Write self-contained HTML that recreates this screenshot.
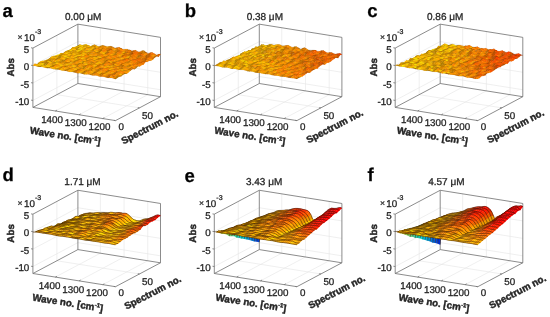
<!DOCTYPE html>
<html><head><meta charset="utf-8"><style>
html,body{margin:0;padding:0;background:#fff;width:550px;height:317px;overflow:hidden}
svg{display:block;filter:blur(0.4px)}
text{text-rendering:geometricPrecision}
text{font-family:"Liberation Sans",Arial,sans-serif;fill:#262626;stroke:#262626;stroke-width:0.3px}
.tk{font-size:9.8px}
.tt{font-size:10px}
.pl{font-size:18.5px;font-weight:bold;fill:#000}
.al{font-size:9.8px;font-weight:bold;stroke-width:0.42px}
.sup{font-size:7px}
.sup2{font-size:6px}
.tm{fill:#666;font-size:8.6px}
.ed{fill:none;stroke:#2a0c00;stroke-opacity:0.85;stroke-width:0.6}
.ed2{fill:none;stroke:#3a1200;stroke-opacity:0.3;stroke-width:0.4}
</style></head><body>
<svg width="550" height="317" viewBox="0 0 550 317">
<rect width="550" height="317" fill="#fff"/>
<g>
<line x1="32.9" y1="65.52" x2="77.9" y2="41.62" stroke="#e4e4e4" stroke-width="0.6"/>
<line x1="77.9" y1="41.62" x2="160.5" y2="54.82" stroke="#e4e4e4" stroke-width="0.6"/>
<line x1="32.9" y1="82.97" x2="77.9" y2="59.07" stroke="#e4e4e4" stroke-width="0.6"/>
<line x1="77.9" y1="59.07" x2="160.5" y2="72.27" stroke="#e4e4e4" stroke-width="0.6"/>
<line x1="32.9" y1="100.42" x2="77.9" y2="76.52" stroke="#e4e4e4" stroke-width="0.6"/>
<line x1="77.9" y1="76.52" x2="160.5" y2="89.72" stroke="#e4e4e4" stroke-width="0.6"/>
<line x1="100.37" y1="87.09" x2="100.37" y2="27.76" stroke="#e4e4e4" stroke-width="0.6"/>
<line x1="55.37" y1="110.99" x2="100.37" y2="87.09" stroke="#e4e4e4" stroke-width="0.6"/>
<line x1="124.07" y1="90.88" x2="124.07" y2="31.55" stroke="#e4e4e4" stroke-width="0.6"/>
<line x1="79.07" y1="114.78" x2="124.07" y2="90.88" stroke="#e4e4e4" stroke-width="0.6"/>
<line x1="147.78" y1="94.67" x2="147.78" y2="35.34" stroke="#e4e4e4" stroke-width="0.6"/>
<line x1="102.78" y1="118.57" x2="147.78" y2="94.67" stroke="#e4e4e4" stroke-width="0.6"/>
<line x1="56.89" y1="94.66" x2="56.89" y2="35.33" stroke="#e4e4e4" stroke-width="0.6"/>
<line x1="56.89" y1="94.66" x2="139.49" y2="107.86" stroke="#e4e4e4" stroke-width="0.6"/>
<line x1="32.9" y1="107.4" x2="115.5" y2="120.6" stroke="#6e6e6e" stroke-width="0.8"/>
<line x1="115.5" y1="120.6" x2="160.5" y2="96.7" stroke="#6e6e6e" stroke-width="0.8"/>
<line x1="160.5" y1="96.7" x2="77.9" y2="83.5" stroke="#6e6e6e" stroke-width="0.8"/>
<line x1="77.9" y1="83.5" x2="32.9" y2="107.4" stroke="#6e6e6e" stroke-width="0.8"/>
<line x1="32.9" y1="107.4" x2="32.9" y2="48.07" stroke="#6e6e6e" stroke-width="0.8"/>
<line x1="77.9" y1="83.5" x2="77.9" y2="24.17" stroke="#6e6e6e" stroke-width="0.8"/>
<line x1="160.5" y1="96.7" x2="160.5" y2="37.37" stroke="#6e6e6e" stroke-width="0.8"/>
<line x1="32.9" y1="48.07" x2="77.9" y2="24.17" stroke="#6e6e6e" stroke-width="0.8"/>
<line x1="77.9" y1="24.17" x2="160.5" y2="37.37" stroke="#6e6e6e" stroke-width="0.8"/>
<line x1="55.37" y1="110.99" x2="56.94" y2="110.15" stroke="#6e6e6e" stroke-width="0.8"/>
<text x="52.07" y="122.69" text-anchor="middle" class="tk">1400</text>
<line x1="79.07" y1="114.78" x2="80.65" y2="113.94" stroke="#6e6e6e" stroke-width="0.8"/>
<text x="75.77" y="126.48" text-anchor="middle" class="tk">1300</text>
<line x1="102.78" y1="118.57" x2="104.35" y2="117.73" stroke="#6e6e6e" stroke-width="0.8"/>
<text x="99.48" y="130.27" text-anchor="middle" class="tk">1200</text>
<line x1="115.5" y1="120.6" x2="113.85" y2="120.34" stroke="#6e6e6e" stroke-width="0.8"/>
<text x="121.3" y="130.1" text-anchor="middle" class="tk">0</text>
<line x1="139.49" y1="107.86" x2="137.83" y2="107.6" stroke="#6e6e6e" stroke-width="0.8"/>
<text x="147.49" y="118.86" text-anchor="middle" class="tk">50</text>
<line x1="32.9" y1="48.07" x2="31.08" y2="47.78" stroke="#6e6e6e" stroke-width="0.8"/>
<text x="29.3" y="52.67" text-anchor="end" class="tk">5</text>
<line x1="32.9" y1="65.52" x2="31.08" y2="65.23" stroke="#6e6e6e" stroke-width="0.8"/>
<text x="29.3" y="70.12" text-anchor="end" class="tk">0</text>
<line x1="32.9" y1="82.97" x2="31.08" y2="82.68" stroke="#6e6e6e" stroke-width="0.8"/>
<text x="29.3" y="87.57" text-anchor="end" class="tk">-5</text>
<line x1="32.9" y1="100.42" x2="31.08" y2="100.13" stroke="#6e6e6e" stroke-width="0.8"/>
<text x="29.3" y="105.02" text-anchor="end" class="tk">-10</text>
<path d="M75.8 48.8l2.3-3.4 2.1-1.1-2.4 2.5z" fill="#aa1"/>
<path d="M77.8 45.8l2.5-1.2 2 .7-2.4-1.1z" fill="#ea0"/>
<path d="M79.9 44.8l2.4.9 2.1-.8-2.5.6z" fill="#b80"/>
<path d="M81.9 45.5l2.4.8 2.1-2-2.4.3z" fill="#da0"/>
<path d="M84 46.1l2.5-.1 2-.4-2.4-1.5z" fill="#fc0"/>
<path d="M86.1 45.7l2.4-.7 2.1 1.7-2.5-1.4z" fill="#b80"/>
<path d="M88.1 45.2l2.4 1.7 2.1-1.5-2.4 1.5z" fill="#b80"/>
<path d="M90.2 46.7l2.4.8 2.1-2.9-2.4.6z" fill="#c90"/>
<path d="M92.3 47.4l2.4-.7 2.1-.9-2.4-1.4z" fill="#e90"/>
<path d="M94.3 46.4l2.5-.6 2 .9-2.4-1.2z" fill="#b80"/>
<path d="M96.4 46l2.4 1.1 2.1-1.1-2.5.9z" fill="#b80"/>
<path d="M98.4 46.9l2.4.9 2.1-2.6-2.4.6z" fill="#c80"/>
<path d="M100.5 47.6l2.4-.1 2.1-1.6-2.3-.9z" fill="#d80"/>
<path d="M102.6 47.3l2.5-.1 2-.4-2.4-1.1z" fill="#e80"/>
<path d="M104.6 46.9l2.4 1.6 2.2-2.1-2.5.1z" fill="#fa0"/>
<path d="M106.7 48.2l2.4 1.3 2.1-3.4-2.4.1z" fill="#d80"/>
<path d="M108.8 49.4l2.4-.6 2.1-1.7-2.4-1.2z" fill="#c70"/>
<path d="M110.8 48.5l2.7-.4 1.9.2-2.4-1.4z" fill="#e80"/>
<path d="M112.9 48l2.4 1.2 2.1-1.6-2.6.7z" fill="#b60"/>
<path d="M115 49l2.3 1.1 2.2-2.9-2.4.2z" fill="#d70"/>
<path d="M117.1 49.9l2.4-.6 2.1-.6-2.4-1.7z" fill="#f80"/>
<path d="M119.1 49l2.5-.4 2 1.4-2.4-1.5z" fill="#b60"/>
<path d="M121.2 48.8l2.4 1.3 2.1-.8-2.4.9z" fill="#b60"/>
<path d="M123.2 49.8l2.4 1.2 2.1-1.8-2.4-.2z" fill="#f90"/>
<path d="M125.3 50.8l2.5-.3 2 0-2.4-1.6z" fill="#e80"/>
<path d="M127.4 50.3l2.4-.5 2.1 1.6-2.6-1.1z" fill="#b60"/>
<path d="M129.4 50l2.4 1.5 2.2-1.1-2.5 1.1z" fill="#b60"/>
<path d="M131.5 51.2l2.4.8 2.1-1.7-2.4-.1z" fill="#e70"/>
<path d="M133.6 51.8l2.6-.5 1.9.6-2.4-1.8z" fill="#e70"/>
<path d="M135.6 51.2l2.5 1 2-.2-2.6-.1z" fill="#b60"/>
<path d="M137.7 51.9l2.4 2.3 2.1-3.5-2.5 1.1z" fill="#f80"/>
<path d="M139.8 54l2.3 1.1 2.1-4.6-2.3.1z" fill="#c70"/>
<path d="M141.9 55l2.3-1.1 2.1-1.5-2.3-1.9z" fill="#c70"/>
<path d="M143.9 53.7l2.5-.9 2 .7-2.4-1.4z" fill="#b60"/>
<path d="M145.9 52.9l2.4 1.6 2.2-1.7-2.6.9z" fill="#b60"/>
<path d="M148 54.3l2.4 1.1 2.1-3.1-2.4.3z" fill="#d60"/>
<path d="M150.1 55.2l2.4-.2 2.1-1.1-2.4-1.7z" fill="#f70"/>
<path d="M152.1 54.7l2.5.4 2.1 0-2.4-1.5z" fill="#f70"/>
<path d="M154.2 54.8l2.4 1.4 2.1-2-2.6 1z" fill="#d70"/>
<path d="M156.3 56l2.3.9 2.2-3-2.4.1z" fill="#d60"/>
<path class="ed2" d="M77.9 46.5l2.1-2 2 .8 2.1-.4 2.1-.5 2 1.2 2.1 1 2.1-1.1 2-.8 2.1 1.1 2.1.8 2-.5 2.1-.8 2 .7 2.1.8 2.1-.3 2-.3 2.1 1 2.1 1 2-.5 2.1-.4 2.1 1.4 2 1.2 2.1-.6 2.1-.1 2 1.3 2.1.7 2.1-.7 2-.1 2.1 1.4 2 .2 2.1-1.1 2.1-.1 2 1.6 2.1 1.1 2.1-.6 2-.4 2.1 1.4 2.1 1.2 2-.8 2.1-.3"/>
<path d="M73.9 49.5l2.3-3.1 2.1-.9-2.3 3.4z" fill="#bc2"/>
<path d="M75.9 46.9l2.5-.5 2-1.7-2.5.7z" fill="#b80"/>
<path d="M78 46.2l2.4 1.1 2.1-1.9-2.4-.8z" fill="#fc0"/>
<path d="M80.1 47.1l2.3.5 2.2-1.7-2.4-.8z" fill="#fc0"/>
<path d="M82.1 47.5l2.5-.6 2-1.3-2.4.1z" fill="#b80"/>
<path d="M84.2 46.7l2.4 0 2.1-1.5-2.4.2z" fill="#c80"/>
<path d="M86.2 46.5l2.4 1.1 2.2-1-2.4-1.6z" fill="#fb0"/>
<path d="M88.3 47.4l2.4.6 2.1-.8-2.4-.9z" fill="#fb0"/>
<path d="M90.4 47.8l2.6-.6 1.9-.9-2.5 1.2z" fill="#c80"/>
<path d="M92.4 47.2l2.4.5 2.2-1.8-2.5.2z" fill="#d80"/>
<path d="M94.5 47.4l2.4 1.1 2.1-1.7-2.4-1.1z" fill="#fb0"/>
<path d="M96.6 48.3l2.4-.1 2.1-.7-2.4-1z" fill="#e90"/>
<path d="M98.6 48l2.5-1.1 2.1.2-2.7.5z" fill="#b70"/>
<path d="M100.7 47.1l2.4 1.4 2.1-1.7-2.5.1z" fill="#e80"/>
<path d="M102.8 48.2l2.3 1.6 2.2-1.6-2.4-1.6z" fill="#f90"/>
<path d="M104.8 49.5l2.6-1 2 .8-2.4-1.4z" fill="#b70"/>
<path d="M106.9 48.8l2.4-.9 2.1.5-2.4 1.1z" fill="#c80"/>
<path d="M109 48.2l2.4 1.4 2.1-1.7-2.7.4z" fill="#e80"/>
<path d="M111 49.3l2.4 1.6 2.2-2.1-2.4-1.1z" fill="#f90"/>
<path d="M113.1 50.7l2.4.1 2.1-1.1-2.4-1.1z" fill="#fa0"/>
<path d="M115.2 50.6l2.4-.3 2.1-1.4-2.6.7z" fill="#c70"/>
<path d="M117.2 50.1l2.4 1 2.1-2.3-2.4-.1z" fill="#f80"/>
<path d="M119.3 50.9l2.4 1 2.1-2.1-2.4-1.2z" fill="#f80"/>
<path d="M121.4 51.7l2.4.2 2.1-1.2-2.4-1.2z" fill="#f90"/>
<path d="M123.4 51.6l2.4.8 2.1-2.2-2.4.2z" fill="#d70"/>
<path d="M125.5 52.2l2.4 1 2.1-3.3-2.4.1z" fill="#d70"/>
<path d="M127.6 53.1l2.3.1 2.2-2.1-2.4-1.3z" fill="#e70"/>
<path d="M129.6 53l2.7-1.1 1.8-.2-2.4-.8z" fill="#b60"/>
<path d="M131.7 51.9l2.5.3 2-1-2.6.6z" fill="#b50"/>
<path d="M133.7 51.9l2.4 1.3 2.2-1.3-2.4-.9z" fill="#f70"/>
<path d="M135.8 52.9l2.4.8 2.1.3-2.4-2.4z" fill="#f70"/>
<path d="M137.9 53.3l2.4-.7 2.1 2.4-2.6-.9z" fill="#b60"/>
<path d="M140 52.8l2.6.9 1.9-.1-2.4 1.5z" fill="#b60"/>
<path d="M142 53.7l2.4 2.2 2.1-3-2.4.4z" fill="#f90"/>
<path d="M144.1 55.7l2.4 0 2.1-1.5-2.4-1.5z" fill="#f80"/>
<path d="M146.1 55.4l2.5-1 2.1.7-2.4-1.2z" fill="#b60"/>
<path d="M148.2 54.6l2.4 1.2 2.1-1.1-2.5.6z" fill="#b50"/>
<path d="M150.3 55.6l2.3 1.4 2.2-2.3-2.4-.3z" fill="#f90"/>
<path d="M152.3 56.8l2.4 0 2.2-.9-2.4-1.4z" fill="#f90"/>
<path d="M154.4 56.6l2.6-.6 1.9.6-2.4-1z" fill="#b60"/>
<path class="ed2" d="M76 48.6l2.1-2.9 2.1-.8 2 .5 2.1.6 2.1-.3 2-.4 2.1 1.3 2 .6 2.1-.8 2.1-.4 2 .8 2.1.7 2.1-.3 2-.3 2.1 1.3 2.1 1 2-.7 2.1-.5 2.1.9 2 .9 2.1-.8 2.1-.1 2 .9 2.1.9 2-.4 2.1-.2 2.1 1.1 2 .5 2.1-.4 2.1.6 2 2 2.1.9 2.1-1.2 2-.6 2.1 1.2 2.1.9 2-.4 2.1.1 2.1 1.1 2 .7"/>
<path d="M72 49.2l2.4-2.2 2.1-.4-2.4 3z" fill="#bb1"/>
<path d="M74 47.3l2.4.8 2.2-2.1-2.5.5z" fill="#fb0"/>
<path d="M76.1 47.9l2.5-.3 2-.6-2.4-1.1z" fill="#fc0"/>
<path d="M78.2 47.4l2.4-.9 2.1.9-2.6-.6z" fill="#b80"/>
<path d="M80.2 46.7l2.4 1.3 2.2-1.4-2.5 1z" fill="#b80"/>
<path d="M82.3 47.8l2.4 1 2.1-2.5-2.4 0z" fill="#fb0"/>
<path d="M84.4 48.7l2.4-.4 2.1-1-2.4-1.1z" fill="#ea0"/>
<path d="M86.4 48.1l2.6 0 2-.4-2.5-.6z" fill="#b80"/>
<path d="M88.5 47.9l2.4 1 2.1-1.9-2.5.4z" fill="#d90"/>
<path d="M90.6 48.7l2.3.8 2.2-2.2-2.4-.5z" fill="#fb0"/>
<path d="M92.7 49.3l2.6-1 1.9-.1-2.4-1.1z" fill="#d90"/>
<path d="M94.7 48.3l2.5.2 2-.6-2.6.5z" fill="#b70"/>
<path d="M96.8 48.3l2.3 1.4 2.2-2.7-2.5.6z" fill="#e80"/>
<path d="M98.8 49.5l2.4 0 2.2-1.4-2.4-1.3z" fill="#f90"/>
<path d="M100.9 49.2l2.4-1.1 2.1 1.4-2.4-1.6z" fill="#b70"/>
<path d="M103 48.3l2.4 1.3 2.1-.9-2.4 1z" fill="#b60"/>
<path d="M105 49.3l2.4 1.3 2.1-2.5-2.4.4z" fill="#e80"/>
<path d="M107.1 50.4l2.4-.5 2.1-.6-2.4-1.4z" fill="#e70"/>
<path d="M109.1 49.6l2.5.8 2.1.3-2.4-1.7z" fill="#b60"/>
<path d="M111.2 50l2.4 1.9 2.1-1.5-2.5 0z" fill="#f90"/>
<path d="M113.3 51.7l2.4.9 2.1-2.7-2.4.3z" fill="#d80"/>
<path d="M115.4 52.4l2.4-.5 2.1-1.1-2.4-1.1z" fill="#c70"/>
<path d="M117.4 51.6l2.5.2 2-.2-2.4-1z" fill="#b60"/>
<path d="M119.5 51.5l2.4 1.5 2.1-1.5-2.5-.2z" fill="#f80"/>
<path d="M121.5 52.8l2.4.8 2.2-1.5-2.4-.8z" fill="#fb0"/>
<path d="M123.6 53.4l2.6-.8 1.9.3-2.4-1.1z" fill="#b70"/>
<path d="M125.7 52.7l2.5.7 2-.5-2.7 0z" fill="#b60"/>
<path d="M127.7 53.1l2.4 1.2 2.1-2.5-2.5.9z" fill="#c70"/>
<path d="M129.8 54.2l2.4-.5 2.1-1.9-2.4-.2z" fill="#b60"/>
<path d="M131.9 53.5l2.4 0 2.1-.6-2.4-1.3z" fill="#f70"/>
<path d="M133.9 53.2l2.4 1.9 2.2-1.7-2.4-.8z" fill="#f70"/>
<path d="M136 54.9l2.4 1.3 2.1-3.4-2.4.3z" fill="#d70"/>
<path d="M138.1 56l2.4-.5 2.1-1.8-2.4-1.1z" fill="#c60"/>
<path d="M140.1 55.2l2.4.5 2.1-.1-2.3-2.1z" fill="#f70"/>
<path d="M142.2 55.4l2.4 1.9 2.1-2-2.4 0z" fill="#f90"/>
<path d="M144.3 57.2l2.3.3 2.1-3-2.3.6z" fill="#b60"/>
<path d="M146.4 57.3l2.3-.6 2.1-1.2-2.3-1.1z" fill="#c60"/>
<path d="M148.4 56.4l2.4.8 2.1-.5-2.4-1.5z" fill="#f70"/>
<path d="M150.4 56.9l2.4 1.4 2.2-1.8-2.5-.1z" fill="#f90"/>
<path d="M152.5 58.2l2.4-.5 2.1-1.6-2.4.1z" fill="#b60"/>
<path class="ed2" d="M74.2 49.3l2-2.6 2.1-.5 2 .8 2.1.3 2.1-.7 2-.1 2.1.8 2.1.4 2-.6 2.1.3 2.1.8 2-.3 2.1-.8 2.1 1.1 2 1.3 2.1-.7 2.1-.6 2 1.1 2.1 1.3 2-.1 2.1-.5 2.1.8 2 .8 2.1 0 2.1.5 2 .8 2.1 0 2.1-1 2 0 2.1 1 2.1.5 2-.5 2.1.9 2.1 1.8 2-.2 2.1-.7 2.1.8 2 1.2 2.1-.2 2.1-.3"/>
<path d="M70.2 50.1l2.3-2.8 2.1-.2-2.4 2.2z" fill="#cb1"/>
<path d="M72.2 47.5l2.4 1.2 2.1-.9-2.4-.8z" fill="#fb0"/>
<path d="M74.2 48.5l2.4.6 2.2-1.9-2.5.3z" fill="#d90"/>
<path d="M76.3 48.9l2.4-.4 2.1-1.9-2.4.4z" fill="#b80"/>
<path d="M78.4 48.2l2.4 1.1 2.1-1.6-2.4-1.2z" fill="#fc0"/>
<path d="M80.4 49l2.4 1.5 2.2-2-2.4-1.1z" fill="#fc0"/>
<path d="M82.5 50.4l2.7-1.4 1.8-1.1-2.4.3z" fill="#c90"/>
<path d="M84.6 49l2.4-1.3 2.1.1-2.5 0z" fill="#c80"/>
<path d="M86.6 47.9l2.4 1.6 2.2-.8-2.5-1.1z" fill="#fa0"/>
<path d="M88.7 49.1l2.4 2 2.1-1.9-2.4-.9z" fill="#fb0"/>
<path d="M90.8 50.9l2.4-.5 2-2.3-2.3.8z" fill="#b80"/>
<path d="M92.9 50.2l2.4-.6 2-1.4-2.3-.2z" fill="#b70"/>
<path d="M94.9 49.3l2.4 1.9 2.1-1.8-2.4-1.4z" fill="#f90"/>
<path d="M97 51l2.3.6 2.2-2.6-2.4.1z" fill="#d80"/>
<path d="M99.1 51.5l2.4-1.1 2-2.2-2.4.7z" fill="#b70"/>
<path d="M101.1 50.2l2.4.1 2.1-1-2.4-1.2z" fill="#f90"/>
<path d="M103.1 50l2.4 1.7 2.2-1.4-2.4-1.3z" fill="#f80"/>
<path d="M105.2 51.5l2.4.4 2.1-2.4-2.4.5z" fill="#b70"/>
<path d="M107.3 51.8l2.4-.8 2.1-1-2.4-.7z" fill="#b60"/>
<path d="M109.3 50.7l2.4 1.6 2.2-.6-2.4-1.9z" fill="#f80"/>
<path d="M111.4 52l2.4 1.9 2.1-1.6-2.4-1z" fill="#f90"/>
<path d="M113.5 53.8l2.4-.5 2.1-1.9-2.4.6z" fill="#c80"/>
<path d="M115.6 53.1l2.6-1 1.9-.7-2.5-.1z" fill="#c70"/>
<path d="M117.6 52l2.4 1.5 2.1-.7-2.4-1.6z" fill="#f70"/>
<path d="M119.7 53.2l2.4 1.4 2.1-1.3-2.4-.9z" fill="#f90"/>
<path d="M121.7 54.4l2.4.1 2.1-1.9-2.4.4z" fill="#b70"/>
<path d="M123.8 54.3l2.4.1 2.1-1.3-2.4-.7z" fill="#d70"/>
<path d="M125.9 54.1l2.4.9 2.1-1-2.4-1.2z" fill="#f90"/>
<path d="M127.9 54.8l2.4.4 2.1-1.9-2.4.4z" fill="#b60"/>
<path d="M130 55l2.4-.3 2.1-1.6-2.4 0z" fill="#b50"/>
<path d="M132.1 54.4l2.3 1.3 2.2-.9-2.4-1.9z" fill="#f70"/>
<path d="M134.1 55.4l2.4 2.2 2.2-1.7-2.4-1.4z" fill="#f80"/>
<path d="M136.2 57.4l2.4.2 2.1-2.5-2.4.5z" fill="#b70"/>
<path d="M138.3 57.5l2.4-.9 2.1-1.2-2.4-.5z" fill="#b60"/>
<path d="M140.3 56.3l2.4.8 2.1 0-2.3-1.9z" fill="#f70"/>
<path d="M142.4 56.7l2.4 1.7 2.1-1.2-2.5-.5z" fill="#f80"/>
<path d="M144.5 58.2l2.3.2 2.1-2.2-2.4.7z" fill="#b60"/>
<path d="M146.5 58.2l2.5-.3 2-1-2.4-.8z" fill="#c60"/>
<path d="M148.6 57.5l2.4 1.4 2.1-.8-2.4-1.5z" fill="#f70"/>
<path d="M150.6 58.7l2.4 1 2.1-2.4-2.4.5z" fill="#d70"/>
<path class="ed2" d="M72.3 49l2-1.7 2.1.5 2.1-.5 2-.5 2.1.9 2.1.8 2-.5 2.1-.1 2.1.7 2 .6 2.1-.9 2.1 0 2 1.1 2.1-.2 2-.8 2.1.9 2.1 1 2-.7 2.1.5 2.1 1.5 2 .7 2.1-.7 2.1-.1 2 1.2 2.1.6 2.1-.6 2 .4 2.1.9 2.1-.6 2-.2 2.1 1.6 2.1 1.1 2-.7 2.1.2 2 1.6 2.1.2 2.1-.8 2 .5 2.1 1.1 2.1-.5"/>
<path d="M68.3 51.3l2.6-1.6 1.8-2.4-2.4 3z" fill="#ba1"/>
<path d="M70.3 49.7l2.5-1.5 2 .2-2.4-1.1z" fill="#d90"/>
<path d="M72.4 48.4l2.5-.4 2 .8-2.7-.5z" fill="#b80"/>
<path d="M74.4 48.2l2.4 1.5 2.2-1.6-2.6.9z" fill="#b80"/>
<path d="M76.5 49.4l2.4.6 2.1-1-2.4-1.1z" fill="#fd0"/>
<path d="M78.6 49.7l2.4-.7 2.1 1.3-2.4-1.6z" fill="#b80"/>
<path d="M80.6 49.3l2.5-.5 2 .1-2.3 1.6z" fill="#c80"/>
<path d="M82.7 49.2l2.4.9 2.1-2.3-2.6 1.1z" fill="#c80"/>
<path d="M84.8 49.8l2.3 1.2 2.2-1.9-2.4-1.4z" fill="#fa0"/>
<path d="M86.8 50.8l2.5 0 2 0-2.3-1.9z" fill="#fb0"/>
<path d="M88.9 50.6l2.5-.6 2 0-2.4 1.1z" fill="#b80"/>
<path d="M90.9 50.3l2.4.9 2.2-2-2.7.8z" fill="#c80"/>
<path d="M93 50.9l2.4 1.5 2.1-1.5-2.3-1.9z" fill="#fa0"/>
<path d="M95.1 52.2l2.4.4 2.1-1.4-2.4-.6z" fill="#fb0"/>
<path d="M97.2 52.4l2.4-.7 2-1.8-2.6 1.4z" fill="#d90"/>
<path d="M99.2 51.6l2.4-.3 2.1-1.3-2.4-.2z" fill="#b70"/>
<path d="M101.3 51l2.4 1.7 2.1-1.3-2.4-1.7z" fill="#f80"/>
<path d="M103.3 52.4l2.4.8 2.2-1.6-2.4-.5z" fill="#fa0"/>
<path d="M105.4 53l2.4-.5 2.1-1.9-2.4.8z" fill="#c70"/>
<path d="M107.5 52.3l2.4.4 2.1-.6-2.4-1.6z" fill="#f90"/>
<path d="M109.5 52.3l2.4 1.7 2.1-.3-2.3-2z" fill="#f80"/>
<path d="M111.6 53.7l2.4 1.5 2.1-2.4-2.5.6z" fill="#e90"/>
<path d="M113.7 55l2.4-.4 2-2.7-2.3.8z" fill="#b70"/>
<path d="M115.8 54.4l2.3-.2 2.2-1-2.4-1.4z" fill="#f80"/>
<path d="M117.8 53.8l2.4 1.1 2.1-.5-2.4-1.5z" fill="#f80"/>
<path d="M119.9 54.6l2.3 1.6 2.2-2.1-2.4-.1z" fill="#fa0"/>
<path d="M121.9 56.1l2.4.6 2.1-2.8-2.3 0z" fill="#d70"/>
<path d="M124 56.5l2.4-.1 2.1-1.8-2.4-.8z" fill="#d70"/>
<path d="M126.1 56.1l2.3.4 2.2-1.7-2.4-.4z" fill="#d70"/>
<path d="M128.1 56.3l2.4.9 2.1-2.9-2.4.3z" fill="#c70"/>
<path d="M130.2 57.1l2.4.3 2.1-2-2.4-1.3z" fill="#e70"/>
<path d="M132.2 57.1l2.5 0 2.1.3-2.4-2.3z" fill="#f80"/>
<path d="M134.3 56.8l2.4 1.3 2.1-.8-2.6-.1z" fill="#b60"/>
<path d="M136.4 57.8l2.4 1.8 2.1-3.4-2.4.8z" fill="#d80"/>
<path d="M138.5 59.4l2.3.3 2.1-3-2.3-.7z" fill="#d70"/>
<path d="M140.5 59.6l2.4-.7 2.1-.8-2.3-1.6z" fill="#e80"/>
<path d="M142.6 58.6l2.6-.2 1.9-.3-2.5-.2z" fill="#b60"/>
<path d="M144.6 58.3l2.4 1.2 2.2-2-2.5.4z" fill="#d70"/>
<path d="M146.7 59.2l2.4 1.4 2.1-2-2.4-1.3z" fill="#f80"/>
<path d="M148.8 60.4l2.4.3 2.1-1.3-2.4-1.1z" fill="#f90"/>
<path class="ed2" d="M70.4 50l2.1-2.4 2 .8 2.1.4 2.1-.6 2 .8 2.1 1.2 2.1-1.3 2-.9 2.1 1.2 2 1.6 2.1-.7 2.1-.8 2 1.6 2.1.4 2.1-1.2 2-.1 2.1 1.4 2.1.2 2-.8 2.1 1.2 2.1 1.6 2-.6 2.1-.9 2.1 1.1 2 1.1 2.1-.1 2.1-.1 2 .6 2.1.2 2.1-.5 2 1 2.1 1.9 2 0 2.1-1 2.1.5 2 1.3 2.1 0 2.1-.5 2 1 2.1.8"/>
<path d="M66.4 52.3l2.4-2.3 2-.6-2.4 2z" fill="#ba1"/>
<path d="M68.4 50.4l2.6-.7 1.9-1.5-2.5 1.7z" fill="#c90"/>
<path d="M70.5 49.6l2.4 1.3 2.1-2.7-2.4-.1z" fill="#fb0"/>
<path d="M72.6 50.7l2.3.5 2.2-1.9-2.4-1.3z" fill="#fb0"/>
<path d="M74.6 51.1l2.7-1.1 1.8-.3-2.4-.6z" fill="#b80"/>
<path d="M76.7 50.1l2.5.1 2-1-2.6.4z" fill="#b80"/>
<path d="M78.7 49.9l2.4 1.7 2.2-2.6-2.4 0z" fill="#fd0"/>
<path d="M80.8 51.4l2.4.4 2.1-2.1-2.3-.9z" fill="#ea0"/>
<path d="M82.9 51.6l2.5-1.4 2 .6-2.4-1.3z" fill="#b80"/>
<path d="M84.9 50.4l2.5 1 2.1-.9-2.7.3z" fill="#b70"/>
<path d="M87 51.2l2.4 1.4 2.1-2.4-2.4.1z" fill="#fc0"/>
<path d="M89.1 52.4l2.4 0 2.1-1.6-2.4-.8z" fill="#e90"/>
<path d="M91.1 52.2l2.6-.9 2 .9-2.4-1.6z" fill="#b70"/>
<path d="M93.2 51.4l2.4 1.5 2.1-.6-2.6-.3z" fill="#b70"/>
<path d="M95.3 52.7l2.4 1 2.1-2.4-2.5.8z" fill="#c80"/>
<path d="M97.4 53.6l2.3-.3 2.1-2.4-2.3.2z" fill="#b70"/>
<path d="M99.4 53.1l2.4.7 2.1-1.4-2.4-1.7z" fill="#fa0"/>
<path d="M101.5 53.5l2.3 1.4 2.2-2.1-2.4-.7z" fill="#fb0"/>
<path d="M103.6 54.8l2.3-.1 2.1-2.7-2.3.6z" fill="#b70"/>
<path d="M105.6 54.5l2.4-.6 2.1-1.6-2.4-.4z" fill="#b60"/>
<path d="M107.7 53.6l2.3 1.6 2.2-1.5-2.4-1.6z" fill="#f80"/>
<path d="M109.7 54.9l2.4 1.9 2.2-2-2.4-1.4z" fill="#fa0"/>
<path d="M111.8 56.6l2.4-.5 2.1-1.9-2.4.4z" fill="#b80"/>
<path d="M113.9 56l2.4-.6 2.1-1.7-2.4.3z" fill="#b70"/>
<path d="M115.9 55.1l2.4 1.5 2.1-2-2.3-1z" fill="#f90"/>
<path d="M118 56.3l2.4 1 2.1-1.4-2.4-1.6z" fill="#fa0"/>
<path d="M120.1 57.1l2.4-1.5 2.1.8-2.5-.7z" fill="#b70"/>
<path d="M122.1 55.9l2.5-.4 2 .6-2.4.6z" fill="#b60"/>
<path d="M124.2 55.7l2.4 2 2.1-1.5-2.4-.4z" fill="#f80"/>
<path d="M126.2 57.4l2.4 1 2.2-1.5-2.4-1z" fill="#fb0"/>
<path d="M128.3 58.2l2.7-.9 1.8-.3-2.4-.4z" fill="#b70"/>
<path d="M130.4 57.4l2.4 1 2.1-1.6-2.5 0z" fill="#e70"/>
<path d="M132.4 58.1l2.4 1.7 2.2-2-2.4-1.3z" fill="#f80"/>
<path d="M134.5 59.6l2.6-.9 1.9.6-2.4-1.8z" fill="#e80"/>
<path d="M136.6 58.8l2.4-.7 2.1 1.4-2.5.1z" fill="#b70"/>
<path d="M138.6 58.3l2.4 1.5 2.2-1.3-2.5 1.2z" fill="#b60"/>
<path d="M140.7 59.6l2.4.7 2.1-2.1-2.4.1z" fill="#d70"/>
<path d="M142.8 60.1l2.5-.6 2-.3-2.4-1.2z" fill="#d60"/>
<path d="M144.8 59.2l2.5-.1 2 1.4-2.4-1.6z" fill="#b50"/>
<path d="M146.9 59.2l2.4 1.8 2.1-.6-2.5.2z" fill="#b50"/>
<path class="ed2" d="M68.5 51.1l2.1-1.5 2.1-1.2 2-.1 2.1 1.1 2 .3 2.1-.4 2.1-.2 2 .7 2.1.9 2.1-.1 2-.3 2.1.6 2.1 1.2 2 .2 2.1-.9 2.1-.4 2 1.4 2.1.5 2.1-.7 2 .2 2.1 1.3 2.1 1.2 2-.6 2.1-.4 2.1.7 2 1.3 2.1.5 2-.3 2.1.1 2.1.7 2 .2 2.1-.3 2.1 1 2 1.5 2.1.1 2.1-.8 2-.3 2.1.9 2.1 1.1 2 .1"/>
<path d="M64.5 53l2.4-2.3 2.1-.6-2.4 2.4z" fill="#cb1"/>
<path d="M66.5 51.1l2.4.9 2.1-2.6-2.4.6z" fill="#da0"/>
<path d="M68.6 51.8l2.4.2 2.1-1.5-2.3-1.3z" fill="#fc0"/>
<path d="M70.7 51.8l2.4-1.4 2.1.5-2.4-.6z" fill="#b80"/>
<path d="M72.7 50.6l2.5.9 2.1-1.6-2.5 1.3z" fill="#b80"/>
<path d="M74.8 51.2l2.4 1.2 2.1-2.6-2.4-.1z" fill="#fb0"/>
<path d="M76.9 52.2l2.4-.1 2.1-.8-2.4-1.7z" fill="#fd0"/>
<path d="M78.9 51.8l2.4-1.4 2.2 1.1-2.7-.3z" fill="#b80"/>
<path d="M81 50.7l2.4.9 2.1-1.3-2.4 1.5z" fill="#b70"/>
<path d="M83.1 51.3l2.3 1.7 2.2-1.9-2.4-1z" fill="#fa0"/>
<path d="M85.1 52.8l2.4.2 2.2-.7-2.4-1.4z" fill="#fc0"/>
<path d="M87.2 52.8l2.4-1.1 2.1.4-2.6.3z" fill="#b80"/>
<path d="M89.3 52l2.4.8 2.1-1.4-2.6 1z" fill="#b70"/>
<path d="M91.3 52.5l2.4 1.7 2.2-1.6-2.4-1.4z" fill="#f90"/>
<path d="M93.4 54l2.5-.1 2-.5-2.4-1.1z" fill="#e90"/>
<path d="M95.5 53.7l2.5-.9 2 .2-2.6.6z" fill="#b70"/>
<path d="M97.5 53.1l2.4 1.2 2.2-.8-2.5-.8z" fill="#f90"/>
<path d="M99.6 54l2.4 1.3 2.1-.6-2.4-1.5z" fill="#f90"/>
<path d="M101.7 55l2.4-.9 2.1.2-2.7.4z" fill="#b70"/>
<path d="M103.7 54.4l2.5.2 2-1.1-2.4 1.1z" fill="#b70"/>
<path d="M105.8 54.3l2.4 1.5 2.1-.8-2.4-1.7z" fill="#f80"/>
<path d="M107.8 55.4l2.5 1.2 2.1 0-2.4-2z" fill="#f90"/>
<path d="M109.9 56.4l2.5-.9 2 .3-2.4.9z" fill="#c80"/>
<path d="M112 55.8l2.6-.4 1.9-.4-2.5 1.1z" fill="#c70"/>
<path d="M114 55.5l2.4 1.5 2.2-.7-2.4-1.5z" fill="#f80"/>
<path d="M116.1 56.7l2.4 1.3 2.1-1-2.4-1z" fill="#f90"/>
<path d="M118.2 57.8l2.4.1 2.1-2.1-2.6 1.1z" fill="#c70"/>
<path d="M120.3 57.7l2.3.1 2.1-2.1-2.3-.1z" fill="#c60"/>
<path d="M122.3 57.5l2.4 1.6 2.1-1.7-2.3-1.9z" fill="#f80"/>
<path d="M124.4 58.9l2.4.8 2.1-1.7-2.4-.9z" fill="#fb0"/>
<path d="M126.5 59.5l2.3-.3 2.1-2-2.4.6z" fill="#b70"/>
<path d="M128.5 59l2.4.3 2.1-1.2-2.4-1z" fill="#f90"/>
<path d="M130.6 59l2.4 1.1 2.1-.6-2.4-1.7z" fill="#f80"/>
<path d="M132.6 59.9l2.5.3 2-1.5-2.6.7z" fill="#b70"/>
<path d="M134.7 60l2.5-.5 2-1.2-2.4.2z" fill="#c60"/>
<path d="M136.8 59.3l2.4.6 2.1-.3-2.4-1.5z" fill="#f70"/>
<path d="M138.8 59.5l2.4 1.8 2.2-1.3-2.5-.8z" fill="#f70"/>
<path d="M140.9 61.1l2.4 1.2 2.1-3.2-2.4.6z" fill="#d70"/>
<path d="M143 62.1l2.3-.1 2.1-2.8-2.3-.2z" fill="#b60"/>
<path d="M145 61.8l2.4.3 2.1-1.4-2.3-1.7z" fill="#f80"/>
<path class="ed2" d="M66.6 52.2l2.1-1.9 2.1-.8 2 1.1 2.1.3 2.1-.9 2-.1 2.1 1.4 2.1.2 2-1.1 2.1.8 2.1 1.1 2-.2 2.1-.6 2.1 1.1 2 .8 2.1-.4 2.1.5 2 1.1 2.1-.2 2.1-.8 2 1.3 2.1 1.6 2-.7 2.1-.7 2.1 1.2 2 .7 2.1-1.1 2.1-.1 2 1.6 2.1.7 2.1-.7 2 .7 2.1 1.4 2.1-.7 2-.4 2.1 1.1 2.1.5 2-.7 2.1 0 2 1.4"/>
<path d="M62.7 54l2.3-2.3 2.1-.8-2.4 2.2z" fill="#cb0"/>
<path d="M64.7 52.1l2.6-.3 1.9-.1-2.4-1z" fill="#ea0"/>
<path d="M66.7 51.6l2.5.9 2.1-.9-2.6-.2z" fill="#b80"/>
<path d="M68.8 52.3l2.4 1.3 2.1-3.1-2.4.9z" fill="#d90"/>
<path d="M70.9 53.5l2.4-.1 2.1-2.4-2.4-.7z" fill="#d90"/>
<path d="M73 53.2l2.5-.7 2-.4-2.4-1.2z" fill="#d90"/>
<path d="M75 52.3l2.4.6 2.1-1.2-2.6.3z" fill="#b80"/>
<path d="M77.1 52.7l2.3.9 2.1-3.1-2.4 1z" fill="#c80"/>
<path d="M79.2 53.5l2.3-.1 2.1-2.2-2.3-.8z" fill="#d80"/>
<path d="M81.2 53.2l2.5-.3 2-.1-2.4-1.8z" fill="#fb0"/>
<path d="M83.3 52.6l2.4 1 2.1-.9-2.6-.2z" fill="#b70"/>
<path d="M85.3 53.3l2.4 1.2 2.1-2.7-2.4.7z" fill="#d80"/>
<path d="M87.4 54.4l2.4.1 2.1-2.1-2.4-.7z" fill="#d80"/>
<path d="M89.5 54.3l2.6-.7 1.9.4-2.4-1.8z" fill="#e90"/>
<path d="M91.5 53.5l2.4 1.3 2.1-1.2-2.6.3z" fill="#b70"/>
<path d="M93.6 54.6l2.4 2 2.1-3.6-2.4.3z" fill="#f90"/>
<path d="M95.7 56.5l2.3-.2 2.2-2.4-2.4-1.1z" fill="#d80"/>
<path d="M97.7 56.1l2.4-1.9 2.1.8-2.4-1.3z" fill="#b70"/>
<path d="M99.8 54.5l2.5.6 2-.8-2.4 1z" fill="#b60"/>
<path d="M101.8 54.8l2.4 1.9 2.2-2.4-2.4-.2z" fill="#fa0"/>
<path d="M103.9 56.5l2.4.6 2.1-1.7-2.3-1.3z" fill="#f90"/>
<path d="M106 56.9l2.6-.6 1.9.1-2.4-1.2z" fill="#b70"/>
<path d="M108 56.3l2.5.3 2.1-.9-2.6.9z" fill="#b60"/>
<path d="M110.1 56.4l2.4 1.7 2.1-2.7-2.4.1z" fill="#f90"/>
<path d="M112.2 57.9l2.3.9 2.2-2.2-2.4-1.4z" fill="#f80"/>
<path d="M114.2 58.6l2.5-.2 2.1-.7-2.4-1.3z" fill="#e80"/>
<path d="M116.3 58.1l2.5.3 2-.9-2.5-.1z" fill="#b60"/>
<path d="M118.4 58.1l2.3 1.5 2.2-2.2-2.4-.1z" fill="#fa0"/>
<path d="M120.4 59.3l2.4.8 2.2-1.3-2.4-1.6z" fill="#fa0"/>
<path d="M122.5 59.9l2.5-1 2 .5-2.4-.9z" fill="#b70"/>
<path d="M124.6 59.1l2.4-.7 2.1.5-2.5.8z" fill="#b60"/>
<path d="M126.6 58.7l2.4 1.3 2.2-1-2.6-.3z" fill="#b60"/>
<path d="M128.7 59.7l2.4 1.2 2.1-1-2.4-1.2z" fill="#f80"/>
<path d="M130.8 60.7l2.6-.6 1.9-.2-2.5-.3z" fill="#b60"/>
<path d="M132.8 60.1l2.6 0 1.9-.9-2.5.9z" fill="#b60"/>
<path d="M134.9 59.9l2.4 1 2.1-1.3-2.4-.6z" fill="#f70"/>
<path d="M136.9 60.6l2.4 1.4 2.2-1-2.4-1.7z" fill="#f70"/>
<path d="M139 61.7l2.4.7 2.1-.4-2.4-1.3z" fill="#f80"/>
<path d="M141.1 62.1l2.4-.8 2.1.4-2.5.5z" fill="#b60"/>
<path d="M143.1 61.6l2.6.5 2-.3-2.7-.2z" fill="#b50"/>
<path class="ed2" d="M64.8 52.8l2-1.8 2.1.7 2.1 0 2-1.1 2.1.6 2.1.9 2-.3 2.1-1.1 2.1.6 2 1.4 2.1 0 2.1-.7 2 .5 2.1 1.4 2.1-.3 2-.5 2.1.9 2 1 2.1-.6 2.1 0 2 1.1 2.1.8 2.1-.5 2-.3 2.1 1.2 2.1 1 2-.1 2.1-.1 2.1 1.3 2 .6 2.1-.5 2.1.1 2 .8 2.1.1 2-.6 2.1.3 2.1 1.4 2 1 2.1-.3 2.1.1"/>
<path d="M60.8 54.6l2.6-1.2 1.8-1.6-2.4 2.3z" fill="#ba0"/>
<path d="M62.8 53.6l2.7-1.2 1.8-.9-2.4.2z" fill="#c80"/>
<path d="M64.9 52.4l2.4.4 2.1-.6-2.4-.9z" fill="#fb0"/>
<path d="M66.9 52.5l2.4 1.6 2.2-.7-2.4-1.5z" fill="#fb0"/>
<path d="M69 53.9l2.5-.1 2-.7-2.5 0z" fill="#b80"/>
<path d="M71.1 53.7l2.6-.6 1.9-.9-2.6 1.1z" fill="#c90"/>
<path d="M73.1 53l2.4.6 2.2-1-2.5-.6z" fill="#ea0"/>
<path d="M75.2 53.3l2.4 1.1 2.1-1.1-2.4-1z" fill="#fb0"/>
<path d="M77.3 54.1l2.4.4 2.1-1.5-2.5 0z" fill="#d90"/>
<path d="M79.3 54.4l2.5-.4 2-1.5-2.4.3z" fill="#b80"/>
<path d="M81.4 53.8l2.4 1 2.1-1.5-2.4-1z" fill="#fb0"/>
<path d="M83.4 54.5l2.4 1.6 2.2-1.9-2.4-1.2z" fill="#fa0"/>
<path d="M85.5 55.9l2.4-.3 2.1-1.5-2.4-.2z" fill="#b80"/>
<path d="M87.6 55.5l2.6-1.1 1.9-1-2.5.6z" fill="#c80"/>
<path d="M89.6 54.4l2.4 1.1 2.2-.9-2.4-1.3z" fill="#f90"/>
<path d="M91.7 55.1l2.4 1.6 2.1-.3-2.4-2.2z" fill="#f90"/>
<path d="M93.8 56.4l2.4.6 2.1-1.1-2.6.3z" fill="#b80"/>
<path d="M95.9 56.9l2.4-.5 2-2-2.5 1.8z" fill="#d80"/>
<path d="M97.9 56.3l2.4.6 2.1-2.1-2.4-.6z" fill="#e80"/>
<path d="M100 56.6l2.3 1.4 2.2-1.6-2.4-1.8z" fill="#f80"/>
<path d="M102 57.8l2.4.1 2.2-1.1-2.4-.7z" fill="#d80"/>
<path d="M104.1 57.7l2.4.1 2.1-1.7-2.5.5z" fill="#b70"/>
<path d="M106.2 57.5l2.3 1.4 2.2-2.6-2.4-.3z" fill="#f90"/>
<path d="M108.2 58.7l2.4 1.6 2.2-2.6-2.4-1.6z" fill="#f80"/>
<path d="M110.3 60.2l2.4-.1 2.1-1.6-2.4-1z" fill="#d90"/>
<path d="M112.4 59.9l2.4-.5 2.1-1.4-2.5.2z" fill="#c80"/>
<path d="M114.4 59.2l2.4 1 2.1-2.2-2.3-.2z" fill="#f90"/>
<path d="M116.5 60l2.4 1 2.1-1.8-2.4-1.4z" fill="#f90"/>
<path d="M118.6 60.8l2.4.1 2.1-1.1-2.4-.8z" fill="#e90"/>
<path d="M120.6 60.7l2.5-.3 2-1.4-2.5.6z" fill="#c70"/>
<path d="M122.7 60.2l2.4.6 2.1-2.2-2.4.2z" fill="#c60"/>
<path d="M124.7 60.5l2.4 1.7 2.2-2.6-2.4-1.2z" fill="#f70"/>
<path d="M126.8 62.1l2.4-.1 2.1-1.5-2.3-1.1z" fill="#e80"/>
<path d="M128.9 61.9l2.6-1.2 1.9-.7-2.5.3z" fill="#c70"/>
<path d="M130.9 60.8l2.4 1.4 2.2-2.4-2.4 0z" fill="#f70"/>
<path d="M133 61.9l2.4 1.9 2.1-3.3-2.3-.9z" fill="#f70"/>
<path d="M135.1 63.7l2.4 0 2.1-2.1-2.4-1.3z" fill="#d70"/>
<path d="M137.2 63.5l2.4-.4 2.1-1.1-2.4-.6z" fill="#c60"/>
<path d="M139.2 62.8l2.4.9 2.1-2.2-2.4.3z" fill="#d60"/>
<path d="M141.3 63.5l2.3 1.3 2.2-3.1-2.4-.4z" fill="#e70"/>
<path class="ed2" d="M62.9 53.8l2.1-1.8 2-.4 2.1.6 2.1 1.1 2-.2 2.1-.8 2.1.3 2 .7 2.1-.2 2.1-.5 2 .7 2.1.9 2 0 2.1-.6 2.1.9 2 1.8 2.1-.3 2.1-1.5 2 .4 2.1 1.5 2.1.4 2-.6 2.1.2 2.1 1.4 2 .7 2.1-.4 2.1 0 2 1.2 2.1.5 2-.7 2.1-.4 2.1 1 2 .9 2.1-.5 2.1-.2 2 .7 2.1 1.1 2.1.4 2-.5 2.1.2"/>
<path d="M58.9 54.5l2.4-1.6 2.1.5-2.4 1.4z" fill="#b90"/>
<path d="M60.9 53.2l2.4.9 2.1-1.8-2.4 1.4z" fill="#b80"/>
<path d="M63 53.9l2.4 1.1 2.1-2.6-2.4-.3z" fill="#fb0"/>
<path d="M65.1 54.8l2.4-.4 2.1-.6-2.4-1.6z" fill="#fc0"/>
<path d="M67.1 54.2l2.5-1 2 .4-2.6.4z" fill="#b80"/>
<path d="M69.2 53.4l2.4 1.3 2.1-1.8-2.6.6z" fill="#d90"/>
<path d="M71.2 54.4l2.4 1.5 2.2-2.8-2.4-.4z" fill="#fb0"/>
<path d="M73.3 55.7l2.4 0 2.1-1.7-2.3-1z" fill="#ea0"/>
<path d="M75.4 55.5l2.6-1.1 1.9-.2-2.4-.4z" fill="#b80"/>
<path d="M77.4 54.5l2.5.5 2.1-1.3-2.6.4z" fill="#b70"/>
<path d="M79.5 54.7l2.4 1.8 2.1-2.1-2.4-1z" fill="#fa0"/>
<path d="M81.6 56.2l2.4.2 2.1-.6-2.4-1.6z" fill="#fc0"/>
<path d="M83.6 56.2l2.4-1.5 2.2.6-2.5.8z" fill="#c80"/>
<path d="M85.7 55l2.4.7 2.1-1.4-2.4 1.3z" fill="#b70"/>
<path d="M87.8 55.4l2.4 1.3 2.1-1.6-2.4-1z" fill="#fa0"/>
<path d="M89.8 56.4l2.4.8 2.2-.8-2.4-1.5z" fill="#fa0"/>
<path d="M91.9 57l2.5.2 2-.5-2.4-.6z" fill="#b70"/>
<path d="M94 57l2.4.5 2.1-1.4-2.7.6z" fill="#b70"/>
<path d="M96 57.2l2.4 1.1 2.2-1.8-2.4-.6z" fill="#fb0"/>
<path d="M98.1 58l2.4.8 2.1-1.1-2.4-1.4z" fill="#fb0"/>
<path d="M100.2 58.6l2.5-.3 2-.7-2.5-.2z" fill="#b70"/>
<path d="M102.2 58.1l2.6-.1 2-.6-2.6 0z" fill="#b60"/>
<path d="M104.3 57.8l2.4 1 2.1-.1-2.4-1.5z" fill="#f80"/>
<path d="M106.4 58.4l2.4 1.6 2.1.2-2.4-1.8z" fill="#f90"/>
<path d="M108.4 59.7l2.6.4 1.9-.4-2.5.6z" fill="#b70"/>
<path d="M110.5 60l2.4-1.1 2.1.2-2.5.9z" fill="#c70"/>
<path d="M112.5 59.1l2.5 1.2 2.1-.3-2.5-1.1z" fill="#f80"/>
<path d="M114.6 59.9l2.4 1.9 2.1-1-2.4-1.2z" fill="#f90"/>
<path d="M116.7 61.6l2.4.2 2.1-1.2-2.4-.1z" fill="#b70"/>
<path d="M118.8 61.6l2.4-1.5 2.1 0-2.7.5z" fill="#c70"/>
<path d="M120.8 60.3l2.4 1 2.1-.8-2.4-.7z" fill="#e70"/>
<path d="M122.9 60.9l2.4 2.3 2.1-1.2-2.4-1.8z" fill="#f80"/>
<path d="M124.9 63l2.4.6 2.2-2-2.4 0z" fill="#d80"/>
<path d="M127 63.4l2.4-.5 2.1-2.3-2.4.8z" fill="#b70"/>
<path d="M129.1 62.7l2.4.2 2.1-1.1-2.4-1.3z" fill="#f90"/>
<path d="M131.1 62.6l2.4 1.7 2.2-.7-2.4-2z" fill="#f80"/>
<path d="M133.2 64l2.4 1.2 2.1-1.9-2.4-.1z" fill="#f90"/>
<path d="M135.3 65l2.4-.6 2.1-1.7-2.4.4z" fill="#c70"/>
<path d="M137.3 64.2l2.5.1 2.1-.9-2.4-.9z" fill="#e70"/>
<path d="M139.4 63.9l2.4 1.4 2.1-.7-2.4-1.5z" fill="#f80"/>
<path class="ed2" d="M61 54.5l2.1-1.1 2.1-1 2 .1 2.1 1.3 2.1-.2 2-.6 2.1.3 2 .8 2.1.1 2.1-.5 2 .8 2.1 1.3 2.1-.4 2-1 2.1.8 2.1 1.2 2 .3 2.1-.5 2.1.4 2 1.1 2.1-.1 2.1-.1 2 1.1 2.1 1.4 2-.2 2.1-.6 2.1.7 2 .8 2.1-.1 2.1-.5 2 .4 2.1 1.4 2.1-.2 2-.9 2.1 1.1 2.1 1.6 2-.1 2.1-.6 2.1.6 2 1.1"/>
<path d="M57 55l2.4.7 2.1-2.7-2.6 1.3z" fill="#fd0"/>
<path d="M59.1 55.5l2.3.8 2.2-2.6-2.4-.8z" fill="#ea0"/>
<path d="M61.1 56.1l2.5-.9 2-.5-2.3-1.2z" fill="#d90"/>
<path d="M63.2 55.1l2.5-1 2 0-2.5.8z" fill="#c80"/>
<path d="M65.2 54.4l2.4 1.4 2.1-2.5-2.4.6z" fill="#ea0"/>
<path d="M67.3 55.6l2.4.8 2.1-2.1-2.3-1.1z" fill="#fb0"/>
<path d="M69.4 56.2l2.6-1 1.9.4-2.4-1.5z" fill="#ea0"/>
<path d="M71.4 55.3l2.6-.3 2 .4-2.5.4z" fill="#b80"/>
<path d="M73.5 55.2l2.4.9 2.1-1.7-2.5 1.2z" fill="#b80"/>
<path d="M75.6 55.8l2.4 1 2.1-2.2-2.4-.4z" fill="#fb0"/>
<path d="M77.6 56.5l2.4.4 2.2-.7-2.4-1.8z" fill="#fc0"/>
<path d="M79.7 56.7l2.7-.4 1.8-.2-2.5-.2z" fill="#b80"/>
<path d="M81.8 56.4l2.4.7 2.1-2.2-2.6 1.4z" fill="#b70"/>
<path d="M83.8 56.9l2.4 1.4 2.1-3-2.3-.6z" fill="#f80"/>
<path d="M85.9 58.1l2.4.1 2.1-1.9-2.4-1.2z" fill="#e80"/>
<path d="M88 58l2.4-.3 2.1-.8-2.4-.8z" fill="#c80"/>
<path d="M90 57.5l2.5.4 2.1-1-2.5-.3z" fill="#b70"/>
<path d="M92.1 57.6l2.4 1.6 2.1-2.1-2.4-.5z" fill="#fb0"/>
<path d="M94.2 59l2.3.9 2.2-2-2.4-1z" fill="#fa0"/>
<path d="M96.2 59.8l2.5-.4 2-.9-2.3-.8z" fill="#c80"/>
<path d="M98.3 59.2l2.4.3 2.1-1.5-2.5.2z" fill="#b70"/>
<path d="M100.3 59.2l2.4 1.7 2.1-3.2-2.3.1z" fill="#f80"/>
<path d="M102.4 60.7l2.4.8 2.1-3.1-2.3-.9z" fill="#d80"/>
<path d="M104.5 61.4l2.4-.5 2.1-1.2-2.4-1.5z" fill="#d80"/>
<path d="M106.5 60.6l2.7-.4 1.9-.3-2.5-.5z" fill="#b70"/>
<path d="M108.6 60.1l2.4 1.3 2.1-2.3-2.5.6z" fill="#d70"/>
<path d="M110.7 61.2l2.4 1 2.1-2.3-2.4-1z" fill="#f80"/>
<path d="M112.7 61.9l2.4.5 2.2-.8-2.4-1.9z" fill="#fa0"/>
<path d="M114.8 62.2l2.7-.6 1.8-.2-2.5-.1z" fill="#b70"/>
<path d="M116.9 61.7l2.4.2 2.1-1.7-2.5 1.5z" fill="#c70"/>
<path d="M118.9 61.6l2.4 1.4 2.2-2.1-2.4-.8z" fill="#f80"/>
<path d="M121 62.7l2.4 1.2 2.1-.9-2.4-2.3z" fill="#f80"/>
<path d="M123.1 63.6l2.6-.1 1.9-.2-2.4-.7z" fill="#b70"/>
<path d="M125.1 63.4l2.5.3 2-1.2-2.5 1z" fill="#b60"/>
<path d="M127.2 63.4l2.4 1.5 2.1-2.4-2.4-.2z" fill="#f90"/>
<path d="M129.3 64.7l2.3.7 2.2-1.4-2.4-1.7z" fill="#f90"/>
<path d="M131.3 65.2l2.5-1.3 2.1 1-2.5-1.2z" fill="#b70"/>
<path d="M133.4 64.2l2.5-.4 2 .3-2.4 1.1z" fill="#b60"/>
<path d="M135.4 64l2.4 1.5 2.2-1.6-2.5-.1z" fill="#f70"/>
<path d="M137.5 65.3l2.4 1.3 2.1-1.6-2.3-1.3z" fill="#f80"/>
<path class="ed2" d="M59.1 54.5l2.1-1.3 2.1.6 2 .9 2.1-.6 2.1-.6 2 .9 2.1 1.2 2.1-.2 2-.9 2.1.2 2.1 1.5 2 0 2.1-1.2 2.1.4 2 1 2.1.5 2.1 0 2 .3 2.1.8 2 .5 2.1-.4 2.1-.3 2 .7 2.1 1.2 2.1.2 2-.7 2.1.8 2.1 1.6 2-.1 2.1-1.1 2.1.6 2 1.9 2.1.4 2.1-.7 2 0 2.1 1.4 2.1.9 2-.8 2.1-.1 2.1 1"/>
<path d="M55.1 55.8l2.4.4 2.1-.8-2.4-.7z" fill="#fd0"/>
<path d="M57.2 55.9l2.5-.7 2 .8-2.5-.9z" fill="#b80"/>
<path d="M59.2 55.5l2.4-1.2 2.2.7-2.4 1.3z" fill="#c90"/>
<path d="M61.3 54.6l2.5.5 2-.8-2.4 1z" fill="#b80"/>
<path d="M63.4 54.8l2.4 1.3 2.1-.6-2.4-1.4z" fill="#fa0"/>
<path d="M65.4 55.8l2.4 1.2 2.2-.8-2.5-1z" fill="#fb0"/>
<path d="M67.5 56.8l2.6-.4 1.9-1.2-2.6 1.1z" fill="#c80"/>
<path d="M69.6 56.3l2.6-.8 1.9-.3-2.5-.2z" fill="#b70"/>
<path d="M71.6 55.5l2.4 1.4 2.2-1.1-2.5-.9z" fill="#fa0"/>
<path d="M73.7 56.7l2.4 1.1 2.1-1.4-2.4-.9z" fill="#fc0"/>
<path d="M75.8 57.6l2.6-.9 1.9-.1-2.4-.4z" fill="#b80"/>
<path d="M77.8 56.8l2.5-.8 2.1.3-2.6.6z" fill="#b70"/>
<path d="M79.9 56.2l2.4 1.7 2.1-1.1-2.4-.8z" fill="#f90"/>
<path d="M82 57.5l2.3 2.2 2.2-1.7-2.4-1.5z" fill="#fa0"/>
<path d="M84 59.5l2.4 0 2.1-1.7-2.4-.1z" fill="#c80"/>
<path d="M86.1 59.4l2.6-1.1 1.9-1-2.4.3z" fill="#c80"/>
<path d="M88.1 58.3l2.4 1 2.2-1.7-2.4-.5z" fill="#fa0"/>
<path d="M90.2 59l2.4 1.6 2.1-1.7-2.3-1.6z" fill="#f90"/>
<path d="M92.3 60.4l2.4.5 2.1-1.3-2.4-1z" fill="#fb0"/>
<path d="M94.4 60.7l2.5-.5 2-1.2-2.5.4z" fill="#c80"/>
<path d="M96.4 60l2.4.5 2.1-1.4-2.4-.2z" fill="#d80"/>
<path d="M98.5 60.2l2.4 1.3 2.1-.9-2.4-1.7z" fill="#f90"/>
<path d="M100.5 61.2l2.4.9 2.2-.9-2.4-.9z" fill="#fa0"/>
<path d="M102.6 61.9l2.7-.6 1.8-.8-2.6.8z" fill="#c80"/>
<path d="M104.7 61.3l2.4.2 2.1-1.5-2.5.3z" fill="#b60"/>
<path d="M106.7 61.2l2.4 1.5 2.2-1.6-2.4-1.3z" fill="#f90"/>
<path d="M108.8 62.4l2.4 1.3 2.1-1.9-2.4-1z" fill="#fa0"/>
<path d="M110.9 63.5l2.4-.5 2.1-1-2.4-.4z" fill="#b70"/>
<path d="M112.9 62.8l2.5 0 2-1.2-2.5.2z" fill="#b60"/>
<path d="M115 62.5l2.4 1.3 2.1-2.3-2.4-.1z" fill="#f90"/>
<path d="M117.1 63.6l2.3 1 2.2-1.9-2.4-1.4z" fill="#f80"/>
<path d="M119.1 64.4l2.5-.1 2.1-.7-2.4-1.2z" fill="#f80"/>
<path d="M121.2 64.1l2.5-.1 2-.7-2.5.1z" fill="#b60"/>
<path d="M123.2 63.8l2.4 1.3 2.2-1.8-2.4-.3z" fill="#f90"/>
<path d="M125.3 64.9l2.4 1.1 2.1-1.4-2.3-1.5z" fill="#f90"/>
<path d="M127.4 65.8l2.4.1 2.1-.8-2.4-.8z" fill="#d80"/>
<path d="M129.5 65.7l2.4-.1 2.1-1.5-2.6 1.1z" fill="#c70"/>
<path d="M131.5 65.3l2.4 1 2.1-2.3-2.4-.1z" fill="#e70"/>
<path d="M133.6 66l2.4 1 2.1-1.8-2.4-1.4z" fill="#f80"/>
<path d="M135.6 66.8l2.5-.2 2.1-.2-2.4-1.5z" fill="#e80"/>
<path class="ed2" d="M57.3 55l2 .4 2.1.6 2.1-1 2-.6 2.1 1.1 2.1.6 2-.8 2.1-.1 2.1.6 2 .7 2.1.1 2.1-.3 2 .5 2.1 1.2 2-.1 2.1-.5 2.1.2 2 1.3 2.1.7 2.1-.5 2 .1 2.1 1.4 2.1.6 2-.6 2.1-.5 2.1 1 2 .8 2.1.2 2.1-.4 2-.1 2.1 1.1 2.1.9 2-.3 2.1.1 2 1.2 2.1.5 2.1-.9 2-.1 2.1 1.1 2.1 1.1"/>
<path d="M53.2 56.1l2.5.6 2.1-.8-2.5-.4z" fill="#fc0"/>
<path d="M55.3 56.4l2.4 1.1 2.1-2.1-2.4.2z" fill="#fb0"/>
<path d="M57.4 57.3l2.4-.8 2-2.1-2.3.8z" fill="#b80"/>
<path d="M59.4 56.3l2.4-.2 2.2-1.3-2.4-.5z" fill="#c90"/>
<path d="M61.5 55.8l2.4 1.6 2.1-1.6-2.4-1.2z" fill="#fb0"/>
<path d="M63.6 57.2l2.4.6 2.1-1.1-2.4-1.2z" fill="#fd0"/>
<path d="M65.6 57.6l2.6-.4 1.9-1.1-2.5.3z" fill="#c80"/>
<path d="M67.7 57l2.4 1.1 2.1-2.7-2.4.5z" fill="#d90"/>
<path d="M69.8 57.9l2.3 1.4 2.2-2.7-2.4-1.3z" fill="#fa0"/>
<path d="M71.8 59.1l2.4-.2 2.1-1.4-2.3-1.1z" fill="#ea0"/>
<path d="M73.9 58.8l2.4-.3 2.1-1.8-2.4.5z" fill="#b80"/>
<path d="M76 58.3l2.3 1.2 2.1-3.4-2.3.4z" fill="#d80"/>
<path d="M78 59.4l2.4 1.2 2.1-3.1-2.3-1.5z" fill="#e90"/>
<path d="M80.1 60.4l2.4-.4 2.1-.6-2.4-2.1z" fill="#fc0"/>
<path d="M82.1 59.7l2.5-.8 2.1.3-2.7.2z" fill="#b80"/>
<path d="M84.2 59.2l2.4 1.4 2.1-2.5-2.6 1.2z" fill="#d80"/>
<path d="M86.3 60.4l2.4.6 2.1-2.1-2.4-1z" fill="#f90"/>
<path d="M88.3 60.8l2.5-1.4 2.1 1-2.4-1.7z" fill="#b70"/>
<path d="M90.4 59.6l2.5 0 2 1-2.5 0z" fill="#b70"/>
<path d="M92.5 59.8l2.4 1.7 2.1-1.6-2.5.9z" fill="#b70"/>
<path d="M94.5 61.3l2.4.9 2.2-2-2.4-.5z" fill="#fa0"/>
<path d="M96.6 62l2.4-.1 2.1-.7-2.4-1.2z" fill="#f90"/>
<path d="M98.7 61.6l2.4.9 2.1-.7-2.4-.9z" fill="#f90"/>
<path d="M100.7 62.2l2.4 1.5 2.1-2.6-2.4.4z" fill="#f90"/>
<path d="M102.8 63.5l2.4-.1 2.1-2.4-2.4-.1z" fill="#b70"/>
<path d="M104.9 63.2l2.4-.4 2.1-.4-2.4-1.5z" fill="#f80"/>
<path d="M106.9 62.5l2.5.9 2 0-2.4-1.3z" fill="#b60"/>
<path d="M109 63.1l2.4 1.6 2.1-2.1-2.6.6z" fill="#e80"/>
<path d="M111.1 64.6l2.3.1 2.2-2.3-2.4 0z" fill="#c70"/>
<path d="M113.1 64.5l2.6-.6 1.9-.4-2.3-1.3z" fill="#d70"/>
<path d="M115.2 63.6l2.4 1.3 2.1-.5-2.4-1.2z" fill="#f80"/>
<path d="M117.2 64.6l2.4 1.3 2.2-1.9-2.5 0z" fill="#f90"/>
<path d="M119.3 65.8l2.4-.4 2.1-1.7-2.4.1z" fill="#b60"/>
<path d="M121.4 65.1l2.4.8 2.1-1.1-2.4-1.3z" fill="#f90"/>
<path d="M123.4 65.6l2.4 1.7 2.2-1.6-2.4-1.2z" fill="#f90"/>
<path d="M125.5 67.1l2.4.5 2.1-2.1-2.4 0z" fill="#c80"/>
<path d="M127.6 67.4l2.4-.6 2.1-1.6-2.4.1z" fill="#b60"/>
<path d="M129.6 66.6l2.4 1.3 2.2-2-2.4-.9z" fill="#f90"/>
<path d="M131.7 67.7l2.4 1.6 2.1-2.7-2.4-.9z" fill="#f80"/>
<path d="M133.8 69.2l2.4-1 2.1-2-2.4.2z" fill="#b70"/>
<path class="ed2" d="M55.4 55.8l2.1.1 2-.4 2.1-.9 2.1.3 2 .9 2.1.9 2.1-.5 2-.6 2.1 1.1 2 .8 2.1-.7 2.1-.5 2 1.3 2.1 1.8 2.1-.1 2-1.1 2.1.8 2.1 1.3 2 .3 2.1-.6 2.1.3 2 .9 2.1.6 2.1-.6 2 0 2.1 1.2 2.1 1 2-.7 2.1-.2 2.1 1 2 .8 2.1-.2 2-.3 2.1 1 2.1 1 2-.2 2.1-.3 2.1.7 2 .7 2.1-.3"/>
<path d="M51.4 58.6l2.4-2.4 2.1.2-2.4-.6z" fill="#c90"/>
<path d="M53.4 56.4l2.5.8 2 0-2.4-1.1z" fill="#b80"/>
<path d="M55.5 56.9l2.4 1.5 2.1-2.3-2.6 1.3z" fill="#d90"/>
<path d="M57.6 58.2l2.3-.1 2.1-2.4-2.3.2z" fill="#b80"/>
<path d="M59.6 57.9l2.7-.8 1.8 0-2.3-1.5z" fill="#ea0"/>
<path d="M61.7 56.9l2.5.7 2 0-2.5-.7z" fill="#b80"/>
<path d="M63.7 57.3l2.4 1.6 2.2-2.1-2.6.5z" fill="#ea0"/>
<path d="M65.8 58.6l2.4.8 2.1-1.7-2.3-1.1z" fill="#fc0"/>
<path d="M67.9 59.2l2.5-1 2 .8-2.4-1.5z" fill="#b80"/>
<path d="M69.9 58.4l2.5-.3 2.1.5-2.5.7z" fill="#b80"/>
<path d="M72 58.4l2.4 1.5 2.1-1.8-2.6.4z" fill="#e90"/>
<path d="M74.1 59.6l2.4.9 2.1-1.3-2.4-1.3z" fill="#fc0"/>
<path d="M76.1 60.3l2.6-.7 2 .8-2.4-1.5z" fill="#b80"/>
<path d="M78.2 59.8l2.4-.7 2.1.5-2.4 1z" fill="#b80"/>
<path d="M80.3 59.3l2.4 1.7 2.1-1.9-2.6.4z" fill="#f90"/>
<path d="M82.3 60.8l2.4 1.3 2.2-1.8-2.4-1.4z" fill="#fa0"/>
<path d="M84.4 62l2.4-.2 2.1-1.2-2.4-.6z" fill="#c80"/>
<path d="M86.5 61.6l2.6-.9 1.9-1.2-2.6 1.3z" fill="#d80"/>
<path d="M88.5 60.7l2.4.8 2.2-1.7-2.4-.4z" fill="#f90"/>
<path d="M90.6 61.2l2.4 1.4 2.1-1.4-2.4-1.6z" fill="#f90"/>
<path d="M92.7 62.3l2.4.5 2.1-1-2.4-.9z" fill="#f90"/>
<path d="M94.7 62.5l2.4.4 2.1-1.4-2.4.1z" fill="#b70"/>
<path d="M96.8 62.6l2.4 1.1 2.1-1.6-2.4-.8z" fill="#fb0"/>
<path d="M98.8 63.4l2.4 1.4 2.2-1.4-2.4-1.5z" fill="#fa0"/>
<path d="M100.9 64.6l2.4.1 2.1-1.7-2.4.1z" fill="#b80"/>
<path d="M103 64.5l2.6-1 1.9-1.1-2.5.4z" fill="#c80"/>
<path d="M105 63.4l2.5.7 2.1-1-2.4-.9z" fill="#f80"/>
<path d="M107.1 63.8l2.4 1.7 2.1-1-2.3-1.7z" fill="#f80"/>
<path d="M109.2 65.2l2.4.8 2.1-1.7-2.4-.2z" fill="#e80"/>
<path d="M111.3 65.8l2.3-.1 2.1-2.2-2.4.6z" fill="#b70"/>
<path d="M113.3 65.5l2.4.5 2.1-1.4-2.3-1.3z" fill="#fa0"/>
<path d="M115.4 65.7l2.4 1.4 2.1-1.5-2.4-1.3z" fill="#f90"/>
<path d="M117.4 66.8l2.4.5 2.1-2.3-2.4.4z" fill="#c70"/>
<path d="M119.5 67.2l2.5-.6 2-1-2.4-.8z" fill="#c70"/>
<path d="M121.6 66.3l2.5-.5 2 1.3-2.4-1.8z" fill="#b60"/>
<path d="M123.6 66l2.5 1.6 2.1-.2-2.7-.2z" fill="#b60"/>
<path d="M125.7 67.3l2.4 1.8 2.1-2.7-2.5.6z" fill="#f90"/>
<path d="M127.8 68.9l2.4-.2 2.1-1.1-2.4-1.4z" fill="#f90"/>
<path d="M129.8 68.4l2.5-.7 2 1.4-2.4-1.8z" fill="#b60"/>
<path d="M131.9 67.9l2.4 1.5 2.1-1.6-2.4 1.5z" fill="#b60"/>
<path class="ed2" d="M53.5 56.1l2.1.3 2.1.8 2-1 2.1-.3 2 1.2 2.1.4 2.1-.6 2 .9 2.1 1.2 2.1-.4 2-.4 2.1 1 2.1 1.1 2-.6 2.1-.5 2.1 1.1 2 .4 2.1-1 2.1.2 2 1.3 2.1.7 2.1-.3 2 .6 2.1 1.2 2.1-.3 2-.6 2.1.6 2 1.3 2.1 0 2.1-.8 2 1 2.1 1 2.1-.5 2 .5 2.1 1.4 2.1.3 2-.8 2.1 1.1 2.1 1.4 2-1.1"/>
<path d="M49.5 58.3l2.4-1.9 2.1-.1-2.4 2.4z" fill="#da0"/>
<path d="M51.5 56.6l2.4 1.4 2.2-1.1-2.4-.7z" fill="#fb0"/>
<path d="M53.6 57.7l2.4 1.5 2.1-1.1-2.3-1.5z" fill="#fb0"/>
<path d="M55.7 59l2.4 0 2.1-1.3-2.4.1z" fill="#b80"/>
<path d="M57.8 58.8l2.3.1 2.1-2.1-2.4.7z" fill="#b80"/>
<path d="M59.8 58.7l2.4 1 2.1-2.4-2.4-.6z" fill="#fa0"/>
<path d="M61.9 59.5l2.4.8 2.1-1.8-2.4-1.4z" fill="#fb0"/>
<path d="M64 60.1l2.4-1.5 2.1.5-2.4-.8z" fill="#b80"/>
<path d="M66 58.9l2.5-.6 2 .1-2.4 1z" fill="#b80"/>
<path d="M68.1 58.6l2.3 1.7 2.2-2-2.4-.1z" fill="#fb0"/>
<path d="M70.1 60l2.4 1.7 2.2-2.2-2.4-1.4z" fill="#fa0"/>
<path d="M72.2 61.5l2.4 0 2.1-1.4-2.4-.8z" fill="#ea0"/>
<path d="M74.3 61.3l2.5-1.4 2-.2-2.5.3z" fill="#c80"/>
<path d="M76.3 60.2l2.4.9 2.1-1.8-2.4.2z" fill="#d80"/>
<path d="M78.4 60.8l2.4 1.6 2.1-1.7-2.4-1.6z" fill="#f90"/>
<path d="M80.5 62.2l2.6-.7 1.9.4-2.4-1.5z" fill="#e90"/>
<path d="M82.5 61.5l2.5-.4 2.1.4-2.5.6z" fill="#b70"/>
<path d="M84.6 61.3l2.4 1.8 2.1-2.6-2.6.8z" fill="#e90"/>
<path d="M86.7 62.9l2.3.7 2.2-2.6-2.4-.7z" fill="#e80"/>
<path d="M88.7 63.4l2.5-.6 2-.5-2.3-1.4z" fill="#d80"/>
<path d="M90.8 62.5l2.5.3 2-.3-2.5-.5z" fill="#b60"/>
<path d="M92.8 62.5l2.4 1.7 2.2-1.6-2.5-.4z" fill="#f90"/>
<path d="M94.9 63.9l2.4 1.2 2.1-1.8-2.3-1z" fill="#fb0"/>
<path d="M97 64.9l2.4 0 2.1-.4-2.4-1.4z" fill="#fa0"/>
<path d="M99 64.6l2.5-.7 2.1.5-2.6.2z" fill="#b70"/>
<path d="M101.1 64.2l2.4 1.3 2.1-2.3-2.5 1.4z" fill="#c70"/>
<path d="M103.2 65.3l2.3 1.2 2.2-2.8-2.4-.6z" fill="#f80"/>
<path d="M105.3 66.4l2.4-.6 2.1-.6-2.4-1.7z" fill="#f90"/>
<path d="M107.3 65.5l2.5.5 2-.3-2.4-.8z" fill="#b60"/>
<path d="M109.4 65.7l2.3 2 2.2-2.4-2.4.1z" fill="#fb0"/>
<path d="M111.4 67.5l2.4.7 2.1-2.6-2.3-.5z" fill="#d80"/>
<path d="M113.5 68l2.5-.6 2-.7-2.4-1.3z" fill="#d80"/>
<path d="M115.6 67.2l2.6-.2 1.9 0-2.5-.5z" fill="#b70"/>
<path d="M117.6 67l2.4 1.6 2.1-2.4-2.5.6z" fill="#e80"/>
<path d="M119.7 68.4l2.4.6 2.1-3.1-2.4.1z" fill="#c70"/>
<path d="M121.8 68.8l2.4-.3 2.1-1.2-2.4-1.5z" fill="#e80"/>
<path d="M123.8 68.2l2.6.2 1.9.5-2.3-1.8z" fill="#f80"/>
<path d="M125.9 68.1l2.4 1.8 2.1-1.5-2.6.5z" fill="#b60"/>
<path d="M128 69.7l2.3.6 2.2-2.5-2.4.3z" fill="#c70"/>
<path d="M130 70.2l2.7-1 1.8-.1-2.3-1.4z" fill="#d70"/>
<path class="ed2" d="M51.6 58.4l2.1-1.9 2.1.4 2 1.2 2.1-.3 2.1-.9 2 .5 2.1 1.2 2.1.5 2-.7 2.1 0 2.1 1.2 2 .6 2.1-.4 2.1-.4 2 1.3 2.1 1.1 2.1-.3 2-.9 2.1.6 2 1.1 2.1.2 2.1.1 2 .8 2.1 1.1 2.1-.1 2-1 2.1.4 2.1 1.4 2 .5 2.1-.3 2.1.3 2 1.1 2.1.2 2.1-.7 2-.2 2.1 1.3 2.1 1.4 2-.4 2.1-.4 2 1.1"/>
<path d="M47.7 59.8l2.4-1.1 2-2.2-2.6 1.7z" fill="#b80"/>
<path d="M49.7 58.5l2.4.7 2.1-1.5-2.4-1.3z" fill="#fb0"/>
<path d="M51.7 58.9l2.4 1.2 2.2-1.1-2.4-1.6z" fill="#fb0"/>
<path d="M53.8 59.9l2.4 0 2.1-1.3-2.4.1z" fill="#c80"/>
<path d="M55.9 59.7l2.5-.3 2-.9-2.4-.1z" fill="#b80"/>
<path d="M57.9 59.1l2.5.6 2.1-.3-2.5-1.1z" fill="#fa0"/>
<path d="M60 59.4l2.4 1.1 2.1-.4-2.4-1z" fill="#fa0"/>
<path d="M62.1 60.2l2.4.6 2.1-2-2.6 1.5z" fill="#b80"/>
<path d="M64.2 60.6l2.4-.4 2-1.7-2.4.1z" fill="#b70"/>
<path d="M66.2 59.9l2.4.5 2.1-.3-2.4-1.8z" fill="#f90"/>
<path d="M68.3 60l2.4 1.8 2.1-.3-2.4-1.8z" fill="#f90"/>
<path d="M70.3 61.4l2.4 1.4 2.1-1.6-2.4-.1z" fill="#fa0"/>
<path d="M72.4 62.6l2.4-.4 2.1-2.2-2.5.9z" fill="#b80"/>
<path d="M74.5 62.1l2.4-.5 2.1-.8-2.4-1z" fill="#c80"/>
<path d="M76.5 61.2l2.4 1.5 2.1-.5-2.3-1.7z" fill="#f90"/>
<path d="M78.6 62.4l2.4 1.8 2.1-2.8-2.4.4z" fill="#fb0"/>
<path d="M80.7 64.1l2.3.1 2.1-3-2.3 0z" fill="#b80"/>
<path d="M82.7 64l2.4-.4 2.1-.8-2.3-1.7z" fill="#fa0"/>
<path d="M84.8 63.4l2.4.6 2.1-.8-2.4-.7z" fill="#e90"/>
<path d="M86.8 63.7l2.4 1.7 2.1-3.1-2.4.7z" fill="#f90"/>
<path d="M88.9 65.3l2.4.6 2.1-3.5-2.3-.2z" fill="#c80"/>
<path d="M91 65.7l2.4-.7 2.1-1.2-2.4-1.6z" fill="#d80"/>
<path d="M93 64.7l2.5.3 2.1-.2-2.4-1.2z" fill="#e90"/>
<path d="M95.1 64.7l2.4 1.6 2.1-1.8-2.4 0z" fill="#f90"/>
<path d="M97.2 66.1l2.4.4 2.1-2.5-2.4.3z" fill="#c70"/>
<path d="M99.3 66.4l2.4-.6 2.1-.6-2.4-1.3z" fill="#d80"/>
<path d="M101.3 65.6l2.7.1 1.8.6-2.4-1.4z" fill="#b60"/>
<path d="M103.4 65.6l2.4 1.1 2.1-1.3-2.5 1.1z" fill="#b60"/>
<path d="M105.4 66.4l2.4 1.7 2.1-2.4-2.3-.5z" fill="#fa0"/>
<path d="M107.5 67.9l2.4.4 2.1-.9-2.4-1.9z" fill="#fa0"/>
<path d="M109.6 68l2.4-.8 2.1.7-2.5-.8z" fill="#b70"/>
<path d="M111.6 67.5l2.5.8 2-1.2-2.4 1.1z" fill="#b70"/>
<path d="M113.7 68l2.4 1 2.1-2.1-2.4-.1z" fill="#f80"/>
<path d="M115.8 68.8l2.3.6 2.2-1.2-2.4-1.5z" fill="#fa0"/>
<path d="M117.8 69.2l2.5 0 2-.5-2.4-.7z" fill="#b70"/>
<path d="M119.9 68.9l2.4.6 2.1-1.4-2.6.4z" fill="#b60"/>
<path d="M121.9 69.2l2.4 1.6 2.2-2.7-2.4-.2z" fill="#f90"/>
<path d="M124 70.6l2.4.7 2.1-1.7-2.3-1.7z" fill="#f90"/>
<path d="M126.1 71.1l2.5-.5 2-.6-2.4-.7z" fill="#c70"/>
<path d="M128.1 70.4l2.5.4 2-1.8-2.6 1.2z" fill="#b60"/>
<path class="ed2" d="M49.8 58.2l2-1.5 2.1 1 2.1 1.2 2-.2 2.1-.1 2.1.8 2 .6 2.1-1.1 2.1-.3 2 1.4 2.1 1.4 2.1-.2 2-1.1 2.1.7 2.1 1.3 2-.6 2.1-.1 2 1.4 2.1.5 2.1-.8 2 0 2.1 1.4 2.1.9 2-.2 2.1-.4 2.1 1 2 1 2.1-.7 2.1.3 2 1.6 2.1.5 2.1-.8 2-.1 2.1 1.3 2 .4 2.1-.5 2.1 0 2 1.4 2.1.4 2.1-.9"/>
<path d="M45.7 60.5l2.4.3 2.1-2.5-2.5 1z" fill="#c90"/>
<path d="M47.8 60.6l2.4-.1 2.1-1.7-2.4-.6z" fill="#d90"/>
<path d="M49.9 60.3l2.4-1.5 2.1 1.1-2.4-1.3z" fill="#b80"/>
<path d="M51.9 59l2.4-.5 2.2 1.2-2.5.4z" fill="#b80"/>
<path d="M54 58.7l2.4 1.9 2.1-1.5-2.5.8z" fill="#b70"/>
<path d="M56.1 60.3l2.3 2 2.2-3-2.4-.5z" fill="#fa0"/>
<path d="M58.2 62.2l2.3.1 2.1-2.2-2.3-.9z" fill="#d90"/>
<path d="M60.2 62.1l2.6-1.1 1.9-.6-2.4-.5z" fill="#b80"/>
<path d="M62.2 61l2.5.6 2.1-1.8-2.5.4z" fill="#c80"/>
<path d="M64.3 61.4l2.4 1.3 2.1-2.8-2.3-.3z" fill="#f90"/>
<path d="M66.4 62.5l2.4.4 2.1-1.4-2.4-1.7z" fill="#fa0"/>
<path d="M68.4 62.7l2.7-.4 1.9.2-2.4-1.3z" fill="#b70"/>
<path d="M70.5 62.2l2.4.8 2.1-1.1-2.5.8z" fill="#b70"/>
<path d="M72.6 62.8l2.4 1.2 2.1-2.9-2.4.5z" fill="#d80"/>
<path d="M74.7 63.8l2.3.7 2.2-2.2-2.4-1.3z" fill="#f90"/>
<path d="M76.7 64.3l2.7-.9 1.8.6-2.4-1.9z" fill="#fa0"/>
<path d="M78.8 63.4l2.4-.4 2.1.9-2.5.3z" fill="#b70"/>
<path d="M80.8 63.3l2.4 1.5 2.2-1.5-2.6.8z" fill="#b70"/>
<path d="M82.9 64.5l2.4 1.2 2.1-2.1-2.4-.5z" fill="#fb0"/>
<path d="M85 65.5l2.4-.1 2.1-.2-2.4-1.8z" fill="#fb0"/>
<path d="M87 65.1l2.4-.9 2.2 1.4-2.7-.3z" fill="#b70"/>
<path d="M89.1 64.4l2.4 1.3 2.1-1.1-2.4 1.3z" fill="#b70"/>
<path d="M91.2 65.4l2.3 1.8 2.2-2.6-2.4-.2z" fill="#fa0"/>
<path d="M93.2 67l2.4.2 2.2-1.2-2.4-1.6z" fill="#fb0"/>
<path d="M95.3 67l2.4-1.4 2.1.6-2.5-.4z" fill="#b70"/>
<path d="M97.4 65.8l2.4.7 2.1-1-2.5 1z" fill="#b60"/>
<path d="M99.4 66.3l2.4 1.5 2.1-2.2-2.4-.3z" fill="#fa0"/>
<path d="M101.5 67.6l2.4 1 2.1-2.3-2.4-.9z" fill="#f90"/>
<path d="M103.6 68.3l2.4.1 2.1-.5-2.4-1.8z" fill="#fb0"/>
<path d="M105.6 68.1l2.6.1 1.9-.2-2.5-.4z" fill="#b70"/>
<path d="M107.7 68l2.4 1.2 2.1-1.8-2.6.4z" fill="#d80"/>
<path d="M109.7 68.9l2.4 1.1 2.2-2.1-2.4-.7z" fill="#fa0"/>
<path d="M111.8 69.8l2.4 0 2.1-1.1-2.3-1z" fill="#f90"/>
<path d="M113.9 69.6l2.4.1 2.1-.6-2.4-.7z" fill="#b60"/>
<path d="M115.9 69.5l2.4.9 2.2-1.6-2.5 0z" fill="#e80"/>
<path d="M118 70.2l2.4 1.1 2.1-2.2-2.4-.5z" fill="#f90"/>
<path d="M120.1 71l2.4.3 2.1-.8-2.4-1.6z" fill="#fb0"/>
<path d="M122.1 71.1l2.6.2 2-.3-2.5-.8z" fill="#b70"/>
<path d="M124.2 71l2.5.4 2-1.1-2.5.9z" fill="#b60"/>
<path d="M126.3 71.1l2.3 1.4 2.2-2.1-2.4-.3z" fill="#fa0"/>
<path class="ed2" d="M47.9 59.6l2.1-1.1 2 .4 2.1.9 2.1-.2 2-.5 2.1.4 2.1.7 2 .3 2.1-.6 2.1.2 2 1.4 2.1 1 2-.6 2.1-.6 2.1 1.1 2 1.5 2.1 0 2.1-.6 2 .4 2.1 1.4 2.1.5 2-.9 2.1 0 2.1 1.3 2 .2 2.1-.6 2.1.1 2 .7 2.1 1.4 2 .2 2.1-.5 2.1.5 2 .7 2.1.4 2.1-.2 2 .3 2.1 1.3 2.1.5 2-.6 2.1.1"/>
<path d="M43.9 60.7l2.5.3 2-.5-2.5-.4z" fill="#eb0"/>
<path d="M45.9 60.8l2.5-.9 2.1.2-2.6.6z" fill="#b80"/>
<path d="M48 60.2l2.4 1 2.1-2.3-2.6 1.5z" fill="#c80"/>
<path d="M50.1 61l2.3 1.5 2.1-3.9-2.3.2z" fill="#d90"/>
<path d="M52.2 62.4l2.3.3 2.1-2.5-2.3-1.7z" fill="#e90"/>
<path d="M54.2 62.5l2.5-.6 2 .2-2.4-2.1z" fill="#fc0"/>
<path d="M56.2 61.7l2.6.5 2-.2-2.6.3z" fill="#b80"/>
<path d="M58.3 62l2.4 1.2 2.1-2.4-2.6 1.2z" fill="#c80"/>
<path d="M60.4 63l2.4-.3 2.1-1.4-2.4-.7z" fill="#c80"/>
<path d="M62.4 62.5l2.6 0 2-.1-2.4-1.4z" fill="#e90"/>
<path d="M64.5 62.2l2.4 1 2.1-.6-2.5-.5z" fill="#b70"/>
<path d="M66.6 62.9l2.4.9 2.1-1.7-2.5.2z" fill="#d80"/>
<path d="M68.6 63.6l2.4.5 2.2-1.4-2.4-.8z" fill="#fb0"/>
<path d="M70.7 63.9l2.5.2 2-.4-2.4-1.3z" fill="#fa0"/>
<path d="M72.8 63.8l2.4 1.2 2.1-.8-2.4-.8z" fill="#f90"/>
<path d="M74.8 64.7l2.4 1 2.1-2.4-2.4.6z" fill="#c80"/>
<path d="M76.9 65.6l2.4-.5 2.1-1.9-2.4 0z" fill="#b70"/>
<path d="M79 64.9l2.4.1 2.1-.5-2.4-1.5z" fill="#fa0"/>
<path d="M81 64.7l2.4 1.7 2.2-.9-2.4-1.3z" fill="#f90"/>
<path d="M83.1 66.1l2.4.7 2.1-1.8-2.4.1z" fill="#d80"/>
<path d="M85.2 66.6l2.6-1.1 1.9-1.1-2.5.4z" fill="#c80"/>
<path d="M87.2 65.4l2.4.7 2.2-.7-2.4-1.2z" fill="#f80"/>
<path d="M89.3 65.7l2.4 2.6 2.1-1.4-2.4-1.8z" fill="#f80"/>
<path d="M91.4 68l2.3.9 2.2-2.1-2.4-.2z" fill="#fa0"/>
<path d="M93.5 68.8l2.3-.7 2.1-2.4-2.4.9z" fill="#b70"/>
<path d="M95.5 67.9l2.4-.2 2.1-1.5-2.4-.6z" fill="#c70"/>
<path d="M97.5 67.4l2.4 1.3 2.2-1.2-2.4-1.5z" fill="#f80"/>
<path d="M99.6 68.5l2.4.5 2.1-.7-2.4-1.1z" fill="#f90"/>
<path d="M101.7 68.8l2.5-.9 2 .2-2.6 0z" fill="#b70"/>
<path d="M103.7 68.2l2.5.5 2.1-.7-2.6-.1z" fill="#b60"/>
<path d="M105.8 68.3l2.4 1.9 2.1-1.3-2.4-1.2z" fill="#f80"/>
<path d="M107.9 70l2.4.9 2.1-1.3-2.4-1z" fill="#fb0"/>
<path d="M109.9 70.7l2.6-1.2 2 0-2.5-.1z" fill="#c70"/>
<path d="M112 69.8l2.6.1 1.9-.5-2.5-.1z" fill="#b60"/>
<path d="M114.1 69.6l2.4 1.9 2.1-1.4-2.4-.9z" fill="#f80"/>
<path d="M116.1 71.2l2.4.9 2.2-1.1-2.4-1.2z" fill="#fa0"/>
<path d="M118.2 71.9l2.5-1.2 2 .3-2.5-.3z" fill="#b70"/>
<path d="M120.3 70.9l2.4.7 2.1-.6-2.6-.1z" fill="#b60"/>
<path d="M122.3 71.3l2.4 2 2.2-2.3-2.5-.3z" fill="#f90"/>
<path d="M124.4 73.1l2.4.8 2.1-1.8-2.4-1.3z" fill="#f90"/>
<path class="ed2" d="M46 60.4l2.1.1 2.1-.3 2-1.2 2.1-.2 2.1 1.5 2 1.7 2.1 0 2-1.1 2.1.4 2.1 1.1 2 .2 2.1-.4 2.1.5 2 1 2.1.5 2.1-.7 2-.2 2.1 1.2 2.1.9 2-.3 2.1-.6 2.1.9 2 1.5 2.1 0 2-1 2.1.4 2.1 1.2 2 .8 2.1-.2 2.1-.1 2 .9 2.1.8 2.1-.2 2 0 2.1.6 2.1.9 2 .1 2.1-.1 2.1.1 2 1.1"/>
<path d="M42 61l2.4.8 2.1-1.1-2.4-.3z" fill="#fb0"/>
<path d="M44 61.5l2.5.3 2.1-1.7-2.5.4z" fill="#c80"/>
<path d="M46.1 61.6l2.5-.2 2-.5-2.4-1z" fill="#d90"/>
<path d="M48.2 61.1l2.5.7 2 .5-2.4-1.7z" fill="#b70"/>
<path d="M50.2 61.5l2.5 1.3 2.1-.3-2.7-.2z" fill="#b80"/>
<path d="M52.3 62.6l2.4.7 2.1-1.7-2.6.9z" fill="#b80"/>
<path d="M54.4 63.1l2.4-.2 2.1-.9-2.4-.6z" fill="#c90"/>
<path d="M56.4 62.6l2.6.3 2 0-2.5-1.2z" fill="#b70"/>
<path d="M58.5 62.6l2.4 1.4 2.1-1.6-2.6.4z" fill="#e90"/>
<path d="M60.6 63.7l2.3 1.3 2.2-2.9-2.4 0z" fill="#e90"/>
<path d="M62.7 64.9l2.3-.4 2.2-1.7-2.4-.9z" fill="#c80"/>
<path d="M64.7 64.2l2.4.1 2.1-.8-2.4-.9z" fill="#e90"/>
<path d="M66.8 63.9l2.3 1.5 2.2-1.6-2.4-.6z" fill="#fb0"/>
<path d="M68.8 65.2l2.4.7 2.1-2.2-2.3-.1z" fill="#e90"/>
<path d="M70.9 65.8l2.4-.1 2.1-1.1-2.4-1.1z" fill="#f90"/>
<path d="M73 65.4l2.5.2 2-.1-2.4-1.1z" fill="#b70"/>
<path d="M75 65.3l2.4 1.1 2.1-1.6-2.6.6z" fill="#b70"/>
<path d="M77.1 66.2l2.4 1.6 2.1-3.2-2.4-.1z" fill="#f90"/>
<path d="M79.2 67.6l2.3.3 2.2-1.9-2.4-1.6z" fill="#e90"/>
<path d="M81.2 67.8l2.6-.7 1.9-.6-2.4-.7z" fill="#c80"/>
<path d="M83.3 66.9l2.4.6 2.1-2.2-2.6 1.2z" fill="#b70"/>
<path d="M85.4 67.3l2.3 1.2 2.2-2.8-2.4-.6z" fill="#e80"/>
<path d="M87.4 68.3l2.4.2 2.1-.5-2.3-2.5z" fill="#fa0"/>
<path d="M89.5 68.3l2.4-.9 2.1 1.3-2.5-1z" fill="#b70"/>
<path d="M91.5 67.7l2.5.9 2.1-.9-2.4 1.2z" fill="#b70"/>
<path d="M93.6 68.3l2.4 1.6 2.1-2.6-2.4.2z" fill="#f90"/>
<path d="M95.7 69.7l2.4.1 2.1-1.4-2.4-1.3z" fill="#f90"/>
<path d="M97.7 69.6l2.6-.5 2-.4-2.5-.6z" fill="#b70"/>
<path d="M99.8 69l2.4.8 2.1-1.7-2.5.4z" fill="#b60"/>
<path d="M101.9 69.5l2.3 1.7 2.2-2.9-2.4-.4z" fill="#f80"/>
<path d="M103.9 71l2.4.9 2.2-2-2.4-1.8z" fill="#f80"/>
<path d="M106 71.7l2.6-.8 1.9-.3-2.4-1z" fill="#c70"/>
<path d="M108.1 70.8l2.5-.1 2-1-2.5 1.2z" fill="#c70"/>
<path d="M110.1 70.5l2.4 1.7 2.1-2.6-2.3-.1z" fill="#f90"/>
<path d="M112.2 72l2.4.9 2.1-1.7-2.4-1.8z" fill="#f80"/>
<path d="M114.3 72.7l2.5-.4 2-.5-2.4-.9z" fill="#c70"/>
<path d="M116.3 72.1l2.4.4 2.1-1.7-2.6 1.2z" fill="#b60"/>
<path d="M118.4 72.2l2.4 1.6 2.1-2.5-2.4-.7z" fill="#f80"/>
<path d="M120.5 73.5l2.3 1 2.2-1.5-2.4-1.9z" fill="#f80"/>
<path d="M122.5 74.3l2.6-.4 1.9-.3-2.4-.9z" fill="#b70"/>
<path class="ed2" d="M44.2 60.6l2 .1 2.1-.5 2 .7 2.1 1.3 2.1.2 2-.7 2.1.3 2.1.9 2-.5 2.1-.2 2.1.7 2 .6 2.1.4 2.1-.1 2 .9 2.1.7 2.1-.6 2-.1 2.1 1.4 2 .4 2.1-1.1 2.1.4 2 2.2 2.1.6 2.1-.8 2-.4 2.1 1 2.1.3 2-.5 2.1.2 2.1 1.5 2 .7 2.1-.8 2.1-.1 2 1.5 2.1.6 2.1-.9 2 .5 2.1 1.6 2.1.6"/>
<path d="M40.1 61.6l2.4 1.3 2.1-1.5-2.4-.7z" fill="#fb0"/>
<path d="M42.2 62.6l2.4.4 2.1-1.6-2.4-.2z" fill="#d90"/>
<path d="M44.3 62.8l2.5-.7 2-1.1-2.5.2z" fill="#c80"/>
<path d="M46.3 61.9l2.4 1.1 2.1-1.5-2.4-.7z" fill="#fc0"/>
<path d="M48.4 62.7l2.3 1.6 2.2-1.8-2.4-1.2z" fill="#fb0"/>
<path d="M50.4 64.1l2.5 0 2.1-1.2-2.4-.6z" fill="#d90"/>
<path d="M52.5 63.9l2.5-.4 2-1-2.5.2z" fill="#b80"/>
<path d="M54.6 63.3l2.3 1.5 2.2-2.3-2.4-.2z" fill="#fc0"/>
<path d="M56.6 64.6l2.4 1 2.2-2-2.4-1.3z" fill="#fa0"/>
<path d="M58.7 65.4l2.5-.2 2-.4-2.4-1.4z" fill="#fb0"/>
<path d="M60.8 64.9l2.4.3 2.1-1.1-2.6.8z" fill="#b80"/>
<path d="M62.8 65l2.4 1 2.1-2.1-2.4 0z" fill="#fa0"/>
<path d="M64.9 65.8l2.4.2 2.1-.9-2.4-1.4z" fill="#fc0"/>
<path d="M66.9 65.8l2.5-.9 2.1.8-2.5-.9z" fill="#b70"/>
<path d="M69 65.2l2.4 1.1 2.1-.9-2.5.4z" fill="#b70"/>
<path d="M71.1 66l2.4 1.6 2.1-2.4-2.4-.1z" fill="#fc0"/>
<path d="M73.2 67.4l2.3.4 2.2-1.7-2.4-1.1z" fill="#fa0"/>
<path d="M75.2 67.6l2.6-.9 1.9.9-2.4-1.8z" fill="#b70"/>
<path d="M77.3 66.8l2.4 1.5 2.1-.6-2.7-.2z" fill="#b70"/>
<path d="M79.3 68l2.4 1.8 2.1-3.1-2.4.7z" fill="#fa0"/>
<path d="M81.5 69.7l2.3-.6 2.1-2-2.3-.5z" fill="#b80"/>
<path d="M83.5 68.9l2.4-.1 2.1-.6-2.4-1.3z" fill="#f90"/>
<path d="M85.5 68.5l2.4 1.7 2.2-2-2.5-.3z" fill="#fb0"/>
<path d="M87.6 70l2.4 1.2 2.1-3.7-2.4.5z" fill="#d80"/>
<path d="M89.7 71l2.4-.5 2.1-2.3-2.4-.8z" fill="#c70"/>
<path d="M91.7 70.3l2.5-.1 2.1-.6-2.4-1.6z" fill="#fa0"/>
<path d="M93.8 69.9l2.4 1 2.1-1.5-2.4-.1z" fill="#e80"/>
<path d="M95.9 70.7l2.4.2 2.1-2.1-2.4.4z" fill="#b70"/>
<path d="M97.9 70.8l2.5-.3 2.1-1.1-2.4-.7z" fill="#c70"/>
<path d="M100 70.1l2.4 1 2.1-.1-2.4-1.8z" fill="#f80"/>
<path d="M102.1 70.7l2.3 2.2 2.2-1.3-2.4-1z" fill="#f90"/>
<path d="M104.1 72.7l2.4.4 2.1-2.5-2.4.7z" fill="#b70"/>
<path d="M106.2 73l2.4-.8 2.1-1.8-2.4.1z" fill="#b70"/>
<path d="M108.2 71.9l2.4 1.1 2.2-1.1-2.4-1.7z" fill="#f80"/>
<path d="M110.3 72.7l2.4 1.4 2.1-1.5-2.3-1z" fill="#fa0"/>
<path d="M112.4 73.9l2.4-.5 2.1-1.5-2.5.5z" fill="#c70"/>
<path d="M114.5 73.2l2.4.1 2.1-1.2-2.4-.3z" fill="#c70"/>
<path d="M116.5 73l2.4 2.1 2.1-1.6-2.3-1.6z" fill="#f80"/>
<path d="M118.6 74.8l2.4 1.1 2.1-1.7-2.4-1z" fill="#fb0"/>
<path d="M120.7 75.7l2.5-.9 2-1.2-2.5.3z" fill="#c80"/>
<path class="ed2" d="M42.3 61l2 .5 2.1 0 2.1-.4 2 .5 2.1 1 2.1.4 2-.4 2.1 0 2.1 1.1 2 1 2.1-.5 2.1-.2 2 1.1 2.1.5 2-.2 2.1-.1 2.1.8 2 1.4 2.1.1 2.1-.7 2 .3 2.1 1 2.1 0 2-.5 2.1.6 2.1 1.3 2-.1 2.1-.5 2.1.5 2 1.4 2.1.7 2.1-.8 2-.3 2.1 1.4 2 .7 2.1-.5 2.1.1 2 1.3 2.1.7 2.1-.5"/>
<path d="M38.2 63.1l2.5-.2 2.1-.3-2.4-1.3z" fill="#fb0"/>
<path d="M40.3 62.6l2.4.9 2.1-.8-2.5-.4z" fill="#b80"/>
<path d="M42.4 63.3l2.4.6 2.1-2.1-2.5.7z" fill="#c80"/>
<path d="M44.4 63.8l2.6-.8 2-.3-2.4-1.1z" fill="#c80"/>
<path d="M46.5 62.8l2.5-.1 2 1.4-2.4-1.7z" fill="#b70"/>
<path d="M48.6 62.8l2.3 2.3 2.2-1.4-2.6.5z" fill="#fa0"/>
<path d="M50.6 64.9l2.4 1 2.1-2.7-2.4.3z" fill="#d90"/>
<path d="M52.7 65.7l2.4-.6 2.1-.6-2.4-1.5z" fill="#ea0"/>
<path d="M54.7 64.9l2.5-.5 2.1 1-2.5-1.2z" fill="#b70"/>
<path d="M56.8 64.5l2.4 1.6 2.1-1.2-2.5.6z" fill="#b70"/>
<path d="M58.9 65.8l2.4 1.3 2.1-2.3-2.4-.2z" fill="#fc0"/>
<path d="M61 66.9l2.4 0 2.1-1.2-2.4-1.1z" fill="#fa0"/>
<path d="M63 66.6l2.4.3 2.1-1.2-2.4-.3z" fill="#c80"/>
<path d="M65.1 66.6l2.4 1.2 2.1-2.7-2.4.4z" fill="#d80"/>
<path d="M67.2 67.7l2.3 1 2.2-2.8-2.4-1z" fill="#e90"/>
<path d="M69.2 68.6l2.4-.4 2.1-.9-2.3-1.6z" fill="#fa0"/>
<path d="M71.3 68l2.6-.7 1.9.2-2.5-.5z" fill="#b70"/>
<path d="M73.3 67.5l2.4 1 2.2-1.7-2.7.6z" fill="#b70"/>
<path d="M75.4 68.2l2.4 1.2 2.1-1.4-2.4-1.4z" fill="#fa0"/>
<path d="M77.5 69.2l2.5 0 2 .4-2.4-1.9z" fill="#fa0"/>
<path d="M79.5 69l2.5-.7 2.1.5-2.5 1z" fill="#b80"/>
<path d="M81.6 68.6l2.4 1.3 2.1-1.4-2.6.2z" fill="#b70"/>
<path d="M83.7 69.6l2.3 1.6 2.2-1.3-2.4-1.7z" fill="#f90"/>
<path d="M85.7 71l2.5.1 2.1-.2-2.4-1.3z" fill="#ea0"/>
<path d="M87.8 70.9l2.4-.9 2.1.2-2.4.9z" fill="#c80"/>
<path d="M89.9 70.2l2.4.9 2.1-1.2-2.6.1z" fill="#b70"/>
<path d="M91.9 70.8l2.4 1.5 2.2-1.7-2.4-1z" fill="#fa0"/>
<path d="M94 72.1l2.4.3 2.1-1.9-2.4-.2z" fill="#d80"/>
<path d="M96.1 72.2l2.4-.2 2.1-2-2.4.3z" fill="#b70"/>
<path d="M98.1 71.8l2.4.6 2.1-1.6-2.3-.9z" fill="#f90"/>
<path d="M100.2 72.1l2.4 1.8 2.1-1.2-2.4-2.2z" fill="#f90"/>
<path d="M102.2 73.6l2.5.5 2.1-1.3-2.4-.5z" fill="#e90"/>
<path d="M104.3 74l2.5-.6 2-1.6-2.5.8z" fill="#c80"/>
<path d="M106.4 73.1l2.4.7 2.1-1.1-2.4-1.1z" fill="#fa0"/>
<path d="M108.4 73.5l2.4 1.5 2.2-1.2-2.4-1.4z" fill="#f90"/>
<path d="M110.5 74.8l2.4.7 2.1-2.5-2.4.5z" fill="#c70"/>
<path d="M112.6 75.3l2.4-.3 2.1-2.1-2.4 0z" fill="#b60"/>
<path d="M114.6 74.8l2.5.3 2.1-.3-2.4-2.1z" fill="#f90"/>
<path d="M116.7 74.7l2.4 1.2 2.1-.3-2.4-1.1z" fill="#f80"/>
<path d="M118.8 75.6l2.4 1 2.1-2.1-2.6 1.2z" fill="#b70"/>
<path class="ed2" d="M40.4 61.6l2.1 1 2 .1 2.1-.8 2.1.8 2 1.3 2.1-.2 2.1-.5 2 1.2 2.1.8 2-.4 2.1 0 2.1.8 2 0 2.1-.5 2.1.8 2 1.3 2.1.2 2.1-.6 2 1.1 2.1 1.5 2.1-.7 2-.3 2.1 1.4 2.1 1 2-.7 2.1-.3 2.1.7 2 0 2.1-.4 2.1.6 2 1.8 2.1.2 2-.9 2.1.8 2.1 1.1 2-.6 2.1-.2 2.1 1.8 2 .8 2.1-1"/>
<path d="M36.4 64.8l2.4-.4 2.1-1.9-2.4.2z" fill="#b80"/>
<path d="M38.4 64.2l2.4.3 2.2-1.3-2.4-.8z" fill="#fb0"/>
<path d="M40.5 64.2l2.4 1.3 2.1-1.9-2.4-.7z" fill="#fd0"/>
<path d="M42.6 65.3l2.3.3 2.1-2.9-2.3.6z" fill="#b80"/>
<path d="M44.7 65.5l2.3-.2 2.1-2.5-2.3-.3z" fill="#b80"/>
<path d="M46.7 65l2.4.7 2.1-.9-2.4-2.1z" fill="#fa0"/>
<path d="M48.7 65.3l2.4 1.2 2.2-.9-2.4-1.1z" fill="#fb0"/>
<path d="M50.8 66.2l2.4.2 2.1-1.7-2.5.6z" fill="#b80"/>
<path d="M52.9 66.2l2.6-.8 1.9-.9-2.4.1z" fill="#c80"/>
<path d="M54.9 65.2l2.4 1.4 2.2-.8-2.4-1.5z" fill="#f90"/>
<path d="M57 66.3l2.4 2.1 2.1-1.6-2.4-1.3z" fill="#fa0"/>
<path d="M59.1 68.2l2.4.1 2.1-1.9-2.4.1z" fill="#c80"/>
<path d="M61.2 68.2l2.4-1.9 2.1.2-2.5-.2z" fill="#c80"/>
<path d="M63.2 66.6l2.5.9 2 .1-2.4-1.3z" fill="#b70"/>
<path d="M65.3 67.1l2.4 2.3 2.1-.9-2.4-1.2z" fill="#fa0"/>
<path d="M67.3 69.2l2.5.1 2-1.5-2.4.4z" fill="#b80"/>
<path d="M69.4 69.1l2.5-.3 2-1.4-2.4.3z" fill="#c80"/>
<path d="M71.5 68.5l2.3 1.6 2.2-2-2.4-.9z" fill="#fa0"/>
<path d="M73.5 69.9l2.4 1.1 2.2-1.9-2.4-1.2z" fill="#fb0"/>
<path d="M75.6 70.8l2.4-.5 2.1-1.4-2.4-.1z" fill="#b80"/>
<path d="M77.7 70.1l2.4-.1 2.1-1.5-2.5.2z" fill="#b70"/>
<path d="M79.7 69.7l2.4 1.4 2.2-1.5-2.4-1.3z" fill="#f90"/>
<path d="M81.8 70.8l2.4.9 2.1-.7-2.4-1.7z" fill="#fa0"/>
<path d="M83.9 71.5l2.4-1 2.1.3-2.6 0z" fill="#b70"/>
<path d="M85.9 70.8l2.4.7 2.1-1.3-2.6.8z" fill="#b70"/>
<path d="M88 71.2l2.4 2 2.1-2.5-2.4-.8z" fill="#f90"/>
<path d="M90.1 73l2.3.9 2.2-2-2.4-1.4z" fill="#fa0"/>
<path d="M92.1 73.8l2.5-.7 2-1.1-2.4-.3z" fill="#b70"/>
<path d="M94.2 72.9l2.4.2 2.1-1.5-2.5.2z" fill="#c70"/>
<path d="M96.2 72.9l2.4 1.5 2.2-2.4-2.4-.6z" fill="#fa0"/>
<path d="M98.3 74.2l2.4-.1 2.1-.5-2.3-1.8z" fill="#fb0"/>
<path d="M100.4 73.8l2.4-1.1 2.1 1.2-2.6-.2z" fill="#b70"/>
<path d="M102.4 72.9l2.5 1.1 2.1-.9-2.5 1z" fill="#b60"/>
<path d="M104.5 73.7l2.4 1.5 2.1-1.8-2.4-.6z" fill="#fa0"/>
<path d="M106.6 75l2.4-.1 2.1-.2-2.4-1.5z" fill="#f90"/>
<path d="M108.6 74.6l2.6-.1 2 .7-2.6-.7z" fill="#b60"/>
<path d="M110.7 74.6l2.4 1.9 2.1-1.8-2.6.4z" fill="#f80"/>
<path d="M112.8 76.2l2.3 1.2 2.2-2.7-2.4-.3z" fill="#f80"/>
<path d="M114.9 77.3l2.3-.4 2.2-1.3-2.4-1.1z" fill="#d80"/>
<path d="M116.9 76.6l2.4.3 2.1-.6-2.4-1z" fill="#e80"/>
<path class="ed2" d="M38.5 63l2.1-.4 2.1.6 2 .4 2.1-.8 2 .2 2.1 1.8 2.1.8 2-.8 2.1-.2 2.1 1.2 2 1 2.1-.2 2.1 0 2 .9 2.1.9 2.1-.5 2-.4 2.1.7 2.1.9 2-.1 2.1-.4 2.1 1 2 1.3 2.1-.1 2.1-.6 2 .6 2.1 1.2 2 .1 2.1-.4 2.1.4 2 1.5 2.1.2 2.1-.7 2 .4 2.1 1.2 2.1.5 2-.5 2.1.1 2.1.8 2 .7"/>
<path d="M34.5 63.8l2.5.8 2-.5-2.4.9z" fill="#b70"/>
<path d="M36.5 64.3l2.4 2 2.2-2.2-2.4-.3z" fill="#fc0"/>
<path d="M38.6 66.1l2.4.2 2.1-1.1-2.3-1.3z" fill="#fc0"/>
<path d="M40.7 66.1l2.6-.9 1.9.1-2.4-.4z" fill="#b80"/>
<path d="M42.7 65.4l2.4 1 2.2-1.5-2.6.2z" fill="#d90"/>
<path d="M44.8 66.1l2.4 1.4 2.1-2.2-2.4-.6z" fill="#fc0"/>
<path d="M46.9 67.3l2.4.4 2.1-1.6-2.4-1z" fill="#fc0"/>
<path d="M49 67.5l2.5-.6 2-.9-2.5-.1z" fill="#b80"/>
<path d="M51 66.7l2.4.6 2.1-2.2-2.5.7z" fill="#b70"/>
<path d="M53.1 67l2.3 1.5 2.2-2.2-2.4-1.3z" fill="#f90"/>
<path d="M55.1 68.3l2.4.8 2.2-1-2.4-2.1z" fill="#fb0"/>
<path d="M57.2 68.9l2.7-.6 1.8-.3-2.5-.2z" fill="#b80"/>
<path d="M59.3 68.4l2.4 0 2.1-1.9-2.5 1.8z" fill="#c80"/>
<path d="M61.3 68.2l2.4 1.4 2.1-2.4-2.3-.9z" fill="#f90"/>
<path d="M63.4 69.4l2.4.9 2.1-1.1-2.4-2.2z" fill="#fa0"/>
<path d="M65.5 70.1l2.5-.4 2-.8-2.5-.1z" fill="#b80"/>
<path d="M67.5 69.6l2.6-.3 1.9-.9-2.6.5z" fill="#c70"/>
<path d="M69.6 69.1l2.4 1.5 2.1-.7-2.4-1.7z" fill="#f90"/>
<path d="M71.6 70.3l2.4 1.3 2.2-.9-2.4-1.2z" fill="#fa0"/>
<path d="M73.7 71.4l2.7-.8 1.8-.7-2.6.9z" fill="#c80"/>
<path d="M75.8 70.7l2.6-.6 1.9-.5-2.6.2z" fill="#b70"/>
<path d="M77.8 70l2.4 1.6 2.2-.8-2.4-1.4z" fill="#f80"/>
<path d="M79.9 71.3l2.4 1.9 2.1-1.8-2.4-.9z" fill="#fa0"/>
<path d="M82 73l2.4-.4 2.1-2-2.4.5z" fill="#b70"/>
<path d="M84.1 72.4l2.4-.2 2.1-1-2.4-.7z" fill="#c70"/>
<path d="M86.1 71.8l2.4 1.6 2.1-.4-2.4-2z" fill="#f80"/>
<path d="M88.2 73.1l2.4 1.5 2.1-.9-2.4-1.1z" fill="#fa0"/>
<path d="M90.2 74.4l2.5-.3 2-1.4-2.6 1z" fill="#c80"/>
<path d="M92.3 73.9l2.5-.1 2-1-2.4-.3z" fill="#b70"/>
<path d="M94.4 73.5l2.4.9 2.1-.3-2.4-1.6z" fill="#f90"/>
<path d="M96.4 74.1l2.4 1.4 2.2-1.8-2.5.1z" fill="#f90"/>
<path d="M98.5 75.3l2.4.6 2.1-3.1-2.4.7z" fill="#b70"/>
<path d="M100.6 75.8l2.4-.3 2.1-1.9-2.4-.9z" fill="#c70"/>
<path d="M102.6 75.3l2.4.9 2.2-1.3-2.4-1.5z" fill="#fa0"/>
<path d="M104.7 75.9l2.4 1 2.1-2.3-2.4 0z" fill="#e80"/>
<path d="M106.8 76.7l2.4-.4 2.1-1.7-2.4-.2z" fill="#b60"/>
<path d="M108.8 76.1l2.7-.7 1.8.9-2.3-1.9z" fill="#e70"/>
<path d="M110.9 75.4l2.4 1.9 2.1-.1-2.4-1.3z" fill="#b60"/>
<path d="M112.9 77l2.4 1.5 2.2-2-2.6.4z" fill="#e90"/>
<path d="M115 78.4l2.4-.3 2.1-1.6-2.4-.2z" fill="#b70"/>
<path class="ed2" d="M36.6 64.7l2.1-.6 2.1.1 2 1 2.1.2 2.1-.4 2 .4 2.1.8 2.1-.1 2-.8 2.1 1 2.1 1.8 2-.1 2.1-1.4 2.1.7 2 1.8 2.1-.1 2.1-.5 2 1.3 2.1.9 2-.7 2.1-.3 2.1 1.1 2 .6 2.1-.6 2.1.5 2 1.6 2.1.7 2.1-.8 2 0 2.1 1.3 2.1-.3 2-.8 2.1.7 2.1 1.2 2-.2 2.1 0 2.1 1.5 2 .9 2.1-.5 2 0"/>
<path d="M32.6 65.6l2.4.4 2.1-1.7-2.4-.7z" fill="#fa0"/>
<path d="M34.7 65.7l2.4.9 2.1-.6-2.4-1.9z" fill="#fb0"/>
<path d="M36.7 66.3l2.5.7 2.1-1-2.5-.3z" fill="#b80"/>
<path d="M38.8 66.7l2.4.3 2.1-1.7-2.5.4z" fill="#b80"/>
<path d="M40.9 66.7l2.4.6 2.1-1.2-2.4-1z" fill="#fc0"/>
<path d="M42.9 67l2.4 1 2.2-.8-2.4-1.4z" fill="#fb0"/>
<path d="M45 67.7l2.4.5 2.1-.8-2.4-.5z" fill="#b80"/>
<path d="M47.1 68l2.4.2 2.1-1.7-2.6.7z" fill="#b80"/>
<path d="M49.1 68l2.4.6 2.2-1.7-2.4-.5z" fill="#fa0"/>
<path d="M51.2 68.4l2.4.9 2.1-1-2.4-1.6z" fill="#fb0"/>
<path d="M53.3 69l2.4.5 2.1-.7-2.4-.9z" fill="#ea0"/>
<path d="M55.3 69.3l2.5.2 2-1.3-2.5.4z" fill="#b80"/>
<path d="M57.4 69.3l2.4.7 2.1-2-2.4 0z" fill="#d80"/>
<path d="M59.4 69.8l2.4.8 2.2-1.3-2.4-1.5z" fill="#fb0"/>
<path d="M61.5 70.4l2.4.3 2.1-.7-2.4-1z" fill="#fa0"/>
<path d="M63.6 70.5l2.4.4 2.1-1.5-2.6.4z" fill="#b70"/>
<path d="M65.6 70.7l2.4.9 2.1-2.6-2.3.2z" fill="#d80"/>
<path d="M67.7 71.4l2.4.7 2.1-1.8-2.3-1.5z" fill="#fa0"/>
<path d="M69.8 71.9l2.4.1 2.1-.7-2.4-1.3z" fill="#fb0"/>
<path d="M71.8 71.8l2.4.6 2.2-1.9-2.6.6z" fill="#c80"/>
<path d="M73.9 72.2l2.4.9 2.1-3.2-2.4.4z" fill="#c70"/>
<path d="M76 73l2.4.4 2.1-2.1-2.4-1.5z" fill="#e80"/>
<path d="M78 73.1l2.5.2 2.1-.4-2.4-1.9z" fill="#fb0"/>
<path d="M80.1 73.1l2.4.8 2.1-1.7-2.6.5z" fill="#b70"/>
<path d="M82.2 73.7l2.3.8 2.2-2.8-2.4.3z" fill="#c80"/>
<path d="M84.2 74.3l2.4.1 2.2-1.3-2.4-1.5z" fill="#fa0"/>
<path d="M86.3 74.2l2.5.2 2-.1-2.4-1.5z" fill="#f90"/>
<path d="M88.4 74.1l2.4 1 2.1-1.4-2.7.6z" fill="#b70"/>
<path d="M90.4 74.9l2.4.7 2.1-2.2-2.4.1z" fill="#d80"/>
<path d="M92.5 75.5l2.4.1 2.1-1.6-2.4-.8z" fill="#e80"/>
<path d="M94.6 75.3l2.4.5 2.1-.6-2.4-1.4z" fill="#f90"/>
<path d="M96.6 75.5l2.4 1 2.2-.9-2.5-.7z" fill="#f90"/>
<path d="M98.7 76.2l2.4.6 2.1-1.7-2.5.3z" fill="#c70"/>
<path d="M100.8 76.6l2.4.2 2.1-.9-2.4-1z" fill="#f80"/>
<path d="M102.8 76.5l2.4.8 2.1-.7-2.4-1z" fill="#f90"/>
<path d="M104.9 77l2.4.9 2.1-2-2.5.4z" fill="#c70"/>
<path d="M107 77.8l2.3.3 2.1-2.7-2.3.3z" fill="#b60"/>
<path d="M109 77.9l2.4.2 2.1-1.1-2.3-1.7z" fill="#f90"/>
<path d="M111.1 77.8l2.4.8 2.1-.3-2.4-1.6z" fill="#f80"/>
<path d="M113.1 78.3l2.4 1 2.2-1.6-2.6.3z" fill="#b70"/>
<path class="ed2" d="M34.8 63.9l2 .5 2.1 1.6 2.1 0 2-.6 2.1.7 2.1 1.1 2 .2 2.1-.7 2.1.3 2 1.2 2.1.6 2.1-.5 2-.2 2.1 1.2 2.1.7 2-.5 2.1-.4 2 1.2 2.1 1 2.1-.7 2-.5 2.1 1.2 2.1 1.6 2-.6 2.1-.4 2.1 1.2 2 1.2 2.1-.5 2.1-.3 2 .6 2.1 1.1 2.1.4 2-.4 2.1.7 2 .7 2.1-.6 2.1-.4 2 1.4 2.1 1.2 2.1-.4"/>
<path class="ed2" d="M32.9 65.5l2.1.2 2 .6 2.1.4 2.1 0 2 .3 2.1.7 2.1.2 2 0 2.1.4 2.1.7 2 .2 2.1 0 2 .5 2.1.6 2.1.1 2 .2 2.1.7 2.1.5 2-.1 2.1.4 2.1.7 2 .3 2.1 0 2.1.5 2 .6 2.1-.1 2.1.1 2 .6 2.1.5 2 0 2.1.2 2.1.7 2 .3 2.1 0 2.1.5 2 .6 2.1.2 2.1 0 2 .5 2.1.7"/>
<text x="2.5" y="17" class="pl">a</text>
<text x="83.2" y="19.5" text-anchor="middle" class="tt">0.00 μM</text>
<text x="17.6" y="40.3" class="tm">×</text>
<text x="24" y="40.5" class="tk">10<tspan dy="-6.2" class="sup">-3</tspan></text>
<text transform="translate(14.3 67.3) rotate(-90)" text-anchor="middle" class="al">Abs</text>
<text transform="translate(29.4 133.6) rotate(9)" class="al">Wave no. [cm<tspan dy="-3.6" class="sup2">-1</tspan><tspan dy="3.6">]</tspan></text>
<text transform="translate(123.5 144.6) rotate(-27.5)" class="al">Spectrum no.</text>
</g>
<g>
<line x1="214.3" y1="65.52" x2="259.3" y2="41.62" stroke="#e4e4e4" stroke-width="0.6"/>
<line x1="259.3" y1="41.62" x2="341.9" y2="54.82" stroke="#e4e4e4" stroke-width="0.6"/>
<line x1="214.3" y1="82.97" x2="259.3" y2="59.07" stroke="#e4e4e4" stroke-width="0.6"/>
<line x1="259.3" y1="59.07" x2="341.9" y2="72.27" stroke="#e4e4e4" stroke-width="0.6"/>
<line x1="214.3" y1="100.42" x2="259.3" y2="76.52" stroke="#e4e4e4" stroke-width="0.6"/>
<line x1="259.3" y1="76.52" x2="341.9" y2="89.72" stroke="#e4e4e4" stroke-width="0.6"/>
<line x1="281.77" y1="87.09" x2="281.77" y2="27.76" stroke="#e4e4e4" stroke-width="0.6"/>
<line x1="236.77" y1="110.99" x2="281.77" y2="87.09" stroke="#e4e4e4" stroke-width="0.6"/>
<line x1="305.47" y1="90.88" x2="305.47" y2="31.55" stroke="#e4e4e4" stroke-width="0.6"/>
<line x1="260.47" y1="114.78" x2="305.47" y2="90.88" stroke="#e4e4e4" stroke-width="0.6"/>
<line x1="329.18" y1="94.67" x2="329.18" y2="35.34" stroke="#e4e4e4" stroke-width="0.6"/>
<line x1="284.18" y1="118.57" x2="329.18" y2="94.67" stroke="#e4e4e4" stroke-width="0.6"/>
<line x1="238.29" y1="94.66" x2="238.29" y2="35.33" stroke="#e4e4e4" stroke-width="0.6"/>
<line x1="238.29" y1="94.66" x2="320.88" y2="107.86" stroke="#e4e4e4" stroke-width="0.6"/>
<line x1="214.3" y1="107.4" x2="296.9" y2="120.6" stroke="#6e6e6e" stroke-width="0.8"/>
<line x1="296.9" y1="120.6" x2="341.9" y2="96.7" stroke="#6e6e6e" stroke-width="0.8"/>
<line x1="341.9" y1="96.7" x2="259.3" y2="83.5" stroke="#6e6e6e" stroke-width="0.8"/>
<line x1="259.3" y1="83.5" x2="214.3" y2="107.4" stroke="#6e6e6e" stroke-width="0.8"/>
<line x1="214.3" y1="107.4" x2="214.3" y2="48.07" stroke="#6e6e6e" stroke-width="0.8"/>
<line x1="259.3" y1="83.5" x2="259.3" y2="24.17" stroke="#6e6e6e" stroke-width="0.8"/>
<line x1="341.9" y1="96.7" x2="341.9" y2="37.37" stroke="#6e6e6e" stroke-width="0.8"/>
<line x1="214.3" y1="48.07" x2="259.3" y2="24.17" stroke="#6e6e6e" stroke-width="0.8"/>
<line x1="259.3" y1="24.17" x2="341.9" y2="37.37" stroke="#6e6e6e" stroke-width="0.8"/>
<line x1="236.77" y1="110.99" x2="238.34" y2="110.15" stroke="#6e6e6e" stroke-width="0.8"/>
<text x="230.17" y="122.69" text-anchor="middle" class="tk">1400</text>
<line x1="260.47" y1="114.78" x2="262.05" y2="113.94" stroke="#6e6e6e" stroke-width="0.8"/>
<text x="253.87" y="126.48" text-anchor="middle" class="tk">1300</text>
<line x1="284.18" y1="118.57" x2="285.75" y2="117.73" stroke="#6e6e6e" stroke-width="0.8"/>
<text x="277.58" y="130.27" text-anchor="middle" class="tk">1200</text>
<line x1="296.9" y1="120.6" x2="295.25" y2="120.34" stroke="#6e6e6e" stroke-width="0.8"/>
<text x="302.7" y="130.1" text-anchor="middle" class="tk">0</text>
<line x1="320.88" y1="107.86" x2="319.23" y2="107.6" stroke="#6e6e6e" stroke-width="0.8"/>
<text x="328.88" y="118.86" text-anchor="middle" class="tk">50</text>
<line x1="214.3" y1="48.07" x2="212.48" y2="47.78" stroke="#6e6e6e" stroke-width="0.8"/>
<text x="210.7" y="52.67" text-anchor="end" class="tk">5</text>
<line x1="214.3" y1="65.52" x2="212.48" y2="65.23" stroke="#6e6e6e" stroke-width="0.8"/>
<text x="210.7" y="70.12" text-anchor="end" class="tk">0</text>
<line x1="214.3" y1="82.97" x2="212.48" y2="82.68" stroke="#6e6e6e" stroke-width="0.8"/>
<text x="210.7" y="87.57" text-anchor="end" class="tk">-5</text>
<line x1="214.3" y1="100.42" x2="212.48" y2="100.13" stroke="#6e6e6e" stroke-width="0.8"/>
<text x="210.7" y="105.02" text-anchor="end" class="tk">-10</text>
<path d="M257.2 48.4l2.4-1 2-3.1-2.3 3.7z" fill="#aa1"/>
<path d="M259.2 47.3l2.4-.9 2.1-1.7-2.4-.5z" fill="#c90"/>
<path d="M261.3 46.2l2.4-1.3 2.1.9-2.4-1.3z" fill="#b80"/>
<path d="M263.3 45.1l2.5.8 2.1-.7-2.5.8z" fill="#b80"/>
<path d="M265.4 45.7l2.4.9 2.1-2.4-2.5.8z" fill="#c90"/>
<path d="M267.5 46.4l2.4-.3 2.1-1.6-2.4-.4z" fill="#c90"/>
<path d="M269.5 45.9l2.5-1.3 2.1.5-2.5-.8z" fill="#b80"/>
<path d="M271.6 44.8l2.4 1 2.1-.9-2.6.2z" fill="#b80"/>
<path d="M273.6 45.6l2.4 1.2 2.2-2.4-2.4.2z" fill="#fb0"/>
<path d="M275.7 46.6l2.4.3 2.1-2.1-2.3-.6z" fill="#e90"/>
<path d="M277.8 46.7l2.4-.3 2.1-.5-2.4-1.3z" fill="#fa0"/>
<path d="M279.8 46.1l2.5.7 2.1-.8-2.5-.3z" fill="#b70"/>
<path d="M281.9 46.5l2.4 1.3 2.1-2.5-2.4.5z" fill="#e90"/>
<path d="M284 47.6l2.4.6 2.1-3-2.4 0z" fill="#d70"/>
<path d="M286.1 48l2.4-.4 2.1-1-2.4-1.5z" fill="#f90"/>
<path d="M288.1 47.3l2.4 1 2.1-.7-2.4-1.3z" fill="#f90"/>
<path d="M290.2 48l2.3 1.7 2.2-3-2.4.5z" fill="#f90"/>
<path d="M292.3 49.5l2.3 0 2.1-2.9-2.3 0z" fill="#b70"/>
<path d="M294.3 49.4l2.4-.6 2.1-.8-2.4-1.6z" fill="#e80"/>
<path d="M296.4 48.5l2.4.6 2.1.2-2.4-1.5z" fill="#b60"/>
<path d="M298.4 48.8l2.4 1.5 2.1-2.1-2.5 1.3z" fill="#b60"/>
<path d="M300.5 50.1l2.4 1.1 2.1-3.6-2.4.4z" fill="#c70"/>
<path d="M302.6 51l2.3 0 2.2-2.1-2.4-1.4z" fill="#d70"/>
<path d="M304.6 50.8l2.5-.2 2.1 0-2.4-1.9z" fill="#f90"/>
<path d="M306.7 50.3l2.5.9 2-.4-2.5-.5z" fill="#b60"/>
<path d="M308.8 50.9l2.4.9 2.1-1.7-2.6.5z" fill="#b60"/>
<path d="M310.8 51.6l2.5-.5 2-.9-2.4-.3z" fill="#b50"/>
<path d="M312.9 50.9l2.4-.9 2.1 1.6-2.4-1.6z" fill="#b50"/>
<path d="M315 50.1l2.4 2.1 2.1-.5-2.5.1z" fill="#b50"/>
<path d="M317 51.8l2.4 2.1 2.1-3.4-2.4.8z" fill="#f70"/>
<path d="M319.1 53.8l2.4-.2 2.1-3.2-2.4 0z" fill="#b50"/>
<path d="M321.2 53.5l2.4-.8 2.1-.6-2.4-1.8z" fill="#e60"/>
<path d="M323.2 52.3l2.4 1.4 2.1-.7-2.4-1.2z" fill="#f60"/>
<path d="M325.3 53.4l2.4 1.7 2.1-2.7-2.4.3z" fill="#f80"/>
<path d="M327.4 55l2.3.2 2.1-2.7-2.3-.3z" fill="#c50"/>
<path d="M329.4 55l2.4-.4 2.1-.9-2.3-1.4z" fill="#e60"/>
<path d="M331.5 54.3l2.4.7 2.1-.7-2.4-.9z" fill="#e60"/>
<path d="M333.5 54.7l2.4 1.2 2.1-2.4-2.4.5z" fill="#d50"/>
<path d="M335.6 55.8l2.4.1 2.1-2.6-2.4.1z" fill="#c40"/>
<path d="M337.7 55.8l2.4-.5 2.1-.8-2.4-1.4z" fill="#e40"/>
<path class="ed2" d="M259.3 47.7l2.1-3.2 2 .3 2.1.9 2.1-.4 2-.9 2.1.2 2.1.5 2-.2 2.1-.4 2.1.4 2 1 2.1.1 2-.5 2.1-.1 2.1 1.2 2 .9 2.1-.6 2.1-.2 2 1.4 2.1 1.1 2.1-.9 2-.5 2.1 1.2 2.1 1.5 2 .3 2.1-.6 2.1.1 2 1.2 2.1.1 2-.9 2.1-.1 2.1 1.5 2 .9 2.1-.5 2.1.1 2 1.1 2.1.6 2.1-.7 2-.2 2.1 1.1"/>
<path d="M255.3 48.5l2.4-1.7 2.1.2-2.4 1.5z" fill="#aa1"/>
<path d="M257.3 47.1l2.4-1.2 2.1.1-2.4 1.4z" fill="#c90"/>
<path d="M259.4 46.3l2.6-.3 1.9-1-2.4 1.4z" fill="#c80"/>
<path d="M261.4 45.9l2.4 1.5 2.2-1.8-2.4-.8z" fill="#fc0"/>
<path d="M263.5 47.2l2.4 1.1 2.1-2.1-2.3-.8z" fill="#fc0"/>
<path d="M265.6 48.1l2.4-.8 2.1-1.6-2.4.3z" fill="#b80"/>
<path d="M267.7 47.1l2.4-.3 2-2.1-2.4.8z" fill="#b80"/>
<path d="M269.7 46.5l2.4 1.2 2.1-2.2-2.3-.9z" fill="#fb0"/>
<path d="M271.8 47.5l2.4.8 2.1-1.8-2.4-1.2z" fill="#fb0"/>
<path d="M273.9 48.1l2.6-1.2 1.9-.4-2.4-.3z" fill="#b80"/>
<path d="M275.9 47l2.5-.9 2 0-2.6.6z" fill="#b70"/>
<path d="M278 46.3l2.4 1.7 2.1-1.5-2.4-.7z" fill="#f90"/>
<path d="M280 47.7l2.4.9 2.2-1.1-2.4-1.3z" fill="#fa0"/>
<path d="M282.1 48.4l2.6-.6 1.9 0-2.4-.6z" fill="#b70"/>
<path d="M284.2 47.9l2.6-.2 1.9-.4-2.5.8z" fill="#b70"/>
<path d="M286.2 47.7l2.4 1.4 2.2-1.1-2.4-1z" fill="#f80"/>
<path d="M288.3 48.8l2.4 1 2.1-.4-2.4-1.7z" fill="#f90"/>
<path d="M290.4 49.5l2.4-.7 2.1.4-2.6.3z" fill="#b70"/>
<path d="M292.4 49.1l2.5.5 2-1.2-2.4 1.1z" fill="#b60"/>
<path d="M294.5 49.3l2.4 2.1 2.1-2.6-2.4-.6z" fill="#f80"/>
<path d="M296.6 51.1l2.3.9 2.2-2.1-2.4-1.3z" fill="#f90"/>
<path d="M298.6 51.8l2.6-.6 2-.3-2.4-1.2z" fill="#d80"/>
<path d="M300.7 51l2.5.4 2-.7-2.6 0z" fill="#b60"/>
<path d="M302.7 51.1l2.4 1.4 2.2-2.3-2.5.2z" fill="#f80"/>
<path d="M304.8 52.3l2.4-.2 2.1-1.3-2.3-.7z" fill="#d70"/>
<path d="M306.9 51.9l2.4-1.1 2.1.7-2.4-.9z" fill="#b60"/>
<path d="M308.9 51l2.5 1 2.1-1.2-2.5.9z" fill="#b50"/>
<path d="M311 51.8l2.4 1.7 2.1-3.4-2.4.5z" fill="#e60"/>
<path d="M313.1 53.4l2.4.1 2.1-1.7-2.4-1.8z" fill="#f60"/>
<path d="M315.1 53.3l2.7-.3 1.9.7-2.4-2.1z" fill="#f70"/>
<path d="M317.2 52.8l2.4 1.6 2.1-1.1-2.5.5z" fill="#b50"/>
<path d="M319.3 54.2l2.3 1.4 2.1-3.4-2.3.8z" fill="#d60"/>
<path d="M321.4 55.5l2.3-.4 2.2-1.8-2.4-1.2z" fill="#d60"/>
<path d="M323.4 54.9l2.6-.7 1.9.7-2.4-1.8z" fill="#e60"/>
<path d="M325.5 54.2l2.4 1.5 2.1-.8-2.6-.2z" fill="#b50"/>
<path d="M327.5 55.5l2.4 1 2.1-2.3-2.4.4z" fill="#d60"/>
<path d="M329.6 56.3l2.4-.3 2.1-1.4-2.4-.6z" fill="#c50"/>
<path d="M331.7 55.8l2.4.7 2.1-.9-2.4-1.2z" fill="#f60"/>
<path d="M333.7 56.2l2.4 1.5 2.1-2.1-2.4-.3z" fill="#f80"/>
<path d="M335.8 57.5l2.4.7 2.1-3.4-2.4.5z" fill="#c50"/>
<path class="ed2" d="M257.4 48.2l2.1-1.1 2.1-1 2-1 2.1.5 2.1.7 2-.5 2.1-.9 2 .7 2.1.9 2.1.1 2-.5 2.1.4 2.1 1 2 .4 2.1-.6 2.1.7 2 1.4 2.1-.2 2.1-.7 2 .4 2.1 1.1 2.1.9 2-.2 2.1-.3 2 .5 2.1.6 2.1-.6 2-.6 2.1 1.6 2.1 1.7 2-.3 2.1-.9 2.1 1 2 1.4 2.1.1 2.1-.6 2 .4 2.1.9 2.1 0 2-.6"/>
<path d="M253.4 49l2.4-2.5 2.1.5-2.4 1.7z" fill="#aa1"/>
<path d="M255.4 46.8l2.4 1.2 2.2-1.9-2.6 1.2z" fill="#ea0"/>
<path d="M257.5 47.8l2.4.7 2.1-2.8-2.4.2z" fill="#da0"/>
<path d="M259.6 48.3l2.4-1.8 2.1.7-2.4-1.6z" fill="#c90"/>
<path d="M261.6 46.7l2.4-.6 2.1 2-2.5-.8z" fill="#b80"/>
<path d="M263.7 46.3l2.4 1.9 2.1-1.2-2.4 1.3z" fill="#b80"/>
<path d="M265.8 48l2.4 1.1 2.1-2.8-2.4.4z" fill="#ea0"/>
<path d="M267.9 49l2.3-.3 2.2-1.4-2.4-1.1z" fill="#ea0"/>
<path d="M269.9 48.5l2.5-1.1 2 .6-2.4-.9z" fill="#b80"/>
<path d="M272 47.6l2.4 1.2 2.1-1.9-2.5 1.3z" fill="#b80"/>
<path d="M274 48.6l2.4.6 2.1-3-2.3.5z" fill="#c80"/>
<path d="M276.1 49.1l2.4-.7 2.1-.7-2.4-1.6z" fill="#e90"/>
<path d="M278.2 48.1l2.4.6 2.1-.3-2.4-1z" fill="#b70"/>
<path d="M280.2 48.4l2.4 1.9 2.1-2.6-2.4.3z" fill="#fb0"/>
<path d="M282.3 50.2l2.4.5 2.1-3.2-2.4.1z" fill="#c70"/>
<path d="M284.4 50.6l2.4-.9 2.1-.9-2.4-1.4z" fill="#c70"/>
<path d="M286.4 49.5l2.5.2 2.1-.2-2.5-1z" fill="#b60"/>
<path d="M288.5 49.4l2.4 1.9 2.1-2.4-2.5.3z" fill="#fa0"/>
<path d="M290.6 51.1l2.3.7 2.2-2.6-2.4-.4z" fill="#d70"/>
<path d="M292.6 51.6l2.5-.5 2 0-2.3-2.1z" fill="#fa0"/>
<path d="M294.7 50.8l2.6.2 1.9.8-2.5-1z" fill="#b60"/>
<path d="M296.7 51.1l2.5 1.1 2.1-1.3-2.5 1.1z" fill="#b60"/>
<path d="M298.8 52l2.4.7 2.1-1.6-2.4-.4z" fill="#f80"/>
<path d="M300.9 52.4l2.5 0 2-.2-2.4-1.4z" fill="#e80"/>
<path d="M302.9 52.1l2.5.6 2.1-.9-2.7.5z" fill="#b60"/>
<path d="M305 52.5l2.4 1.2 2.1-2.8-2.4.7z" fill="#d60"/>
<path d="M307.1 53.5l2.4.1 2.1-1.9-2.4-1z" fill="#d60"/>
<path d="M309.1 53.4l2.7-.8 1.9.7-2.4-1.8z" fill="#e60"/>
<path d="M311.2 52.6l2.4 1.5 2.1-.9-2.6-.1z" fill="#b50"/>
<path d="M313.3 53.8l2.3 1.3 2.2-2.3-2.4.1z" fill="#f70"/>
<path d="M315.3 54.9l2.4.2 2.2-1-2.4-1.5z" fill="#f80"/>
<path d="M317.4 54.8l2.4-1.1 2.1 1.7-2.4-1.6z" fill="#b50"/>
<path d="M319.5 53.9l2.5 1.2 2-.3-2.4.8z" fill="#b50"/>
<path d="M321.5 54.8l2.4 2.3 2.1-2.9-2.4.3z" fill="#f80"/>
<path d="M323.6 56.9l2.4.3 2.1-1.8-2.4-1.4z" fill="#f70"/>
<path d="M325.7 57l2.5-.4 2-.4-2.4-1.1z" fill="#d60"/>
<path d="M327.7 56.4l2.4 1.4 2.1-2.2-2.4.3z" fill="#f70"/>
<path d="M329.8 57.6l2.4 1.3 2.1-2.9-2.4-.6z" fill="#f60"/>
<path d="M331.9 58.8l2.4-.9 2.1-.6-2.4-1.4z" fill="#d60"/>
<path d="M333.9 57.7l2.4-1.2 2.1 1.5-2.5-.8z" fill="#b50"/>
<path class="ed2" d="M255.6 48.4l2-1.3 2.1-.9 2-.3 2.1 1.2 2.1.9 2-1 2.1-.5 2.1.9 2 .6 2.1-1 2.1-.6 2 1.3 2.1.6 2.1-.4 2-.2 2.1 1.1 2.1.7 2-.5 2.1.3 2 1.8 2.1.6 2.1-.7 2 .1 2.1 1.1 2.1-.4 2-.8 2.1.8 2.1 1.4 2 0 2.1-.3 2.1 1.2 2 1.2 2.1-.5 2.1-.5 2 1.1 2.1.8 2.1-.5 2 .5 2.1 1.2 2.1.5"/>
<path d="M251.6 50.2l2.3-.7 2.1-2.9-2.5 2.5z" fill="#ba1"/>
<path d="M253.6 49.3l2.4-.7 2.1-1-2.4-1.1z" fill="#ea0"/>
<path d="M255.6 48.4l2.5-.9 2.1.7-2.5-.8z" fill="#b80"/>
<path d="M257.7 47.7l2.4 1.2 2.1-2.3-2.4 1.9z" fill="#b80"/>
<path d="M259.8 48.7l2.3.8 2.1-3.3-2.3.2z" fill="#c90"/>
<path d="M261.9 49.3l2.3-.3 2.2-1.1-2.4-1.8z" fill="#fb0"/>
<path d="M263.9 48.8l2.4-1.1 2.1 1.2-2.4-1.3z" fill="#b80"/>
<path d="M266 48l2.5.9 2-.5-2.4.7z" fill="#b80"/>
<path d="M268 48.7l2.4 1 2.1-2.2-2.5.7z" fill="#d90"/>
<path d="M270.1 49.5l2.4-.1 2.1-.9-2.4-1.1z" fill="#fa0"/>
<path d="M272.2 49.2l2.6-.5 1.9.3-2.5-.8z" fill="#b70"/>
<path d="M274.2 48.8l2.4 1.2 2.1-2-2.6 1z" fill="#d80"/>
<path d="M276.3 49.8l2.4 1 2.1-2.5-2.4-.5z" fill="#f90"/>
<path d="M278.4 50.6l2.5-.5 2 0-2.4-2z" fill="#fb0"/>
<path d="M280.4 49.8l2.4-.7 2.1 1.4-2.5-.2z" fill="#b70"/>
<path d="M282.5 49.4l2.5.8 2-.8-2.4 1.3z" fill="#b60"/>
<path d="M284.5 50l2.4 1.2 2.2-1.8-2.4-.2z" fill="#f90"/>
<path d="M286.6 50.9l2.4.6 2.1-.5-2.3-1.8z" fill="#f90"/>
<path d="M288.7 51.2l2.6 0 1.9.3-2.5-.8z" fill="#b60"/>
<path d="M290.7 51.2l2.4 1.5 2.2-2-2.7.9z" fill="#e80"/>
<path d="M292.8 52.5l2.4.9 2.1-2.4-2.4-.5z" fill="#f80"/>
<path d="M294.9 53.2l2.4-.3 2.1-1-2.4-1.1z" fill="#d70"/>
<path d="M296.9 52.6l2.5.3 2.1-.5-2.5-.8z" fill="#b60"/>
<path d="M299 52.6l2.4 1.6 2.1-2.2-2.4.1z" fill="#f90"/>
<path d="M301.1 54l2.3.7 2.2-2.4-2.4-.5z" fill="#e70"/>
<path d="M303.2 54.5l2.5-1.4 2 .3-2.4-1.3z" fill="#c60"/>
<path d="M305.2 53.3l2.5-.6 2 .6-2.5.3z" fill="#b50"/>
<path d="M307.3 52.9l2.3 2 2.2-2.3-2.6.5z" fill="#f70"/>
<path d="M309.3 54.7l2.4 1.6 2.2-2.6-2.4-1.3z" fill="#f60"/>
<path d="M311.4 56.1l2.4-.2 2.1-1.1-2.4-1.3z" fill="#f70"/>
<path d="M313.5 55.7l2.4.1 2.1-1.1-2.5-.1z" fill="#b50"/>
<path d="M315.5 55.6l2.4 1.5 2.1-3.2-2.4.6z" fill="#d60"/>
<path d="M317.6 57l2.4.8 2.1-3.1-2.4-1z" fill="#e60"/>
<path d="M319.7 57.7l2.4-.8 2.1 0-2.4-2.3z" fill="#f80"/>
<path d="M321.7 56.6l2.4-.6 2.1 1-2.5.1z" fill="#b50"/>
<path d="M323.8 56.2l2.4 1.7 2.1-1.6-2.5.9z" fill="#b50"/>
<path d="M325.8 57.6l2.4 1.7 2.2-1.8-2.4-1.4z" fill="#f70"/>
<path d="M327.9 59l2.6-.3 1.9 0-2.4-1.5z" fill="#e70"/>
<path d="M330 58.5l2.4-1.1 2.1.2-2.4 1.3z" fill="#c60"/>
<path d="M332 57.7l2.4 1.3 2.1-2.3-2.5.8z" fill="#d50"/>
<path class="ed2" d="M253.7 48.8l2-2 2.1.9 2.1.5 2-1.5 2.1-.3 2.1 1.5 2 .9 2.1-.4 2.1-.7 2 .8 2.1.4 2.1-.8 2 .3 2.1 1.6 2 .4 2.1-.9 2.1 0 2 1.5 2.1.5 2.1-.7 2 .3 2.1.8 2.1.5 2-.3 2.1.3 2.1 1 2-.1 2.1-.6 2.1 1.1 2 1 2.1 0 2.1-.8 2 .9 2.1 1.9 2.1.1 2-.5 2.1 1.1 2 1.1 2.1-.9 2.1-.9"/>
<path d="M249.7 52l2.3-3.4 2.1.5-2.5 1.1z" fill="#bb1"/>
<path d="M251.7 48.9l2.6-.5 1.9-.1-2.4 1.2z" fill="#b80"/>
<path d="M253.8 48.7l2.4 1 2.1-2.1-2.5.5z" fill="#ea0"/>
<path d="M255.8 49.5l2.5-.2 2.1-.7-2.4-1.2z" fill="#fb0"/>
<path d="M257.9 49.1l2.4-1 2.1 1.1-2.5-.9z" fill="#b80"/>
<path d="M260 48.4l2.4 1.4 2.1-1.1-2.5.8z" fill="#b80"/>
<path d="M262 49.5l2.4 1.4 2.1-3-2.4.5z" fill="#ea0"/>
<path d="M264.1 50.7l2.4-.5 2.1-1.6-2.4-.9z" fill="#c90"/>
<path d="M266.2 50l2.4-1.2 2.1.7-2.4-1.1z" fill="#b80"/>
<path d="M268.2 49l2.4 1.2 2.1-1.1-2.6.5z" fill="#b70"/>
<path d="M270.3 49.9l2.4.9 2.1-2.1-2.4.1z" fill="#e90"/>
<path d="M272.4 50.6l2.4-.2 2.1-.7-2.4-1.2z" fill="#f90"/>
<path d="M274.4 50.1l2.4.9 2.1-.5-2.4-1.1z" fill="#f90"/>
<path d="M276.5 50.6l2.4 2 2.1-2.9-2.4.5z" fill="#fb0"/>
<path d="M278.6 52.5l2.3.7 2.1-4-2.3.3z" fill="#c80"/>
<path d="M280.7 53.1l2.3-.9 2.1-2.4-2.3-.7z" fill="#b70"/>
<path d="M282.7 52l2.4.2 2.1-1.4-2.4-1.1z" fill="#f90"/>
<path d="M284.7 51.9l2.4 2.1 2.2-2.9-2.4-.5z" fill="#f90"/>
<path d="M286.8 53.8l2.4.6 2.1-3.4-2.4-.1z" fill="#c70"/>
<path d="M288.9 54.3l2.5-1.2 2-.7-2.4-1.5z" fill="#c70"/>
<path d="M290.9 52.9l2.6.1 2 .1-2.5-1z" fill="#b60"/>
<path d="M293 52.8l2.4 1.4 2.1-1.7-2.6.4z" fill="#e70"/>
<path d="M295.1 54l2.4.2 2.1-1.7-2.4-.2z" fill="#c60"/>
<path d="M297.1 53.9l2.5.1 2.1-.1-2.4-1.6z" fill="#f70"/>
<path d="M299.2 53.6l2.4 1.6 2.1-.8-2.4-.8z" fill="#f70"/>
<path d="M301.3 54.9l2.3 1.6 2.1-3.4-2.4 1z" fill="#d70"/>
<path d="M303.4 56.4l2.3 0 2.1-3.6-2.3.2z" fill="#b60"/>
<path d="M305.4 56.3l2.4-.7 2.1-1-2.4-1.9z" fill="#e60"/>
<path d="M307.4 55.3l2.5.6 2.1.1-2.4-1.7z" fill="#f70"/>
<path d="M309.5 55.6l2.4.9 2.1-.9-2.5.6z" fill="#b50"/>
<path d="M311.6 56.3l2.5-.1 2-.7-2.5-.2z" fill="#b50"/>
<path d="M313.6 56l2.6.5 2 .4-2.4-1.6z" fill="#b40"/>
<path d="M315.7 56.1l2.4 2 2.1-.5-2.4-1z" fill="#f70"/>
<path d="M317.8 57.8l2.4 1.2 2.1-2.5-2.6.8z" fill="#c60"/>
<path d="M319.9 58.8l2.3-.3 2.1-2.4-2.3.2z" fill="#b50"/>
<path d="M321.9 58.4l2.4-.2 2.1-.6-2.3-1.6z" fill="#f70"/>
<path d="M324 57.8l2.4 1.5 2.1-.3-2.4-1.7z" fill="#f60"/>
<path d="M326 59l2.4.9 2.2-1.5-2.7.4z" fill="#b50"/>
<path d="M328.1 59.7l2.4-.2 2.1-1.9-2.4.6z" fill="#c50"/>
<path d="M330.2 59.2l2.4.9 2.1-1.4-2.4-1.3z" fill="#f60"/>
<path class="ed2" d="M251.8 50l2.1-.8 2-.9 2.1-.6 2.1.9 2 .6 2.1-.5 2.1-.7 2 .7 2.1.7 2-.3 2.1-.3 2.1.9 2 .8 2.1-.7 2.1-.4 2 .6 2.1.9 2.1.3 2 0 2.1 1.2 2.1.7 2-.5 2.1 0 2.1 1.3 2 .5 2.1-1.1 2.1-.3 2 1.6 2.1 1.4 2.1-.4 2-.1 2.1 1.3 2 .7 2.1-.9 2.1-.3 2 1.3 2.1 1.4 2.1-.5 2-.8 2.1 1"/>
<path d="M247.8 51.7l2.4-.2 2-2.8-2.3 3.4z" fill="#ba1"/>
<path d="M249.9 51.4l2.3-.8 2.1-2.1-2.3.1z" fill="#b80"/>
<path d="M251.9 50.4l2.6-1.3 1.9.3-2.4-1z" fill="#d90"/>
<path d="M253.9 49.3l2.4 1.5 2.2-1.8-2.5.2z" fill="#fb0"/>
<path d="M256 50.6l2.4 1.4 2.1-3.8-2.3.6z" fill="#d90"/>
<path d="M258.1 51.8l2.4-.8 2.1-1.6-2.4-1.3z" fill="#c90"/>
<path d="M260.2 50.8l2.4-1.4 2.1 1.2-2.4-1.4z" fill="#b80"/>
<path d="M262.2 49.7l2.4 1.3 2.1-1.1-2.4 1z" fill="#b80"/>
<path d="M264.3 50.8l2.4.9 2.1-2.8-2.4.7z" fill="#c80"/>
<path d="M266.4 51.5l2.4-.4 2.1-1.3-2.4-1z" fill="#d90"/>
<path d="M268.4 50.9l2.4.2 2.1-.6-2.4-.9z" fill="#e90"/>
<path d="M270.5 50.8l2.3 2 2.2-2.8-2.4.2z" fill="#fc0"/>
<path d="M272.6 52.6l2.3.5 2.1-2.5-2.3-.8z" fill="#e90"/>
<path d="M274.6 52.9l2.5-1.6 2 1.1-2.4-2z" fill="#e90"/>
<path d="M276.7 51.5l2.4-.3 2.1 1.8-2.5-.4z" fill="#b70"/>
<path d="M278.7 51.4l2.4 1.8 2.2-1.4-2.4 1.4z" fill="#b70"/>
<path d="M280.8 52.9l2.4.7 2.1-1.8-2.4-.2z" fill="#d80"/>
<path d="M282.9 53.3l2.6-.3 1.9.8-2.4-2.2z" fill="#f90"/>
<path d="M284.9 52.9l2.7.5 1.8.8-2.5-.3z" fill="#b70"/>
<path d="M287 53.5l2.4 1.1 2.1-1.9-2.4 1.7z" fill="#b70"/>
<path d="M289.1 54.4l2.4-.1 2.1-1.5-2.4-.2z" fill="#c60"/>
<path d="M291.1 54.1l2.6-.9 1.9.8-2.4-1.4z" fill="#b60"/>
<path d="M293.2 53.4l2.4 1.4 2.1-.9-2.6 0z" fill="#b50"/>
<path d="M295.2 54.6l2.4 1.6 2.2-2.6-2.4 0z" fill="#f90"/>
<path d="M297.3 56l2.5-.4 2-.7-2.3-1.5z" fill="#e70"/>
<path d="M299.4 55.3l2.4-.6 2.1 1.6-2.4-1.7z" fill="#b50"/>
<path d="M301.5 54.8l2.4 1.5 2.1-.2-2.5.4z" fill="#b60"/>
<path d="M303.5 56l2.4 1.7 2.1-2.5-2.5.6z" fill="#e70"/>
<path d="M305.6 57.5l2.4.5 2.1-2.5-2.4-.5z" fill="#d70"/>
<path d="M307.7 57.8l2.3.3 2.2-1.9-2.4-.8z" fill="#e70"/>
<path d="M309.7 57.9l2.4 1.2 2.1-3.3-2.4.1z" fill="#d60"/>
<path d="M311.8 59l2.4.2 2.1-3.1-2.4-.4z" fill="#c60"/>
<path d="M313.9 59l2.4-.9 2.1-.3-2.4-1.9z" fill="#e60"/>
<path d="M315.9 57.8l2.7.2 1.8.7-2.4-1.2z" fill="#b50"/>
<path d="M318 58l2.4 1.8 2.1-1.6-2.6.6z" fill="#e60"/>
<path d="M320 59.6l2.4 1 2.1-2.9-2.3.3z" fill="#d60"/>
<path d="M322.1 60.5l2.4-.5 2.1-1-2.4-1.4z" fill="#e60"/>
<path d="M324.2 59.8l2.4.6 2.1-.8-2.4-.9z" fill="#f60"/>
<path d="M326.2 60.1l2.4 1.5 2.1-2.5-2.4.2z" fill="#f70"/>
<path d="M328.3 61.4l2.4.4 2.1-2.1-2.4-.8z" fill="#e60"/>
<path class="ed2" d="M249.9 51.8l2.1-2.9 2.1-.2 2 .7 2.1-.3 2-.7 2.1 1.1 2.1 1.1 2-.7 2.1-.8 2.1.8 2 .6 2.1-.4 2.1.6 2 1.6 2.1.6 2.1-1 2 0 2.1 1.8 2.1.4 2-1.2 2.1 0 2.1 1 2 0 2.1-.2 2.1 1.2 2 1.3 2.1-.1 2-.8 2.1.4 2.1.5 2-.2 2.1.2 2.1 1.6 2 .9 2.1-.4 2.1-.4 2 1.1 2.1.6 2.1-.4 2 .6"/>
<path d="M245.9 53.1l2.4-2.8 2.1.9-2.6.3z" fill="#ba0"/>
<path d="M247.9 50.6l2.6-.3 2-.1-2.4 1.3z" fill="#b80"/>
<path d="M250 50.5l2.4 1.6 2.1-2.9-2.5.8z" fill="#fb0"/>
<path d="M252.1 51.9l2.4.3 2.1-1.7-2.4-1.5z" fill="#fb0"/>
<path d="M254.2 52l2.4-1.4 2.1 1.1-2.4-1.5z" fill="#b80"/>
<path d="M256.2 50.9l2.4 1.2 2.1-1.5-2.4 1.3z" fill="#b80"/>
<path d="M258.3 51.9l2.3 1.7 2.1-4.1-2.3.9z" fill="#d90"/>
<path d="M260.4 53.5l2.3-.8 2.1-2.1-2.3-1.2z" fill="#c90"/>
<path d="M262.4 52.5l2.5-1.6 2 .5-2.4-.9z" fill="#b80"/>
<path d="M264.5 51.1l2.4 1.4 2.1-1.8-2.7.6z" fill="#e90"/>
<path d="M266.5 52.3l2.4.7 2.1-2.3-2.3-.2z" fill="#e90"/>
<path d="M268.6 52.8l2.6-.7 1.9.4-2.4-2z" fill="#fa0"/>
<path d="M270.7 52l2.4-.2 2.1 1.1-2.6-.2z" fill="#b70"/>
<path d="M272.7 52l2.4 1.9 2.1-2.4-2.4 1.6z" fill="#d80"/>
<path d="M274.8 53.7l2.4.5 2.1-2.9-2.4 0z" fill="#c70"/>
<path d="M276.9 54l2.5-.8 2-.3-2.4-1.7z" fill="#e80"/>
<path d="M278.9 53l2.5.6 2.1-.3-2.5-.7z" fill="#b60"/>
<path d="M281 53.3l2.4 1.3 2.1-1.7-2.5.1z" fill="#e80"/>
<path d="M283.1 54.3l2.4.3 2.1-1.1-2.4-.8z" fill="#f80"/>
<path d="M285.1 54.4l2.4.6 2.1-.7-2.4-1.1z" fill="#f80"/>
<path d="M287.2 54.7l2.4 1.6 2.1-2.4-2.4.1z" fill="#fa0"/>
<path d="M289.3 56.2l2.3.3 2.1-3.2-2.3.4z" fill="#b60"/>
<path d="M291.4 56.4l2.3-.8 2.1-1.1-2.3-1.3z" fill="#c60"/>
<path d="M293.4 55.3l2.4.9 2.1-.2-2.4-1.8z" fill="#f70"/>
<path d="M295.4 55.8l2.4 1.8 2.2-2.4-2.5.4z" fill="#f80"/>
<path d="M297.5 57.5l2.4 0 2.1-2.7-2.4.2z" fill="#b60"/>
<path d="M299.6 57.3l2.4-.5 2.1-.8-2.4-1.3z" fill="#e60"/>
<path d="M301.6 56.5l2.4 1.6 2.2-.6-2.4-1.7z" fill="#f70"/>
<path d="M303.7 57.7l2.4 1.9 2.1-2-2.4-.5z" fill="#f90"/>
<path d="M305.8 59.4l2.5-.7 2-.9-2.4-.4z" fill="#b60"/>
<path d="M307.8 58.5l2.4-1.2 2.2 1.6-2.5-1.4z" fill="#b60"/>
<path d="M309.9 57.5l2.4 1.7 2.1-.3-2.4.2z" fill="#b50"/>
<path d="M312 58.9l2.4.7 2.1-1.9-2.5 1.4z" fill="#b50"/>
<path d="M314 59.4l2.5-.2 2.1-1.2-2.4-.4z" fill="#c50"/>
<path d="M316.1 58.9l2.4 1 2.1-.3-2.4-1.8z" fill="#f60"/>
<path d="M318.2 59.6l2.3 1.6 2.2-.8-2.4-1.2z" fill="#f70"/>
<path d="M320.2 61l2.4.3 2.1-1.7-2.5.5z" fill="#b60"/>
<path d="M322.3 61l2.5-.2 2-.8-2.4-.5z" fill="#c50"/>
<path d="M324.3 60.5l2.5 1.2 2.1-.3-2.4-1.6z" fill="#f60"/>
<path d="M326.4 61.4l2.4 1.3 2.1-1.2-2.4-.5z" fill="#f70"/>
<path class="ed2" d="M248 51.6l2.1-.4 2.1-.9 2-1 2.1 1.2 2.1 1.2 2-1 2.1-1 2.1 1.1 2 .6 2.1-.6 2.1 0 2 1.7 2.1.3 2.1-1.2 2-.1 2.1 1.4 2.1.4 2-.3 2.1.5 2.1.8 2-.3 2.1-.5 2 1 2.1 1.4 2.1-.6 2-.3 2.1 1.1 2.1 1.3 2 .3 2.1.1 2.1 1 2 .1 2.1-1 2.1.2 2 1.4 2.1.8 2.1-.5 2 .3 2.1 1.2 2 .2"/>
<path d="M244.1 54.3l2.3-2.7 2.1-1.2-2.4 2.8z" fill="#cb1"/>
<path d="M246.1 52.1l2.5-.7 2-.9-2.4-.1z" fill="#c80"/>
<path d="M248.1 51.1l2.4 1.2 2.2-.5-2.4-1.6z" fill="#fb0"/>
<path d="M250.2 52l2.4 1.1 2.1-1.2-2.4-.4z" fill="#fb0"/>
<path d="M252.3 52.9l2.6-1.2 1.9-.9-2.6 1.2z" fill="#d90"/>
<path d="M254.3 51.9l2.7-.4 1.9.4-2.4-1.3z" fill="#b80"/>
<path d="M256.4 51.4l2.4 1.7 2.1.3-2.4-1.9z" fill="#fb0"/>
<path d="M258.5 52.8l2.4 1.2 2.1-1.7-2.5 1.3z" fill="#b80"/>
<path d="M260.6 53.9l2.3-.4 2.1-2.5-2.4 1.1z" fill="#b80"/>
<path d="M262.6 53.4l2.6-1.3 1.9.1-2.4-1.3z" fill="#d80"/>
<path d="M264.7 52.1l2.4 1.1 2.1-.4-2.5-.9z" fill="#b70"/>
<path d="M266.7 52.8l2.4 1.7 2.1-2.6-2.4.6z" fill="#fa0"/>
<path d="M268.8 54.4l2.4.3 2.1-2.8-2.4-.2z" fill="#c80"/>
<path d="M270.9 54.5l2.4-.5 2.1-.4-2.4-1.8z" fill="#fa0"/>
<path d="M272.9 53.7l2.5.8 2-.6-2.4-.6z" fill="#b70"/>
<path d="M275 54.2l2.4 1.8 2.1-3.2-2.4.8z" fill="#e80"/>
<path d="M277.1 55.8l2.3.7 2.1-3.3-2.3-.5z" fill="#d80"/>
<path d="M279.2 56.3l2.3-.6 2.1-1.5-2.3-1.2z" fill="#c70"/>
<path d="M281.2 55.5l2.4-.1 2.1-1.1-2.4-.3z" fill="#c70"/>
<path d="M283.2 55.1l2.4 1.5 2.2-2-2.4-.6z" fill="#fa0"/>
<path d="M285.3 56.4l2.4 1.3 2.1-1.7-2.3-1.6z" fill="#f90"/>
<path d="M287.4 57.5l2.4-.1 2.1-1.3-2.4-.4z" fill="#c80"/>
<path d="M289.4 57.2l2.5-.1 2-1.9-2.5.8z" fill="#c70"/>
<path d="M291.5 56.9l2.4 1.2 2.1-2.3-2.4-.8z" fill="#f80"/>
<path d="M293.6 57.9l2.3 1.6 2.2-2.2-2.4-1.7z" fill="#f80"/>
<path d="M295.7 59.3l2.3-.5 2.1-1.8-2.3 0z" fill="#b70"/>
<path d="M297.7 58.7l2.5-.8 2-1.5-2.4.5z" fill="#c70"/>
<path d="M299.8 57.6l2.3 1.3 2.2-1.1-2.4-1.6z" fill="#f70"/>
<path d="M301.8 58.6l2.4 1.7 2.2-1-2.4-1.8z" fill="#f80"/>
<path d="M303.9 60.1l2.4.3 2.1-2.1-2.5.7z" fill="#b70"/>
<path d="M306 60.3l2.4-.4 2-2.4-2.3.6z" fill="#b60"/>
<path d="M308 59.7l2.4.6 2.2-1.4-2.4-1.6z" fill="#f70"/>
<path d="M310.1 60l2.4 1.2 2.1-2-2.4-.6z" fill="#f80"/>
<path d="M312.2 61.1l2.3.4 2.1-2.7-2.3.2z" fill="#c60"/>
<path d="M314.3 61.4l2.4-.9 2-.9-2.3-1z" fill="#c50"/>
<path d="M316.3 60.2l2.5.5 2 .3-2.4-1.6z" fill="#b40"/>
<path d="M318.4 60.4l2.3 2 2.2-1.5-2.5-.2z" fill="#f60"/>
<path d="M320.4 62.2l2.4 1.2 2.1-3-2.4.3z" fill="#d60"/>
<path d="M322.5 63.2l2.4-.1 2.1-1.7-2.4-1.1z" fill="#d60"/>
<path d="M324.5 62.8l2.5.3 2.1-.7-2.4-1.3z" fill="#f70"/>
<path class="ed2" d="M246.2 52.9l2-2.3 2.1-.1 2.1 1.3 2 .1 2.1-1 2.1.9 2 1.5 2.1-.9 2.1-1.2 2 1 2.1.5 2.1-.7 2 .1 2.1 1.5 2.1.3 2-.9 2.1.3 2 1 2.1 0 2.1.4 2 1.3 2.1.2 2.1-.9 2 .6 2.1 1.4 2.1-.1 2-.7 2.1 1.3 2.1 1.5 2-.9 2.1-.8 2.1 1.3 2 .4 2.1-.4 2 .8 2.1 1.2 2.1.1 2-.4 2.1.8 2.1 1"/>
<path d="M242.1 53.3l2.4-1.8 2.1.3-2.3 2.6z" fill="#ca0"/>
<path d="M244.2 51.8l2.4 1.6 2.1-2.4-2.6.8z" fill="#fc0"/>
<path d="M246.3 53.2l2.3.6 2.2-1.8-2.4-1.1z" fill="#fc0"/>
<path d="M248.3 53.6l2.7-.8 1.9 0-2.4-1.1z" fill="#d90"/>
<path d="M250.4 52.8l2.4.4 2.1-1.5-2.5 1.4z" fill="#b80"/>
<path d="M252.5 52.9l2.3 1.5 2.2-3-2.4.1z" fill="#fa0"/>
<path d="M254.5 54.3l2.4 0 2.2-1.5-2.4-1.6z" fill="#fb0"/>
<path d="M256.6 54.1l2.6-.6 1.9.2-2.4-1.2z" fill="#b80"/>
<path d="M258.6 53.5l2.5.7 2.1-1-2.6.8z" fill="#b80"/>
<path d="M260.7 54l2.4 1.1 2.1-3.1-2.4.9z" fill="#c80"/>
<path d="M262.8 54.9l2.4.5 2.1-2.7-2.4-.8z" fill="#d90"/>
<path d="M264.9 55.2l2.4-.5 2.1-.5-2.4-1.6z" fill="#fb0"/>
<path d="M266.9 54.4l2.5.5 2-.5-2.5-.5z" fill="#b70"/>
<path d="M269 54.6l2.4 1.3 2.1-2.3-2.5.6z" fill="#d80"/>
<path d="M271 55.6l2.4.9 2.2-2.4-2.4-.7z" fill="#f90"/>
<path d="M273.1 56.3l2.5-.3 2-.3-2.3-1.8z" fill="#fb0"/>
<path d="M275.2 55.7l2.6 0 1.9.5-2.5-.8z" fill="#b70"/>
<path d="M277.2 55.8l2.4 1.1 2.2-1.6-2.5 1.1z" fill="#b70"/>
<path d="M279.3 56.7l2.4.7 2.1-2.4-2.4.1z" fill="#c70"/>
<path d="M281.4 57.2l2.4.2 2.1-1.1-2.4-1.5z" fill="#fb0"/>
<path d="M283.4 57.2l2.5.2 2.1.1-2.4-1.5z" fill="#e80"/>
<path d="M285.5 57.1l2.4 1.1 2.1-1.1-2.6.4z" fill="#b70"/>
<path d="M287.6 57.9l2.3 1.6 2.2-2.8-2.4.1z" fill="#fa0"/>
<path d="M289.6 59.3l2.4.3 2.2-1.8-2.4-1.3z" fill="#f90"/>
<path d="M291.7 59.4l2.5-1 2 .8-2.4-1.7z" fill="#b70"/>
<path d="M293.8 58.6l2.6.2 1.9-.3-2.4.9z" fill="#b70"/>
<path d="M295.8 58.8l2.4 1.6 2.1-2.9-2.4.8z" fill="#e70"/>
<path d="M297.9 60.2l2.4.5 2.1-2.2-2.4-1.2z" fill="#e70"/>
<path d="M300 60.4l2.5-.2 2-.1-2.4-1.8z" fill="#f80"/>
<path d="M302 59.9l2.4.9 2.1-.7-2.5-.3z" fill="#b60"/>
<path d="M304.1 60.5l2.4 1.4 2.1-2.4-2.4.3z" fill="#f80"/>
<path d="M306.2 61.7l2.3.5 2.2-2.4-2.4-.4z" fill="#d70"/>
<path d="M308.2 62l2.4-.2 2.1-.9-2.3-1.2z" fill="#f80"/>
<path d="M310.3 61.6l2.6-.1 1.9-.3-2.4-.5z" fill="#b60"/>
<path d="M312.3 61.4l2.4 1.2 2.1-2.5-2.5.9z" fill="#c60"/>
<path d="M314.4 62.5l2.4.7 2.1-2.8-2.3-.5z" fill="#d60"/>
<path d="M316.5 63l2.4-.4 2.1-.5-2.4-1.9z" fill="#f70"/>
<path d="M318.5 62.3l2.5-.5 2.1 1.4-2.5-1.4z" fill="#b50"/>
<path d="M320.6 62l2.4 1.7 2.1-1-2.4.6z" fill="#b50"/>
<path d="M322.7 63.4l2.3 1.4 2.2-2.1-2.4-.2z" fill="#f80"/>
<path class="ed2" d="M244.3 54.1l2.1-2.2 2-.7 2.1.8 2.1.8 2-1 2.1-.3 2.1 1.3 2 .9 2.1-.5 2.1-1 2 .7 2.1 1.3 2 .2 2.1-.7 2.1.5 2 1.5 2.1.5 2.1-.8 2-.3 2.1 1.2 2.1 1.1 2-.3 2.1-.3 2.1 1 2 1.4 2.1-.7 2.1-.9 2 1 2.1 1.4 2 .1 2.1-.4 2.1.3 2 .9 2.1.3 2.1-1 2 .3 2.1 1.6 2.1 1 2-.3 2.1 0"/>
<path d="M240.3 54l2.6-1.2 1.9-1.1-2.5 1.8z" fill="#b90"/>
<path d="M242.3 52.9l2.4 1.4 2.2-1.2-2.4-1.6z" fill="#fb0"/>
<path d="M244.4 54l2.5 0 2-.5-2.4-.7z" fill="#da0"/>
<path d="M246.5 53.8l2.4-1.4 2.1.3-2.5 1.1z" fill="#c90"/>
<path d="M248.5 52.7l2.6.4 1.9-.2-2.6-.3z" fill="#b80"/>
<path d="M250.6 52.8l2.4 2.2 2.1-.8-2.4-1.6z" fill="#fb0"/>
<path d="M252.6 54.7l2.4 1 2.2-1.8-2.5-.1z" fill="#fb0"/>
<path d="M254.7 55.5l2.5-.6 2-1.5-2.4.3z" fill="#c90"/>
<path d="M256.8 54.7l2.4-.1 2.1-.7-2.4-.7z" fill="#d90"/>
<path d="M258.8 54.3l2.4 1.5 2.2-1-2.4-1.2z" fill="#fb0"/>
<path d="M260.9 55.5l2.4 1.4 2.1-1.9-2.4-.5z" fill="#fd0"/>
<path d="M263 56.7l2.4-.4 2.1-2.1-2.4.6z" fill="#b80"/>
<path d="M265.1 56.2l2.5-1.6 2-.1-2.4-.4z" fill="#c80"/>
<path d="M267.1 54.8l2.4 1.1 2.1-.3-2.4-1.3z" fill="#f90"/>
<path d="M269.2 55.5l2.4 1.9 2.1-1.2-2.4-.9z" fill="#fa0"/>
<path d="M271.2 57.2l2.4.6 2.1-2.2-2.4.3z" fill="#c80"/>
<path d="M273.3 57.6l2.5-.6 2-1.3-2.4-.3z" fill="#b70"/>
<path d="M275.4 56.7l2.4.3 2.1-.4-2.4-1.1z" fill="#e80"/>
<path d="M277.4 56.7l2.4 1.7 2.2-1.3-2.5-.8z" fill="#f90"/>
<path d="M279.5 58.1l2.4.8 2.1-1.8-2.4-.3z" fill="#e90"/>
<path d="M281.6 58.7l2.6-1.2 1.9-.4-2.4-.3z" fill="#c70"/>
<path d="M283.6 57.6l2.7-.1 1.9.4-2.5-1z" fill="#b60"/>
<path d="M285.7 57.4l2.4 1.8 2.1.1-2.4-1.7z" fill="#f80"/>
<path d="M287.8 58.9l2.3 1.6 2.2-1.2-2.5-.4z" fill="#f90"/>
<path d="M289.8 60.3l2.4.2 2.1-2-2.4.5z" fill="#b70"/>
<path d="M291.9 60.3l2.4-.3 2.1-1.3-2.4-.4z" fill="#c60"/>
<path d="M293.9 59.7l2.5.8 2.1-.3-2.4-1.7z" fill="#f80"/>
<path d="M296 60.2l2.4 1.7 2.1-1.6-2.4-.5z" fill="#f90"/>
<path d="M298.1 61.7l2.4.6 2.1-2.6-2.4.4z" fill="#c70"/>
<path d="M300.2 62.1l2.4-.4 2.1-1.3-2.4-.8z" fill="#c70"/>
<path d="M302.2 61.4l2.5.4 2-.1-2.4-1.5z" fill="#f70"/>
<path d="M304.3 61.5l2.4.9 2.1-.5-2.5-.6z" fill="#b60"/>
<path d="M306.3 62.2l2.5.6 2.1-1.3-2.6.1z" fill="#b60"/>
<path d="M308.4 62.5l2.4.5 2.1-1.8-2.4 0z" fill="#c60"/>
<path d="M310.5 62.8l2.4.3 2.1-.8-2.4-1.3z" fill="#f80"/>
<path d="M312.5 62.8l2.4.8 2.2-.7-2.5-.9z" fill="#f70"/>
<path d="M314.6 63.4l2.4 1 2.1-2.2-2.4.4z" fill="#d60"/>
<path d="M316.7 64.3l2.4-.3 2.1-2-2.4 0z" fill="#b50"/>
<path d="M318.7 63.8l2.5-.2 2.1-.2-2.4-1.6z" fill="#f50"/>
<path d="M320.8 63.3l2.4 1.2 2.1.1-2.4-1.5z" fill="#b40"/>
<path class="ed2" d="M242.4 53.2l2.1-1.4 2.1 1.3 2 .4 2.1-.7 2.1.1 2 1.2 2.1-.1 2-.5 2.1.4 2.1.9 2 .3 2.1-.7 2.1.2 2 1 2.1.6 2.1-.5 2 .1 2.1.8 2.1.5 2 0 2.1.1 2.1.7 2 1.3 2.1.1 2-.7 2.1.2 2.1 1.3 2 .3 2.1-.5 2.1.6 2 1.1 2.1.3 2.1-.4 2-.2 2.1 1 2.1.6 2-.6 2.1-.2 2.1 1.3 2 1.1"/>
<path d="M238.5 56.9l2.4-3 2-1.2-2.4.9z" fill="#b90"/>
<path d="M240.5 54.3l2.4-1.2 2.1.9-2.4-1.4z" fill="#b80"/>
<path d="M242.5 53.3l2.4 1.3 2.1-.9-2.5.5z" fill="#b80"/>
<path d="M244.6 54.3l2.4 1.4 2.1-3.1-2.4.9z" fill="#d90"/>
<path d="M246.7 55.6l2.3.4 2.1-3.2-2.3-.4z" fill="#c90"/>
<path d="M248.7 55.8l2.4-.5 2.1-.6-2.3-2.1z" fill="#fc0"/>
<path d="M250.8 55l2.6-.3 1.9.7-2.4-1z" fill="#b80"/>
<path d="M252.8 54.9l2.4 1.3 2.2-1.7-2.5 1.1z" fill="#b80"/>
<path d="M254.9 56l2.4.6 2.1-2.4-2.4.1z" fill="#d90"/>
<path d="M257 56.5l2.4-.4 2.1-.6-2.4-1.5z" fill="#fb0"/>
<path d="M259 55.8l2.6-.2 2 1.1-2.5-1.5z" fill="#b80"/>
<path d="M261.1 55.8l2.4 1.3 2.1-1.1-2.4.9z" fill="#b80"/>
<path d="M263.2 56.9l2.3 1.4 2.1-3.7-2.3 1.1z" fill="#c80"/>
<path d="M265.3 58.2l2.3-.2 2.1-2.5-2.3-1z" fill="#c80"/>
<path d="M267.3 57.8l2.4-.2 2.1-.4-2.4-1.9z" fill="#fc0"/>
<path d="M269.4 57.3l2.3 1.5 2.2-1.3-2.4-.7z" fill="#fa0"/>
<path d="M271.4 58.6l2.4 1.3 2.1-3.4-2.4.7z" fill="#c80"/>
<path d="M273.5 59.8l2.4-.4 2.1-2.9-2.4-.1z" fill="#b70"/>
<path d="M275.6 59.2l2.5-1.6 2 .5-2.4-1.7z" fill="#d70"/>
<path d="M277.6 57.8l2.7.4 1.8.4-2.6-.7z" fill="#b60"/>
<path d="M279.7 58.1l2.4 2.1 2.1-2.7-2.6 1z" fill="#f90"/>
<path d="M281.8 60.1l2.3 1 2.1-3.8-2.3 0z" fill="#d70"/>
<path d="M283.9 61l2.3-.6 2.1-1.5-2.3-1.7z" fill="#d70"/>
<path d="M285.9 60.2l2.4.2 2.1-.1-2.4-1.7z" fill="#f80"/>
<path d="M287.9 60l2.4 1.6 2.2-1.5-2.5-.1z" fill="#f90"/>
<path d="M290 61.4l2.4.8 2.1-2.7-2.4.4z" fill="#c70"/>
<path d="M292.1 62.1l2.4-.3 2.1-1.7-2.4-.7z" fill="#c70"/>
<path d="M294.1 61.5l2.5.5 2.1-.3-2.4-1.8z" fill="#f80"/>
<path d="M296.2 61.7l2.4 1.1 2.1-.8-2.4-.7z" fill="#f80"/>
<path d="M298.3 62.6l2.4.8 2.1-2.1-2.5.4z" fill="#c70"/>
<path d="M300.4 63.2l2.3-.2 2.1-1.6-2.3-.3z" fill="#b60"/>
<path d="M302.4 62.7l2.5-.2 2-.3-2.4-1z" fill="#b50"/>
<path d="M304.5 62.2l2.4 1.2 2.1-.9-2.4-.6z" fill="#f70"/>
<path d="M306.5 63.1l2.4 1.7 2.2-2.2-2.4-.4z" fill="#f90"/>
<path d="M308.6 64.6l2.4.4 2.1-2.3-2.4-.3z" fill="#d60"/>
<path d="M310.7 64.9l2.4-.6 2.1-1-2.4-.8z" fill="#c60"/>
<path d="M312.7 64.1l2.4.6 2.2-.6-2.5-1.1z" fill="#f60"/>
<path d="M314.8 64.4l2.4 1.4 2.1-2.2-2.4.2z" fill="#f70"/>
<path d="M316.9 65.7l2.3.2 2.1-2.7-2.3.2z" fill="#b50"/>
<path d="M318.9 65.8l2.4-.5 2.1-1.2-2.3-1.1z" fill="#d50"/>
<path class="ed2" d="M240.6 53.9l2-1 2.1 1.1 2-.3 2.1-1 2.1.2 2 1.8 2.1.7 2.1-.8 2-.3 2.1 1.2 2.1 1.1 2-.6 2.1-1.2 2.1.8 2 1.5 2.1.4 2.1-.8 2 0 2.1 1.4 2 .5 2.1-1 2.1-.1 2 1.4 2.1 1.3 2.1 0 2-.5 2.1.5 2.1 1.4 2 .4 2.1-.6 2.1.1 2 .7 2.1.3 2.1.2 2 .1 2.1.5 2.1.8 2-.4 2.1-.4 2.1.9"/>
<path d="M236.5 56.2l2.5 0 2-2.2-2.4 2.9z" fill="#ca0"/>
<path d="M238.6 56.1l2.4-.6 2.1-2.3-2.4.7z" fill="#b80"/>
<path d="M240.7 55.3l2.4-.5 2.1-.5-2.4-1.2z" fill="#ea0"/>
<path d="M242.7 54.5l2.4 1.5 2.1-.5-2.4-1.5z" fill="#fb0"/>
<path d="M244.8 55.6l2.4 1.3 2.1-1.3-2.4-.5z" fill="#fb0"/>
<path d="M246.8 56.7l2.5-.2 2-1.6-2.4.5z" fill="#c80"/>
<path d="M248.9 56.4l2.4-.1 2.1-1.5-2.4-.1z" fill="#c80"/>
<path d="M251 56.1l2.3 1.1 2.2-1.3-2.4-1.3z" fill="#fc0"/>
<path d="M253 56.9l2.4 1 2.2-1.6-2.4-.7z" fill="#fd0"/>
<path d="M255.1 57.7l2.4-.3 2.1-1.7-2.4.4z" fill="#b80"/>
<path d="M257.2 57.2l2.4-.4 2.1-1-2.4-.2z" fill="#b70"/>
<path d="M259.2 56.5l2.4 1.4 2.2-1-2.4-1.4z" fill="#fa0"/>
<path d="M261.3 57.6l2.4 1.3 2.1-.8-2.4-1.6z" fill="#fb0"/>
<path d="M263.4 58.7l2.4-1.4 2.1.3-2.7.5z" fill="#c80"/>
<path d="M265.4 57.6l2.6.2 1.9-.5-2.5.6z" fill="#b70"/>
<path d="M267.5 57.6l2.4 1.9 2.1-.9-2.4-1.5z" fill="#f90"/>
<path d="M269.5 59.2l2.5.6 2.1-.1-2.4-1.5z" fill="#fa0"/>
<path d="M271.6 59.6l2.4-1.1 2.1.5-2.4.9z" fill="#c80"/>
<path d="M273.7 58.8l2.4.7 2.1-1.8-2.4 1.6z" fill="#b70"/>
<path d="M275.7 59.3l2.4 1.9 2.1-3.2-2.3-.5z" fill="#f80"/>
<path d="M277.8 61l2.4.5 2.1-1.6-2.3-2z" fill="#f90"/>
<path d="M279.9 61.2l2.6-.3 1.9-.1-2.4-1.2z" fill="#b70"/>
<path d="M281.9 60.7l2.5.7 2.1-1.4-2.6 1z" fill="#b70"/>
<path d="M284 61.2l2.4 1.4 2.1-2.6-2.4-.2z" fill="#fa0"/>
<path d="M286.1 62.4l2.4.4 2.1-1.5-2.4-1.5z" fill="#fa0"/>
<path d="M288.1 62.5l2.7-.6 1.9 0-2.4-.9z" fill="#b70"/>
<path d="M290.2 61.9l2.4 1 2.1-1.5-2.6.4z" fill="#b60"/>
<path d="M292.3 62.6l2.3 1.5 2.2-2.5-2.4-.4z" fill="#f90"/>
<path d="M294.3 63.9l2.4.2 2.2-1.6-2.4-1.1z" fill="#f90"/>
<path d="M296.4 63.9l2.4 0 2.1-.8-2.4-.8z" fill="#d80"/>
<path d="M298.5 63.7l2.4.6 2.1-1.7-2.5.2z" fill="#c70"/>
<path d="M300.5 64.1l2.4.5 2.1-2.5-2.4.3z" fill="#c60"/>
<path d="M302.6 64.4l2.4-.1 2.1-1.2-2.4-1.1z" fill="#e70"/>
<path d="M304.6 64l2.6.3 2 .3-2.4-1.7z" fill="#f70"/>
<path d="M306.7 64l2.4 1.7 2.1-.9-2.5-.5z" fill="#f70"/>
<path d="M308.8 65.4l2.4.9 2.1-2.4-2.4.6z" fill="#c60"/>
<path d="M310.9 66.1l2.4-.5 2.1-1.3-2.4-.6z" fill="#c50"/>
<path d="M312.9 65.3l2.4.7 2.1-.4-2.4-1.5z" fill="#f60"/>
<path d="M315 65.7l2.4 1.5 2.1-1.6-2.4-.3z" fill="#f70"/>
<path d="M317.1 67l2.4-.5 2-1.6-2.4.5z" fill="#c60"/>
<path class="ed2" d="M238.7 56.6l2-2.4 2.1-.8 2.1.9 2 1.1 2.1.3 2.1-.7 2-.1 2.1 1 2.1.4 2-.4 2.1-.1 2.1 1 2 1.2 2.1-.3 2-.3 2.1 1.1 2.1 1.1 2-.5 2.1-1.3 2.1.4 2 1.7 2.1.9 2.1-.7 2 0 2.1 1.2 2.1.6 2-.4 2.1.2 2.1.9 2 .5 2.1-.4 2.1-.4 2 .8 2.1 1.4 2.1.2 2-.7 2.1.4 2 1.1 2.1.1 2.1-.5"/>
<path d="M234.7 57.9l2.5-1.6 1.9-.4-2.4-.1z" fill="#ca0"/>
<path d="M236.7 56.6l2.4-1.5 2.1 0-2.5 1.1z" fill="#c90"/>
<path d="M238.8 55.4l2.4.9 2.1-1.9-2.6.5z" fill="#d90"/>
<path d="M240.8 56l2.4 1.3 2.2-1.7-2.4-1.3z" fill="#fb0"/>
<path d="M242.9 57.1l2.5-.1 2-.4-2.4-1.2z" fill="#fa0"/>
<path d="M245 56.7l2.4.6 2.1-1.1-2.6.3z" fill="#b80"/>
<path d="M247 57.1l2.4.9 2.1-2.1-2.4.1z" fill="#fa0"/>
<path d="M249.1 57.8l2.4 0 2.1-.9-2.4-1.2z" fill="#fb0"/>
<path d="M251.1 57.6l2.5-1.2 2.1 1.3-2.5-1.1z" fill="#b80"/>
<path d="M253.2 56.6l2.4 1.5 2.1-1.1-2.4.9z" fill="#b80"/>
<path d="M255.3 57.8l2.4 1.9 2.1-3.3-2.4.4z" fill="#fa0"/>
<path d="M257.4 59.6l2.3-.3 2.2-1.8-2.4-1.3z" fill="#d90"/>
<path d="M259.4 59.1l2.6-1 1.9.5-2.4-1.3z" fill="#b80"/>
<path d="M261.5 58.2l2.4 1.7 2.1-2.4-2.6 1.2z" fill="#d90"/>
<path d="M263.6 59.7l2.3 1 2.1-3.2-2.3-.2z" fill="#d80"/>
<path d="M265.6 60.5l2.4-.7 2.1-.6-2.3-1.8z" fill="#f90"/>
<path d="M267.7 59.6l2.4.5 2.1-.6-2.4-.6z" fill="#b70"/>
<path d="M269.7 59.8l2.4 1.5 2.1-2.6-2.4.5z" fill="#e90"/>
<path d="M271.8 61.2l2.4.3 2.1-2.4-2.4-.6z" fill="#d80"/>
<path d="M273.9 61.3l2.4-.1 2.1-.2-2.4-2.1z" fill="#fb0"/>
<path d="M275.9 60.8l2.4 1.2 2.2-.8-2.5-.6z" fill="#b70"/>
<path d="M278 61.8l2.4 1 2.1-2.2-2.4.3z" fill="#d80"/>
<path d="M280.1 62.6l2.5-.7 2-.8-2.4-.7z" fill="#b70"/>
<path d="M282.1 61.6l2.5.7 2 .1-2.3-1.6z" fill="#f80"/>
<path d="M284.2 61.9l2.4 2.1 2.1-1.6-2.4-.4z" fill="#f90"/>
<path d="M286.3 63.8l2.3.3 2.2-2.4-2.4.5z" fill="#b70"/>
<path d="M288.3 64l2.6-.8 2-.6-2.4-1z" fill="#c70"/>
<path d="M290.4 62.9l2.4.9 2.1.1-2.4-1.6z" fill="#f80"/>
<path d="M292.5 63.4l2.3 1.8 2.2-1.4-2.5-.3z" fill="#f90"/>
<path d="M294.5 65l2.4.1 2.1-1.6-2.4 0z" fill="#c70"/>
<path d="M296.6 64.9l2.5-.4 2-.5-2.4-.7z" fill="#b60"/>
<path d="M298.6 64.3l2.4 1.5 2.2-1.6-2.4-.5z" fill="#f80"/>
<path d="M300.7 65.6l2.4 1.3 2.1-3.1-2.4.2z" fill="#e70"/>
<path d="M302.8 66.7l2.4-.7 2.1-2.1-2.4-.2z" fill="#b60"/>
<path d="M304.8 65.8l2.4.4 2.2-.8-2.4-1.6z" fill="#f80"/>
<path d="M306.9 65.8l2.4 2.1 2.1-2-2.4-.8z" fill="#f80"/>
<path d="M309 67.8l2.4.2 2.1-2.9-2.4.6z" fill="#b60"/>
<path d="M311.1 67.9l2.4-.8 2.1-1.5-2.4-.6z" fill="#b50"/>
<path d="M313.1 66.8l2.4.9 2.1-.8-2.4-1.5z" fill="#f70"/>
<path d="M315.2 67.4l2.3 1.4 2.2-2.7-2.4.5z" fill="#e60"/>
<path class="ed2" d="M236.8 56.1l2.1-.2 2-.7 2.1-.6 2.1 1.1 2 .9 2.1-.3 2.1-.3 2 .9 2.1.7 2-.5 2.1-.6 2.1 1.1 2 1 2.1-1 2.1.1 2 1.5 2.1.3 2.1-.7 2 .4 2.1 1.7 2.1.3 2-.5 2.1.4 2.1 1.2 2 .2 2.1-.6 2.1.7 2 1.2 2.1 0 2.1-.2 2 .4 2.1.3 2-.3 2.1.1 2.1 1.3 2 .6 2.1-.7 2.1.4 2 1.2 2.1-.7"/>
<path d="M232.8 58.4l2.4-1.7 2.1-.3-2.4 1.7z" fill="#ca0"/>
<path d="M234.8 57.1l2.6-.5 1.9-1.3-2.4 1.5z" fill="#c90"/>
<path d="M236.9 56.4l2.4 1.1 2.1-1.6-2.4-.8z" fill="#fd0"/>
<path d="M238.9 57.2l2.4 1.2 2.2-1.4-2.4-1.3z" fill="#fc0"/>
<path d="M241 58.2l2.4-.1 2.1-1.5-2.4.1z" fill="#b80"/>
<path d="M243.1 57.9l2.5-1.2 2 .3-2.4-.6z" fill="#b80"/>
<path d="M245.1 56.9l2.5 1.1 2.1-.2-2.5-1z" fill="#b80"/>
<path d="M247.2 57.6l2.4 1.8 2.1-2-2.4.1z" fill="#fc0"/>
<path d="M249.3 59.2l2.4.5 2-3.2-2.3.7z" fill="#b80"/>
<path d="M251.4 59.6l2.3-.5 2.2-1.3-2.4-1.4z" fill="#d90"/>
<path d="M253.4 58.8l2.6.2 1.9.5-2.4-2z" fill="#fa0"/>
<path d="M255.5 58.7l2.4 1.3 2.1-1.1-2.5.8z" fill="#b80"/>
<path d="M257.5 59.7l2.4.8 2.1-2.4-2.4.6z" fill="#c80"/>
<path d="M259.6 60.3l2.5-.5 2-.2-2.4-1.6z" fill="#fa0"/>
<path d="M261.7 59.5l2.6.4 1.9.5-2.5-1.1z" fill="#b70"/>
<path d="M263.7 59.8l2.4 1.9 2.1-2.3-2.5 1.1z" fill="#e90"/>
<path d="M265.8 61.5l2.4 1.1 2.1-2.9-2.4-.5z" fill="#e90"/>
<path d="M267.9 62.4l2.6-1.3 1.9-.1-2.4-1.5z" fill="#c80"/>
<path d="M269.9 61.1l2.4-1 2.2 1.2-2.6 0z" fill="#b70"/>
<path d="M272 60.3l2.4 1.7 2.1-1.2-2.5.7z" fill="#b60"/>
<path d="M274.1 61.7l2.3 1.2 2.2-1.2-2.4-1.1z" fill="#fa0"/>
<path d="M276.1 62.7l2.5 0 2.1-.2-2.5-1.1z" fill="#b70"/>
<path d="M278.2 62.5l2.5.1 2-1.1-2.5 1.3z" fill="#c70"/>
<path d="M280.2 62.4l2.4 1.1 2.2-1.6-2.4-.6z" fill="#fa0"/>
<path d="M282.3 63.2l2.4 1.7 2.1-1.2-2.3-2z" fill="#f90"/>
<path d="M284.4 64.7l2.4 0 2.1-.9-2.4-.4z" fill="#b70"/>
<path d="M286.5 64.5l2.4-1.3 2.1-.4-2.5 1.3z" fill="#c70"/>
<path d="M288.5 63.5l2.4 1.1 2.1-1.1-2.4-.8z" fill="#f80"/>
<path d="M290.6 64.3l2.4 1.8 2.1-1.2-2.4-1.7z" fill="#f80"/>
<path d="M292.6 65.8l2.5.2 2.1-1.3-2.5-.1z" fill="#c70"/>
<path d="M294.7 65.8l2.4-.1 2.1-1.5-2.4.3z" fill="#b60"/>
<path d="M296.8 65.4l2.4.7 2.1-.5-2.4-1.6z" fill="#f80"/>
<path d="M298.8 65.7l2.4 1.6 2.2-.7-2.4-1.4z" fill="#f80"/>
<path d="M300.9 67l2.4.8 2.1-2.2-2.5.7z" fill="#c70"/>
<path d="M303 67.7l2.4-.2 2.1-1.7-2.4-.4z" fill="#c60"/>
<path d="M305 67.2l2.5.2 2 .3-2.3-2.1z" fill="#f70"/>
<path d="M307.1 67l2.5 1.1 2-.3-2.6 0z" fill="#b60"/>
<path d="M309.2 67.8l2.3 1.4 2.2-2.6-2.6.9z" fill="#d70"/>
<path d="M311.2 69l2.4.2 2.1-1.9-2.3-.8z" fill="#e70"/>
<path d="M313.3 69l2.4.1 2.1-.5-2.4-1.5z" fill="#f80"/>
<path class="ed2" d="M234.9 57.8l2.1-1.3 2.1-1.1 2 .6 2.1 1 2-.3 2.1.4 2.1.6 2-.2 2.1-.8 2.1 1.1 2 1.6 2.1-.4 2.1-.7 2 1.3 2.1.8 2.1-.9 2 .3 2.1 1.2 2.1.2 2-.3 2.1.8 2.1.8 2-.9 2.1.4 2.1 1.7 2 .1 2.1-.8 2 .5 2.1 1.4 2.1-.1 2-.5 2.1 1.2 2.1 1.1 2-.9 2.1.2 2.1 1.7 2 .1 2.1-.9 2.1.6 2 1.1"/>
<path d="M230.9 58.8l2.4-2.1 2.1.2-2.4 1.7z" fill="#ca0"/>
<path d="M232.9 56.9l2.4 1.4 2.2-2-2.6.5z" fill="#fb0"/>
<path d="M235 58.1l2.4 1.4 2.1-2.4-2.3-1z" fill="#fb0"/>
<path d="M237.1 59.3l2.4-.4 2.1-.8-2.4-1.2z" fill="#ea0"/>
<path d="M239.1 58.7l2.7-.3 1.9-.7-2.6.2z" fill="#b80"/>
<path d="M241.2 58.3l2.4 1.3 2.1-2.8-2.4.7z" fill="#d90"/>
<path d="M243.3 59.4l2.4.3 2.1-2.1-2.4-1z" fill="#ea0"/>
<path d="M245.3 59.5l2.6-.5 2 .1-2.4-1.7z" fill="#fb0"/>
<path d="M247.4 58.8l2.4 1.1 2.1-.4-2.5-.7z" fill="#b80"/>
<path d="M249.5 59.6l2.3 1.6 2.2-2.5-2.5.4z" fill="#fb0"/>
<path d="M251.6 61l2.3-.1 2.1-2.2-2.3-.2z" fill="#c80"/>
<path d="M253.6 60.8l2.4-.3 2.1-.9-2.4-1.1z" fill="#ea0"/>
<path d="M255.7 60.2l2.3 1.4 2.2-1.5-2.4-.7z" fill="#fb0"/>
<path d="M257.7 61.4l2.4 1 2.1-3-2.3.5z" fill="#d90"/>
<path d="M259.8 62.3l2.4-.9 2.1-1.7-2.4-.4z" fill="#b70"/>
<path d="M261.9 61.1l2.4.4 2.1 0-2.4-1.9z" fill="#f90"/>
<path d="M263.9 61.1l2.4 1.8 2.1-.6-2.4-1.2z" fill="#fa0"/>
<path d="M266 62.6l2.4.4 2.1-2.1-2.5 1.6z" fill="#c80"/>
<path d="M268.1 62.8l2.3-.1 2.1-2.4-2.3.5z" fill="#b70"/>
<path d="M270.1 62.5l2.4 1.2 2.1-2-2.3-1.6z" fill="#f80"/>
<path d="M272.2 63.5l2.4 1 2.1-1.9-2.4-1.2z" fill="#fa0"/>
<path d="M274.3 64.3l2.4-.7 2.1-1.2-2.4-.1z" fill="#b70"/>
<path d="M276.3 63.4l2.4.2 2.1-1.3-2.4-.1z" fill="#c70"/>
<path d="M278.4 63.3l2.4 1.6 2.1-1.7-2.4-1.1z" fill="#f90"/>
<path d="M280.4 64.7l2.5.2 2.1-.2-2.4-1.8z" fill="#f90"/>
<path d="M282.5 64.6l2.5-.7 2 .5-2.5.5z" fill="#b70"/>
<path d="M284.6 64.1l2.4 1.5 2.1-2.2-2.6 1.1z" fill="#d70"/>
<path d="M286.6 65.4l2.4 1.6 2.2-2.8-2.4-1z" fill="#f80"/>
<path d="M288.7 66.8l2.4-.3 2.1-.7-2.3-1.8z" fill="#fa0"/>
<path d="M290.8 66.3l2.5-.8 2 .2-2.6-.1z" fill="#b60"/>
<path d="M292.8 65.7l2.4 1.2 2.2-1.6-2.6.2z" fill="#d70"/>
<path d="M294.9 66.6l2.4 1.1 2.1-2-2.4-.6z" fill="#f90"/>
<path d="M297 67.5l2.4-.1 2.1-.4-2.4-1.5z" fill="#f80"/>
<path d="M299 67l2.5 1 2.1-.4-2.5-.9z" fill="#b60"/>
<path d="M301.1 67.7l2.4 1.7 2.1-2.3-2.4.1z" fill="#fa0"/>
<path d="M303.2 69.3l2.4-.3 2.1-2-2.4-.1z" fill="#b60"/>
<path d="M305.2 68.8l2.5-1.4 2.1.4-2.5-1z" fill="#b50"/>
<path d="M307.3 67.5l2.4 1.5 2.1 0-2.4-1.5z" fill="#f60"/>
<path d="M309.4 68.6l2.3 1.7 2.2-1.4-2.5-.3z" fill="#f70"/>
<path d="M311.4 70.1l2.5-.1 2-1.2-2.4-.2z" fill="#c60"/>
<path class="ed2" d="M233 58.3l2.1-1.3 2.1-.6 2 .8 2.1.9 2.1-.3 2-.9 2.1.8 2.1 1.4 2 .3 2.1-.6 2.1 0 2 .9 2.1.5 2.1-.6 2 .3 2.1 1.5 2.1.9 2-1.2 2.1-.7 2.1 1.3 2 .9 2.1-.1 2-.1 2.1.8 2.1 1.4 2-.2 2.1-.9 2.1.8 2 1.5 2.1-.1 2.1-.3 2 .4 2.1 1.2 2.1.5 2-.3 2.1-.1 2.1.7 2 1.1 2.1 0 2-.1"/>
<path d="M229 59.5l2.6-1.5 1.9-1.2-2.4 2.1z" fill="#ca0"/>
<path d="M231.1 58.3l2.6-.3 1.9.1-2.4-1.4z" fill="#fa0"/>
<path d="M233.1 57.7l2.5 1.5 2.1.1-2.5-1.6z" fill="#fb0"/>
<path d="M235.2 58.8l2.4 1.9 2.1-2.2-2.6.5z" fill="#fc0"/>
<path d="M237.3 60.6l2.4.1 2.1-2.6-2.4.2z" fill="#b80"/>
<path d="M239.4 60.5l2.4-.5 2.1-.8-2.4-1.3z" fill="#da0"/>
<path d="M241.4 59.7l2.4.9 2.1-1.3-2.4-.3z" fill="#ea0"/>
<path d="M243.5 60.3l2.3 1.4 2.2-3-2.4.4z" fill="#ea0"/>
<path d="M245.6 61.6l2.3-.2 2.1-1.8-2.3-1.1z" fill="#d90"/>
<path d="M247.6 61.2l2.6-.4 1.9.1-2.4-1.5z" fill="#ea0"/>
<path d="M249.7 60.6l2.4.8 2.1-.8-2.7.4z" fill="#b80"/>
<path d="M251.7 61.1l2.4 1.6 2.1-2.6-2.4.2z" fill="#fc0"/>
<path d="M253.8 62.6l2.4-.1 2.1-1.2-2.4-1.4z" fill="#fb0"/>
<path d="M255.9 62.3l2.4-1.3 2.1 1.1-2.4-1.1z" fill="#b80"/>
<path d="M257.9 61.2l2.4 1.1 2.1-1.3-2.4 1.4z" fill="#b70"/>
<path d="M260 62l2.4 1.6 2.1-2.5-2.4-.3z" fill="#fb0"/>
<path d="M262.1 63.4l2.3.5 2.2-1.3-2.4-1.7z" fill="#fb0"/>
<path d="M264.1 63.7l2.6-.9 1.9-.2-2.4-.3z" fill="#b70"/>
<path d="M266.2 62.9l2.4.6 2.1-1.1-2.5.1z" fill="#b70"/>
<path d="M268.2 63.2l2.4 1.8 2.2-1.6-2.4-1.3z" fill="#f90"/>
<path d="M270.3 64.8l2.4.8 2.1-1.4-2.4-1.1z" fill="#fc0"/>
<path d="M272.4 65.4l2.4-.4 2.1-1.8-2.5.7z" fill="#c80"/>
<path d="M274.4 64.8l2.4.5 2.1-2.1-2.3-.1z" fill="#d70"/>
<path d="M276.5 65.1l2.4 1.4 2.1-1.9-2.3-1.6z" fill="#f90"/>
<path d="M278.6 66.3l2.4.4 2.1-2.2-2.4-.2z" fill="#d80"/>
<path d="M280.7 66.5l2.3-.4 2.1-2.1-2.3.3z" fill="#b70"/>
<path d="M282.7 65.9l2.4.1 2.1-.7-2.4-1.4z" fill="#f90"/>
<path d="M284.8 65.6l2.4 1.7 2.1-.5-2.4-1.8z" fill="#f80"/>
<path d="M286.8 67l2.4 1.1 2.1-1.9-2.4.2z" fill="#e80"/>
<path d="M288.9 68l2.4-.6 2.1-1.8-2.4.4z" fill="#b60"/>
<path d="M291 67.2l2.4.2 2.1-.9-2.4-1.1z" fill="#f80"/>
<path d="M293 67.1l2.4 1.2 2.2-.9-2.4-1.1z" fill="#f80"/>
<path d="M295.1 68.1l2.4.9 2.1-2-2.4.1z" fill="#d70"/>
<path d="M297.2 68.8l2.4.3 2.1-1.5-2.4-.8z" fill="#f80"/>
<path d="M299.2 68.8l2.5.3 2 .1-2.3-1.8z" fill="#f80"/>
<path d="M301.3 68.8l2.4 1.2 2.1-1.4-2.6.6z" fill="#b60"/>
<path d="M303.4 69.8l2.3.5 2.1-2.8-2.4.9z" fill="#b60"/>
<path d="M305.4 70.1l2.4.2 2.1-1.7-2.3-1.3z" fill="#f60"/>
<path d="M307.5 70l2.4.3 2.1-.3-2.4-1.6z" fill="#f70"/>
<path d="M309.5 70l2.4 1 2.2-1.4-2.6.2z" fill="#b50"/>
<path class="ed2" d="M231.2 58.6l2-1.6 2.1 1 2.1 1.2 2-.6 2.1-.4 2.1 1.1 2 .1 2.1-.6 2.1.9 2 1.2 2.1-.3 2.1-.4 2 1.1 2.1.8 2.1-1 2 .1 2.1 1.4 2 .1 2.1-.3 2.1 1 2 .8 2.1-.8 2.1-.1 2 1.3 2.1 0 2.1-.4 2 1.1 2.1 1.4 2.1-.4 2-.6 2.1.9 2.1.8 2-.3 2.1.6 2 1.4 2.1-.4 2.1-1.1 2 1.1 2.1 1.3 2.1-.3"/>
<path d="M227.1 60.2l2.5-.4 2-1.7-2.6 1.4z" fill="#b80"/>
<path d="M229.2 59.6l2.4.6 2.1-2.5-2.4.2z" fill="#d90"/>
<path d="M231.3 60l2.3.8 2.2-2-2.4-1.3z" fill="#fb0"/>
<path d="M233.3 60.6l2.6-.4 2 .3-2.4-1.9z" fill="#fb0"/>
<path d="M235.4 60l2.4-.6 2.1 1.1-2.4.2z" fill="#b80"/>
<path d="M237.5 59.7l2.4 1.1 2.1-1.1-2.5 1z" fill="#b80"/>
<path d="M239.5 60.5l2.4 1.5 2.2-1.8-2.4-.8z" fill="#fc0"/>
<path d="M241.6 61.8l2.4.5 2.1-.9-2.4-1.4z" fill="#fd0"/>
<path d="M243.7 62.1l2.4-1.4 2.1.4-2.7.4z" fill="#c80"/>
<path d="M245.7 60.9l2.4 1.3 2.1-1.6-2.6.4z" fill="#d90"/>
<path d="M247.8 61.9l2.4 2.2 2.1-3.1-2.4-.7z" fill="#fa0"/>
<path d="M249.9 64l2.3.1 2.2-1.7-2.4-1.6z" fill="#fa0"/>
<path d="M251.9 63.9l2.5-1.5 2-.3-2.4.1z" fill="#c90"/>
<path d="M254 62.7l2.4.7 2.1-2.3-2.6.9z" fill="#b80"/>
<path d="M256 63.2l2.4 1.1 2.2-2.4-2.4-.9z" fill="#fa0"/>
<path d="M258.1 64.1l2.4.1 2.1-.9-2.3-1.6z" fill="#fc0"/>
<path d="M260.2 64l2.5-.9 2 .5-2.5-.6z" fill="#b70"/>
<path d="M262.2 63.4l2.5.8 2.1-1.4-2.5 1.1z" fill="#b70"/>
<path d="M264.3 63.9l2.4 1.5 2.1-2.3-2.4-.5z" fill="#fb0"/>
<path d="M266.4 65.2l2.4.2 2.1-.6-2.4-1.9z" fill="#fc0"/>
<path d="M268.4 65.2l2.5-1 2.1 1.1-2.5-.8z" fill="#b70"/>
<path d="M270.5 64.4l2.5 1 2-.7-2.4.9z" fill="#b70"/>
<path d="M272.6 65.1l2.3 1.5 2.2-1.6-2.4-.5z" fill="#fa0"/>
<path d="M274.6 66.4l2.4.6 2.2-.8-2.4-1.5z" fill="#fb0"/>
<path d="M276.7 66.8l2.6 0 1.9-.4-2.4-.5z" fill="#b70"/>
<path d="M278.8 66.6l2.4.6 2.1-1.5-2.7.6z" fill="#b70"/>
<path d="M280.8 67l2.4 1.4 2.1-2.9-2.3 0z" fill="#f80"/>
<path d="M282.9 68.2l2.4.7 2.1-2-2.4-1.5z" fill="#f80"/>
<path d="M285 68.7l2.4-.2 2.1-.7-2.4-1.1z" fill="#e80"/>
<path d="M287 68.3l2.4.3 2.1-1.6-2.6.8z" fill="#b70"/>
<path d="M289.1 68.3l2.4 1.2 2.1-2.5-2.4-.2z" fill="#f80"/>
<path d="M291.2 69.3l2.3.4 2.2-1.7-2.4-1.2z" fill="#f80"/>
<path d="M293.2 69.5l2.6-1 1.9.2-2.4-.9z" fill="#b60"/>
<path d="M295.3 68.6l2.4.9 2.1-.8-2.5-.2z" fill="#b50"/>
<path d="M297.3 69.2l2.4 1.8 2.2-2.2-2.4-.3z" fill="#f90"/>
<path d="M299.4 70.8l2.4.8 2.1-2-2.3-1z" fill="#f80"/>
<path d="M301.5 71.4l2.4-.4 2.1-1.1-2.4-.5z" fill="#c60"/>
<path d="M303.5 70.7l2.4.5 2.2-1.3-2.5-.2z" fill="#d60"/>
<path d="M305.6 71l2.4 1.6 2.1-2.7-2.4-.2z" fill="#f80"/>
<path d="M307.7 72.4l2.4.3 2.1-2-2.4-1z" fill="#e70"/>
<path class="ed2" d="M229.3 59.3l2.1-1.1 2-.4 2.1 1.1 2.1 1.5 2 0 2.1-.7 2.1.6 2 1.1 2.1-.3 2.1-.5 2 .5 2.1 1.3 2-.2 2.1-.9 2.1.7 2 1.3 2.1.3 2.1-.7 2 .3 2.1 1.5 2.1.6 2-.5 2.1.2 2.1 1.2 2 .2 2.1-.6 2.1-.1 2 1.3 2.1.8 2-.7 2.1 0 2.1.9 2 .7 2.1.1 2.1.1 2 .8 2.1.3 2.1 0 2 0 2.1.8"/>
<path d="M225.3 61.1l2.4-.1 2.1-1.6-2.5.4z" fill="#c90"/>
<path d="M227.3 60.8l2.6-1.1 2 .2-2.5-.7z" fill="#b80"/>
<path d="M229.4 59.9l2.4 1.1 2.1-.4-2.4-1z" fill="#fb0"/>
<path d="M231.4 60.7l2.4 1.5 2.2-2.3-2.5.3z" fill="#fb0"/>
<path d="M233.6 62l2.3-.6 2.1-1.8-2.4.1z" fill="#b80"/>
<path d="M235.6 61.2l2.6-.5 1.9-.1-2.4-1.2z" fill="#d90"/>
<path d="M237.7 60.5l2.4 1.4 2.1-.1-2.4-1.6z" fill="#fa0"/>
<path d="M239.7 61.5l2.4 1.6 2.1-1.1-2.4-.5z" fill="#fb0"/>
<path d="M241.8 62.9l2.4.1 2.1-2.2-2.6 1z" fill="#b80"/>
<path d="M243.8 62.8l2.4.5 2.2-1.4-2.4-1.2z" fill="#fd0"/>
<path d="M245.9 63l2.4 1.4 2.1-.5-2.3-2.3z" fill="#fb0"/>
<path d="M248 64.1l2.4 1 2.1-1.4-2.4-.2z" fill="#ea0"/>
<path d="M250.1 65l2.4-.7 2-1.8-2.6 1.2z" fill="#d90"/>
<path d="M252.1 64.1l2.5-.2 2-.8-2.4-.8z" fill="#c80"/>
<path d="M254.2 63.5l2.4 1.4 2.1-.9-2.4-1.2z" fill="#fa0"/>
<path d="M256.2 64.7l2.5.3 2.1-1.1-2.5-.2z" fill="#b80"/>
<path d="M258.3 64.8l2.5-.2 2-1.3-2.5.4z" fill="#c80"/>
<path d="M260.4 64.3l2.3 1.3 2.2-1.8-2.4-.7z" fill="#fb0"/>
<path d="M262.4 65.3l2.4 1.3 2.2-1.5-2.4-1.5z" fill="#fa0"/>
<path d="M264.5 66.4l2.4-.2 2.1-1.1-2.4-.3z" fill="#b80"/>
<path d="M266.6 66l2.4-.1 2.1-1.5-2.5.5z" fill="#c70"/>
<path d="M268.6 65.6l2.4 1.8 2.1-2.4-2.3-.8z" fill="#f90"/>
<path d="M270.7 67.1l2.4 1.4 2.1-2.2-2.4-1.5z" fill="#f90"/>
<path d="M272.8 68.4l2.6-1.1 1.9-.6-2.4-.7z" fill="#b70"/>
<path d="M274.8 67.2l2.5.3 2-1-2.5 0z" fill="#b70"/>
<path d="M276.9 67.2l2.4 1.4 2.1-1.7-2.4-.6z" fill="#fa0"/>
<path d="M278.9 68.3l2.5.5 2.1-.6-2.4-1.6z" fill="#fa0"/>
<path d="M281 68.5l2.5-.7 2 .9-2.4-.8z" fill="#b70"/>
<path d="M283.1 68l2.5.9 2-.7-2.5.7z" fill="#b60"/>
<path d="M285.1 68.6l2.4 1.6 2.2-2-2.4-.3z" fill="#fa0"/>
<path d="M287.2 69.9l2.4.4 2.1-1.1-2.4-1.2z" fill="#fa0"/>
<path d="M289.3 70.1l2.5-.3 2-.5-2.4-.4z" fill="#b60"/>
<path d="M291.3 69.6l2.4 1.6 2.1-2.7-2.4.6z" fill="#e70"/>
<path d="M293.4 70.9l2.4 1.5 2.1-3.3-2.3-.8z" fill="#e70"/>
<path d="M295.5 72.3l2.4-.8 2.1-.8-2.4-1.8z" fill="#e80"/>
<path d="M297.5 71.3l2.6-.6 2 .7-2.5-.9z" fill="#b60"/>
<path d="M299.6 70.9l2.4 1.9 2.1-2.2-2.6.6z" fill="#f80"/>
<path d="M301.7 72.6l2.3.8 2.2-2.6-2.4-.4z" fill="#e70"/>
<path d="M303.8 73.3l2.5-1.5 2 .5-2.4-1.7z" fill="#d70"/>
<path d="M305.8 72l2.4-.5 2.1.9-2.5.2z" fill="#b60"/>
<path class="ed2" d="M227.4 60.1l2.1-.6 2.1.4 2 .6 2.1-.5 2.1-.3 2 .8 2.1 1.2 2 .3 2.1-1 2.1.9 2 1.9 2.1 0 2.1-1.2 2 .5 2.1.9 2.1-.1 2-.5 2.1.5 2.1 1.2 2 0 2.1-.6 2.1.6 2 1.2 2.1.4 2-.1 2.1.3 2.1 1.2 2 .5 2.1-.4 2.1.1 2 .9 2.1.2 2.1-.8 2 .6 2.1 1.5 2.1.6 2-.6 2.1.2 2.1 1.4 2 .1"/>
<path d="M223.4 60.7l2.4 1.1 2.1-1.2-2.6.5z" fill="#fa0"/>
<path d="M225.5 61.6l2.4-.2 2.1-1.6-2.6.6z" fill="#c80"/>
<path d="M227.5 61.2l2.6-.8 1.9.3-2.4-1.1z" fill="#b80"/>
<path d="M229.6 60.4l2.4 1.4 2.1.2-2.4-1.6z" fill="#fa0"/>
<path d="M231.6 61.5l2.4 2 2.2-2.5-2.6.7z" fill="#fc0"/>
<path d="M233.7 63.4l2.4.3 2.1-3.3-2.4.4z" fill="#b80"/>
<path d="M235.8 63.6l2.4-.6 2.1-1.5-2.4-1.2z" fill="#d90"/>
<path d="M237.8 62.8l2.5.2 2.1-.2-2.4-1.5z" fill="#fb0"/>
<path d="M239.9 62.7l2.4 1.4 2.1-1.4-2.4-.2z" fill="#fa0"/>
<path d="M242 63.9l2.4.3 2.1-1.2-2.4-.6z" fill="#d90"/>
<path d="M244 63.9l2.7-.3 1.9.6-2.4-1.5z" fill="#b80"/>
<path d="M246.1 63.6l2.5 1.1 2 .2-2.5-1z" fill="#b80"/>
<path d="M248.2 64.4l2.4 1.1 2.1-1.6-2.5 1.2z" fill="#b80"/>
<path d="M250.2 65.3l2.4 0 2.1-1.8-2.4.2z" fill="#b80"/>
<path d="M252.3 65.1l2.6-.6 1.9.2-2.4-1.4z" fill="#d90"/>
<path d="M254.4 64.4l2.4 1.3 2.1-1-2.5-.3z" fill="#b70"/>
<path d="M256.4 65.4l2.4 1.8 2.1-3-2.4.2z" fill="#fb0"/>
<path d="M258.5 67l2.4.5 2.1-2.3-2.4-1.2z" fill="#e90"/>
<path d="M260.6 67.3l2.4-.2 2.1-.8-2.4-1.3z" fill="#fa0"/>
<path d="M262.6 66.9l2.4.5 2.1-1.6-2.4.2z" fill="#c80"/>
<path d="M264.7 67.2l2.4 1.1 2.1-2.8-2.4.1z" fill="#d80"/>
<path d="M266.8 68.1l2.3 0 2.2-1-2.4-1.8z" fill="#fb0"/>
<path d="M268.8 67.8l2.7-.2 1.8.7-2.4-1.5z" fill="#b70"/>
<path d="M270.9 67.7l2.4.8 2.1-1.4-2.4 1.4z" fill="#b70"/>
<path d="M272.9 68.2l2.4 1.4 2.2-2.5-2.4-.2z" fill="#fa0"/>
<path d="M275 69.4l2.4.5 2.1-1.7-2.3-1.3z" fill="#fa0"/>
<path d="M277.1 69.7l2.5-1.4 2 .1-2.4-.4z" fill="#b70"/>
<path d="M279.1 68.6l2.6.2 2-.8-2.7.6z" fill="#b60"/>
<path d="M281.2 68.5l2.4 1.7 2.1-1.6-2.4-.8z" fill="#f80"/>
<path d="M283.3 69.9l2.4 1.3 2.1-1.3-2.4-1.6z" fill="#f90"/>
<path d="M285.3 71l2.5-.2 2.1-.9-2.5-.3z" fill="#b70"/>
<path d="M287.4 70.6l2.4.4 2.1-1.4-2.5.1z" fill="#b60"/>
<path d="M289.5 70.7l2.3 1.4 2.2-1.2-2.4-1.6z" fill="#f80"/>
<path d="M291.5 71.8l2.5.5 2.1-.1-2.4-1.6z" fill="#f90"/>
<path d="M293.6 72.1l2.5-.7 2-.2-2.4 1.2z" fill="#c70"/>
<path d="M295.7 71.7l2.5 0 2-.8-2.6.2z" fill="#b60"/>
<path d="M297.7 71.4l2.4 1.7 2.1-.5-2.3-2z" fill="#f70"/>
<path d="M299.8 72.8l2.4 1.3 2.1-.9-2.4-1z" fill="#f80"/>
<path d="M301.9 73.9l2.4-.1 2-2-2.6 1.5z" fill="#c70"/>
<path d="M303.9 73.6l2.4.1 2.1-2-2.4 0z" fill="#c50"/>
<path class="ed2" d="M225.6 61l2-.3 2.1-.8 2 .8 2.1 1.2 2.1-.8 2-.6 2.1 1.1 2.1 1.2 2-.1 2.1.3 2.1 1.1 2 .7 2.1-.8 2.1-.4 2 1 2.1.1 2.1-.4 2 1 2.1 1 2-.4 2.1-.3 2.1 1.5 2 1.1 2.1-1 2.1 0 2 1.1 2.1.2 2.1-.4 2 .5 2.1 1.3 2.1.1 2-.4 2.1 1.3 2.1 1.2 2-.9 2.1-.3 2.1 1.6 2 .6 2.1-1.1 2.1-.2"/>
<path d="M221.5 62.4l2.5-.4 2-.5-2.4-1z" fill="#fb0"/>
<path d="M223.6 61.8l2.4 1.2 2.1-1.9-2.5.1z" fill="#fb0"/>
<path d="M225.7 62.8l2.3.9 2.1-3.3-2.3.4z" fill="#c90"/>
<path d="M227.7 63.5l2.4-.2 2.1-1.8-2.3-1.3z" fill="#d90"/>
<path d="M229.8 63.1l2.4.1 2.1.1-2.4-2z" fill="#fb0"/>
<path d="M231.8 62.9l2.5 1.2 2.1-.7-2.6-.4z" fill="#b80"/>
<path d="M233.9 63.8l2.4 1.2 2.1-2.4-2.4.5z" fill="#d90"/>
<path d="M236 64.8l2.4.1 2.1-2.3-2.4-.2z" fill="#c80"/>
<path d="M238 64.7l2.5-.3 2.1-.6-2.4-1.3z" fill="#ea0"/>
<path d="M240.1 64.1l2.4.7 2.1-.9-2.4-.4z" fill="#b80"/>
<path d="M242.2 64.5l2.3 1.2 2.2-2.2-2.4.1z" fill="#fb0"/>
<path d="M244.2 65.5l2.4.4 2.2-1.5-2.4-1.1z" fill="#fc0"/>
<path d="M246.3 65.6l2.5-.1 2-.3-2.4-1.1z" fill="#d90"/>
<path d="M248.3 65.2l2.5.7 2.1-.9-2.6 0z" fill="#b80"/>
<path d="M250.4 65.6l2.4 1.4 2.1-2.7-2.4.5z" fill="#e90"/>
<path d="M252.5 66.8l2.4.8 2.1-2.3-2.4-1.1z" fill="#f90"/>
<path d="M254.6 67.5l2.5-.6 2 0-2.4-1.8z" fill="#fa0"/>
<path d="M256.6 66.7l2.4-.8 2.1 1.4-2.5-.1z" fill="#b70"/>
<path d="M258.7 66.1l2.4 1.8 2.1-1.1-2.5.7z" fill="#b70"/>
<path d="M260.7 67.6l2.4 1.7 2.2-2.2-2.4-.6z" fill="#fb0"/>
<path d="M262.8 69l2.4.3 2.1-1.4-2.4-1.1z" fill="#fb0"/>
<path d="M264.9 69.1l2.5-.4 2-1-2.4 0z" fill="#b80"/>
<path d="M266.9 68.5l2.4.6 2.2-1.5-2.5-.1z" fill="#d80"/>
<path d="M269 68.8l2.4 1.1 2.1-1.8-2.4-.7z" fill="#fb0"/>
<path d="M271.1 69.6l2.4.7 2.1-1-2.4-1.4z" fill="#fb0"/>
<path d="M273.1 70.1l2.6-.8 2 .3-2.5-.6z" fill="#b70"/>
<path d="M275.2 69.6l2.5.2 2-1.3-2.4 1.3z" fill="#c70"/>
<path d="M277.3 69.6l2.3 1.8 2.2-3-2.4-.1z" fill="#f80"/>
<path d="M279.3 71.2l2.4.6 2.2-1.9-2.4-1.7z" fill="#f80"/>
<path d="M281.4 71.6l2.6-.8 1.9.1-2.4-1.3z" fill="#d70"/>
<path d="M283.5 70.8l2.6.1 1.9-.4-2.5.6z" fill="#b60"/>
<path d="M285.5 70.8l2.4 1.6 2.2-1.7-2.5-.5z" fill="#f90"/>
<path d="M287.6 72.2l2.4 1.3 2.1-1.7-2.4-1.4z" fill="#f90"/>
<path d="M289.7 73.3l2.4-.1 2.1-1.2-2.4-.5z" fill="#c70"/>
<path d="M291.7 73l2.5-.2 2-1.3-2.4.3z" fill="#b60"/>
<path d="M293.8 72.6l2.4 1.5 2.1-2.8-2.4 0z" fill="#f80"/>
<path d="M295.9 73.9l2.3 1.2 2.2-2.4-2.4-1.5z" fill="#f70"/>
<path d="M297.9 74.9l2.4 0 2.1-1.1-2.3-1.3z" fill="#f90"/>
<path d="M300 74.7l2.4-.1 2.1-1.2-2.5.1z" fill="#b60"/>
<path d="M302 74.3l2.4.9 2.2-1.9-2.4-.1z" fill="#e70"/>
<path class="ed2" d="M223.7 60.8l2 .7 2.1-.4 2.1-.6 2 1.1 2.1 1.6 2.1.2 2-.7 2.1.1 2.1 1 2 .1 2.1-.3 2.1.8 2 .8 2.1-.2 2-.5 2.1.9 2.1 1.5 2 .3 2.1-.4 2.1.3 2 .9 2.1-.2 2.1-.1 2 .5 2.1 1.1 2.1.3 2-1 2.1-.1 2.1 1.4 2 1 2.1-.4 2.1.2 2 1.1 2.1.2 2.1-.4 2-.1 2.1 1.3 2 1 2.1-.3 2.1-.1"/>
<path d="M219.6 62.2l2.4 1.1 2.2-1.6-2.7.4z" fill="#ea0"/>
<path d="M221.7 63l2.4 1.8 2.1-2.1-2.4-1.2z" fill="#fb0"/>
<path d="M223.8 64.6l2.4-.4 2.1-.9-2.4-.9z" fill="#d90"/>
<path d="M225.8 64l2.5-1.1 2.1.1-2.7.4z" fill="#c80"/>
<path d="M227.9 63.2l2.4 1.7 2.1-2-2.4-.2z" fill="#fd0"/>
<path d="M230 64.6l2.3 1.3 2.2-2.2-2.4-1.1z" fill="#fb0"/>
<path d="M232 65.7l2.5-.3 2.1-.7-2.4-1.2z" fill="#ea0"/>
<path d="M234.1 65.1l2.5.3 2-.8-2.5-.1z" fill="#b80"/>
<path d="M236.1 65.1l2.4 1.5 2.2-2.7-2.4.4z" fill="#fb0"/>
<path d="M238.2 66.4l2.4.5 2.1-2.5-2.3-.6z" fill="#d90"/>
<path d="M240.3 66.7l2.5-.7 2-.6-2.4-1.2z" fill="#c90"/>
<path d="M242.3 65.7l2.5.6 2.1-.8-2.5-.4z" fill="#b80"/>
<path d="M244.4 66l2.4 2 2.1-2.9-2.4.2z" fill="#fc0"/>
<path d="M246.5 67.9l2.4.3 2.1-2.7-2.4-.6z" fill="#d90"/>
<path d="M248.6 68l2.6-1.1 1.9-.2-2.4-1.4z" fill="#c80"/>
<path d="M250.6 66.7l2.6.4 1.9.3-2.4-1z" fill="#b70"/>
<path d="M252.7 66.9l2.4 1.7 2.1-2-2.6.8z" fill="#e90"/>
<path d="M254.8 68.4l2.3.2 2.1-2.5-2.3.3z" fill="#b70"/>
<path d="M256.8 68.4l2.5-.5 2-.3-2.4-1.7z" fill="#f90"/>
<path d="M258.9 67.5l2.4 1.4 2.1.2-2.4-1.8z" fill="#f90"/>
<path d="M260.9 68.5l2.4 2.1 2.2-1.6-2.5-.3z" fill="#fa0"/>
<path d="M263 70.4l2.4 0 2.1-2.1-2.4.4z" fill="#b80"/>
<path d="M265.1 70.2l2.4.1 2.1-1.6-2.4-.6z" fill="#d80"/>
<path d="M267.1 70l2.4 1.8 2.2-2.3-2.4-1z" fill="#fa0"/>
<path d="M269.2 71.5l2.4.8 2.1-2.4-2.4-.6z" fill="#ea0"/>
<path d="M271.3 72.2l2.4-1.1 2.1-1.7-2.4.3z" fill="#b70"/>
<path d="M273.3 70.9l2.4.5 2.1-2-2.3-.2z" fill="#d70"/>
<path d="M275.4 71.1l2.4 2 2.1-2-2.4-1.9z" fill="#f80"/>
<path d="M277.5 72.9l2.3.4 2.2-1.9-2.4-.6z" fill="#e90"/>
<path d="M279.6 73.2l2.6-1.5 1.8-1-2.4.5z" fill="#d80"/>
<path d="M281.6 71.8l2.4.4 2.1-1.5-2.4-.2z" fill="#d60"/>
<path d="M283.6 71.9l2.4 1.8 2.2-1.6-2.4-1.6z" fill="#f70"/>
<path d="M285.7 73.5l2.4.8 2.1-1.1-2.3-1.4z" fill="#fa0"/>
<path d="M287.8 74.1l2.5-1.2 2 0-2.6.1z" fill="#c70"/>
<path d="M289.8 73.2l2.5.3 2.1-1-2.7.4z" fill="#b60"/>
<path d="M291.9 73.1l2.4 1.8 2.1-1.1-2.4-1.5z" fill="#f70"/>
<path d="M294 74.6l2.4.6 2.1-.4-2.4-1.3z" fill="#f80"/>
<path d="M296 74.9l2.4-1.2 2.2 1-2.5.4z" fill="#b60"/>
<path d="M298.1 74l2.4 1 2.1-.7-2.5.6z" fill="#b50"/>
<path d="M300.2 74.7l2.3 1.9 2.2-1.8-2.4-.8z" fill="#f70"/>
<path class="ed2" d="M221.8 62.3l2.1-.5 2 .9 2.1.7 2.1-.4 2-.1 2.1.9 2.1.9 2-.1 2.1-.5 2 .4 2.1.9 2.1.2 2-.4 2.1.4 2.1 1.1 2 .6 2.1-.6 2.1-.5 2 1.4 2.1 1.4 2.1 0 2-.6 2.1.4 2.1.8 2 .4 2.1-.5 2.1 0 2 1.6 2.1.4 2.1-.7 2 0 2.1 1.3 2 1.1 2.1-.3 2.1-.3 2 1.2 2.1 1 2.1-.2 2-.3 2.1.6"/>
<path d="M217.8 64.9l2.4-.8 2.1-1.2-2.4-.9z" fill="#c80"/>
<path d="M219.8 63.8l2.5.5 2 .3-2.3-1.9z" fill="#fb0"/>
<path d="M221.9 64l2.4 1.4 2.1-1.6-2.6.9z" fill="#b80"/>
<path d="M224 65.2l2.3.2 2.1-2.4-2.3.6z" fill="#b80"/>
<path d="M226 65.2l2.5-.3 2-.3-2.3-1.7z" fill="#fc0"/>
<path d="M228.1 64.6l2.5.9 2 .1-2.4-1.3z" fill="#b80"/>
<path d="M230.1 65.1l2.4 1.3 2.2-1.4-2.6.7z" fill="#b80"/>
<path d="M232.2 66.2l2.4.1 2.1-1.3-2.4-.2z" fill="#c90"/>
<path d="M234.3 66l2.6-.4 1.9.7-2.4-1.5z" fill="#b80"/>
<path d="M236.3 65.7l2.5 1.2 2.1-.3-2.7-.4z" fill="#b80"/>
<path d="M238.4 66.6l2.4 1.7 2.1-2.7-2.5.8z" fill="#fa0"/>
<path d="M240.5 68.2l2.4-.3 2.1-2-2.4-.5z" fill="#c80"/>
<path d="M242.5 67.6l2.5-1.2 2.1 1.4-2.4-2.1z" fill="#b80"/>
<path d="M244.6 66.6l2.6.7 1.9.6-2.4.1z" fill="#b80"/>
<path d="M246.7 67.3l2.3 2.1 2.2-2.8-2.6 1.5z" fill="#ea0"/>
<path d="M248.8 69.2l2.3.4 2.1-2.8-2.3-.3z" fill="#c80"/>
<path d="M250.8 69.4l2.6-.9 1.9-.2-2.4-1.6z" fill="#d90"/>
<path d="M252.9 68.3l2.4 1 2.1-1-2.5-.3z" fill="#b70"/>
<path d="M254.9 69l2.4 2.1 2.1-3.7-2.3.6z" fill="#f90"/>
<path d="M257 71l2.4.1 2.1-2.6-2.4-1.2z" fill="#d80"/>
<path d="M259.1 71l2.6-1.2 1.9.5-2.4-2z" fill="#fa0"/>
<path d="M261.1 69.8l2.6.7 2-.4-2.6.4z" fill="#b70"/>
<path d="M263.2 70.2l2.4 1.2 2.1-1.5-2.4-.1z" fill="#e90"/>
<path d="M265.2 71.1l2.5.7 2.1-.3-2.4-1.8z" fill="#fa0"/>
<path d="M267.3 71.5l2.5-.4 2 1-2.5-.9z" fill="#b70"/>
<path d="M269.4 71.3l2.4 1.3 2.1-1.9-2.4 1.6z" fill="#b70"/>
<path d="M271.4 72.4l2.4 1.6 2.2-3-2.4-.5z" fill="#f90"/>
<path d="M273.5 73.9l2.4-.5 2.1-.5-2.3-2.1z" fill="#fb0"/>
<path d="M275.6 73.2l2.4-1.4 2.1 1.3-2.6-.1z" fill="#b70"/>
<path d="M277.6 72l2.4 1.6 2.2-1.9-2.4 1.6z" fill="#b60"/>
<path d="M279.7 73.3l2.4 1.8 2.1-3.3-2.3-.3z" fill="#f80"/>
<path d="M281.8 74.9l2.4-.1 2.1-1.4-2.4-1.8z" fill="#f80"/>
<path d="M283.8 74.6l2.5-1.2 2.1.6-2.5-.9z" fill="#b70"/>
<path d="M285.9 73.6l2.4 1.1 2.1-1.7-2.5 1.2z" fill="#b60"/>
<path d="M288 74.5l2.3 1.5 2.2-2.9-2.4-.3z" fill="#f80"/>
<path d="M290.1 75.8l2.3-.1 2.2-1.1-2.4-1.7z" fill="#f90"/>
<path d="M292.1 75.5l2.7-.6 1.8-.1-2.4-.5z" fill="#b60"/>
<path d="M294.2 75l2.3 1.3 2.2-2.4-2.6.7z" fill="#d60"/>
<path d="M296.2 76.1l2.4 1.4 2.1-2.9-2.3-.9z" fill="#f70"/>
<path d="M298.3 77.3l2.4-.1 2.1-.9-2.4-1.9z" fill="#f90"/>
<path class="ed2" d="M219.9 62.3l2.1.7 2.1 1.5 2-.6 2.1-.7 2 1.4 2.1 1 2.1-.5 2 0 2.1 1.2 2.1.3 2-.9 2.1.3 2.1 1.7 2 .2 2.1-1.1 2.1.2 2 1.3 2.1 0 2.1-.7 2 1 2.1 1.7 2.1-.2 2-.1 2.1 1.5 2.1.5 2-1.2 2.1.3 2 1.7 2.1.2 2.1-1.2 2 .1 2.1 1.5 2.1.6 2-.9 2.1.1 2.1 1.4 2 .3 2.1-.9 2.1.7 2 1.6"/>
<path d="M215.9 65.1l2.4-1.5 2.1.1-2.4 1.3z" fill="#c90"/>
<path d="M217.9 63.9l2.6.4 2-.3-2.5-.5z" fill="#b80"/>
<path d="M220 64l2.4 1.7 2.1-.5-2.4-1.5z" fill="#fb0"/>
<path d="M222.1 65.4l2.4.5 2.1-.8-2.5-.3z" fill="#b80"/>
<path d="M224.1 65.7l2.5-1.1 2.1 0-2.7.7z" fill="#c80"/>
<path d="M226.2 64.9l2.5.7 2-.4-2.4-.8z" fill="#b80"/>
<path d="M228.3 65.2l2.4 2.2 2.1-1.3-2.4-1.2z" fill="#fb0"/>
<path d="M230.3 67.1l2.4.7 2.2-1.9-2.4-.1z" fill="#d90"/>
<path d="M232.4 67.6l2.4-.4 2.1-1.6-2.4.1z" fill="#b80"/>
<path d="M234.5 66.9l2.4 1.3 2.1-1.6-2.4-1.2z" fill="#fc0"/>
<path d="M236.5 67.9l2.4 1.8 2.2-1.7-2.4-1.7z" fill="#fb0"/>
<path d="M238.6 69.6l2.4 0 2.1-2.2-2.4.3z" fill="#b80"/>
<path d="M240.7 69.5l2.4-1 2-2-2.3.8z" fill="#d90"/>
<path d="M242.7 68.3l2.4.8 2.2-1.8-2.4-.9z" fill="#fb0"/>
<path d="M244.8 68.8l2.4 2.2 2.1-1.9-2.4-2z" fill="#fa0"/>
<path d="M246.9 70.8l2.3.4 2.2-2-2.4-.4z" fill="#d90"/>
<path d="M249 71.1l2.4-.9 2-2.1-2.4.9z" fill="#d90"/>
<path d="M251 70l2.4.6 2.1-1.6-2.4-1z" fill="#fb0"/>
<path d="M253 70.2l2.4 1.5 2.2-.9-2.4-2.1z" fill="#fa0"/>
<path d="M255.1 71.4l2.6-.2 1.9-.4-2.4-.3z" fill="#b80"/>
<path d="M257.2 71.2l2.5-1.1 2-.3-2.4 1.3z" fill="#c80"/>
<path d="M259.2 70.3l2.4 1.2 2.2-1.3-2.4-.6z" fill="#f90"/>
<path d="M261.3 71.2l2.4 1.8 2.1-1.9-2.3-1.1z" fill="#f90"/>
<path d="M263.4 72.8l2.4.6 2.1-2-2.4-.6z" fill="#fa0"/>
<path d="M265.5 73.2l2.4-.3 2.1-1.7-2.4 0z" fill="#b70"/>
<path d="M267.5 72.6l2.4.5 2.1-.8-2.4-1.3z" fill="#fa0"/>
<path d="M269.6 72.8l2.4 1.3 2.1-.3-2.4-1.8z" fill="#f90"/>
<path d="M271.6 73.8l2.7-.1 1.9-.6-2.5.9z" fill="#b80"/>
<path d="M273.7 73.7l2.6-.5 1.9-1.2-2.5 1.4z" fill="#c70"/>
<path d="M275.8 73l2.4 1.1 2.1-.8-2.4-1.5z" fill="#f80"/>
<path d="M277.8 73.7l2.4 1.9 2.2-.7-2.4-1.9z" fill="#f80"/>
<path d="M279.9 75.3l2.4.8 2.1-1.7-2.4.1z" fill="#d80"/>
<path d="M282 75.9l2.4-.5 2.1-1.9-2.5.7z" fill="#c80"/>
<path d="M284 75.2l2.4.6 2.2-1.4-2.4-1.1z" fill="#f90"/>
<path d="M286.1 75.5l2.4 1.5 2.1-1.3-2.4-1.6z" fill="#f80"/>
<path d="M288.2 76.8l2.4.3 2.1-1.8-2.4.1z" fill="#c70"/>
<path d="M290.2 76.9l2.5-.7 2-1.4-2.4.3z" fill="#c70"/>
<path d="M292.3 76l2.4 1.2 2.1-1.2-2.4-1.3z" fill="#f70"/>
<path d="M294.3 76.9l2.4 1.5 2.2-1.2-2.4-1.5z" fill="#f80"/>
<path d="M296.4 78.2l2.5-.2 2-1.2-2.4.1z" fill="#b70"/>
<path class="ed2" d="M218 64.7l2.1-.9 2.1.2 2 1.1 2.1 0 2.1-.5 2 .6 2.1.9 2.1-.1 2-.3 2.1.9 2.1 1.4 2-.4 2.1-.9 2.1.7 2 1.7 2.1.2 2.1-1 2 .7 2.1 1.8 2.1 0 2-.9 2.1.4 2 .8 2.1.4 2.1-.2 2 1 2.1 1.4 2.1-.5 2-1.1 2.1 1.2 2.1 1.5 2-.3 2.1-.9 2.1.8 2 1.3 2.1-.3 2.1-.4 2 1 2.1 1.2 2-.3"/>
<path d="M214 65.6l2.4.5 2.1-2.3-2.6 1.1z" fill="#b70"/>
<path d="M216.1 65.9l2.4.4 2.1-2.4-2.4-.3z" fill="#d90"/>
<path d="M218.1 66.1l2.4.8 2.2-1.5-2.4-1.6z" fill="#fc0"/>
<path d="M220.2 66.7l2.4.8 2.1-1.9-2.4-.5z" fill="#fb0"/>
<path d="M222.3 67.3l2.4.3 2-2.9-2.3.7z" fill="#b80"/>
<path d="M224.4 67.4l2.3.1 2.1-2.3-2.3-.6z" fill="#d90"/>
<path d="M226.4 67.3l2.4.7 2.1-.9-2.4-2.1z" fill="#fb0"/>
<path d="M228.5 67.7l2.4 1 2.1-1.3-2.4-.6z" fill="#fc0"/>
<path d="M230.5 68.5l2.4.5 2.1-2.2-2.4.4z" fill="#c80"/>
<path d="M232.6 68.8l2.4.2 2.1-1.2-2.4-1.2z" fill="#fc0"/>
<path d="M234.7 68.7l2.4.7 2.1.1-2.4-1.9z" fill="#fb0"/>
<path d="M236.7 69l2.5.8 2.1-.5-2.6.4z" fill="#b80"/>
<path d="M238.8 69.6l2.4.4 2.1-1.9-2.5 1.4z" fill="#c80"/>
<path d="M240.9 69.8l2.4.3 2.1-1.3-2.4-.9z" fill="#fb0"/>
<path d="M242.9 69.8l2.4.8 2.1.2-2.3-2.2z" fill="#fa0"/>
<path d="M245 70.3l2.5.9 2-.2-2.6-.3z" fill="#b80"/>
<path d="M247 70.9l2.5.5 2.1-1.6-2.5 1.4z" fill="#b80"/>
<path d="M249.1 71.2l2.4.4 2.1-1.4-2.4-.6z" fill="#e90"/>
<path d="M251.2 71.3l2.4.8 2.1-.7-2.4-1.4z" fill="#fb0"/>
<path d="M253.2 71.8l2.4.9 2.2-1.7-2.5.1z" fill="#d90"/>
<path d="M255.3 72.5l2.4.4 2.1-2.7-2.4.6z" fill="#b70"/>
<path d="M257.4 72.8l2.4.2 2.1-1.9-2.4-1.1z" fill="#e90"/>
<path d="M259.4 72.7l2.4.7 2.2-.7-2.4-1.8z" fill="#fa0"/>
<path d="M261.5 73.1l2.4.9 2.1-.9-2.4-.7z" fill="#fa0"/>
<path d="M263.6 73.7l2.4.5 2.1-1.7-2.5.3z" fill="#c80"/>
<path d="M265.6 74l2.4.3 2.2-1.5-2.4-.5z" fill="#d80"/>
<path d="M267.7 74l2.4.6 2.1-.8-2.4-1.2z" fill="#fa0"/>
<path d="M269.8 74.4l2.4.9 2.1-1.8-2.4 0z" fill="#e90"/>
<path d="M271.8 75.1l2.4.5 2.1-2.7-2.3.4z" fill="#c70"/>
<path d="M273.9 75.5l2.4.2 2.1-2-2.4-1z" fill="#e80"/>
<path d="M276 75.4l2.4.6 2.1-.6-2.4-1.9z" fill="#fa0"/>
<path d="M278 75.7l2.4.9 2.2-.8-2.5-.8z" fill="#f90"/>
<path d="M280.1 76.3l2.4.5 2.1-1.8-2.5.5z" fill="#b70"/>
<path d="M282.2 76.6l2.4.3 2.1-1.5-2.4-.6z" fill="#e80"/>
<path d="M284.2 76.6l2.4.6 2.1-.4-2.3-1.6z" fill="#f90"/>
<path d="M286.3 76.9l2.4.8 2.1-.9-2.5-.4z" fill="#b60"/>
<path d="M288.3 77.5l2.4.6 2.1-2.3-2.4.7z" fill="#b60"/>
<path d="M290.4 77.9l2.4.3 2.1-1.3-2.3-1.2z" fill="#f90"/>
<path d="M292.5 77.9l2.4.6 2.1-.3-2.4-1.6z" fill="#f80"/>
<path d="M294.5 78.2l2.4.9 2.2-1.4-2.6.2z" fill="#b60"/>
<path class="ed2" d="M216.2 65l2-1.1 2.1.2 2.1 1.3 2 .3 2.1-.8 2.1.4 2 1.8 2.1.4 2.1-.6 2 1 2.1 1.5 2.1-.1 2-1.1 2.1.7 2.1 1.8 2 .2 2.1-1 2 .4 2.1 1.1 2.1-.3 2-.8 2.1.9 2.1 1.5 2 .4 2.1-.5 2.1.2 2 1 2.1-.2 2.1-.6 2 .8 2.1 1.5 2.1.5 2-.7 2.1.4 2 1.2 2.1.1 2.1-.8 2 .9 2.1 1.2 2.1-.4"/>
<path class="ed2" d="M214.3 65.6l2.1.2 2 .2 2.1.6 2.1.6 2 .1 2.1-.1 2.1.5 2 .7 2.1.3 2.1 0 2 .4 2.1.4 2 .2 2.1.1 2.1.5 2 .6 2.1.3 2.1.1 2 .5 2.1.6 2.1.2 2 .1 2.1.4 2.1.6 2 .2 2.1.1 2.1.3 2 .7 2.1.3 2 .1 2.1.3 2.1.6 2 .2 2.1.1 2.1.3 2 .5 2.1.4 2.1.1 2 .3 2.1.6"/>
<text x="184.8" y="17" class="pl">b</text>
<text x="264.8" y="19.5" text-anchor="middle" class="tt">0.38 μM</text>
<text x="199" y="40.3" class="tm">×</text>
<text x="205.4" y="40.5" class="tk">10<tspan dy="-6.2" class="sup">-3</tspan></text>
<text transform="translate(195.7 67.3) rotate(-90)" text-anchor="middle" class="al">Abs</text>
<text transform="translate(214.1 133.6) rotate(9)" class="al">Wave no. [cm<tspan dy="-3.6" class="sup2">-1</tspan><tspan dy="3.6">]</tspan></text>
<text transform="translate(308.4 143.55) rotate(-27.5)" class="al">Spectrum no.</text>
</g>
<g>
<line x1="395.2" y1="65.52" x2="440.2" y2="41.62" stroke="#e4e4e4" stroke-width="0.6"/>
<line x1="440.2" y1="41.62" x2="522.8" y2="54.82" stroke="#e4e4e4" stroke-width="0.6"/>
<line x1="395.2" y1="82.97" x2="440.2" y2="59.07" stroke="#e4e4e4" stroke-width="0.6"/>
<line x1="440.2" y1="59.07" x2="522.8" y2="72.27" stroke="#e4e4e4" stroke-width="0.6"/>
<line x1="395.2" y1="100.42" x2="440.2" y2="76.52" stroke="#e4e4e4" stroke-width="0.6"/>
<line x1="440.2" y1="76.52" x2="522.8" y2="89.72" stroke="#e4e4e4" stroke-width="0.6"/>
<line x1="462.67" y1="87.09" x2="462.67" y2="27.76" stroke="#e4e4e4" stroke-width="0.6"/>
<line x1="417.67" y1="110.99" x2="462.67" y2="87.09" stroke="#e4e4e4" stroke-width="0.6"/>
<line x1="486.37" y1="90.88" x2="486.37" y2="31.55" stroke="#e4e4e4" stroke-width="0.6"/>
<line x1="441.37" y1="114.78" x2="486.37" y2="90.88" stroke="#e4e4e4" stroke-width="0.6"/>
<line x1="510.08" y1="94.67" x2="510.08" y2="35.34" stroke="#e4e4e4" stroke-width="0.6"/>
<line x1="465.08" y1="118.57" x2="510.08" y2="94.67" stroke="#e4e4e4" stroke-width="0.6"/>
<line x1="419.19" y1="94.66" x2="419.19" y2="35.33" stroke="#e4e4e4" stroke-width="0.6"/>
<line x1="419.19" y1="94.66" x2="501.79" y2="107.86" stroke="#e4e4e4" stroke-width="0.6"/>
<line x1="395.2" y1="107.4" x2="477.8" y2="120.6" stroke="#6e6e6e" stroke-width="0.8"/>
<line x1="477.8" y1="120.6" x2="522.8" y2="96.7" stroke="#6e6e6e" stroke-width="0.8"/>
<line x1="522.8" y1="96.7" x2="440.2" y2="83.5" stroke="#6e6e6e" stroke-width="0.8"/>
<line x1="440.2" y1="83.5" x2="395.2" y2="107.4" stroke="#6e6e6e" stroke-width="0.8"/>
<line x1="395.2" y1="107.4" x2="395.2" y2="48.07" stroke="#6e6e6e" stroke-width="0.8"/>
<line x1="440.2" y1="83.5" x2="440.2" y2="24.17" stroke="#6e6e6e" stroke-width="0.8"/>
<line x1="522.8" y1="96.7" x2="522.8" y2="37.37" stroke="#6e6e6e" stroke-width="0.8"/>
<line x1="395.2" y1="48.07" x2="440.2" y2="24.17" stroke="#6e6e6e" stroke-width="0.8"/>
<line x1="440.2" y1="24.17" x2="522.8" y2="37.37" stroke="#6e6e6e" stroke-width="0.8"/>
<line x1="417.67" y1="110.99" x2="419.24" y2="110.15" stroke="#6e6e6e" stroke-width="0.8"/>
<text x="411.87" y="122.69" text-anchor="middle" class="tk">1400</text>
<line x1="441.37" y1="114.78" x2="442.95" y2="113.94" stroke="#6e6e6e" stroke-width="0.8"/>
<text x="435.57" y="126.48" text-anchor="middle" class="tk">1300</text>
<line x1="465.08" y1="118.57" x2="466.65" y2="117.73" stroke="#6e6e6e" stroke-width="0.8"/>
<text x="459.28" y="130.27" text-anchor="middle" class="tk">1200</text>
<line x1="477.8" y1="120.6" x2="476.15" y2="120.34" stroke="#6e6e6e" stroke-width="0.8"/>
<text x="483.6" y="130.1" text-anchor="middle" class="tk">0</text>
<line x1="501.79" y1="107.86" x2="500.13" y2="107.6" stroke="#6e6e6e" stroke-width="0.8"/>
<text x="509.79" y="118.86" text-anchor="middle" class="tk">50</text>
<line x1="395.2" y1="48.07" x2="393.38" y2="47.78" stroke="#6e6e6e" stroke-width="0.8"/>
<text x="391.6" y="52.67" text-anchor="end" class="tk">5</text>
<line x1="395.2" y1="65.52" x2="393.38" y2="65.23" stroke="#6e6e6e" stroke-width="0.8"/>
<text x="391.6" y="70.12" text-anchor="end" class="tk">0</text>
<line x1="395.2" y1="82.97" x2="393.38" y2="82.68" stroke="#6e6e6e" stroke-width="0.8"/>
<text x="391.6" y="87.57" text-anchor="end" class="tk">-5</text>
<line x1="395.2" y1="100.42" x2="393.38" y2="100.13" stroke="#6e6e6e" stroke-width="0.8"/>
<text x="391.6" y="105.02" text-anchor="end" class="tk">-10</text>
<path d="M438.1 49.3l2.4-2.7 2-1.6-2.3 3.3z" fill="#bc2"/>
<path d="M440.2 47.1l2.4-1.2 2-2.2-2.5 1.2z" fill="#b80"/>
<path d="M442.2 45.7l2.4.4 2.1-2-2.4-.5z" fill="#fb0"/>
<path d="M444.2 45.9l2.4.8 2.2-1.5-2.4-1.3z" fill="#fd0"/>
<path d="M446.3 46.5l2.4-.1 2.1-1.7-2.4.2z" fill="#b80"/>
<path d="M448.4 46.2l2.4-.3 2.1-1.9-2.5.5z" fill="#b80"/>
<path d="M450.4 45.7l2.4 1 2.2-1.7-2.4-1.1z" fill="#fc0"/>
<path d="M452.5 46.4l2.4.8 2.1-1.2-2.4-1.3z" fill="#fd0"/>
<path d="M454.6 47l2.4-1.4 2.1.3-2.5-.2z" fill="#b80"/>
<path d="M456.6 46l2.5-.8 2 .2-2.4.8z" fill="#b80"/>
<path d="M458.7 45.4l2.4 1.5 2.1-.9-2.4-.8z" fill="#f90"/>
<path d="M460.7 46.6l2.5 1 2.1-.4-2.4-1.5z" fill="#fa0"/>
<path d="M462.8 47.4l2.4-1.7 2.1.5-2.4 1.2z" fill="#d90"/>
<path d="M464.9 46l2.5.2 2-1.1-2.4 1.5z" fill="#c60"/>
<path d="M466.9 45.9l2.4 2.4 2.2-2.1-2.4-1.3z" fill="#f70"/>
<path d="M469 48l2.4.7 2.1-1-2.3-1.8z" fill="#fa0"/>
<path d="M471.1 48.5l2.4-1.4 2.1 0-2.6.7z" fill="#c70"/>
<path d="M473.1 47.4l2.4.8 2.2-1.4-2.6.2z" fill="#b50"/>
<path d="M475.2 47.9l2.4 1.9 2.1-1.7-2.4-1.6z" fill="#f70"/>
<path d="M477.3 49.6l2.4 0 2.1-.4-2.4-1.4z" fill="#f90"/>
<path d="M479.3 49.4l2.4-1.2 2.2.6-2.5.6z" fill="#c70"/>
<path d="M481.4 48.4l2.4 2 2.1-2.2-2.5.4z" fill="#f70"/>
<path d="M483.5 50.2l2.3 1.8 2.2-2.7-2.4-1.3z" fill="#f70"/>
<path d="M485.6 51.8l2.6-1.4 1.9.1-2.4-1.5z" fill="#c70"/>
<path d="M487.6 50.5l2.4-1.2 2.1.2-2.4 1.3z" fill="#c60"/>
<path d="M489.7 49.6l2.3 1.3 2.2-2.1-2.6.6z" fill="#d50"/>
<path d="M491.7 50.6l2.4.7 2.2-.8-2.4-1.9z" fill="#f60"/>
<path d="M493.8 51l2.4-.9 2.1 1.9-2.4-1.9z" fill="#b40"/>
<path d="M495.9 50.3l2.4 1.5 2.1-.5-2.4.9z" fill="#b40"/>
<path d="M497.9 51.5l2.4 2.3 2.1-3.4-2.4.6z" fill="#f60"/>
<path d="M500 53.7l2.4.2 2.1-2.2-2.4-1.4z" fill="#e50"/>
<path d="M502.1 53.8l2.4-1.7 2.1.4-2.4-1z" fill="#b40"/>
<path d="M504.1 52.3l2.4 1.4 2.1-1.9-2.6.6z" fill="#d40"/>
<path d="M506.2 53.4l2.3 2.2 2.2-3.7-2.4-.3z" fill="#f40"/>
<path d="M508.3 55.5l2.3-.1 2.2-2.2-2.4-1.5z" fill="#d50"/>
<path d="M510.3 55.3l2.5-1.4 2 .5-2.4-1.4z" fill="#c50"/>
<path d="M512.4 54.1l2.4 1.1 2.1-1.3-2.6.7z" fill="#b40"/>
<path d="M514.4 55l2.4 1.2 2.1-2.8-2.3.3z" fill="#e40"/>
<path d="M516.5 56.1l2.4-.1 2.1-1.3-2.4-1.4z" fill="#f40"/>
<path d="M518.6 55.7l2.5-.1 2-.1-2.4-1.1z" fill="#b30"/>
<path class="ed2" d="M440.2 48l2.1-2.8 2-1.3 2.1.3 2.1 1 2-.4 2.1-.6 2.1.8 2 1 2.1-.1 2-.4 2.1.5 2.1 1.1 2-.8 2.1-1.1 2.1 1 2 1.5 2.1-.5 2.1-.4 2 1.3 2.1 1 2.1-.3 2-.5 2.1 1 2.1 1.2 2-.9 2.1-.7 2.1 1.5 2 1.5 2.1-.6 2.1-.7 2 1.2 2.1.7 2-.6 2.1.1 2.1 1.3 2 1.1 2.1-.5 2.1-.3 2 1.1 2.1.7"/>
<path d="M436.2 48.8l2.3-3 2.2 1-2.4 2.6z" fill="#bb1"/>
<path d="M438.2 46l2.5.8 2-1.3-2.4 1.7z" fill="#b80"/>
<path d="M440.3 46.6l2.4.6 2.1-1.5-2.4-.4z" fill="#fd0"/>
<path d="M442.4 46.9l2.6-.5 1.9 0-2.4-.9z" fill="#b80"/>
<path d="M444.4 46.4l2.5-.6 2 .3-2.5.5z" fill="#b80"/>
<path d="M446.5 46l2.4 1.2 2.1-1.7-2.6.4z" fill="#ea0"/>
<path d="M448.5 46.9l2.4 1.2 2.2-1.8-2.4-1z" fill="#fc0"/>
<path d="M450.6 47.9l2.4-.1 2.1-1-2.4-.7z" fill="#ea0"/>
<path d="M452.7 47.6l2.6-1.2 1.9-.6-2.5 1.3z" fill="#c90"/>
<path d="M454.7 46.7l2.4.9 2.1-2.3-2.4.3z" fill="#d90"/>
<path d="M456.8 47.4l2.4 1.4 2.1-2.2-2.3-1.5z" fill="#fa0"/>
<path d="M458.9 48.6l2.4-.4 2.1-.9-2.4-1z" fill="#d90"/>
<path d="M460.9 48.1l2.5-.2 2-2.1-2.5 1.8z" fill="#c80"/>
<path d="M463 47.7l2.4 1.2 2.1-3.1-2.4-.1z" fill="#e70"/>
<path d="M465.1 48.7l2.3 1 2.2-1.7-2.4-2.3z" fill="#f80"/>
<path d="M467.1 49.5l2.4 0 2.2-1.2-2.4-.6z" fill="#d80"/>
<path d="M469.2 49.3l2.4.2 2.1-2.3-2.5.9z" fill="#b70"/>
<path d="M471.3 49.3l2.3.9 2.2-2.4-2.4-.8z" fill="#f80"/>
<path d="M473.3 49.9l2.4.9 2.2-1.2-2.4-2z" fill="#f80"/>
<path d="M475.4 50.6l2.4.2 2.1-1.5-2.4 0z" fill="#c70"/>
<path d="M477.5 50.6l2.4-.1 2-2.2-2.4.8z" fill="#b60"/>
<path d="M479.5 50.2l2.4 1.1 2.2-1.2-2.4-1.9z" fill="#f70"/>
<path d="M481.6 51l2.4 1.3 2.1-.6-2.4-1.9z" fill="#f80"/>
<path d="M483.7 52.1l2.4-.2 2.1-1.6-2.5 1.6z" fill="#c70"/>
<path d="M485.7 51.8l2.4 0 2.1-2.3-2.4.7z" fill="#b50"/>
<path d="M487.8 51.6l2.4 1.1 2.1-2.2-2.4-1.2z" fill="#f60"/>
<path d="M489.9 52.5l2.3.9 2.2-2.5-2.4-.6z" fill="#e60"/>
<path d="M492 53.3l2.3-.4 2.1-2.7-2.4.5z" fill="#b50"/>
<path d="M494 52.8l2.4-.4 2.1-.9-2.4-1.4z" fill="#f50"/>
<path d="M496 52l2.5 1.4 2 .3-2.3-2.5z" fill="#f50"/>
<path d="M498.1 53l2.4 2.1 2.1-1.5-2.4-.4z" fill="#f60"/>
<path d="M500.2 54.9l2.4.4 2-3.1-2.3 1.1z" fill="#b50"/>
<path d="M502.3 55.2l2.3-.6 2.2-1.3-2.4-1.2z" fill="#d50"/>
<path d="M504.3 54.3l2.4.9 2.1.2-2.4-2.3z" fill="#f50"/>
<path d="M506.4 54.9l2.4 1.8 2.1-1.6-2.5 0z" fill="#f60"/>
<path d="M508.5 56.5l2.3-.2 2.1-2.3-2.4.9z" fill="#b50"/>
<path d="M510.5 56.2l2.6-.8 1.9-.5-2.4-1.1z" fill="#c40"/>
<path d="M512.6 55.1l2.4.9 2.1 0-2.4-1.4z" fill="#b30"/>
<path d="M514.6 55.7l2.4 1.1 2.2-1.2-2.7.3z" fill="#b30"/>
<path d="M516.7 56.6l2.4.6 2.1-1.9-2.4.1z" fill="#c40"/>
<path class="ed2" d="M438.3 49.1l2.1-2.2 2.1-1.3 2 .2 2.1.6 2-.3 2.1-.5 2.1.8 2 .5 2.1-1 2.1-.5 2 1.2 2.1.7 2.1-1.3 2 0 2.1 2 2.1.4 2-1.1 2.1.6 2.1 1.6 2-.1 2.1-.9 2.1 1.6 2 1.6 2.1-1.2 2.1-.9 2 1 2.1.4 2-.6 2.1 1.1 2.1 2 2 .1 2.1-1.2 2.1 1 2 1.9 2.1-.2 2.1-1 2 .8 2.1 1 2.1-.2 2-.3"/>
<path d="M434.3 49.5l2.4-.8 2-2.9-2.3 3.2z" fill="#aa1"/>
<path d="M436.4 48.6l2.3 0 2.2-2.2-2.4-.6z" fill="#ea0"/>
<path d="M438.4 48.4l2.5-1.7 2 .1-2.4-.6z" fill="#b80"/>
<path d="M440.5 47l2.5.1 2-.8-2.6.8z" fill="#b80"/>
<path d="M442.5 46.9l2.4 1.5 2.2-2.4-2.4.1z" fill="#fd0"/>
<path d="M444.6 48.2l2.4.9 2.1-2.3-2.3-1z" fill="#fb0"/>
<path d="M446.7 48.9l2.5-1.5 2 .4-2.4-1.2z" fill="#c90"/>
<path d="M448.7 47.7l2.5-.6 2.1.4-2.5.6z" fill="#b80"/>
<path d="M450.8 47.3l2.4 1.5 2.1-2.3-2.6 1.1z" fill="#ea0"/>
<path d="M452.9 48.6l2.3.8 2.2-2.2-2.4-.9z" fill="#fb0"/>
<path d="M454.9 49.2l2.7-.7 1.9 0-2.4-1.5z" fill="#ea0"/>
<path d="M457 48.4l2.4.8 2.1-1.3-2.6.7z" fill="#b80"/>
<path d="M459.1 48.9l2.3 1.3 2.2-2.7-2.4.2z" fill="#fa0"/>
<path d="M461.1 50l2.4-.1 2.2-1.3-2.4-1.3z" fill="#fa0"/>
<path d="M463.2 49.6l2.5-.8 2 .6-2.4-1.1z" fill="#b70"/>
<path d="M465.3 49l2.4 1.5 2.1-1.3-2.6 0z" fill="#b70"/>
<path d="M467.3 50.2l2.4 1.2 2.1-2.3-2.3-.2z" fill="#fa0"/>
<path d="M469.4 51.3l2.6-.9 1.9-.6-2.4-.9z" fill="#c70"/>
<path d="M471.4 50.2l2.5-.8 2.1 1.2-2.5-1z" fill="#b60"/>
<path d="M473.5 49.6l2.4 1.9 2.1-1-2.6.2z" fill="#b60"/>
<path d="M475.6 51.3l2.4 1.1 2.1-2.3-2.4.1z" fill="#f80"/>
<path d="M477.7 52.3l2.4-.6 2.1-.7-2.4-1.1z" fill="#d70"/>
<path d="M479.7 51.4l2.6.3 1.9.4-2.4-1.4z" fill="#b50"/>
<path d="M481.8 51.5l2.4 2.5 2.1-2.4-2.5.1z" fill="#f80"/>
<path d="M483.9 53.8l2.3.7 2.1-3.2-2.3.1z" fill="#c70"/>
<path d="M486 54.4l2.4-1 2-1-2.3-1.2z" fill="#c60"/>
<path d="M488 53.1l2.5.2 2-.2-2.4-1z" fill="#b50"/>
<path d="M490 53l2.4 1.4 2.2-1.9-2.6.4z" fill="#e60"/>
<path d="M492.1 54.2l2.4.1 2.1-2.4-2.4.4z" fill="#b50"/>
<path d="M494.2 54.1l2.4-.3 2.1-.7-2.4-1.3z" fill="#e50"/>
<path d="M496.2 53.5l2.4 1.5 2.1-.1-2.3-2.1z" fill="#f50"/>
<path d="M498.3 54.6l2.4 1.8 2.1-1.4-2.4-.5z" fill="#f70"/>
<path d="M500.4 56.2l2.4-.1 2.1-1.9-2.5.5z" fill="#b50"/>
<path d="M502.4 55.9l2.5-.3 2.1-.7-2.4-.9z" fill="#d50"/>
<path d="M504.5 55.2l2.4 1.6 2.1-.4-2.4-1.8z" fill="#f50"/>
<path d="M506.6 56.5l2.4.9 2.1-1.4-2.5.1z" fill="#b50"/>
<path d="M508.6 57.2l2.5-.5 2-1.7-2.5.8z" fill="#c50"/>
<path d="M510.7 56.4l2.4.6 2.1-1.3-2.4-.8z" fill="#f40"/>
<path d="M512.7 56.7l2.4 1.8 2.2-2-2.4-1.1z" fill="#f40"/>
<path d="M514.8 58.3l2.4.5 2.1-2-2.3-.6z" fill="#e50"/>
<path class="ed2" d="M436.4 48.7l2.1-2.6 2.1.4 2 .4 2.1-.5 2.1-.3 2 .8 2.1.9 2.1-.3 2-.9 2.1.7 2.1 1.2 2-.5 2.1-.4 2.1 1 2 .8 2.1-.2 2.1 0 2 .7 2.1.6 2.1 0 2-.3 2.1.8 2 1 2.1-.3 2.1-.2 2 .9 2.1.7 2.1-.5 2-.5 2.1 1 2.1 1.7 2 .2 2.1-.7 2.1.6 2 1.5 2.1-.4 2.1-.8 2 .5 2.1.8 2 .4"/>
<path d="M432.4 49.6l2.6-.9 1.9-.4-2.4 1.4z" fill="#ed1"/>
<path d="M434.5 49l2.5.1 2-.9-2.5 0z" fill="#b80"/>
<path d="M436.6 48.9l2.4-1.6 2-.5-2.4 1.7z" fill="#da0"/>
<path d="M438.6 47.7l2.5 0 2-.9-2.4-.1z" fill="#b80"/>
<path d="M440.7 47.3l2.3 2 2.2-1.1-2.4-1.6z" fill="#fb0"/>
<path d="M442.7 49l2.4 1.1 2.2-1.3-2.4-1z" fill="#fd0"/>
<path d="M444.8 50l2.6-.9 1.9-1.6-2.6 1.3z" fill="#d90"/>
<path d="M446.9 49l2.5-.5 2-1.3-2.4.2z" fill="#b80"/>
<path d="M448.9 48.2l2.4.9 2.2-.5-2.4-1.6z" fill="#fa0"/>
<path d="M451 48.8l2.4 1.4 2.1-1.1-2.4-.9z" fill="#fb0"/>
<path d="M453.1 50l2.4.1 2.1-1.9-2.5.6z" fill="#b80"/>
<path d="M455.1 49.9l2.5-.3 2.1-.8-2.4-.7z" fill="#d80"/>
<path d="M457.2 49.3l2.5.5 2 .1-2.4-1.3z" fill="#b70"/>
<path d="M459.2 49.5l2.5 1.3 2.1-1.3-2.7.3z" fill="#b70"/>
<path d="M461.3 50.6l2.4.8 2.1-2.5-2.4.4z" fill="#c80"/>
<path d="M463.4 51.2l2.4-.2 2.1-.8-2.4-1.5z" fill="#f90"/>
<path d="M465.4 50.7l2.7-.2 1.9.7-2.4-1.3z" fill="#b60"/>
<path d="M467.5 50.6l2.4 1.6 2.1-2.1-2.5 1.3z" fill="#b60"/>
<path d="M469.6 52l2.4.9 2.1-3.4-2.4.4z" fill="#c70"/>
<path d="M471.7 52.8l2.3-.4 2.2-1.2-2.4-1.8z" fill="#f80"/>
<path d="M473.7 52.1l2.7-.3 1.8.4-2.4-1.3z" fill="#b60"/>
<path d="M475.8 51.7l2.4 1.7 2.1-2.1-2.7.9z" fill="#e70"/>
<path d="M477.8 53.2l2.4 1.2 2.1-3-2.3-.3z" fill="#e70"/>
<path d="M479.9 54.3l2.4-.3 2.1-.3-2.3-2.4z" fill="#f90"/>
<path d="M482 53.7l2.4-.4 2.1 1-2.6-.9z" fill="#b60"/>
<path d="M484 53.5l2.4 1.4 2.1-1.9-2.4 1.5z" fill="#b60"/>
<path d="M486.1 54.7l2.4 1.1 2.1-2.9-2.4-.1z" fill="#e60"/>
<path d="M488.2 55.6l2.4.2 2.1-1.8-2.4-1.2z" fill="#f70"/>
<path d="M490.2 55.6l2.5-.6 2-1.1-2.4-.1z" fill="#b50"/>
<path d="M492.3 54.8l2.4.7 2.1-2.1-2.4.3z" fill="#c50"/>
<path d="M494.4 55.2l2.3 1.6 2.2-2.2-2.4-1.4z" fill="#f50"/>
<path d="M496.4 56.6l2.4.8 2.2-1.3-2.4-1.7z" fill="#f70"/>
<path d="M498.5 57.2l2.5-.4 2-1.1-2.4.1z" fill="#c50"/>
<path d="M500.6 56.6l2.4 0 2.1-1.4-2.5.3z" fill="#b40"/>
<path d="M502.6 56.3l2.4 1.2 2.1-1-2.3-1.5z" fill="#f50"/>
<path d="M504.7 57.2l2.4.9 2.1-1-2.4-.9z" fill="#f60"/>
<path d="M506.8 57.9l2.4-.1 2.1-1.5-2.6.6z" fill="#c40"/>
<path d="M508.8 57.6l2.4.1 2.1-1-2.4-.6z" fill="#d40"/>
<path d="M510.9 57.4l2.4.8 2.1.1-2.4-1.9z" fill="#f40"/>
<path d="M512.9 57.8l2.5 1.1 2.1-.4-2.6-.6z" fill="#b30"/>
<path class="ed2" d="M434.6 49.4l2-1 2.1-.1 2.1-1.4 2 0 2.1 1.2 2.1.7 2-1.1 2.1-.4 2.1 1.2 2 .6 2.1-.7 2.1.5 2 1 2.1-.3 2.1-.6 2 1.2 2.1.9 2-.9 2.1-.5 2.1 1.5 2 .9 2.1-.7 2.1.2 2 2.1 2.1.5 2.1-1.1 2 0 2.1 1 2.1-.1 2-.5 2.1 1.2 2.1 1.4 2-.3 2.1-.5 2 1.2 2.1.6 2.1-.7 2 .3 2.1 1.5 2.1.3"/>
<path d="M430.6 50.6l2.4-1.7 2.1 0-2.7.6z" fill="#ec0"/>
<path d="M432.6 49.2l2.4 1 2.1-1.5-2.4 0z" fill="#fc0"/>
<path d="M434.7 50l2.4 0 2-2.6-2.4 1.1z" fill="#b80"/>
<path d="M436.8 49.8l2.3-.5 2.1-2-2.3 0z" fill="#b80"/>
<path d="M438.8 49l2.4.9 2.1-.9-2.4-1.9z" fill="#fb0"/>
<path d="M440.9 49.6l2.4.8 2.1-.5-2.4-1.2z" fill="#fb0"/>
<path d="M442.9 50.2l2.7-.6 1.8-.8-2.4 1.3z" fill="#c90"/>
<path d="M445 49.7l2.4.1 2.1-1.7-2.5.6z" fill="#b80"/>
<path d="M447 49.5l2.4 1.2 2.2-2-2.4-.8z" fill="#fc0"/>
<path d="M449.1 50.5l2.4.6 2.1-1.2-2.3-1.4z" fill="#fd0"/>
<path d="M451.2 50.9l2.5-.3 2-.8-2.4-.2z" fill="#b80"/>
<path d="M453.2 50.4l2.5.3 2.1-1.5-2.5.4z" fill="#b70"/>
<path d="M455.3 50.5l2.4 1.5 2.1-2.5-2.3-.5z" fill="#fa0"/>
<path d="M457.4 51.9l2.4 0 2.1-1.4-2.4-1.2z" fill="#fa0"/>
<path d="M459.4 51.7l2.7-.7 1.9.1-2.4-.9z" fill="#b70"/>
<path d="M461.5 51.1l2.4.9 2.1-1.4-2.6.4z" fill="#b70"/>
<path d="M463.6 51.7l2.4 1.1 2.1-2.3-2.4-.1z" fill="#f90"/>
<path d="M465.6 52.6l2.4.2 2.2-.9-2.4-1.6z" fill="#fb0"/>
<path d="M467.7 52.5l2.4-.9 2.1 1.1-2.4-1.1z" fill="#b60"/>
<path d="M469.8 51.9l2.4.9 2.1-.8-2.4.9z" fill="#b60"/>
<path d="M471.8 52.5l2.4 1.7 2.1-2.5-2.4.1z" fill="#f90"/>
<path d="M473.9 54l2.4.7 2.1-1.6-2.4-1.6z" fill="#f80"/>
<path d="M476 54.5l2.6-.8 1.9.5-2.4-1.4z" fill="#b60"/>
<path d="M478 53.8l2.5.8 2.1-.9-2.6.7z" fill="#b60"/>
<path d="M480.1 54.3l2.4 1.6 2.1-2.5-2.4 0z" fill="#f90"/>
<path d="M482.2 55.7l2.4.2 2.1-1.3-2.4-1.4z" fill="#f80"/>
<path d="M484.2 55.6l2.4-1.3 2.1 1.3-2.4-1.3z" fill="#b60"/>
<path d="M486.3 54.5l2.4 1.4 2.1-.4-2.5.3z" fill="#b50"/>
<path d="M488.3 55.6l2.4 1.9 2.2-2.9-2.5.6z" fill="#f70"/>
<path d="M490.5 57.3l2.3-.2 2.1-2-2.3-.7z" fill="#c50"/>
<path d="M492.5 56.9l2.6-1 1.9.7-2.4-1.7z" fill="#e60"/>
<path d="M494.6 56l2.4 1.2 2.1 0-2.6-.9z" fill="#b40"/>
<path d="M496.6 56.9l2.4 1.3 2.1-1.8-2.6.7z" fill="#d60"/>
<path d="M498.7 58l2.4.2 2.1-2-2.4 0z" fill="#c50"/>
<path d="M500.7 58l2.5-.1 2.1-.7-2.4-1.2z" fill="#f50"/>
<path d="M502.8 57.6l2.4 1 2.1-.8-2.4-.9z" fill="#f50"/>
<path d="M504.9 58.4l2.4 1.1 2.1-2.1-2.4.1z" fill="#f50"/>
<path d="M507 59.3l2.3.3 2.1-2.3-2.3-.1z" fill="#c40"/>
<path d="M509 59.4l2.4.4 2.1-2-2.4-.7z" fill="#e40"/>
<path d="M511.1 59.5l2.3 1.2 2.2-2.1-2.4-1z" fill="#f50"/>
<path class="ed2" d="M432.7 49.5l2.1-.5 2-.2 2.1-1.2 2.1-.2 2 1.6 2.1.8 2.1-.9 2-.7 2.1.6 2.1 1.1 2-.1 2.1-.5 2 .3 2.1.9 2.1.6 2-.4 2.1-.1 2.1 1.3 2 .7 2.1-.5 2.1-.3 2 1.3 2.1 1 2.1-.4 2-.2 2.1 1.1 2.1.9 2 0 2.1-.8 2 .5 2.1 1.3 2.1.6 2-.6 2.1-.2 2.1.9 2 .6 2.1-.3 2.1-.1 2 .5 2.1.7"/>
<path d="M428.7 51.2l2.4-.4 2-1.8-2.4 1.7z" fill="#ec0"/>
<path d="M430.7 50.6l2.4.5 2.2-1.2-2.4-1z" fill="#fe0"/>
<path d="M432.8 50.9l2.5-1.3 2 0-2.5 0z" fill="#b90"/>
<path d="M434.8 49.9l2.6 0 2-1-2.6 1z" fill="#b80"/>
<path d="M436.9 49.7l2.4 1.5 2.1-1.6-2.4-.9z" fill="#fc0"/>
<path d="M439 51l2.4.7 2.1-1.6-2.4-.8z" fill="#fe0"/>
<path d="M441.1 51.5l2.5-.7 2-1.3-2.5.4z" fill="#c90"/>
<path d="M443.1 50.6l2.5-.2 2-1-2.4-.1z" fill="#b80"/>
<path d="M445.2 50.1l2.4 1.4 2.1-1.1-2.4-1.2z" fill="#fb0"/>
<path d="M447.2 51.2l2.4 1.6 2.2-2.1-2.4-.6z" fill="#fc0"/>
<path d="M449.3 52.6l2.4-.2 2.1-2.2-2.4.3z" fill="#b80"/>
<path d="M451.4 52.2l2.5-.7 2-1.1-2.4-.3z" fill="#b80"/>
<path d="M453.4 51.2l2.4 1 2.2-.4-2.4-1.7z" fill="#f90"/>
<path d="M455.5 51.9l2.4 1.4 2.1-1.7-2.4-.1z" fill="#fb0"/>
<path d="M457.6 53.1l2.4.3 2.1-2.5-2.4.4z" fill="#b70"/>
<path d="M459.7 53.2l2.3-.3 2.2-1.3-2.4-.8z" fill="#d80"/>
<path d="M461.7 52.7l2.4.6 2.1-.8-2.4-1.1z" fill="#f90"/>
<path d="M463.8 53l2.3 1.4 2.2-2-2.4-.2z" fill="#fa0"/>
<path d="M465.9 54.2l2.3 0 2.1-2.4-2.4.4z" fill="#b70"/>
<path d="M467.9 54.1l2.5-.7 2-1-2.4-.8z" fill="#c60"/>
<path d="M470 53.1l2.4.6 2.1.3-2.4-1.8z" fill="#f70"/>
<path d="M472 53.4l2.4 1.9 2.2-.9-2.5-.8z" fill="#f80"/>
<path d="M474.1 55.1l2.4 1.3 2.1-2.7-2.4.4z" fill="#e80"/>
<path d="M476.2 56.3l2.3-.1 2.2-2-2.4-.7z" fill="#d70"/>
<path d="M478.2 56l2.4.2 2.1-.5-2.3-1.7z" fill="#f90"/>
<path d="M480.3 55.9l2.4 1.5 2.1-1.9-2.4-.2z" fill="#f90"/>
<path d="M482.4 57.3l2.3.6 2.1-3.5-2.3.9z" fill="#b60"/>
<path d="M484.5 57.8l2.3-.7 2.1-1.5-2.3-1.3z" fill="#c60"/>
<path d="M486.5 56.8l2.5.2 2 .3-2.4-2z" fill="#f70"/>
<path d="M488.5 56.7l2.5 1 2.1-.9-2.6.6z" fill="#b50"/>
<path d="M490.6 57.5l2.4.5 2.1-2.1-2.5.6z" fill="#b50"/>
<path d="M492.7 57.8l2.6-.6 1.9-.3-2.4-1.1z" fill="#c50"/>
<path d="M494.7 57l2.5-.4 2.1 1.4-2.5-1.4z" fill="#b40"/>
<path d="M496.8 56.7l2.4 1.7 2.1-.5-2.4.3z" fill="#b40"/>
<path d="M498.9 58.1l2.3 2 2.2-2.6-2.4.1z" fill="#f60"/>
<path d="M501 59.9l2.3.1 2.2-1.7-2.4-1z" fill="#e50"/>
<path d="M503 59.8l2.7-.7 1.8.1-2.4-1.1z" fill="#b40"/>
<path d="M505.1 59.1l2.4 1.2 2.1-1-2.5-.4z" fill="#e50"/>
<path d="M507.1 60.1l2.4 1.2 2.2-1.9-2.4-.4z" fill="#f60"/>
<path d="M509.2 61.1l2.4.5 2.1-1.2-2.4-1.2z" fill="#f60"/>
<path class="ed2" d="M430.8 50.5l2.1-1.3 2.1.7 2-.2 2.1-.7 2.1.6 2 .5 2.1-.5 2-.1 2.1.9 2.1.4 2-.4 2.1 0 2.1 1.3 2-.1 2.1-.5 2.1.6 2 .8 2.1 0 2.1-.6 2 .6 2.1 1.4 2.1.5 2-.6 2.1.5 2 1.3 2.1 0 2.1-1 2 1 2.1 1.6 2.1-.4 2-.7 2.1.8 2.1 1 2 0 2.1-.3 2.1.8 2 .8 2.1.1 2.1.2 2 .9"/>
<path d="M426.8 52.3l2.4-2.2 2.1.4-2.6.7z" fill="#b90"/>
<path d="M428.8 50.3l2.5 1.3 2.1-.8-2.5-.5z" fill="#fb0"/>
<path d="M430.9 51.3l2.4.7 2.1-2.3-2.5.8z" fill="#c90"/>
<path d="M433 51.9l2.4-.8 2.1-1.5-2.4-.1z" fill="#b80"/>
<path d="M435 50.9l2.5.2 2.1-.1-2.4-1.6z" fill="#fb0"/>
<path d="M437.1 50.7l2.4 1.4 2.1-.7-2.4-.8z" fill="#fb0"/>
<path d="M439.2 51.8l2.4.6 2.1-2-2.6.7z" fill="#c80"/>
<path d="M441.3 52.3l2.4-.5 2-1.8-2.3.3z" fill="#b80"/>
<path d="M443.3 51.5l2.4.4 2.1-.7-2.4-1.4z" fill="#fc0"/>
<path d="M445.4 51.6l2.4 1.2 2.1-.2-2.4-1.7z" fill="#fb0"/>
<path d="M447.4 52.5l2.5.7 2.1-1.2-2.7.4z" fill="#b80"/>
<path d="M449.5 53l2.7-1 1.8-.9-2.6 1.1z" fill="#c90"/>
<path d="M451.6 52.1l2.4.6 2.1-.8-2.4-1z" fill="#f90"/>
<path d="M453.6 52.3l2.4 1.8 2.2-1-2.4-1.5z" fill="#f90"/>
<path d="M455.7 53.9l2.4.7 2.1-1.6-2.4-.3z" fill="#ea0"/>
<path d="M457.8 54.4l2.4-.5 2.1-1.4-2.5.3z" fill="#c80"/>
<path d="M459.8 53.7l2.4.5 2.2-1.2-2.5-.7z" fill="#e80"/>
<path d="M461.9 53.9l2.4 2 2.1-1.9-2.4-1.3z" fill="#f90"/>
<path d="M464 55.7l2.3 1 2.1-2.9-2.3 0z" fill="#d90"/>
<path d="M466.1 56.6l2.3-.7 2.1-3-2.3.7z" fill="#b70"/>
<path d="M468.1 55.8l2.4-.2 2.1-2.3-2.4-.5z" fill="#c60"/>
<path d="M470.1 55.3l2.4 1.3 2.2-1.5-2.4-1.9z" fill="#f80"/>
<path d="M472.2 56.3l2.4.9 2.1-1.1-2.3-1.3z" fill="#fa0"/>
<path d="M474.3 57l2.6-.4 1.9-.7-2.5 0z" fill="#b70"/>
<path d="M476.3 56.5l2.5.2 2.1-.8-2.5-.3z" fill="#b60"/>
<path d="M478.4 56.4l2.4 1.1 2.1-.3-2.4-1.6z" fill="#f70"/>
<path d="M480.5 57.2l2.5-.4 2 .9-2.5-.8z" fill="#b60"/>
<path d="M482.5 57.1l2.5-.8 2.1.5-2.4 1.1z" fill="#c60"/>
<path d="M484.6 56.6l2.4 1.3 2.1-1.2-2.5-.2z" fill="#b40"/>
<path d="M486.7 57.5l2.3 2.2 2.2-2.3-2.4-.9z" fill="#f60"/>
<path d="M488.7 59.5l2.4.4 2.1-2.3-2.3-.5z" fill="#d60"/>
<path d="M490.8 59.8l2.4-.8 2.1-2.2-2.4.6z" fill="#b50"/>
<path d="M492.9 58.8l2.4.1 2.1-2.2-2.4 0z" fill="#c40"/>
<path d="M494.9 58.6l2.4 1.4 2.2-1.9-2.4-1.6z" fill="#f40"/>
<path d="M497 59.7l2.4 1.2 2.1-1-2.4-2.1z" fill="#f50"/>
<path d="M499.1 60.7l2.4.2 2.1-1.2-2.4-.2z" fill="#b50"/>
<path d="M501.1 60.6l2.4.5 2.1-2.1-2.4.4z" fill="#b40"/>
<path d="M503.2 60.9l2.4 1.5 2.1-2.4-2.4-1.2z" fill="#f50"/>
<path d="M505.3 62.2l2.4-.1 2.1-1.1-2.4-1.2z" fill="#f60"/>
<path d="M507.3 61.8l2.4-1.3 2.1.8-2.4-.6z" fill="#b40"/>
<path class="ed2" d="M429 51.1l2-.5 2.1.2 2-1 2.1-.1 2.1 1.2 2 .5 2.1-.8 2.1-.5 2 1.1 2.1 1.3 2.1-.4 2-.9 2.1.7 2.1 1.1 2 .1 2.1-.5 2.1.4 2 1.1 2.1-.2 2-.8 2.1.4 2.1 1.5 2 1.1 2.1-.2 2.1 0 2 1.2 2.1.5 2.1-.8 2 0 2.1.6 2.1.3 2-.7 2.1-.2 2.1 1.3 2 1.7 2.1-.1 2.1-.6 2 .9 2.1 1 2.1.3"/>
<path d="M425 54.6l2.3-3.3 2.1-1.1-2.6 2.2z" fill="#db0"/>
<path d="M427 51.7l2.5-1.2 2 .8-2.4-1.2z" fill="#b80"/>
<path d="M429 50.7l2.5 1.5 2.1-.5-2.6-.7z" fill="#b80"/>
<path d="M431.1 51.9l2.4 1.2 2.1-2.4-2.5.8z" fill="#d90"/>
<path d="M433.2 52.9l2.4-.6 2.1-1.6-2.4-.2z" fill="#b80"/>
<path d="M435.2 52l2.5-1 2.1.8-2.4-1.3z" fill="#b80"/>
<path d="M437.3 51.2l2.4 1.6 2.1-.6-2.5-.6z" fill="#b80"/>
<path d="M439.4 52.5l2.3 1.8 2.2-3-2.4.6z" fill="#fc0"/>
<path d="M441.5 54.2l2.3 0 2.1-2.7-2.3-.3z" fill="#c90"/>
<path d="M443.5 54.1l2.4-.4 2.1-1.2-2.4-1.2z" fill="#ea0"/>
<path d="M445.6 53.5l2.4.4 2.1-1.1-2.4-.6z" fill="#ea0"/>
<path d="M447.6 53.7l2.4.7 2.1-2.5-2.4.7z" fill="#c80"/>
<path d="M449.7 54.2l2.4-.3 2.1-1.6-2.4-.6z" fill="#c80"/>
<path d="M451.7 53.6l2.7-.4 1.9.7-2.4-1.8z" fill="#f90"/>
<path d="M453.8 53.2l2.5 1.4 2-.2-2.5-.8z" fill="#b70"/>
<path d="M455.9 54.2l2.4 1.7 2.1-2.4-2.5.5z" fill="#fa0"/>
<path d="M458 55.8l2.3-.2 2.2-1.8-2.4-.4z" fill="#c70"/>
<path d="M460 55.4l2.7-.5 1.8.8-2.3-2.1z" fill="#f90"/>
<path d="M462.1 54.8l2.4 1.6 2.1.1-2.5-1.1z" fill="#b70"/>
<path d="M464.1 56.1l2.4 1.5 2.2-2.1-2.6 1.1z" fill="#d90"/>
<path d="M466.2 57.5l2.4-.3 2.1-2-2.4.1z" fill="#b70"/>
<path d="M468.3 57l2.4-.1 2.1-.6-2.4-1.3z" fill="#f80"/>
<path d="M470.3 56.6l2.5.8 2.1-.5-2.5-.9z" fill="#e80"/>
<path d="M472.4 57.1l2.4 1.5 2.1-2.3-2.4.3z" fill="#f80"/>
<path d="M474.5 58.4l2.4 0 2.1-2.1-2.4-.2z" fill="#c60"/>
<path d="M476.5 58.2l2.5-.4 2.1-.6-2.4-1.1z" fill="#d60"/>
<path d="M478.6 57.5l2.4.9 2.1-1.4-2.4 0z" fill="#d60"/>
<path d="M480.7 58.1l2.3 1.8 2.2-3.4-2.4.3z" fill="#e60"/>
<path d="M482.8 59.7l2.3.5 2.1-2.7-2.3-1.2z" fill="#d60"/>
<path d="M484.8 60l2.4-.3 2.1-.3-2.4-2.1z" fill="#f90"/>
<path d="M486.9 59.3l2.4 1 2.1-.7-2.5-.5z" fill="#b50"/>
<path d="M488.9 60l2.4 1 2.1-2.4-2.5.8z" fill="#c60"/>
<path d="M491 60.9l2.4-.1 2.1-2.4-2.4 0z" fill="#b50"/>
<path d="M493.1 60.6l2.4-.4 2.1-.5-2.4-1.4z" fill="#e50"/>
<path d="M495.1 59.9l2.5.9 2-.1-2.4-1.3z" fill="#b40"/>
<path d="M497.2 60.4l2.4 1.7 2.1-1.6-2.5-.2z" fill="#f60"/>
<path d="M499.2 61.9l2.4.7 2.2-1.8-2.4-.5z" fill="#f60"/>
<path d="M501.3 62.4l2.5-1.1 2 .8-2.4-1.6z" fill="#b40"/>
<path d="M503.4 61.5l2.5.8 2-.6-2.5.6z" fill="#b40"/>
<path d="M505.4 62l2.4 1.7 2.1-3-2.4.8z" fill="#e40"/>
<path class="ed2" d="M427.1 52.2l2-1.8 2.1.9 2.1.4 2-.9 2.1 0 2.1 1 2 .4 2.1-.7 2.1.1 2 .9 2.1.4 2.1-.9 2 .4 2.1 1.4 2 .5 2.1-.7 2.1.3 2 1.7 2.1.8 2.1-.8 2-.3 2.1 1 2.1.6 2-.5 2.1 0 2.1.8 2-.1 2.1-.5 2.1 1 2 1.8 2.1.2 2.1-.9 2-.1 2.1 1.1 2.1.9 2 0 2.1.2 2 1.3 2.1-.3 2.1-1"/>
<path d="M423 54.1l2.6-.5 1.9-2.2-2.3 3.2z" fill="#ca0"/>
<path d="M425.1 53.6l2.4-.3 2.1-2.7-2.4.7z" fill="#b80"/>
<path d="M427.2 53.1l2.4-.4 2.1-.8-2.4-1.4z" fill="#fc0"/>
<path d="M429.2 52.4l2.5.4 2.1 0-2.5-1.2z" fill="#b80"/>
<path d="M431.3 52.5l2.4 1.3 2.1-1.9-2.6 1z" fill="#d90"/>
<path d="M433.4 53.6l2.3.4 2.1-2.9-2.3.6z" fill="#b80"/>
<path d="M435.5 53.9l2.3-.5 2.2-.9-2.4-1.5z" fill="#fa0"/>
<path d="M437.5 53.1l2.5.6 2 .4-2.4-1.9z" fill="#fb0"/>
<path d="M439.6 53.3l2.3 1.7 2.2-1.1-2.7.1z" fill="#b80"/>
<path d="M441.6 54.8l2.4.8 2.1-2.3-2.4.3z" fill="#d90"/>
<path d="M443.7 55.4l2.4-.2 2.1-1.7-2.4-.4z" fill="#c80"/>
<path d="M445.8 55l2.5-.5 2-.5-2.4-.7z" fill="#b80"/>
<path d="M447.8 54.4l2.4.5 2.1-1.4-2.5.4z" fill="#b70"/>
<path d="M449.9 54.7l2.4.8 2.1-2.4-2.4.2z" fill="#d80"/>
<path d="M452 55.3l2.3.5 2.2-1.6-2.4-1.2z" fill="#fa0"/>
<path d="M454 55.5l2.4.4 2.1-.2-2.4-1.7z" fill="#fa0"/>
<path d="M456.1 55.6l2.4.5 2.1-.8-2.6.4z" fill="#b70"/>
<path d="M458.1 55.9l2.4 1.3 2.1-2.4-2.4.2z" fill="#f90"/>
<path d="M460.2 57l2.4.3 2.1-1.2-2.4-1.5z" fill="#fb0"/>
<path d="M462.3 57l2.4-1 2.1 1.4-2.4-1.6z" fill="#b70"/>
<path d="M464.3 56.2l2.6 1.1 2-.4-2.5.7z" fill="#b60"/>
<path d="M466.4 57l2.4 2.1 2.1-2.6-2.4.1z" fill="#fa0"/>
<path d="M468.5 58.9l2.3.4 2.2-2.3-2.4-.7z" fill="#e80"/>
<path d="M470.5 59.2l2.7-.9 1.9 0-2.4-1.4z" fill="#d70"/>
<path d="M472.6 58.2l2.4.8 2.1-1-2.6.1z" fill="#b60"/>
<path d="M474.7 58.7l2.3 1.2 2.2-2.5-2.4.4z" fill="#d70"/>
<path d="M476.7 59.7l2.4.4 2.1-2.1-2.3-.8z" fill="#e70"/>
<path d="M478.8 59.9l2.5-1.2 2 .9-2.4-1.8z" fill="#e70"/>
<path d="M480.8 58.9l2.5-.6 2.1 1.7-2.5-.1z" fill="#b50"/>
<path d="M482.9 58.5l2.5 1.5 2-.6-2.4.8z" fill="#b50"/>
<path d="M485 59.7l2.4 1.3 2.1-1-2.4-.9z" fill="#f60"/>
<path d="M487 60.7l2.7 0 1.9.1-2.4-1.1z" fill="#b50"/>
<path d="M489.1 60.6l2.5-.6 2 .5-2.4.5z" fill="#b50"/>
<path d="M491.2 60.3l2.4 1.3 2.1-1.8-2.6.6z" fill="#d50"/>
<path d="M493.2 61.3l2.4 1.7 2.2-2.6-2.4-.8z" fill="#f50"/>
<path d="M495.3 62.9l2.4.3 2.1-1.4-2.3-1.6z" fill="#f60"/>
<path d="M497.4 63l2.5-.3 2-.4-2.4-.8z" fill="#b50"/>
<path d="M499.4 62.5l2.4 1.1 2.1-2.2-2.5.7z" fill="#c50"/>
<path d="M501.5 63.4l2.4 1 2.1-2.5-2.4-.6z" fill="#f50"/>
<path d="M503.6 64.2l2.4-.3 2.1-.5-2.4-1.7z" fill="#f60"/>
<path class="ed2" d="M425.2 54.3l2.1-2.7 2-.8 2.1 1.1 2.1.9 2-.8 2.1-.7 2.1 1.2 2 1.5 2.1-.1 2-.5 2.1.2 2.1.5 2-.5 2.1-.4 2.1 1.1 2 1.3 2.1-.3 2.1-.4 2 1.2 2.1 1.2 2.1-.4 2-.3 2.1.5 2.1 1.2 2-.2 2.1-.6 2.1.6 2 1.5 2.1.3 2.1-.5 2 .6 2.1.7 2-.2 2.1-.6 2.1.6 2 1.3 2.1.5 2.1-.7 2 .4 2.1 1.4"/>
<path d="M421.2 54.6l2.4.1 2.1-1.4-2.6.4z" fill="#fe0"/>
<path d="M423.2 54.4l2.4.3 2.1-1.8-2.4.2z" fill="#d90"/>
<path d="M425.3 54.6l2.4-.5 2.1-1.8-2.4.4z" fill="#b80"/>
<path d="M427.4 53.9l2.3.6 2.2-2-2.4-.4z" fill="#fb0"/>
<path d="M429.4 54.2l2.4 1.2 2.1-1.9-2.3-1.2z" fill="#fc0"/>
<path d="M431.5 55.2l2.4-.1 2.1-1.4-2.4-.5z" fill="#c90"/>
<path d="M433.6 54.9l2.5-.7 2-1.2-2.5.5z" fill="#c90"/>
<path d="M435.6 54l2.4 1.2 2.1-1.9-2.4-.5z" fill="#fd0"/>
<path d="M437.7 54.9l2.4 1 2.1-1.2-2.4-1.6z" fill="#fb0"/>
<path d="M439.7 55.7l2.6-.9 2 .5-2.5-.9z" fill="#b80"/>
<path d="M441.8 55.1l2.4-.7 2.1.5-2.4.7z" fill="#b80"/>
<path d="M443.9 54.6l2.4 1.4 2.1-1.8-2.6.8z" fill="#e90"/>
<path d="M445.9 55.7l2.4 1.3 2.2-2.5-2.4-.5z" fill="#fb0"/>
<path d="M448 56.8l2.4-.3 2.1-1.3-2.4-.9z" fill="#d90"/>
<path d="M450.1 56.3l2.4.2 2.1-1-2.4-.5z" fill="#d80"/>
<path d="M452.1 56.2l2.4 1.7 2.2-2.4-2.4-.3z" fill="#fb0"/>
<path d="M454.2 57.7l2.4.6 2.1-2.6-2.4-.4z" fill="#d80"/>
<path d="M456.3 58.1l2.4-.6 2.1-.6-2.4-1.3z" fill="#d80"/>
<path d="M458.3 57.2l2.4.8 2.2-1.1-2.5-.3z" fill="#e80"/>
<path d="M460.4 57.7l2.4 1.5 2.1-3.1-2.4.6z" fill="#d80"/>
<path d="M462.5 59l2.3.5 2.2-2.6-2.4-.9z" fill="#e80"/>
<path d="M464.5 59.3l2.5-.5 2 0-2.3-2.1z" fill="#fa0"/>
<path d="M466.6 58.5l2.6.6 1.9 0-2.6-.4z" fill="#b60"/>
<path d="M468.6 58.9l2.4 1.4 2.2-2.2-2.7 1z" fill="#d70"/>
<path d="M470.7 60.1l2.4-.1 2.1-1.4-2.3-.7z" fill="#d70"/>
<path d="M472.8 59.8l2.6-.8 1.9.6-2.4-1.2z" fill="#b60"/>
<path d="M474.8 59.2l2.5 1 2.1-.4-2.6-.4z" fill="#b50"/>
<path d="M476.9 59.9l2.4 1.7 2.1-2.8-2.4.7z" fill="#e70"/>
<path d="M479 61.5l2.4-.2 2.1-2.9-2.4.3z" fill="#b50"/>
<path d="M481.1 61.2l2.3-.2 2.2-1.3-2.4-1.4z" fill="#f60"/>
<path d="M483.1 60.7l2.4 1.8 2.1-1.8-2.4-1.3z" fill="#f60"/>
<path d="M485.2 62.3l2.3 1.3 2.2-3.2-2.4 0z" fill="#e60"/>
<path d="M487.3 63.5l2.3-.8 2.1-2.6-2.3.1z" fill="#b50"/>
<path d="M489.3 62.5l2.4-.3 2.1-1-2.4-1.2z" fill="#e50"/>
<path d="M491.4 61.9l2.4 1.6 2.1-.7-2.4-1.8z" fill="#f50"/>
<path d="M493.4 63.2l2.4 1 2.2-1.3-2.5-.4z" fill="#f60"/>
<path d="M495.5 64l2.6-1.2 1.9-.4-2.5.3z" fill="#c50"/>
<path d="M497.6 63l2.4.8 2.1-.5-2.4-1.1z" fill="#f50"/>
<path d="M499.6 63.5l2.4 1.8 2.2-1.2-2.4-1.1z" fill="#f50"/>
<path d="M501.7 65.1l2.4.1 2.1-1.7-2.4.3z" fill="#b50"/>
<path class="ed2" d="M423.3 54l2.1-.6 2.1-.4 2-.6 2.1.2 2 .9 2.1.2 2.1-.6 2 .3 2.1 1.3 2.1.6 2-.4 2.1-.6 2.1.3 2 .6 2.1.3 2.1.1 2 .3 2.1 1 2.1.1 2-.7 2.1.7 2.1 1.8 2 .2 2.1-.8 2.1.5 2 .9 2.1.2 2-.8 2.1-.4 2.1 1.1 2 1 2.1-.2 2.1-.2 2 1 2.1 1.4 2.1.2 2-.4 2.1.8 2.1.8 2-.5"/>
<path d="M419.3 55.9l2.4-2.2 2.1.6-2.5 0z" fill="#b90"/>
<path d="M421.3 53.9l2.5 1.1 2.1-.6-2.7 0z" fill="#b80"/>
<path d="M423.4 54.7l2.4 1.2 2.1-2.2-2.4.4z" fill="#eb0"/>
<path d="M425.5 55.7l2.4.1 2.1-1.7-2.4-.6z" fill="#da0"/>
<path d="M427.5 55.6l2.7-.6 1.9.1-2.4-1.2z" fill="#da0"/>
<path d="M429.6 54.9l2.4 1 2.1-1.2-2.6.4z" fill="#b80"/>
<path d="M431.7 55.7l2.4 1.1 2.1-2.9-2.4.6z" fill="#d90"/>
<path d="M433.8 56.7l2.3-.3 2.2-1.6-2.4-1.1z" fill="#d90"/>
<path d="M435.8 56.2l2.6-.5 1.9-.1-2.4-1z" fill="#d90"/>
<path d="M437.9 55.6l2.4.7 2.1-1.3-2.6.8z" fill="#b80"/>
<path d="M439.9 56.1l2.4.9 2.1-2.5-2.4.3z" fill="#d90"/>
<path d="M442 56.8l2.4.1 2.1-1.2-2.4-1.3z" fill="#fb0"/>
<path d="M444.1 56.6l2.6-.5 1.9.7-2.4-1.4z" fill="#b80"/>
<path d="M446.1 56.2l2.4 1.7 2.2-1.8-2.7.6z" fill="#ea0"/>
<path d="M448.2 57.7l2.4 1.2 2.1-2.9-2.4-.1z" fill="#fa0"/>
<path d="M450.3 58.8l2.4-.2 2.1-1-2.4-1.7z" fill="#fb0"/>
<path d="M452.3 58.4l2.5-1.1 2.1.7-2.5-.7z" fill="#b80"/>
<path d="M454.4 57.6l2.4 1.2 2.1-1.7-2.5 1.1z" fill="#b70"/>
<path d="M456.4 58.5l2.4 1.1 2.2-2-2.4-.7z" fill="#fb0"/>
<path d="M458.5 59.4l2.7-.6 1.8.1-2.3-1.5z" fill="#e80"/>
<path d="M460.6 58.7l2.4-.5 2.1 1.1-2.6-.3z" fill="#b70"/>
<path d="M462.7 58.4l2.3 1.8 2.2-1.7-2.5 1z" fill="#b60"/>
<path d="M464.7 60l2.4 1.4 2.1-2.6-2.3-.6z" fill="#f90"/>
<path d="M466.8 61.2l2.4-.3 2.1-1-2.4-1.3z" fill="#e80"/>
<path d="M468.8 60.7l2.5 0 2.1-1-2.5 0z" fill="#b60"/>
<path d="M470.9 60.4l2.4 1.1 2.1-2.4-2.4.3z" fill="#d70"/>
<path d="M473 61.3l2.4.7 2.1-2.2-2.4-.9z" fill="#f70"/>
<path d="M475 61.8l2.5-.3 2.1-.2-2.4-1.7z" fill="#f80"/>
<path d="M477.1 61.3l2.7-.2 1.8-.1-2.5.5z" fill="#b50"/>
<path d="M479.2 61.2l2.3 1.6 2.2-2.2-2.4.1z" fill="#f70"/>
<path d="M481.2 62.5l2.4 1.7 2.2-2-2.4-1.8z" fill="#f70"/>
<path d="M483.3 64l2.5-.2 2-.5-2.4-1.4z" fill="#f80"/>
<path d="M485.4 63.5l2.4.2 2.1-1.4-2.5 1.3z" fill="#c60"/>
<path d="M487.4 63.4l2.4 1.1 2.1-2.7-2.4.3z" fill="#d60"/>
<path d="M489.5 64.4l2.4.7 2.1-2-2.4-1.5z" fill="#f60"/>
<path d="M491.6 64.9l2.5-.5 2-.5-2.4-1z" fill="#c50"/>
<path d="M493.6 64.2l2.6-.1 1.9-1.2-2.5 1.2z" fill="#c50"/>
<path d="M495.7 63.8l2.4 1.6 2.1-1.9-2.4-.8z" fill="#f50"/>
<path d="M497.7 65.1l2.4 1.3 2.2-1.4-2.4-1.8z" fill="#f50"/>
<path d="M499.8 66.2l2.6-.5 1.9-.9-2.4-.1z" fill="#b50"/>
<path class="ed2" d="M421.4 54.5l2.1-.1 2.1 0 2-.6 2.1.4 2.1.9 2-.3 2.1-.8 2.1.9 2 .7 2.1-.5 2.1-.4 2 1 2.1 1 2.1-.5 2 0 2.1 1.4 2.1.4 2-.8 2.1.5 2.1 1.2 2 .3 2.1-.7 2 .4 2.1 1.1 2.1-.3 2-.5 2.1.7 2.1 1.4 2-.3 2.1-.3 2.1 1.5 2 1.1 2.1-.9 2.1-.5 2 1.3 2.1.7 2.1-.9 2 .5 2.1 1.5 2-.1"/>
<path d="M417.4 56.2l2.4.1 2.1-2.5-2.4 2.3z" fill="#b90"/>
<path d="M419.5 56.1l2.4-.2 2.1-1.3-2.4-.9z" fill="#fb0"/>
<path d="M421.5 55.6l2.5-.9 2.1.9-2.4-1.2z" fill="#b80"/>
<path d="M423.6 54.9l2.4 1.2 2.1-.6-2.5.3z" fill="#b80"/>
<path d="M425.7 55.8l2.4 1.4 2.1-2.4-2.5.4z" fill="#fb0"/>
<path d="M427.7 57l2.4-.1 2.2-1.3-2.4-.9z" fill="#ea0"/>
<path d="M429.8 56.7l2.6-.6 1.9.5-2.4-1.3z" fill="#b80"/>
<path d="M431.9 56.2l2.4.7 2.1-.8-2.5.7z" fill="#b80"/>
<path d="M433.9 56.6l2.4 1.4 2.1-2.5-2.4.3z" fill="#fb0"/>
<path d="M436 57.8l2.4.9 2.1-2.8-2.4-.6z" fill="#ea0"/>
<path d="M438.1 58.5l2.4-.8 2.1-1-2.4-1z" fill="#c80"/>
<path d="M440.1 57.5l2.7-.5 1.9-.5-2.5-.1z" fill="#b80"/>
<path d="M442.2 56.9l2.4 1.4 2.1-2.2-2.4.2z" fill="#fa0"/>
<path d="M444.3 58.1l2.3.8 2.2-1.3-2.4-1.7z" fill="#fb0"/>
<path d="M446.3 58.7l2.5-1.2 2 1.2-2.4-1.4z" fill="#b80"/>
<path d="M448.4 57.8l2.4-.8 2.1 1.4-2.4.5z" fill="#b70"/>
<path d="M450.5 57.3l2.4 1.3 2.1-1-2.4 1z" fill="#b70"/>
<path d="M452.5 58.3l2.4 1.8 2.1-1.6-2.3-1.2z" fill="#f90"/>
<path d="M454.6 59.9l2.4.8 2.1-1.4-2.4-1.1z" fill="#fc0"/>
<path d="M456.7 60.5l2.4-.4 2-1.5-2.4.5z" fill="#c80"/>
<path d="M458.7 59.9l2.4.4 2.1-1.9-2.4 0z" fill="#c70"/>
<path d="M460.8 60l2.4 1.5 2.1-1.6-2.4-1.7z" fill="#f80"/>
<path d="M462.8 61.2l2.4 1 2.2-1.1-2.4-1.5z" fill="#fa0"/>
<path d="M464.9 62l2.6-.4 1.9-1-2.5.3z" fill="#c70"/>
<path d="M467 61.4l2.6-.3 1.9-.8-2.5.1z" fill="#b60"/>
<path d="M469 60.8l2.4 1.7 2.2-1.3-2.4-1.1z" fill="#f70"/>
<path d="M471.1 62.2l2.4 1.1 2.1-1.6-2.4-.8z" fill="#fa0"/>
<path d="M473.2 63.2l2.4-.2 2.1-1.9-2.4.3z" fill="#b60"/>
<path d="M475.2 62.8l2.4 0 2.1-1.7-2.3-.1z" fill="#c50"/>
<path d="M477.3 62.5l2.4 1.1 2.1-1.1-2.4-1.6z" fill="#f70"/>
<path d="M479.4 63.2l2.4 1.3 2.1-.6-2.4-1.7z" fill="#f70"/>
<path d="M481.4 64.2l2.6 0 1.9-.8-2.6.4z" fill="#b60"/>
<path d="M483.5 64l2.6-.3 1.9-.4-2.5-.1z" fill="#b50"/>
<path d="M485.5 63.6l2.5.8 2.1-.1-2.4-1.2z" fill="#b40"/>
<path d="M487.6 64l2.4 1.6 2.1-.8-2.4-.8z" fill="#f60"/>
<path d="M489.7 65.3l2.4 1.4 2.1-2.7-2.4.5z" fill="#e60"/>
<path d="M491.8 66.5l2.3 0 2.1-2.8-2.3.2z" fill="#b50"/>
<path d="M493.8 66.4l2.5-.7 2-.6-2.3-1.6z" fill="#e50"/>
<path d="M495.9 65.4l2.4.8 2.1 0-2.4-1.4z" fill="#b40"/>
<path d="M497.9 65.8l2.4 1.5 2.2-1.9-2.7.6z" fill="#e50"/>
<path class="ed2" d="M419.6 55.8l2-1.8 2.1.7 2.1.9 2-.1 2.1-.5 2.1.6 2 .9 2.1-.4 2.1-.5 2 .4 2.1.7 2.1-.1 2-.4 2.1 1.4 2.1 1 2-.3 2.1-.7 2 .9 2.1.8 2.1-.6 2-.2 2.1 1.4 2.1 1.2 2-.5 2.1-.2 2.1.8 2 .5 2.1-.4 2.1-.1 2 1.3 2.1 1.4 2.1-.4 2-.1 2.1.9 2 .5 2.1-.6 2.1-.4 2 1.3 2.1 1 2.1-.6"/>
<path d="M415.5 56.8l2.5 0 2.1-.9-2.5 0z" fill="#fc0"/>
<path d="M417.6 56.6l2.6-.3 1.9-.8-2.6.3z" fill="#b80"/>
<path d="M419.7 56.2l2.4-1.2 2.1-.1-2.6.9z" fill="#c90"/>
<path d="M421.7 55.2l2.4 1.2 2.2-.6-2.5-1.2z" fill="#fb0"/>
<path d="M423.8 56.1l2.4 1.8 2.1-1-2.4-1.4z" fill="#fb0"/>
<path d="M425.9 57.7l2.5-.4 2-.7-2.5 0z" fill="#b80"/>
<path d="M427.9 57.2l2.6-.8 1.9-.3-2.6.5z" fill="#b80"/>
<path d="M430 56.5l2.4 1.4 2.1-1.3-2.4-.7z" fill="#fb0"/>
<path d="M432 57.6l2.4 1.3 2.2-1.2-2.4-1.4z" fill="#fb0"/>
<path d="M434.1 58.6l2.4-1.2 2.1 1-2.4-1z" fill="#b80"/>
<path d="M436.2 57.7l2.5-.4 2 .1-2.4 1.3z" fill="#c80"/>
<path d="M438.2 57.5l2.4 1.8 2.2-2.5-2.5.3z" fill="#fc0"/>
<path d="M440.3 59.1l2.4.4 2.1-1.5-2.3-1.4z" fill="#fc0"/>
<path d="M442.4 59.3l2.6-.9 1.9.2-2.4-.9z" fill="#b80"/>
<path d="M444.4 58.5l2.4 1.2 2.2-2-2.7.9z" fill="#d80"/>
<path d="M446.5 59.5l2.4 1.1 2.1-3.4-2.4.3z" fill="#d80"/>
<path d="M448.6 60.5l2.4-.6 2.1-1.7-2.4-1.2z" fill="#c70"/>
<path d="M450.6 59.6l2.5.4 2.1-.1-2.4-1.9z" fill="#f90"/>
<path d="M452.7 59.6l2.4 2.1 2.1-1.3-2.4-.9z" fill="#f90"/>
<path d="M454.8 61.4l2.4.9 2.1-2.6-2.4.4z" fill="#c80"/>
<path d="M456.9 62.2l2.3-.4 2.1-1.9-2.3-.4z" fill="#b70"/>
<path d="M458.9 61.6l2.4.5 2.1-.9-2.4-1.5z" fill="#fb0"/>
<path d="M461 61.8l2.4 1.1 2.1-1-2.4-1z" fill="#fa0"/>
<path d="M463 62.6l2.5 0 2-1.3-2.5.3z" fill="#b70"/>
<path d="M465.1 62.4l2.4.2 2.1-1.8-2.4.3z" fill="#b60"/>
<path d="M467.2 62.3l2.3 1.6 2.2-1.8-2.4-1.5z" fill="#f70"/>
<path d="M469.2 63.7l2.4.9 2.2-1.6-2.4-1.1z" fill="#fa0"/>
<path d="M471.3 64.4l2.5-1.6 2-.2-2.5.2z" fill="#c70"/>
<path d="M473.3 63.1l2.7-.2 1.9-.5-2.6.1z" fill="#b50"/>
<path d="M475.4 62.8l2.4 1.6 2.1-1.1-2.4-1.1z" fill="#f60"/>
<path d="M477.5 64.1l2.4.5 2.1-.4-2.4-1.2z" fill="#f70"/>
<path d="M479.5 64.3l2.7-.4 1.9.1-2.7.2z" fill="#b50"/>
<path d="M481.6 64l2.4 1.9 2.1-2.4-2.4.2z" fill="#f70"/>
<path d="M483.7 65.6l2.4 1.6 2.1-3.3-2.4-.6z" fill="#e60"/>
<path d="M485.8 67l2.4-.6 2.1-1.2-2.4-1.4z" fill="#d60"/>
<path d="M487.8 66.1l2.6-.3 1.9.6-2.4-1.4z" fill="#b50"/>
<path d="M489.9 65.8l2.4 1.5 2.1-1.1-2.7.1z" fill="#b50"/>
<path d="M491.9 67.1l2.4.7 2.1-2.5-2.4.6z" fill="#c50"/>
<path d="M494 67.6l2.4-.4 2.1-1.4-2.4-.7z" fill="#c40"/>
<path d="M496.1 66.9l2.4.5 2.1-.4-2.4-1.4z" fill="#f50"/>
<path class="ed2" d="M417.7 56.1l2.1-.1 2-.4 2.1-.7 2.1.9 2 1.1 2.1-.3 2.1-.4 2 .4 2.1 1.1 2.1.7 2-1 2.1-.5 2 1.1 2.1.6 2.1-.8 2-.5 2.1 1 2.1 1.5 2 .6 2.1-.6 2.1.2 2 1.2 2.1.7 2.1-.5 2-.5 2.1 1.3 2.1.8 2-.3 2.1-.2 2 .8 2.1.9 2.1-.2 2-.4 2.1.5 2.1 1.2 2 1.1 2.1-.2 2.1-.8 2 .5 2.1 1.1"/>
<path d="M413.7 58.4l2.3-2.7 2.2.8-2.6 0z" fill="#c90"/>
<path d="M415.7 56l2.4-.8 2.2 1-2.5.6z" fill="#b80"/>
<path d="M417.8 55.4l2.4 2.3 2.1-2.6-2.6 1.2z" fill="#fc0"/>
<path d="M419.9 57.5l2.3 1.3 2.2-2.8-2.4-1.1z" fill="#fb0"/>
<path d="M421.9 58.6l2.5-.6 2-.4-2.3-1.8z" fill="#fc0"/>
<path d="M424 57.7l2.4-.8 2.1.2-2.5.8z" fill="#b80"/>
<path d="M426 57.1l2.4 1.9 2.2-2.6-2.5.5z" fill="#fd0"/>
<path d="M428.1 58.8l2.4.4 2.1-1.6-2.3-1.3z" fill="#fc0"/>
<path d="M430.2 59l2.4-1.4 2.1 1-2.4-1.3z" fill="#b80"/>
<path d="M432.2 57.9l2.5.7 2.1-1-2.5 1.2z" fill="#b80"/>
<path d="M434.3 58.3l2.4 2.2 2.1-3.1-2.4 0z" fill="#fb0"/>
<path d="M436.4 60.3l2.4.6 2.1-2-2.4-1.7z" fill="#fa0"/>
<path d="M438.5 60.7l2.5-1.5 2-.1-2.4-.4z" fill="#c80"/>
<path d="M440.5 59.5l2.4.4 2.1-1.5-2.6.7z" fill="#b70"/>
<path d="M442.6 59.6l2.3 1.7 2.2-1.9-2.4-1.2z" fill="#fa0"/>
<path d="M444.6 61.1l2.4.7 2.2-1.5-2.4-1.2z" fill="#fd0"/>
<path d="M446.7 61.6l2.4-.4 2.1-1.7-2.4.6z" fill="#c80"/>
<path d="M448.8 61l2.3 1 2.2-2.4-2.4-.3z" fill="#f90"/>
<path d="M450.8 61.7l2.4 1.6 2.2-1.9-2.4-2z" fill="#f90"/>
<path d="M452.9 63.1l2.5-.4 2-.7-2.4-.9z" fill="#c90"/>
<path d="M455 62.5l2.4-1.2 2.1.1-2.6.9z" fill="#c80"/>
<path d="M457 61.6l2.4 1.6 2.2-1.4-2.5-.6z" fill="#f90"/>
<path d="M459.1 62.9l2.4 1.6 2.1-2-2.4-1z" fill="#fa0"/>
<path d="M461.2 64.4l2.4-.7 2.1-1.5-2.4.1z" fill="#b70"/>
<path d="M463.2 63.5l2.6-.6 1.9-.6-2.4-.2z" fill="#b60"/>
<path d="M465.3 62.7l2.4 1.5 2.1-.5-2.4-1.7z" fill="#f70"/>
<path d="M467.3 63.9l2.4 1.4 2.2-1-2.4-.9z" fill="#f90"/>
<path d="M469.4 65.2l2.4 0 2.1-2.3-2.6 1.3z" fill="#c70"/>
<path d="M471.5 65l2.4-.2 2.1-2.1-2.4.1z" fill="#b50"/>
<path d="M473.5 64.5l2.4 1.4 2.2-1.8-2.4-1.6z" fill="#f60"/>
<path d="M475.6 65.6l2.4 1.2 2.1-2.6-2.4-.4z" fill="#f70"/>
<path d="M477.7 66.6l2.4-.4 2.1-2.3-2.4.1z" fill="#b50"/>
<path d="M479.7 66l2.4.2 2.2-.6-2.4-1.8z" fill="#f80"/>
<path d="M481.8 65.9l2.4 1.4 2.1-.4-2.4-1.6z" fill="#f70"/>
<path d="M483.9 67l2.4 1 2.1-2-2.6.7z" fill="#c60"/>
<path d="M486 67.8l2.3-.3 2.1-1.8-2.3.1z" fill="#b50"/>
<path d="M488 67.3l2.4.3 2.1-.6-2.4-1.4z" fill="#f60"/>
<path d="M490.1 67.3l2.4 1.5 2.1-1.3-2.4-.8z" fill="#f60"/>
<path d="M492.1 68.6l2.4.5 2.1-2.4-2.4.5z" fill="#b50"/>
<path d="M494.2 68.9l2.4-.2 2.1-1.7-2.4-.4z" fill="#c40"/>
<path class="ed2" d="M415.8 56.7l2.1-.2 2.1-.4 2-.9 2.1.9 2.1 1.5 2-.5 2.1-.5 2 1 2.1 1 2.1-.9 2-.2 2.1 1.5 2.1.2 2-.7 2.1.9 2.1.9 2-.7 2.1.1 2.1 1.7 2 .6 2.1-.5 2.1.3 2 .8 2.1-.2 2-.1 2.1 1.4 2.1.6 2-1.2 2.1-.3 2.1 1.3 2 .2 2.1-.2 2.1 1.5 2 1.3 2.1-.8 2.1-.2 2 1.1 2.1.5 2.1-.6 2 .2"/>
<path d="M411.8 58.6l2.6-1.1 1.8-1.7-2.3 2.7z" fill="#da0"/>
<path d="M413.9 57.7l2.3.2 2.1-2.5-2.3.3z" fill="#c90"/>
<path d="M415.9 57.7l2.4 1.2 2.1-1.5-2.3-2.2z" fill="#fb0"/>
<path d="M418 58.6l2.4 1.1 2.1-1.2-2.4-1.4z" fill="#fc0"/>
<path d="M420.1 59.5l2.4-.3 2-1.6-2.5.7z" fill="#c90"/>
<path d="M422.1 59l2.4-.1 2.1-1.9-2.4.4z" fill="#b80"/>
<path d="M424.2 58.6l2.4 1.4 2.1-1.3-2.4-1.9z" fill="#fb0"/>
<path d="M426.2 59.7l2.4 1.2 2.2-2.1-2.4-.4z" fill="#fd0"/>
<path d="M428.3 60.8l2.4-.2 2.1-2.8-2.4.8z" fill="#b80"/>
<path d="M430.4 60.5l2.4-.6 2.1-1.7-2.4-.6z" fill="#c80"/>
<path d="M432.4 59.6l2.4 1 2.2-.3-2.4-2.3z" fill="#fb0"/>
<path d="M434.5 60.2l2.4 1.5 2.1-1.1-2.4-.7z" fill="#fb0"/>
<path d="M436.6 61.5l2.3.7 2.1-2.9-2.4 1z" fill="#b80"/>
<path d="M438.7 62l2.3-.4 2.1-2.1-2.3-.4z" fill="#b80"/>
<path d="M440.7 61.4l2.6-.4 1.9 0-2.4-1.7z" fill="#fa0"/>
<path d="M442.8 60.7l2.5-.1 2 1-2.7-.7z" fill="#b70"/>
<path d="M444.8 60.8l2.4 1.3 2.2-1.3-2.5 1z" fill="#b70"/>
<path d="M446.9 61.8l2.5.2 2-.3-2.4-1.1z" fill="#e90"/>
<path d="M448.9 61.7l2.5-.3 2.1 1.7-2.5-1.7z" fill="#b70"/>
<path d="M451 61.6l2.4 1.6 2.1-.8-2.4.9z" fill="#b70"/>
<path d="M453.1 63l2.4 1.4 2.1-2.9-2.4.6z" fill="#d80"/>
<path d="M455.2 64.2l2.3.1 2.2-1.4-2.4-1.6z" fill="#f90"/>
<path d="M457.2 64l2.5-1 2 1.3-2.4-1.7z" fill="#b70"/>
<path d="M459.3 63.2l2.6.4 1.9-.2-2.4 1.1z" fill="#b70"/>
<path d="M461.3 63.6l2.4 1.8 2.1-2.8-2.4.5z" fill="#f90"/>
<path d="M463.4 65.2l2.4 1.5 2.1-2.9-2.3-1.3z" fill="#f80"/>
<path d="M465.5 66.6l2.4-.7 2.1-.9-2.4-1.4z" fill="#d80"/>
<path d="M467.5 65.7l2.6-.8 2 0-2.6-.1z" fill="#b60"/>
<path d="M469.6 65.1l2.4 1.5 2.1-2.2-2.4.2z" fill="#f80"/>
<path d="M471.7 66.4l2.3.9 2.2-1.8-2.4-1.3z" fill="#f80"/>
<path d="M473.7 67.1l2.7-.7 1.9.1-2.4-1.2z" fill="#b60"/>
<path d="M475.8 66.4l2.5-.7 2 .2-2.4.8z" fill="#b60"/>
<path d="M477.9 65.9l2.4 1.1 2.1-1.1-2.5-.3z" fill="#b50"/>
<path d="M479.9 66.6l2.4 1.9 2.2-1.5-2.4-1.4z" fill="#f60"/>
<path d="M482 68.2l2.4.7 2.1-1.2-2.4-1z" fill="#f90"/>
<path d="M484.1 68.6l2.4.1 2.1-1.6-2.5.3z" fill="#b50"/>
<path d="M486.1 68.5l2.4.8 2.1-2.1-2.3-.3z" fill="#f60"/>
<path d="M488.2 69.1l2.4 1.1 2.1-1.7-2.4-1.5z" fill="#f70"/>
<path d="M490.3 70l2.3.5 2.2-1.8-2.4-.5z" fill="#e60"/>
<path d="M492.3 70.3l2.4-.2 2.1-1.8-2.4.2z" fill="#b50"/>
<path class="ed2" d="M414 58.2l2-2.2 2.1-.5 2 1.9 2.1 1.1 2.1-.8 2-.6 2.1 1.6 2.1.2 2-1 2.1.4 2.1 1.9 2 .4 2.1-1.2 2.1.2 2 1.4 2.1.5 2.1-.6 2 .8 2.1 1.3 2-.6 2.1-.8 2.1 1.3 2 1.3 2.1-.8 2.1-.6 2 1.1 2.1 1.1 2.1-.1 2-.4 2.1 1.1 2.1.9 2-.6 2.1 0 2.1 1.1 2 .7 2.1-.5 2.1.1 2 1.2 2.1.3 2.1-.4"/>
<path d="M409.9 58.3l2.5.5 2-1.3-2.4 1.3z" fill="#b80"/>
<path d="M412 58.5l2.4 1.2 2.1-2.2-2.4-.2z" fill="#fd0"/>
<path d="M414 59.5l2.4.1 2.2-1-2.4-1.3z" fill="#fd0"/>
<path d="M416.1 59.4l2.6 0 1.9 0-2.4-1.1z" fill="#b80"/>
<path d="M418.2 59.2l2.4 1.2 2.1-1.6-2.7.6z" fill="#da0"/>
<path d="M420.2 60.2l2.4 1 2.1-2.7-2.3.1z" fill="#da0"/>
<path d="M422.3 61l2.4-.1 2.1-1.3-2.4-1.3z" fill="#fb0"/>
<path d="M424.4 60.7l2.5-.9 2 .9-2.4-1.3z" fill="#b80"/>
<path d="M426.4 60l2.5.8 2.1-.5-2.5.6z" fill="#b80"/>
<path d="M428.5 60.6l2.4 1.3 2.1-2.4-2.5.5z" fill="#ea0"/>
<path d="M430.6 61.8l2.4 0 2.1-1.6-2.4-.9z" fill="#ea0"/>
<path d="M432.6 61.5l2.5 0 2.1 0-2.4-1.5z" fill="#fa0"/>
<path d="M434.7 61.2l2.5.8 2-.1-2.5-.7z" fill="#b80"/>
<path d="M436.7 61.7l2.4 1.4 2.2-1.9-2.6.5z" fill="#ea0"/>
<path d="M438.8 62.9l2.4.7 2.1-3-2.4.4z" fill="#c80"/>
<path d="M440.9 63.4l2.4-.3 2.1-2.4-2.4-.2z" fill="#b80"/>
<path d="M443 63l2.3.3 2.2-1.6-2.4-1.1z" fill="#fa0"/>
<path d="M445 63.1l2.4.9 2.1-2.4-2.4-.1z" fill="#e90"/>
<path d="M447.1 63.8l2.4 1.2 2.1-3.4-2.4-.2z" fill="#d80"/>
<path d="M449.2 64.8l2.3-.2 2.2-1.7-2.4-1.5z" fill="#d80"/>
<path d="M451.2 64.4l2.5-1.2 2 1-2.4-1.6z" fill="#b70"/>
<path d="M453.3 63.4l2.4 1.1 2.1-.5-2.5.4z" fill="#b70"/>
<path d="M455.3 64.2l2.4 1.9 2.1-2.9-2.4.5z" fill="#fa0"/>
<path d="M457.4 66l2.4 0 2.1-2.5-2.4-.5z" fill="#c70"/>
<path d="M459.5 65.9l2.5-1.6 2 .9-2.4-1.9z" fill="#d70"/>
<path d="M461.5 64.5l2.5 0 2 2.1-2.5-1.7z" fill="#b60"/>
<path d="M463.6 64.7l2.4 2 2.1-1.1-2.4 1.1z" fill="#b60"/>
<path d="M465.7 66.4l2.3 1 2.2-2.4-2.4.3z" fill="#d70"/>
<path d="M467.7 67.3l2.5-.5 2.1-.5-2.4-1.5z" fill="#e70"/>
<path d="M469.8 66.5l2.6.2 1.9.4-2.4-1.1z" fill="#b60"/>
<path d="M471.9 66.6l2.3 1.8 2.2-2.1-2.7.7z" fill="#f70"/>
<path d="M473.9 68.3l2.4 1.1 2.1-3.6-2.3.3z" fill="#d60"/>
<path d="M476 69.3l2.4-.6 2.1-2.1-2.4-1z" fill="#c60"/>
<path d="M478.1 68.5l2.6-.7 1.9.4-2.4-1.8z" fill="#f60"/>
<path d="M480.1 67.7l2.5 1.2 2-.3-2.5-.7z" fill="#b50"/>
<path d="M482.2 68.6l2.4 1.6 2.1-1.8-2.4-.1z" fill="#f70"/>
<path d="M484.3 70l2.4 0 2.1-1-2.4-.8z" fill="#e60"/>
<path d="M486.3 69.7l2.5-.7 2 1-2.4-1.3z" fill="#b50"/>
<path d="M488.4 69.2l2.5.2 2 .8-2.5 0z" fill="#b50"/>
<path d="M490.4 69.5l2.4 1.8 2.2-1.6-2.7.5z" fill="#e60"/>
<path class="ed2" d="M412.1 58.5l2-.9 2.1 0 2.1 1 2 .8 2.1-.5 2.1-.3 2 1.1 2.1.9 2.1-.3 2-.7 2.1.7 2.1 1.1 2 .5 2.1-.6 2-.5 2.1 0 2.1 1 2-.1 2.1 0 2.1 1.2 2 1.2 2.1-.1 2.1-.7 2 .3 2.1 1.5 2.1 1.3 2-.8 2.1-.5 2.1 1.2 2 .7 2.1-.6 2.1-.5 2 .8 2.1 1.5 2.1.4 2-.2 2.1.6 2 .9 2.1.3 2.1-.4"/>
<path d="M408.1 60.7l2.3-.7 2.1-1.6-2.3-.4z" fill="#d90"/>
<path d="M410.1 59.8l2.5-1.2 2 .8-2.4-1.2z" fill="#b80"/>
<path d="M412.2 58.8l2.4 1.1 2.1-.6-2.6.3z" fill="#b80"/>
<path d="M414.2 59.6l2.4 1.6 2.1-2.1-2.4-.1z" fill="#fe0"/>
<path d="M416.3 61l2.4-.1 2.1-.8-2.4-1.2z" fill="#fb0"/>
<path d="M418.4 60.6l2.4-.7 2.1 1.1-2.5-1.1z" fill="#b80"/>
<path d="M420.4 60.1l2.4 1.4 2.2-.9-2.5.6z" fill="#b80"/>
<path d="M422.5 61.2l2.4.7 2.1-1.9-2.5.4z" fill="#c90"/>
<path d="M424.6 61.7l2.4-.3 2.1-.9-2.4-.7z" fill="#d90"/>
<path d="M426.6 61.1l2.5.7 2-.1-2.4-1.4z" fill="#fa0"/>
<path d="M428.7 61.5l2.4 1.6 2.1-1.7-2.5 0z" fill="#fb0"/>
<path d="M430.8 62.9l2.4-.1 2.1-1.7-2.4.1z" fill="#b80"/>
<path d="M432.8 62.6l2.6-1 1.9.1-2.4-.7z" fill="#b80"/>
<path d="M434.9 61.7l2.4 1.5 2.1-.3-2.4-1.5z" fill="#fa0"/>
<path d="M436.9 62.8l2.4 2.2 2.2-1.8-2.4-.7z" fill="#fb0"/>
<path d="M439 64.8l2.4-.2 2.1-1.9-2.4.3z" fill="#b80"/>
<path d="M441.1 64.5l2.6-.8 1.9-.7-2.4-.4z" fill="#b80"/>
<path d="M443.1 63.5l2.4 1.1 2.2-.9-2.4-1z" fill="#fa0"/>
<path d="M445.2 64.3l2.4 1.1 2.1-.7-2.4-1.3z" fill="#fa0"/>
<path d="M447.3 65.2l2.4.2 2.1-1.2-2.5.2z" fill="#b80"/>
<path d="M449.3 65.2l2.4.6 2.1-2.5-2.4.7z" fill="#b70"/>
<path d="M451.4 65.5l2.4 1.8 2.1-3.2-2.4-.9z" fill="#f80"/>
<path d="M453.5 67.2l2.3.1 2.2-1.5-2.4-1.9z" fill="#fa0"/>
<path d="M455.5 67.2l2.5-1.6 2.1.1-2.5-.2z" fill="#c80"/>
<path d="M457.6 66l2.4.8 2.1-2.4-2.6 1.5z" fill="#b60"/>
<path d="M459.7 66.5l2.3 1.7 2.2-3.5-2.4-.4z" fill="#e70"/>
<path d="M461.8 68.1l2.3-.1 2.2-1.7-2.4-1.8z" fill="#e80"/>
<path d="M463.8 67.8l2.6-.7 1.9 0-2.4-1z" fill="#b60"/>
<path d="M465.8 67.1l2.5.9 2.1-1.6-2.7.8z" fill="#b60"/>
<path d="M467.9 67.7l2.4 1 2.1-2.2-2.3-.3z" fill="#f80"/>
<path d="M470 68.5l2.4.4 2.1-.7-2.4-1.9z" fill="#f90"/>
<path d="M472 68.6l2.5.5 2.1.1-2.4-1.3z" fill="#b60"/>
<path d="M474.1 68.8l2.4 1.5 2.1-2-2.6.8z" fill="#d70"/>
<path d="M476.2 70.1l2.4 0 2.1-2.5-2.4.5z" fill="#b60"/>
<path d="M478.3 69.9l2.4-.6 2.1-.7-2.4-1.1z" fill="#c50"/>
<path d="M480.3 69l2.4 1.1 2.1-.1-2.4-1.7z" fill="#f60"/>
<path d="M482.4 69.8l2.4 2 2.1-2.2-2.4 0z" fill="#f80"/>
<path d="M484.5 71.7l2.3-.1 2.1-2.5-2.3.3z" fill="#b50"/>
<path d="M486.5 71.5l2.4-.2 2.1-1.8-2.4-.6z" fill="#c50"/>
<path d="M488.6 71l2.3 1.6 2.2-1.5-2.4-1.8z" fill="#f50"/>
<path class="ed2" d="M410.2 58.3l2.1.2 2 .9 2.1-.1 2.1-.1 2 .9 2.1.8 2.1-.3 2-.5 2.1.5 2 1 2.1-.1 2.1-.2 2 .4 2.1 1.1 2.1.5 2-.4 2.1.1 2.1.7 2 1 2.1-.4 2.1-.8 2 .7 2.1 1.6 2.1-.1 2-1.1 2.1.2 2.1 1.6 2 .7 2.1-.6 2.1.1 2 1.5 2.1 1 2-.7 2.1-.6 2.1.8 2 1.3 2.1-.2 2.1-.5 2 .4 2.1 1.4"/>
<path d="M406.2 60.4l2.3 1.2 2.2-2-2.7.9z" fill="#fc0"/>
<path d="M408.2 61.5l2.4.4 2.1-3.2-2.4.7z" fill="#b80"/>
<path d="M410.3 61.8l2.4-.7 2.1-1.5-2.4-1z" fill="#c90"/>
<path d="M412.3 60.8l2.5.9 2.1-.7-2.4-1.7z" fill="#fc0"/>
<path d="M414.4 61.4l2.4 1.3 2.1-2.2-2.4.2z" fill="#fb0"/>
<path d="M416.5 62.5l2.4-.2 2.1-2.3-2.4.3z" fill="#b80"/>
<path d="M418.6 62.1l2.4-.2 2.1-.8-2.4-1.3z" fill="#fb0"/>
<path d="M420.6 61.6l2.4.9 2.1-.9-2.4-.7z" fill="#fb0"/>
<path d="M422.7 62.2l2.4 1.1 2.1-2.3-2.4.3z" fill="#da0"/>
<path d="M424.8 63.1l2.3-.1 2.2-1.5-2.4-.7z" fill="#d90"/>
<path d="M426.8 62.7l2.5.2 2-.1-2.4-1.6z" fill="#fb0"/>
<path d="M428.9 62.6l2.4 1.9 2.1-2.1-2.5.1z" fill="#fc0"/>
<path d="M431 64.4l2.3.7 2.1-3.5-2.3.6z" fill="#c80"/>
<path d="M433.1 64.9l2.3-.7 2.1-1.4-2.3-1.3z" fill="#d90"/>
<path d="M435.1 63.9l2.4.8 2.1.1-2.4-2.2z" fill="#fa0"/>
<path d="M437.1 64.3l2.4 1.7 2.2-1.7-2.6.1z" fill="#fa0"/>
<path d="M439.2 65.9l2.4.2 2.1-2.8-2.4.7z" fill="#b80"/>
<path d="M441.3 66l2.6-1.3 1.9-.4-2.4-1.1z" fill="#b80"/>
<path d="M443.3 64.6l2.5.7 2.1-.1-2.5-1.2z" fill="#b70"/>
<path d="M445.4 64.9l2.4 2.2 2.1-2.1-2.4-.1z" fill="#fa0"/>
<path d="M447.5 66.9l2.3.6 2.2-2.1-2.4-.6z" fill="#ea0"/>
<path d="M449.5 67.2l2.5-.1 2 0-2.3-1.9z" fill="#fb0"/>
<path d="M451.6 66.8l2.6.3 1.9-.1-2.6.2z" fill="#b70"/>
<path d="M453.6 67l2.4 1.1 2.2-2.3-2.6 1.4z" fill="#c70"/>
<path d="M455.7 67.9l2.4.1 2.1-1.6-2.3-.8z" fill="#d80"/>
<path d="M457.8 67.8l2.4.4 2.1-.2-2.4-1.8z" fill="#f90"/>
<path d="M459.8 67.9l2.4 1.2 2.2-1.4-2.5 0z" fill="#e80"/>
<path d="M461.9 68.8l2.4 1.4 2.1-3.3-2.4.6z" fill="#d80"/>
<path d="M464 70.1l2.4.1 2.1-2.6-2.4-.8z" fill="#d70"/>
<path d="M466.1 70l2.4-.4 2.1-1.2-2.4-1z" fill="#d70"/>
<path d="M468.1 69.4l2.4 1 2.1-1.9-2.4-.4z" fill="#f90"/>
<path d="M470.2 70.2l2.4.6 2.1-2-2.4-.5z" fill="#f80"/>
<path d="M472.2 70.6l2.6-.4 2-.2-2.4-1.4z" fill="#e70"/>
<path d="M474.3 70l2.5.6 2-.8-2.6.1z" fill="#b50"/>
<path d="M476.4 70.3l2.3 1.5 2.2-2.9-2.4.6z" fill="#e60"/>
<path d="M478.5 71.7l2.3.6 2.1-2.6-2.3-1z" fill="#e60"/>
<path d="M480.5 72.1l2.4-.3 2.1-.2-2.4-2.1z" fill="#f90"/>
<path d="M482.6 71.5l2.4.9 2.1-1.1-2.6 0z" fill="#b50"/>
<path d="M484.6 72.1l2.4 1.3 2.1-2.5-2.4.1z" fill="#f70"/>
<path d="M486.7 73.2l2.4-.2 2.1-.7-2.4-1.6z" fill="#f80"/>
<path class="ed2" d="M408.3 60.5l2.1-.8 2.1-.8 2 .7 2.1 1.3 2-.3 2.1-.5 2.1 1.1 2 .4 2.1-.5 2.1.4 2 1.3 2.1-.3 2.1-.7 2 1.1 2.1 1.8 2.1-.4 2-.8 2.1.8 2.1.8 2 0 2.1.4 2.1 1.5 2 0 2.1-1.1 2.1.6 2 1.4 2.1-.1 2-.7 2.1.6 2.1.7 2 .2 2.1.3 2.1 1.1 2-.2 2.1-.8 2.1.8 2 1.7 2.1-.2 2.1-.3 2 1.3"/>
<path d="M404.3 62l2.4 1.1 2.1-1.8-2.4-1.2z" fill="#fb0"/>
<path d="M406.4 62.9l2.3.2 2.2-1.6-2.4-.5z" fill="#eb0"/>
<path d="M408.4 63l2.7-1.1 1.8-1.2-2.5.7z" fill="#d90"/>
<path d="M410.5 61.8l2.4.3 2.1-.7-2.4-.9z" fill="#ea0"/>
<path d="M412.5 61.8l2.4 1.4 2.2-.8-2.4-1.3z" fill="#fb0"/>
<path d="M414.6 62.9l2.4.4 2.1-1.4-2.4.2z" fill="#b80"/>
<path d="M416.7 63.1l2.4 0 2.1-1.6-2.4.2z" fill="#b80"/>
<path d="M418.7 62.8l2.4 1.2 2.2-1.9-2.4-.8z" fill="#fd0"/>
<path d="M420.8 63.8l2.4 1.1 2.1-2-2.4-1z" fill="#fc0"/>
<path d="M422.9 64.7l2.4-.3 2.1-1.8-2.4.1z" fill="#b80"/>
<path d="M425 64.2l2.5-.7 2-1-2.5-.1z" fill="#b80"/>
<path d="M427 63.3l2.4.9 2.1.1-2.4-2z" fill="#fa0"/>
<path d="M429.1 63.8l2.4 1.8 2.1-.8-2.5-.9z" fill="#fb0"/>
<path d="M431.1 65.4l2.4.6 2.1-2.2-2.5.7z" fill="#b80"/>
<path d="M433.2 65.8l2.4.1 2.1-1.6-2.4-.7z" fill="#d90"/>
<path d="M435.3 65.7l2.6-.2 1.9.3-2.4-1.7z" fill="#fa0"/>
<path d="M437.3 65.3l2.4 1.3 2.2-.8-2.7-.2z" fill="#b80"/>
<path d="M439.4 66.4l2.4 1.2 2.1-3.2-2.5 1.2z" fill="#c80"/>
<path d="M441.5 67.5l2.3-.1 2.2-2.5-2.4-.6z" fill="#c80"/>
<path d="M443.5 67.2l2.5-.3 2-.1-2.3-2.1z" fill="#fb0"/>
<path d="M445.6 66.6l2.4 1.1 2.1-.5-2.5-.7z" fill="#b70"/>
<path d="M447.6 67.4l2.4 1.6 2.2-2.3-2.5.2z" fill="#fc0"/>
<path d="M449.7 68.9l2.4.1 2.1-2.1-2.3-.4z" fill="#c80"/>
<path d="M451.8 68.8l2.5-.6 2-.4-2.4-1.1z" fill="#d80"/>
<path d="M453.8 68l2.4 1 2.2-1.3-2.5-.2z" fill="#e80"/>
<path d="M455.9 68.8l2.4 1.5 2.1-2.5-2.4-.4z" fill="#fa0"/>
<path d="M458 70.1l2.4.1 2.1-1.5-2.4-1.1z" fill="#f90"/>
<path d="M460 69.9l2.5-1 2.1 1.1-2.4-1.5z" fill="#b70"/>
<path d="M462.1 69.1l2.5 1.2 2-.4-2.5.3z" fill="#b60"/>
<path d="M464.2 70l2.3 1.8 2.2-2.6-2.5.4z" fill="#fa0"/>
<path d="M466.3 71.6l2.3-.1 2.2-1.5-2.4-1z" fill="#e80"/>
<path d="M468.3 71.3l2.6-.9 1.9.1-2.4-.7z" fill="#b60"/>
<path d="M470.4 70.5l2.4 1.1 2.1-1.7-2.6.4z" fill="#d60"/>
<path d="M472.4 71.3l2.4 2 2.1-3.1-2.3-.5z" fill="#f70"/>
<path d="M474.5 73.1l2.4.1 2.1-1.7-2.4-1.5z" fill="#f80"/>
<path d="M476.6 73.1l2.4-1.6 2.1.5-2.4-.8z" fill="#b60"/>
<path d="M478.6 71.8l2.6.4 2-.7-2.6.7z" fill="#b50"/>
<path d="M480.7 71.9l2.4 1.7 2.1-1.6-2.4-.8z" fill="#f70"/>
<path d="M482.7 73.4l2.5.7 2.1-1-2.4-1.3z" fill="#f80"/>
<path d="M484.8 73.9l2.5-1.2 2 0-2.6.3z" fill="#c60"/>
<path class="ed2" d="M406.4 60.4l2.1.9 2.1.3 2-.8 2.1.6 2.1 1 2-.4 2.1-.4 2.1.6 2 .8 2.1-.3 2.1-.1 2 1.6 2.1.6 2.1-.9 2 .5 2.1 1.4 2.1 0 2-1.2 2.1.4 2.1 1.8 2 .4 2.1-.4 2 .2 2.1.8 2.1-.1 2 .2 2.1.9 2.1 1.1 2 0 2.1-.6 2.1.8 2 .4 2.1-.5 2.1.3 2 1.2 2.1.5 2.1-.5 2 .6 2.1 1 2-.4"/>
<path d="M402.4 63.4l2.5-.2 2-.4-2.4-1.1z" fill="#fc0"/>
<path d="M404.5 63l2.4-1 2.1.8-2.6.1z" fill="#b80"/>
<path d="M406.5 62.3l2.5.5 2.1-1.1-2.5 1.4z" fill="#b80"/>
<path d="M408.6 62.6l2.4 1.3 2.1-2.2-2.4-.2z" fill="#fd0"/>
<path d="M410.7 63.7l2.4.6 2.1-1.4-2.4-1.4z" fill="#fd0"/>
<path d="M412.7 64l2.4.3 2.2-1.3-2.4-.4z" fill="#d90"/>
<path d="M414.8 64l2.4 0 2.1-1.3-2.4 0z" fill="#b80"/>
<path d="M416.9 63.8l2.4 1.1 2.1-1.2-2.4-1.2z" fill="#fc0"/>
<path d="M418.9 64.7l2.4.9 2.2-1-2.4-1.2z" fill="#fc0"/>
<path d="M421 65.4l2.5-.2 2-1.2-2.5.3z" fill="#b80"/>
<path d="M423.1 65.1l2.4-.4 2.1-1.5-2.6.7z" fill="#c90"/>
<path d="M425.1 64.4l2.4 1 2.2-1.5-2.4-.9z" fill="#fd0"/>
<path d="M427.2 65.1l2.4 1.4 2.1-1.1-2.4-1.8z" fill="#fb0"/>
<path d="M429.2 66.3l2.5.4 2.1-1-2.4-.7z" fill="#ea0"/>
<path d="M431.3 66.5l2.5-.2 2-.7-2.4-.2z" fill="#b80"/>
<path d="M433.4 66.1l2.4.4 2.1-1.2-2.5 0z" fill="#b80"/>
<path d="M435.4 66.2l2.4 1.6 2.2-1.5-2.4-1.2z" fill="#fb0"/>
<path d="M437.5 67.5l2.4.6 2.1-.8-2.4-1.3z" fill="#fc0"/>
<path d="M439.6 67.8l2.4-1.3 2.1.6-2.6.3z" fill="#c80"/>
<path d="M441.6 66.8l2.6-.3 2 .1-2.5.8z" fill="#b70"/>
<path d="M443.7 66.6l2.4 1.9 2.1-1.1-2.4-1.1z" fill="#f90"/>
<path d="M445.8 68.1l2.4 2.2 2.1-1.5-2.4-1.7z" fill="#fa0"/>
<path d="M447.8 70.1l2.5-.2 2.1-1.3-2.4-.2z" fill="#b80"/>
<path d="M449.9 69.7l2.6-.8 1.9-1-2.6.6z" fill="#c80"/>
<path d="M452 68.8l2.4 1.3 2.1-1.4-2.4-1z" fill="#fa0"/>
<path d="M454 69.8l2.4 1.2 2.2-1-2.4-1.6z" fill="#fa0"/>
<path d="M456.1 70.8l2.7-.5 1.8-.5-2.5-.1z" fill="#b70"/>
<path d="M458.2 70.3l2.6-.3 1.9-.9-2.6 1z" fill="#c70"/>
<path d="M460.2 69.8l2.4 1.2 2.2-.9-2.4-1.2z" fill="#f80"/>
<path d="M462.3 70.7l2.4 1.4 2.1-.6-2.4-1.8z" fill="#f80"/>
<path d="M464.4 71.8l2.4.6 2.1-1.2-2.5 0z" fill="#b70"/>
<path d="M466.4 72.2l2.5-.3 2-1.5-2.5.6z" fill="#c70"/>
<path d="M468.5 71.7l2.4.4 2.1-.8-2.4-1.1z" fill="#f70"/>
<path d="M470.6 71.7l2.3 1.7 2.2-.3-2.4-2.1z" fill="#f70"/>
<path d="M472.6 73.1l2.4 1.4 2.1-1.6-2.4-.2z" fill="#f90"/>
<path d="M474.7 74.3l2.4-.3 2.1-2.4-2.5 1.1z" fill="#b60"/>
<path d="M476.8 73.8l2.4-.2 2.1-1.8-2.4-.3z" fill="#c50"/>
<path d="M478.8 73.3l2.4.9 2.1-.8-2.3-1.8z" fill="#f70"/>
<path d="M480.9 73.9l2.4 1.4 2.1-1.6-2.4-.7z" fill="#f80"/>
<path d="M483 75.1l2.3.3 2.1-2.6-2.4.7z" fill="#b50"/>
<path class="ed2" d="M404.6 62l2 .8 2.1 0 2.1-1 2 0 2.1 1.1 2.1.1 2-.2 2.1.9 2.1.9 2-.5 2.1-.8 2.1.6 2 1.4 2.1.4 2.1-.1 2-.2 2.1.9 2 1 2.1-.2 2.1-.5 2 .8 2.1 1.3 2.1 0 2-.7 2.1.7 2.1 1.3 2-.1 2.1-.8 2.1.9 2 1.5 2.1-.3 2.1-.7 2 .8 2.1 1.7 2-.1 2.1-1.1 2.1.1 2 1.4 2.1.5 2.1-.8"/>
<path d="M400.5 62.7l2.6-.1 2 .3-2.5.7z" fill="#b80"/>
<path d="M402.6 62.8l2.4 1.1 2.1-1.7-2.6.8z" fill="#b80"/>
<path d="M404.7 63.7l2.4.1 2.1-1.3-2.4-.5z" fill="#d90"/>
<path d="M406.7 63.5l2.7-.5 1.9.6-2.4-1.3z" fill="#b80"/>
<path d="M408.8 63.1l2.4-.2 2.1 1.1-2.5-.2z" fill="#b80"/>
<path d="M410.9 63.1l2.4 1.3 2.1-.4-2.5.2z" fill="#b80"/>
<path d="M412.9 64.1l2.4 2 2.1-2.4-2.4 0z" fill="#fe0"/>
<path d="M415 65.9l2.4.7 2.1-2-2.4-1.1z" fill="#fb0"/>
<path d="M417.1 66.5l2.4-.2 2.1-1-2.4-.9z" fill="#da0"/>
<path d="M419.1 66.1l2.4.6 2.1-1.9-2.4.2z" fill="#d90"/>
<path d="M421.2 66.6l2.4.6 2.1-3-2.4.4z" fill="#c90"/>
<path d="M423.3 67.1l2.3 0 2.2-2.1-2.4-.9z" fill="#d90"/>
<path d="M425.3 66.9l2.4 0 2.1-.7-2.3-1.4z" fill="#fc0"/>
<path d="M427.4 66.6l2.4.6 2.1-.8-2.4-.5z" fill="#b80"/>
<path d="M429.4 66.9l2.4 1.6 2.2-2.5-2.4.1z" fill="#fd0"/>
<path d="M431.5 68.3l2.4.3 2.1-2.5-2.4-.3z" fill="#c90"/>
<path d="M433.6 68.5l2.5-.8 2-.2-2.4-1.6z" fill="#d90"/>
<path d="M435.6 67.5l2.6.4 2-.1-2.6-.6z" fill="#b70"/>
<path d="M437.7 67.7l2.4 1.6 2.1-2.6-2.6.9z" fill="#e90"/>
<path d="M439.8 69.2l2.3 1 2.1-3.7-2.3 0z" fill="#d80"/>
<path d="M441.9 70l2.3-.2 2.2-1.7-2.4-1.7z" fill="#e90"/>
<path d="M443.9 69.6l2.5-.8 2 1.3-2.4-2.2z" fill="#f90"/>
<path d="M446 69l2.5 1 2-.4-2.4.7z" fill="#b70"/>
<path d="M448 69.7l2.4 1 2.1-2-2.6.8z" fill="#c80"/>
<path d="M450.1 70.5l2.6-.5 1.9-.2-2.4-1.3z" fill="#d80"/>
<path d="M452.2 69.8l2.4-.5 2.1 1.5-2.5-1.2z" fill="#b60"/>
<path d="M454.2 69.5l2.5 1.4 2.1-.7-2.5.8z" fill="#b60"/>
<path d="M456.3 70.6l2.4 1.5 2.1-2.4-2.4.2z" fill="#f90"/>
<path d="M458.4 71.9l2.3.7 2.2-1.9-2.4-1.2z" fill="#f90"/>
<path d="M460.4 72.4l2.4.4 2.1-1-2.3-1.4z" fill="#fb0"/>
<path d="M462.5 72.5l2.4.8 2.1-1.2-2.4-.6z" fill="#f80"/>
<path d="M464.5 73l2.4.7 2.2-2.2-2.4.3z" fill="#c70"/>
<path d="M466.6 73.6l2.4.2 2.1-2.1-2.3-.3z" fill="#d70"/>
<path d="M468.7 73.6l2.5-.3 2-.1-2.4-1.7z" fill="#f80"/>
<path d="M470.7 73l2.7.2 1.9 1.1-2.5-1.5z" fill="#b50"/>
<path d="M472.8 73.3l2.4 1.4 2.1-1.1-2.4.9z" fill="#b60"/>
<path d="M474.9 74.4l2.4.7 2.1-1.9-2.4.2z" fill="#c60"/>
<path d="M476.9 74.9l2.4.1 2.2-1.1-2.4-.9z" fill="#f60"/>
<path d="M479 74.7l2.4.6 2.1-.2-2.4-1.5z" fill="#f60"/>
<path d="M481.1 75l2.4 1.1 2.1-1-2.5-.4z" fill="#e60"/>
<path class="ed2" d="M402.7 63.3l2.1-.4 2-.6 2.1.3 2.1 1 2 .4 2.1 0 2.1-.2 2 .8 2.1.7 2.1-.4 2-.5 2.1.7 2 1.1 2.1.2 2.1-.3 2 .1 2.1 1.3 2.1.3 2-1 2.1-.1 2.1 1.5 2 1.8 2.1-.4 2.1-.8 2 1 2.1.9 2.1-.5 2-.4 2.1.9 2 1.1 2.1.3 2.1-.4 2 .1 2.1 1.3 2.1 1.1 2-.5 2.1-.4 2.1.6 2 1.1 2.1.1"/>
<path d="M398.7 65.1l2.3.2 2.2-2.6-2.4-.3z" fill="#d90"/>
<path d="M400.8 65.1l2.4-.8 2.1-.7-2.4-1z" fill="#c90"/>
<path d="M402.8 64.1l2.5 0 2-.7-2.5 0z" fill="#b80"/>
<path d="M404.8 63.8l2.4 2 2.2-2.8-2.4.2z" fill="#fd0"/>
<path d="M406.9 65.6l2.4.7 2.1-3.3-2.3-.1z" fill="#d90"/>
<path d="M409 66.2l2.4-.6 2.1-1.5-2.4-1.2z" fill="#c90"/>
<path d="M411 65.3l2.7-.1 1.9.7-2.4-2.1z" fill="#fb0"/>
<path d="M413.1 65l2.4 1.7 2.1-.3-2.6-.7z" fill="#b80"/>
<path d="M415.2 66.3l2.4 1.1 2.1-1.5-2.6.2z" fill="#b80"/>
<path d="M417.2 67.2l2.7-.8 1.9 0-2.4-.7z" fill="#b80"/>
<path d="M419.3 66.5l2.5-.4 2 .9-2.5-.8z" fill="#b80"/>
<path d="M421.4 66.3l2.4 2 2.1-1.5-2.6-.1z" fill="#fb0"/>
<path d="M423.4 68l2.4 1.3 2.1-2.8-2.3 0z" fill="#ea0"/>
<path d="M425.5 69.1l2.4-.5 2.1-1.8-2.4-.5z" fill="#b80"/>
<path d="M427.6 68.3l2.5-.9 2 .9-2.4-1.7z" fill="#b80"/>
<path d="M429.6 67.5l2.4 1.8 2.2-1-2.6-.3z" fill="#b80"/>
<path d="M431.7 69l2.4 1.5 2.1-3.2-2.4.7z" fill="#d90"/>
<path d="M433.8 70.4l2.4-.7 2.1-2.1-2.4-.4z" fill="#b80"/>
<path d="M435.8 69.5l2.5-1.3 2.1.9-2.4-1.7z" fill="#b70"/>
<path d="M437.9 68.3l2.4 1.7 2.1 0-2.5-1.2z" fill="#b70"/>
<path d="M440 69.6l2.3 1.5 2.2-1.6-2.6.2z" fill="#ea0"/>
<path d="M442 70.9l2.4.1 2.1-2.1-2.4.3z" fill="#b70"/>
<path d="M444.1 70.8l2.4 0 2.1-1.1-2.4-1z" fill="#e80"/>
<path d="M446.1 70.5l2.4 1.3 2.2-1.4-2.4-1z" fill="#fa0"/>
<path d="M448.2 71.6l2.4 1.4 2.1-3.4-2.4.5z" fill="#d80"/>
<path d="M450.3 72.9l2.4.2 2-3.7-2.3.1z" fill="#b70"/>
<path d="M452.4 72.9l2.3-.5 2.2-1.9-2.4-1.2z" fill="#c70"/>
<path d="M454.4 72.2l2.5 0 2-.4-2.3-1.5z" fill="#f90"/>
<path d="M456.5 71.8l2.4 1.6 2.1-1.1-2.4-.8z" fill="#f80"/>
<path d="M458.5 73.2l2.4.7 2.2-1.5-2.4-.4z" fill="#f90"/>
<path d="M460.6 73.7l2.5-.1 2-.7-2.4-.7z" fill="#d70"/>
<path d="M462.7 73.3l2.4.8 2.1-.6-2.4-.8z" fill="#e80"/>
<path d="M464.7 73.8l2.4 1.3 2.2-1.6-2.5-.3z" fill="#f90"/>
<path d="M466.8 74.9l2.4.5 2.1-2.5-2.4.3z" fill="#c60"/>
<path d="M468.9 75.2l2.4-.3 2.1-1.6-2.4-.5z" fill="#c60"/>
<path d="M470.9 74.7l2.4.8 2.2-1.1-2.4-1.3z" fill="#f80"/>
<path d="M473 75.2l2.4 1.1 2.1-1.6-2.4-.6z" fill="#f90"/>
<path d="M475.1 76.1l2.4.2 2.1-1.7-2.4-.1z" fill="#c60"/>
<path d="M477.1 76.1l2.5-.1 2.1-1-2.4-.6z" fill="#c50"/>
<path d="M479.2 75.7l2.4.5 2.1-.3-2.4-1.2z" fill="#e60"/>
<path class="ed2" d="M400.8 62.7l2.1.2 2.1.7 2-.1 2.1-.3 2.1 0 2 .9 2.1 1.7 2 .5 2.1-.3 2.1.4 2 .5 2.1-.1 2.1-.2 2 .3 2.1 1.3 2.1.1 2-.8 2.1.2 2.1 1.3 2 .9 2.1-.4 2.1-.5 2 .7 2.1.7 2-.6 2.1-.2 2.1 1 2 1.2 2.1.5 2.1.2 2 .5 2.1.4 2.1.1 2-.4 2.1.3 2.1 1 2 .4 2.1-.1 2.1.3 2 .8"/>
<path d="M396.8 64.9l2.6 0 1.9.1-2.6-.1z" fill="#b80"/>
<path d="M398.8 65l2.5-1 2.1 0-2.5 1.3z" fill="#c90"/>
<path d="M400.9 64.3l2.4.7 2.1-1.2-2.5 0z" fill="#b80"/>
<path d="M403 64.7l2.4 1.6 2.1-.8-2.4-2z" fill="#fb0"/>
<path d="M405 66l2.4.9 2.2-.9-2.4-.8z" fill="#fb0"/>
<path d="M407.1 66.7l2.5-.2 2-1.3-2.6.7z" fill="#c90"/>
<path d="M409.2 66.3l2.4.6 2.1-1.9-2.4 0z" fill="#d90"/>
<path d="M411.2 66.6l2.4 1.4 2.2-1.7-2.4-1.5z" fill="#fb0"/>
<path d="M413.3 67.8l2.4.7 2.1-1.4-2.4-1z" fill="#fe0"/>
<path d="M415.4 68.3l2.5-.6 2-1.4-2.5.5z" fill="#c90"/>
<path d="M417.4 67.6l2.4.1 2.2-1.4-2.5-.1z" fill="#c80"/>
<path d="M419.5 67.4l2.4 1.4 2.1-.8-2.4-1.9z" fill="#fb0"/>
<path d="M421.6 68.5l2.4 1.1 2.1-.6-2.4-1.3z" fill="#fb0"/>
<path d="M423.6 69.4l2.4.4 2.1-1.6-2.6.6z" fill="#b80"/>
<path d="M425.7 69.6l2.4.5 2.1-2.6-2.4.5z" fill="#b80"/>
<path d="M427.8 69.9l2.3 1.3 2.2-2.3-2.4-1.6z" fill="#fa0"/>
<path d="M429.8 71l2.4.5 2.2-1.3-2.4-1.5z" fill="#fd0"/>
<path d="M431.9 71.3l2.5-1.5 2-.5-2.6.9z" fill="#d90"/>
<path d="M434 70.1l2.4.1 2.1-1.9-2.6.9z" fill="#c80"/>
<path d="M436 69.9l2.4 2 2.1-2.3-2.3-1.5z" fill="#f90"/>
<path d="M438.1 71.6l2.4.8 2.1-1.6-2.4-1.4z" fill="#fc0"/>
<path d="M440.2 72.2l2.6-1 1.9-.6-2.5-.1z" fill="#c80"/>
<path d="M442.2 71.2l2.4.6 2.1-1.4-2.4 0z" fill="#d80"/>
<path d="M444.3 71.5l2.4 1.8 2.1-1.8-2.4-1.3z" fill="#f90"/>
<path d="M446.3 73l2.4.8 2.2-1.1-2.4-1.5z" fill="#fc0"/>
<path d="M448.4 73.6l2.5-1.2 2 .3-2.5-.3z" fill="#b80"/>
<path d="M450.5 72.7l2.4.7 2.1-1.3-2.6.9z" fill="#b70"/>
<path d="M452.5 73.1l2.4 2.1 2.1-3.5-2.3.1z" fill="#f90"/>
<path d="M454.6 75.1l2.4.4 2.1-2.5-2.3-1.4z" fill="#e80"/>
<path d="M456.7 75.4l2.5-1.9 2 .1-2.4-.8z" fill="#c70"/>
<path d="M458.7 73.8l2.5.4 2.1-1-2.7.3z" fill="#b60"/>
<path d="M460.8 73.9l2.4 2.1 2.1-2.2-2.4-.8z" fill="#f80"/>
<path d="M462.9 75.8l2.3.9 2.2-1.9-2.4-1.3z" fill="#f90"/>
<path d="M464.9 76.5l2.5-.6 2.1-.9-2.4-.5z" fill="#b70"/>
<path d="M467 75.7l2.4.5 2.1-1.7-2.5.3z" fill="#c60"/>
<path d="M469.1 76l2.3 1.2 2.2-2.1-2.4-.8z" fill="#f90"/>
<path d="M471.1 77l2.4.1 2.2-1.1-2.4-1.1z" fill="#f80"/>
<path d="M473.2 76.9l2.6-.8 1.9-.1-2.4-.3z" fill="#b60"/>
<path d="M475.2 76.3l2.5.5 2.1-1.2-2.6.2z" fill="#b50"/>
<path d="M477.3 76.5l2.4 1.8 2.1-2.5-2.3-.4z" fill="#f70"/>
<path class="ed2" d="M399 64.9l2 .1 2.1-1 2-.2 2.1 1.7 2.1.5 2-.7 2.1-.2 2.1 1.3 2 .7 2.1-.6 2.1-.1 2 1.6 2.1 1 2.1-.7 2-.7 2.1 1.4 2.1 1.2 2-.8 2.1-1 2 1.3 2.1 1.1 2.1-.1 2-.2 2.1 1 2.1 1.2 2 .1 2.1-.7 2.1-.2 2 1.2 2.1.5 2.1-.3 2 .5 2.1 1 2.1.3 2-.5 2.1.6 2.1.8 2 0 2.1-.3 2.1.2"/>
<path d="M394.9 65.3l2.4.6 2.1-1-2.4-.3z" fill="#d90"/>
<path d="M397 65.6l2.4.9 2.1-2.3-2.4.5z" fill="#c90"/>
<path d="M399.1 66.3l2.3.4 2.2-2.1-2.4-.6z" fill="#ea0"/>
<path d="M401.1 66.5l2.4.4 2.1-.9-2.4-1.6z" fill="#fe0"/>
<path d="M403.2 66.6l2.4.7 2.1-.7-2.4-.9z" fill="#fb0"/>
<path d="M405.2 67.1l2.4.8 2.1-1.8-2.4.2z" fill="#d90"/>
<path d="M407.3 67.7l2.4.5 2.1-1.7-2.4-.6z" fill="#fb0"/>
<path d="M409.4 68l2.4.3 2.1-.5-2.4-1.5z" fill="#fc0"/>
<path d="M411.4 68l2.5.6 2.1-.4-2.5-.8z" fill="#b80"/>
<path d="M413.5 68.4l2.4.8 2.1-1.8-2.6.6z" fill="#b80"/>
<path d="M415.6 69l2.3.5 2.2-2.2-2.4-.1z" fill="#d90"/>
<path d="M417.6 69.3l2.4.4 2.2-1.2-2.4-1.4z" fill="#fd0"/>
<path d="M419.7 69.4l2.4.7 2.1-.8-2.4-1.1z" fill="#fb0"/>
<path d="M421.7 69.8l2.5.9 2.1-1.3-2.4-.4z" fill="#ea0"/>
<path d="M423.8 70.4l2.4.5 2.1-1.2-2.4-.5z" fill="#ea0"/>
<path d="M425.9 70.6l2.5.2 2 .2-2.4-1.5z" fill="#b80"/>
<path d="M427.9 70.5l2.7.2 1.9.5-2.6-.1z" fill="#b80"/>
<path d="M430 70.8l2.4.9 2.1-1.8-2.4 1.5z" fill="#b80"/>
<path d="M432.1 71.5l2.4.5 2.1-2.2-2.4-.1z" fill="#c80"/>
<path d="M434.1 71.8l2.5.3 2.1-.5-2.4-2z" fill="#fb0"/>
<path d="M436.2 71.7l2.5.7 2-.3-2.4-.8z" fill="#b80"/>
<path d="M438.3 72.1l2.4 1 2.1-2-2.6 1.1z" fill="#b80"/>
<path d="M440.3 72.9l2.4.7 2.2-2.2-2.4-.5z" fill="#f90"/>
<path d="M442.4 73.3l2.4.3 2.1-.6-2.4-1.8z" fill="#fc0"/>
<path d="M444.5 73.3l2.4.6 2.1-.4-2.4-.8z" fill="#b70"/>
<path d="M446.5 73.7l2.4.8 2.1-1.9-2.6.8z" fill="#b70"/>
<path d="M448.6 74.3l2.4.5 2.1-1.8-2.4-.6z" fill="#f90"/>
<path d="M450.7 74.5l2.4.4 2.1.1-2.4-2.2z" fill="#f90"/>
<path d="M452.7 74.6l2.7.5 1.9.1-2.7-.3z" fill="#b70"/>
<path d="M454.8 75l2.4.9 2.1-2.3-2.4 1.9z" fill="#b70"/>
<path d="M456.9 75.7l2.3.6 2.2-2.5-2.4-.3z" fill="#d70"/>
<path d="M458.9 76l2.4.2 2.2-.5-2.4-2.1z" fill="#fa0"/>
<path d="M461 75.9l2.5.4 2 .1-2.4-1z" fill="#b60"/>
<path d="M463 76.1l2.5 1 2.1-1.5-2.6 1z" fill="#b60"/>
<path d="M465.1 76.9l2.4.8 2.1-1.8-2.4-.5z" fill="#f90"/>
<path d="M467.2 77.4l2.4.3 2.1-.8-2.4-1.3z" fill="#f90"/>
<path d="M469.2 77.4l2.5.6 2.1-1.2-2.5-.2z" fill="#d70"/>
<path d="M471.3 77.7l2.4.9 2.1-2.5-2.4.4z" fill="#c60"/>
<path d="M473.4 78.4l2.4.6 2.1-2.7-2.4-.4z" fill="#d60"/>
<path d="M475.5 78.8l2.3.1 2.2-.9-2.4-1.8z" fill="#f80"/>
<path class="ed2" d="M397.1 64.9l2 0 2.1-.6 2.1.4 2 1.3 2.1.6 2.1-.4 2 .4 2.1 1.1 2.1.5 2-.7 2.1-.1 2.1 1.1 2 .8 2.1.2 2 .3 2.1 1.2 2.1.2 2-1.2 2.1-.1 2.1 1.7 2 .5 2.1-.9 2.1.3 2 1.5 2.1.5 2.1-.8 2 .4 2.1 1.8 2.1.3 2-1.4 2.1.1 2.1 1.8 2 .7 2.1-.7 2.1.2 2 1 2.1-.1 2-.6 2.1.3 2.1 1.5"/>
<path class="ed2" d="M395.2 65.3l2.1.3 2 .6 2.1.3 2.1.1 2 .5 2.1.5 2.1.3 2 .1 2.1.4 2 .5 2.1.3 2.1.2 2 .4 2.1.6 2.1.2 2 0 2.1.2 2.1.6 2 .3 2.1.1 2.1.3 2 .7 2.1.5 2.1 0 2 .4 2.1.5 2.1.3 2 .1 2.1.4 2.1.6 2 .4 2.1-.1 2 .2 2.1.7 2.1.6 2 0 2.1.3 2.1.6 2 .4 2.1-.1"/>
<text x="367.2" y="17" class="pl">c</text>
<text x="445.2" y="19.5" text-anchor="middle" class="tt">0.86 μM</text>
<text x="379.9" y="40.3" class="tm">×</text>
<text x="386.3" y="40.5" class="tk">10<tspan dy="-6.2" class="sup">-3</tspan></text>
<text transform="translate(376.6 67.3) rotate(-90)" text-anchor="middle" class="al">Abs</text>
<text transform="translate(396.6 133.6) rotate(9)" class="al">Wave no. [cm<tspan dy="-3.6" class="sup2">-1</tspan><tspan dy="3.6">]</tspan></text>
<text transform="translate(489.3 143.55) rotate(-27.5)" class="al">Spectrum no.</text>
</g>
<g>
<line x1="32.9" y1="231.62" x2="77.9" y2="207.72" stroke="#e4e4e4" stroke-width="0.6"/>
<line x1="77.9" y1="207.72" x2="160.5" y2="220.92" stroke="#e4e4e4" stroke-width="0.6"/>
<line x1="32.9" y1="249.07" x2="77.9" y2="225.17" stroke="#e4e4e4" stroke-width="0.6"/>
<line x1="77.9" y1="225.17" x2="160.5" y2="238.37" stroke="#e4e4e4" stroke-width="0.6"/>
<line x1="32.9" y1="266.52" x2="77.9" y2="242.62" stroke="#e4e4e4" stroke-width="0.6"/>
<line x1="77.9" y1="242.62" x2="160.5" y2="255.82" stroke="#e4e4e4" stroke-width="0.6"/>
<line x1="100.37" y1="253.19" x2="100.37" y2="193.86" stroke="#e4e4e4" stroke-width="0.6"/>
<line x1="55.37" y1="277.09" x2="100.37" y2="253.19" stroke="#e4e4e4" stroke-width="0.6"/>
<line x1="124.07" y1="256.98" x2="124.07" y2="197.65" stroke="#e4e4e4" stroke-width="0.6"/>
<line x1="79.07" y1="280.88" x2="124.07" y2="256.98" stroke="#e4e4e4" stroke-width="0.6"/>
<line x1="147.78" y1="260.77" x2="147.78" y2="201.44" stroke="#e4e4e4" stroke-width="0.6"/>
<line x1="102.78" y1="284.67" x2="147.78" y2="260.77" stroke="#e4e4e4" stroke-width="0.6"/>
<line x1="56.89" y1="260.76" x2="56.89" y2="201.43" stroke="#e4e4e4" stroke-width="0.6"/>
<line x1="56.89" y1="260.76" x2="139.49" y2="273.96" stroke="#e4e4e4" stroke-width="0.6"/>
<line x1="32.9" y1="273.5" x2="115.5" y2="286.7" stroke="#6e6e6e" stroke-width="0.8"/>
<line x1="115.5" y1="286.7" x2="160.5" y2="262.8" stroke="#6e6e6e" stroke-width="0.8"/>
<line x1="160.5" y1="262.8" x2="77.9" y2="249.6" stroke="#6e6e6e" stroke-width="0.8"/>
<line x1="77.9" y1="249.6" x2="32.9" y2="273.5" stroke="#6e6e6e" stroke-width="0.8"/>
<line x1="32.9" y1="273.5" x2="32.9" y2="214.17" stroke="#6e6e6e" stroke-width="0.8"/>
<line x1="77.9" y1="249.6" x2="77.9" y2="190.27" stroke="#6e6e6e" stroke-width="0.8"/>
<line x1="160.5" y1="262.8" x2="160.5" y2="203.47" stroke="#6e6e6e" stroke-width="0.8"/>
<line x1="32.9" y1="214.17" x2="77.9" y2="190.27" stroke="#6e6e6e" stroke-width="0.8"/>
<line x1="77.9" y1="190.27" x2="160.5" y2="203.47" stroke="#6e6e6e" stroke-width="0.8"/>
<line x1="55.37" y1="277.09" x2="56.94" y2="276.25" stroke="#6e6e6e" stroke-width="0.8"/>
<text x="49.57" y="288.79" text-anchor="middle" class="tk">1400</text>
<line x1="79.07" y1="280.88" x2="80.65" y2="280.04" stroke="#6e6e6e" stroke-width="0.8"/>
<text x="73.27" y="292.58" text-anchor="middle" class="tk">1300</text>
<line x1="102.78" y1="284.67" x2="104.35" y2="283.83" stroke="#6e6e6e" stroke-width="0.8"/>
<text x="96.98" y="296.37" text-anchor="middle" class="tk">1200</text>
<line x1="115.5" y1="286.7" x2="113.85" y2="286.44" stroke="#6e6e6e" stroke-width="0.8"/>
<text x="121.3" y="296.2" text-anchor="middle" class="tk">0</text>
<line x1="139.49" y1="273.96" x2="137.83" y2="273.7" stroke="#6e6e6e" stroke-width="0.8"/>
<text x="147.49" y="284.96" text-anchor="middle" class="tk">50</text>
<line x1="32.9" y1="214.17" x2="31.08" y2="213.88" stroke="#6e6e6e" stroke-width="0.8"/>
<text x="29.3" y="218.77" text-anchor="end" class="tk">5</text>
<line x1="32.9" y1="231.62" x2="31.08" y2="231.33" stroke="#6e6e6e" stroke-width="0.8"/>
<text x="29.3" y="236.22" text-anchor="end" class="tk">0</text>
<line x1="32.9" y1="249.07" x2="31.08" y2="248.78" stroke="#6e6e6e" stroke-width="0.8"/>
<text x="29.3" y="253.67" text-anchor="end" class="tk">-5</text>
<line x1="32.9" y1="266.52" x2="31.08" y2="266.23" stroke="#6e6e6e" stroke-width="0.8"/>
<text x="29.3" y="271.12" text-anchor="end" class="tk">-10</text>
<path d="M75.3 227.5l1.8-9.5 2.6-.6-1.8 9.7z" fill="#2cb"/>
<path d="M76.9 218.4l1.8-2.4 2.9-.8-1.8 2.7z" fill="#b80"/>
<path d="M78.6 216.3l1.7-1.3 3-1.1-1.7 1.7z" fill="#a70"/>
<path d="M80.3 215.2l1.8-.3 3-1.5-1.8.4z" fill="#c90"/>
<path d="M82 214.8l1.8 0 3-1.6-1.8.1z" fill="#d90"/>
<path d="M83.7 214.7l1.8-.2 3-1.6-1.8.2z" fill="#b80"/>
<path d="M85.4 214.4l1.8-.5 3-1.2-1.8 0z" fill="#b80"/>
<path d="M87.2 213.8l1.7-.3 3.1-.6-1.8-.3z" fill="#b80"/>
<path d="M88.9 213.4l1.8.3 3-.7-1.8-.2z" fill="#c90"/>
<path d="M90.6 213.5l1.8.5 3-1.2-1.8 0z" fill="#c90"/>
<path d="M92.3 213.8l1.9.6 2.9-1.9-1.8.1z" fill="#da0"/>
<path d="M94 214.2l1.9.5 2.9-2.3-1.8-.1z" fill="#fb0"/>
<path d="M95.8 214.6l1.9.1 2.9-2.1-1.9-.3z" fill="#ea0"/>
<path d="M97.5 214.6l1.8-.4 3-1.4-1.9-.3z" fill="#a80"/>
<path d="M99.2 214l1.7-.8 3.1-.5-1.8 0z" fill="#a70"/>
<path d="M100.9 213.3l1.7-.2 3.1-.4-1.7-.1z" fill="#970"/>
<path d="M102.6 213l1.8.5 3.1-.7-1.8-.2z" fill="#960"/>
<path d="M104.4 213.3l1.8.5 3-1.2-1.8 0z" fill="#b80"/>
<path d="M106.1 213.6l1.9.5 2.9-2-1.8.3z" fill="#b80"/>
<path d="M107.8 213.9l1.9.7 2.9-2.4-1.9-.2z" fill="#fb0"/>
<path d="M109.5 214.4l1.9.5 2.9-2.3-1.9-.5z" fill="#fb0"/>
<path d="M111.3 214.8l1.8.2 2.9-2.4-1.9-.2z" fill="#d80"/>
<path d="M113 214.8l1.9.2 2.8-2.6-1.8.1z" fill="#c70"/>
<path d="M114.7 214.9l1.9.4 2.9-3-1.9-.1z" fill="#d70"/>
<path d="M116.4 215.1l1.9-.1 2.9-2.3-1.9-.5z" fill="#c60"/>
<path d="M118.1 214.8l1.9-.1 2.9-1.6-1.9-.5z" fill="#b50"/>
<path d="M119.8 214.5l1.9.7 2.9-2.1-1.8-.2z" fill="#d60"/>
<path d="M121.6 215l1.9.9 2.9-2.7-1.9-.2z" fill="#f60"/>
<path d="M123.3 215.7l1.9.9 2.9-2.4-1.9-1.2z" fill="#f80"/>
<path d="M125 216.4l1.9 1 2.9-1.6-1.9-1.8z" fill="#fa0"/>
<path d="M126.7 217.1l2 1.7 2.8-1.4-1.9-1.9z" fill="#fb0"/>
<path d="M128.5 218.5l1.9 2.5 2.9-1.8-2-2.1z" fill="#fb0"/>
<path d="M130.2 220.7l1.9 1.5 2.9-2.3-1.9-1z" fill="#fd0"/>
<path d="M131.9 222l1.9 1.1 2.9-2.8-1.9-.7z" fill="#fd0"/>
<path d="M133.6 222.9l1.9.4 2.9-2.6-1.9-.5z" fill="#eb0"/>
<path d="M135.4 223.2l1.8-.3 2.9-2.4-1.9 0z" fill="#eb0"/>
<path d="M137.1 222.8l1.8-.4 2.9-2.6-1.8.6z" fill="#eb0"/>
<path d="M138.8 222.3l1.9-.6 2.8-2.6-1.8.6z" fill="#eb0"/>
<path d="M140.5 221.6l1.8-.8 3-2-1.9.2z" fill="#ea0"/>
<path d="M142.2 220.7l1.7-1.1 3.1-.9-1.8 0z" fill="#ea0"/>
<path d="M143.9 219.6l1.8-.3 3-.8-1.7.2z" fill="#e90"/>
<path d="M145.7 219.3l1.7-.1 3.1-1.3-1.8.6z" fill="#e80"/>
<path d="M147.4 219.1l1.7-.7 3.1-1.3-1.8.7z" fill="#e70"/>
<path d="M149.1 218.4l1.7-.7 3.1-1.4-1.7.8z" fill="#e50"/>
<path d="M150.8 217.7l1.9-.3 2.9-2.1-1.7.9z" fill="#e20"/>
<path d="M152.6 217.3l1.8-.1 2.9-2.4-1.8.4z" fill="#e10"/>
<path d="M154.3 217.1l1.9 0 2.9-2.2-1.9-.2z" fill="#e00"/>
<path d="M156 216.9l1.9.7 2.9-1.9-1.9-1z" fill="#f00"/>
<path class="ed" d="M77.9 226.8l1.7-9.2 1.7-2.2 1.8-1.4 1.7-.5 1.7-.2 1.7-.3 1.7-.2 1.8.1 1.7.1 1.7-.2 1.7-.2 1.8-.1 1.7.3 1.7.1 1.7-.2 1.7 0 1.8.1 1.7-.2 1.7-.4 1.7.1 1.7.4 1.8.1 1.7-.3 1.7 0 1.7.3 1.7.4 1.8 0 1.7.1 1.7 1 1.7 1.5 1.7 1.6 1.8 1.8 1.7.7 1.7.6 1.7.3 1.7-.1 1.8-.7 1.7-.7 1.7-.3 1.7-.2 1.8-.2 1.7-.7 1.7-.7 1.7-.8 1.7-.9 1.8-.6 1.7.1 1.7.8"/>
<path d="M72.8 227.4l1.8-9 2.6-.4-1.8 9.5z" fill="#2ca"/>
<path d="M74.4 218.8l1.7-1.8 3-.9-1.8 2.4z" fill="#a80"/>
<path d="M76.1 217.3l1.7-.6 3-1.8-1.7 1.3z" fill="#a80"/>
<path d="M77.8 216.7l1.8-.5 3-1.6-1.9.2z" fill="#c90"/>
<path d="M79.5 216.1l1.8-.4 3-1.2-1.8-.1z" fill="#b80"/>
<path d="M81.2 215.6l1.9.3 2.9-1.8-1.8.2z" fill="#da0"/>
<path d="M82.9 215.7l1.9.5 2.9-2.6-1.8.4z" fill="#da0"/>
<path d="M84.7 216.1l1.9-.3 2.8-2.6-1.8.2z" fill="#c90"/>
<path d="M86.4 215.7l1.8-.7 3-1.6-1.9-.3z" fill="#b80"/>
<path d="M88.1 214.9l1.8.1 3-1.3-1.9-.5z" fill="#ea0"/>
<path d="M89.8 214.8l1.9.5 2.9-1.2-1.8-.6z" fill="#fb0"/>
<path d="M91.5 215.1l1.8-.2 3-.5-1.8-.5z" fill="#970"/>
<path d="M93.3 214.8l1.7.1 3.1-.5-1.8-.1z" fill="#970"/>
<path d="M95 214.8l1.8.6 3-1.5-1.7.5z" fill="#970"/>
<path d="M96.7 215.2l1.9.1 2.9-2.2-1.8.6z" fill="#a70"/>
<path d="M98.4 215.1l1.9 0 2.9-2.2-1.9 0z" fill="#b80"/>
<path d="M100.2 215l1.8-.1 2.9-1.7-1.9-.5z" fill="#d90"/>
<path d="M101.9 214.8l1.8 0 3-1.3-1.9-.5z" fill="#d80"/>
<path d="M103.6 214.7l1.8.1 3-1.1-1.9-.4z" fill="#c70"/>
<path d="M105.3 214.6l1.8 0 3-.3-1.8-.7z" fill="#c70"/>
<path d="M107 214.5l1.8.5 3-.3-1.7-.6z" fill="#950"/>
<path d="M108.7 214.9l1.8.5 3.1-.8-1.8-.1z" fill="#950"/>
<path d="M110.5 215.2l1.7.3 3.1-.8-1.8-.2z" fill="#950"/>
<path d="M112.2 215.3l1.8.5 3-.8-1.8-.4z" fill="#950"/>
<path d="M113.9 215.6l1.8.5 3-1.5-1.8.2z" fill="#950"/>
<path d="M115.6 215.9l1.9.4 2.9-2-1.8.2z" fill="#b50"/>
<path d="M117.4 216.1l1.9.9 2.9-2.2-2-.6z" fill="#f90"/>
<path d="M119.1 216.8l1.9.7 2.9-2-1.9-.9z" fill="#f90"/>
<path d="M120.8 217.3l1.9.7 2.9-1.7-1.9-1z" fill="#f80"/>
<path d="M122.5 217.8l1.9 1.1 2.9-1.9-1.9-1z" fill="#fa0"/>
<path d="M124.2 218.6l2 1.8 2.8-1.9-1.9-1.7z" fill="#fc0"/>
<path d="M125.9 220l2 2.1 2.9-1.3-2-2.5z" fill="#fa0"/>
<path d="M127.7 221.9l1.9 1 2.9-1-1.9-1.5z" fill="#fb0"/>
<path d="M129.4 222.6l1.8.6 3-.4-1.9-1.2z" fill="#da0"/>
<path d="M131.1 223l1.8.5 3-.5-1.7-.3z" fill="#eb0"/>
<path d="M132.8 223.4l1.8.1 3-.9-1.7.4z" fill="#eb0"/>
<path d="M134.6 223.4l1.7-.2 3.1-1.2-1.8.5z" fill="#eb0"/>
<path d="M136.3 223.1l1.7-.5 3.1-1.2-1.8.6z" fill="#eb0"/>
<path d="M138 222.6l1.8-.5 3-1.7-1.7 1z" fill="#ea0"/>
<path d="M139.7 222.1l1.9-.3 2.9-2.4-1.8.9z" fill="#ea0"/>
<path d="M141.5 221.7l1.8-.4 2.9-2.2-1.8.2z" fill="#e90"/>
<path d="M143.2 221.2l1.8-.6 3-1.7-1.9 0z" fill="#e80"/>
<path d="M144.9 220.5l1.8-.6 3-1.7-1.8.6z" fill="#e70"/>
<path d="M146.6 219.9l1.8-.4 3-2.1-1.8.7z" fill="#e40"/>
<path d="M148.3 219.4l1.9-.3 2.9-2-1.8.2z" fill="#e30"/>
<path d="M150.1 218.9l1.8.2 2.9-2.3-1.8.1z" fill="#e10"/>
<path d="M151.8 218.9l1.9.6 2.8-2.8-1.8 0z" fill="#e10"/>
<path d="M153.5 219.3l1.9.8 2.9-2.9-1.9-.7z" fill="#f10"/>
<path class="ed" d="M75.4 227.2l1.7-8.9 1.7-2.1 1.8-1.1 1.7-.4 1.7-.2 1.7-.3 1.7-.5 1.8-.3 1.7.1 1.7.2 1.7.4 1.7.4 1.8 0 1.7-.6 1.7-.7 1.7-.2 1.8.3 1.7.3 1.7.2 1.7.5 1.7.4 1.8 0 1.7.1 1.7.2 1.7-.3 1.7-.3 1.8.5 1.7.7 1.7.7 1.7.8 1.7 1.5 1.8 2.1 1.7 1.2 1.7.9 1.7.2 1.8-.4 1.7-.5 1.7-.6 1.7-1 1.7-1 1.8-.3 1.7-.2 1.7-.7 1.7-.7 1.7-.4 1.8-.2 1.7-.2 1.7.5"/>
<path d="M70.3 228.3l1.8-8.7 2.6-1.2-1.8 9z" fill="#3c9"/>
<path d="M71.9 220.1l1.8-2.6 2.9-.4-1.7 1.7z" fill="#a80"/>
<path d="M73.6 217.8l1.8-1.6 3 .3-1.8.9z" fill="#a70"/>
<path d="M75.3 216.4l1.7-.3 3.1-.1-1.8.7z" fill="#970"/>
<path d="M77 216.2l1.8.6 3-1.3-1.7.5z" fill="#c90"/>
<path d="M78.7 216.7l1.8.1 3-1.2-1.8-.3z" fill="#ea0"/>
<path d="M80.4 216.6l1.8-.8 3 .1-1.8-.5z" fill="#970"/>
<path d="M82.1 215.9l1.8-.6 3.1.3-1.8.5z" fill="#a70"/>
<path d="M83.9 215.5l1.7.2 3.1-1-1.8 1z" fill="#970"/>
<path d="M85.6 215.6l1.9.5 2.9-1.4-1.8-.1z" fill="#ea0"/>
<path d="M87.3 216l1.9.2 2.9-1.2-1.8-.5z" fill="#da0"/>
<path d="M89 216l1.8 0 3-1.3-1.8.1z" fill="#970"/>
<path d="M90.8 215.9l1.8-.1 3-1.1-1.9-.2z" fill="#b80"/>
<path d="M92.5 215.7l1.8.2 3-.8-1.8-.5z" fill="#c80"/>
<path d="M94.2 215.7l1.8.6 3-1.3-1.8-.1z" fill="#b80"/>
<path d="M95.9 216.1l1.9.3 2.9-1.7-1.8.1z" fill="#b80"/>
<path d="M97.6 216.2l1.9 0 2.9-1.6-1.8 0z" fill="#b70"/>
<path d="M99.4 216l1.8.2 3-1.7-1.9-.1z" fill="#c70"/>
<path d="M101.1 216l1.9.2 2.9-1.7-1.9-.2z" fill="#c70"/>
<path d="M102.8 216.1l1.9.1 2.9-1.8-1.9-.1z" fill="#c70"/>
<path d="M104.5 216l1.9.2 2.9-1.4-1.9-.6z" fill="#e70"/>
<path d="M106.2 216l1.9.4 3-1.3-1.9-.5z" fill="#e70"/>
<path d="M108 216.2l1.9.8 2.9-1.8-1.9-.3z" fill="#f70"/>
<path d="M109.7 216.8l1.9.6 2.9-1.9-1.9-.5z" fill="#f80"/>
<path d="M111.4 217.2l1.9.7 2.9-2.2-1.9-.4z" fill="#f90"/>
<path d="M113.1 217.7l2 .9 2.8-2.7-1.9-.4z" fill="#f90"/>
<path d="M114.9 218.4l1.9.2 2.8-2-1.9-.8z" fill="#f80"/>
<path d="M116.6 218.5l1.8 0 3-1.3-1.9-.8z" fill="#c70"/>
<path d="M118.3 218.3l1.9.6 2.9-1.2-1.9-.7z" fill="#b60"/>
<path d="M120 218.6l1.9 1.3 2.9-1.3-1.9-1.2z" fill="#f80"/>
<path d="M121.7 219.6l2 2.1 2.8-1.6-1.9-1.8z" fill="#fa0"/>
<path d="M123.4 221.4l2 2.2 2.9-1.7-2-2.1z" fill="#fb0"/>
<path d="M125.2 223.4l1.9.7 2.9-1.6-1.9-.9z" fill="#fd0"/>
<path d="M126.9 223.9l1.9.4 2.9-1.3-1.9-.7z" fill="#da0"/>
<path d="M128.6 224.1l1.9.3 2.9-1.1-1.8-.5z" fill="#eb0"/>
<path d="M130.3 224.3l1.8.1 3-1.1-1.8-.2z" fill="#eb0"/>
<path d="M132.1 224.3l1.8-.1 3-1.2-1.8.1z" fill="#eb0"/>
<path d="M133.8 224.1l1.8-.4 3-1.4-1.8.6z" fill="#eb0"/>
<path d="M135.5 223.7l1.8-.5 3-1.4-1.8.5z" fill="#ea0"/>
<path d="M137.2 223.2l1.8-.6 3-1.2-1.8.3z" fill="#ea0"/>
<path d="M139 222.6l1.7-.6 3-1-1.7.4z" fill="#ea0"/>
<path d="M140.7 222l1.7-.7 3.1-1-1.8.7z" fill="#e80"/>
<path d="M142.4 221.4l1.7-.6 3.1-1.2-1.7.7z" fill="#e60"/>
<path d="M144.1 220.8l1.8-.4 3-1.3-1.7.5z" fill="#e40"/>
<path d="M145.8 220.3l1.9.1 2.9-1.7-1.8.3z" fill="#e20"/>
<path d="M147.6 220.3l1.8.2 2.9-1.8-1.8-.1z" fill="#e20"/>
<path d="M149.3 220.3l1.8.4 3-1.6-1.9-.6z" fill="#e10"/>
<path d="M151 220.5l1.9.8 2.9-1.5-1.9-.9z" fill="#f10"/>
<path class="ed" d="M72.9 227.1l1.7-8.5 1.7-1.4 1.8-.7 1.7-.5 1.7-.5 1.7.1 1.7.3 1.8-.3 1.7-.8 1.7 0 1.7.2 1.8-.3 1.7.1 1.7.3 1.7-.1 1.7-.2 1.8-.1 1.7-.1 1.7 0 1.7-.1 1.7.4 1.8.3 1.7.1 1.7.3 1.7.2 1.7.2 1.8.7 1.7.5 1.7.5 1.7.9 1.7 1.5 1.8 1.7 1.7.8 1.7.4 1.7.3 1.7 0 1.8-.3 1.7-.6 1.7-.5 1.7-.4 1.8-.4 1.7-.7 1.7-.7 1.7-.5 1.7-.4 1.8 0 1.7.4 1.7.6"/>
<path d="M67.8 228.4l1.8-8 2.7-.8-1.9 8.7z" fill="#4c9"/>
<path d="M69.4 220.8l1.7-1.7 3-1.5-1.8 2.5z" fill="#a80"/>
<path d="M71.1 219.4l1.8-.6 2.9-2.6-1.7 1.4z" fill="#a70"/>
<path d="M72.8 218.7l1.9 0 2.8-2.6-1.8 0z" fill="#ea0"/>
<path d="M74.5 218.5l1.9.6 2.9-2.6-1.9-.6z" fill="#fc0"/>
<path d="M76.2 219l1.9.1 2.9-2.7-1.9-.1z" fill="#ea0"/>
<path d="M78 218.9l1.8-.7 2.9-2.5-1.8.6z" fill="#a70"/>
<path d="M79.7 218.1l1.8-.5 2.9-2.3-1.8.3z" fill="#a80"/>
<path d="M81.4 217.5l1.9.1 2.9-2.1-1.9-.3z" fill="#ea0"/>
<path d="M83.1 217.4l1.9.5 2.9-2.1-1.9-.5z" fill="#fd0"/>
<path d="M84.8 217.7l1.9.4 2.9-2.3-1.9-.2z" fill="#fb0"/>
<path d="M86.6 217.9l1.8 0 2.9-2.2-1.8 0z" fill="#b80"/>
<path d="M88.3 217.7l1.8 0 2.9-2.2-1.8.1z" fill="#b80"/>
<path d="M90 217.6l1.9.2 2.9-2.2-1.9-.3z" fill="#c90"/>
<path d="M91.7 217.6l1.9.5 2.9-2.2-1.9-.5z" fill="#fc0"/>
<path d="M93.4 217.9l1.9.4 2.9-2.3-1.9-.3z" fill="#ea0"/>
<path d="M95.2 218.2l1.8-.1 2.9-2.3-1.8 0z" fill="#b80"/>
<path d="M96.9 218l1.8-.1 3-2.1-1.9-.2z" fill="#c80"/>
<path d="M98.6 217.7l1.9.4 2.9-2.2-1.9-.2z" fill="#f90"/>
<path d="M100.3 217.9l1.9.7 2.9-2.8-1.9-.1z" fill="#f90"/>
<path d="M102.1 218.4l1.8.3 2.9-2.9-1.9-.2z" fill="#d80"/>
<path d="M103.8 218.6l1.9-.1 2.8-2.5-1.9-.4z" fill="#d70"/>
<path d="M105.5 218.4l1.9.2 2.9-2-1.9-.7z" fill="#f80"/>
<path d="M107.2 218.4l1.9.2 2.9-1.6-1.9-.6z" fill="#e80"/>
<path d="M108.9 218.4l1.8.1 3-.9-1.9-.8z" fill="#c60"/>
<path d="M110.6 218.3l1.8.3 3-.3-1.8-.9z" fill="#950"/>
<path d="M112.3 218.4l1.9.7 3-.8-1.8-.1z" fill="#950"/>
<path d="M114.1 219l1.8.7 3-1.5-1.8-.1z" fill="#950"/>
<path d="M115.8 219.5l1.9.9 2.9-1.8-1.9-.6z" fill="#e70"/>
<path d="M117.5 220.2l1.9 1.5 2.9-2.1-1.9-1.3z" fill="#fa0"/>
<path d="M119.2 221.4l2 1.7 2.8-1.7-1.9-2z" fill="#fa0"/>
<path d="M120.9 222.8l2 2 2.9-1.4-2-2.3z" fill="#fb0"/>
<path d="M122.7 224.6l1.9 1 2.9-1.8-1.9-.7z" fill="#fd0"/>
<path d="M124.4 225.5l1.9.4 2.9-1.9-1.9-.4z" fill="#c90"/>
<path d="M126.1 225.7l1.9.1 2.9-1.7-1.9-.3z" fill="#eb0"/>
<path d="M127.8 225.6l1.9.2 2.9-1.7-1.8-.2z" fill="#eb0"/>
<path d="M129.6 225.7l1.8-.1 3-1.7-1.9 0z" fill="#eb0"/>
<path d="M131.3 225.4l1.7-.6 3.1-1.3-1.8.3z" fill="#ea0"/>
<path d="M133 224.7l1.8-.4 3-1.3-1.8.4z" fill="#ea0"/>
<path d="M134.7 224.2l1.8-.2 3-1.7-1.7.6z" fill="#ea0"/>
<path d="M136.5 223.9l1.8-.1 2.9-2.1-1.8.5z" fill="#e90"/>
<path d="M138.2 223.7l1.9.2 2.8-2.8-1.8.5z" fill="#e80"/>
<path d="M139.9 223.8l1.9-.1 2.8-3.2-1.8.5z" fill="#e70"/>
<path d="M141.7 223.6l1.8-.7 2.9-2.9-1.9.4z" fill="#e50"/>
<path d="M143.4 222.8l1.8-.7 2.9-2.1-1.9-.1z" fill="#e30"/>
<path d="M145.1 222l1.8-.3 2.9-1.5-1.8-.3z" fill="#e20"/>
<path d="M146.8 221.5l1.8.1 3-1.2-1.9-.4z" fill="#e10"/>
<path d="M148.5 221.4l1.9.8 2.9-1.2-1.9-.8z" fill="#e10"/>
<path class="ed" d="M70.4 228l1.7-8.1 1.7-2.2 1.8-1.3 1.7-.2 1.7.4 1.7-.1 1.7-.6 1.8-.5 1.7.2 1.7.3 1.7.1 1.7-.2 1.8-.2 1.7.1 1.7.3 1.7.1 1.8-.2 1.7 0 1.7.1 1.7-.1 1.7 0 1.8.3 1.7.5 1.7.4 1.7.5 1.7.7 1.8.1 1.7-.2 1.7.4 1.7 1.1 1.7 1.7 1.8 1.9 1.7.6 1.7.2 1.7.1 1.8 0 1.7-.2 1.7-.4 1.7-.5 1.7-.6 1.8-.6 1.7-.6 1.7-.6 1.7-.5 1.7 0 1.8.1 1.7.2 1.7.5"/>
<path d="M65.2 228.4l1.9-7 2.7-1-1.9 8z" fill="#5c8"/>
<path d="M66.9 221.9l1.6-1.2 3.1-1.6-1.7 1.7z" fill="#970"/>
<path d="M68.6 220.8l1.7-.7 3-1.7-1.7.6z" fill="#b80"/>
<path d="M70.3 220l1.8-.3 3-1.4-1.9 0z" fill="#c90"/>
<path d="M72 219.5l1.8.3 3-1-1.9-.7z" fill="#fb0"/>
<path d="M73.7 219.6l1.8.3 3-1.2-1.8-.1z" fill="#da0"/>
<path d="M75.4 219.8l1.8-.3 3-1.6-1.7.8z" fill="#970"/>
<path d="M77.2 219.4l1.7-.5 3-1.6-1.7.5z" fill="#970"/>
<path d="M78.9 218.8l1.8 0 3-1.6-1.9-.1z" fill="#c90"/>
<path d="M80.6 218.6l1.9.6 2.9-1.7-1.9-.5z" fill="#fd0"/>
<path d="M82.3 219l1.8-.1 3-1.2-1.8-.4z" fill="#b80"/>
<path d="M84 218.8l1.8-.7 3-.5-1.7 0z" fill="#a70"/>
<path d="M85.8 218.1l1.7-.3 3.1-.4-1.8.1z" fill="#970"/>
<path d="M87.5 217.8l1.8.4 3-.8-1.8-.1z" fill="#960"/>
<path d="M89.2 218l1.8.7 3-.9-1.8-.6z" fill="#c90"/>
<path d="M90.9 218.5l1.8.4 3-.9-1.8-.4z" fill="#c80"/>
<path d="M92.6 218.7l1.9.6 2.9-1.5-1.7.1z" fill="#c80"/>
<path d="M94.4 219.1l1.9.6 2.9-2.2-1.9.1z" fill="#d90"/>
<path d="M96.1 219.5l1.9.2 2.9-2-1.9-.4z" fill="#fa0"/>
<path d="M97.8 219.6l1.9 0 2.9-1.4-1.9-.7z" fill="#e90"/>
<path d="M99.5 219.4l1.9.3 2.9-1.3-1.8-.4z" fill="#c80"/>
<path d="M101.2 219.5l2 .8 2.8-2.2-1.8.1z" fill="#f90"/>
<path d="M103 220.2l1.9.3 2.9-2.3-1.9-.2z" fill="#d80"/>
<path d="M104.7 220.4l1.8-.3 3-1.8-1.9-.3z" fill="#b60"/>
<path d="M106.4 219.9l1.9.1 2.9-1.8-1.9-.1z" fill="#b60"/>
<path d="M108.1 219.8l1.9.5 2.9-2-1.9-.3z" fill="#d60"/>
<path d="M109.9 220.1l1.9.7 2.9-1.9-2-.8z" fill="#f80"/>
<path d="M111.6 220.5l1.9.7 2.9-1.9-1.9-.7z" fill="#f80"/>
<path d="M113.3 221l1.9 1.1 2.9-2-1.9-1z" fill="#fa0"/>
<path d="M115 221.8l1.9 1.4 2.9-1.8-1.9-1.5z" fill="#fa0"/>
<path d="M116.7 222.9l2 1.5 2.8-1.6-1.9-1.7z" fill="#fc0"/>
<path d="M118.4 224.1l2 1.7 2.9-1.2-2-2z" fill="#fb0"/>
<path d="M120.2 225.5l1.8.7 3-.8-1.9-1.1z" fill="#ea0"/>
<path d="M121.9 226l1.8.4 3-.8-1.8-.5z" fill="#970"/>
<path d="M123.6 226.2l1.8.1 3-.8-1.7-.1z" fill="#eb0"/>
<path d="M125.3 226.2l1.9.4 2.9-1.1-1.8-.2z" fill="#eb0"/>
<path d="M127.1 226.4l1.8.5 3-1.7-1.8.1z" fill="#eb0"/>
<path d="M128.8 226.8l1.9.2 2.9-2.5-1.8.6z" fill="#ea0"/>
<path d="M130.5 226.9l1.9-.2 2.9-2.7-1.9.3z" fill="#ea0"/>
<path d="M132.3 226.6l1.8-.1 2.9-2.9-1.9.3z" fill="#ea0"/>
<path d="M134 226.4l1.9-.1 2.8-2.9-1.9.1z" fill="#ea0"/>
<path d="M135.7 226.2l1.9-.3 2.8-2.4-1.9-.3z" fill="#e90"/>
<path d="M137.4 225.7l1.8-.5 3-1.9-1.9.1z" fill="#e90"/>
<path d="M139.1 225.1l1.9-.2 2.9-2.4-1.8.7z" fill="#e70"/>
<path d="M140.9 224.8l1.8-.2 2.9-2.9-1.8.7z" fill="#e50"/>
<path d="M142.6 224.5l1.8-.6 2.9-2.6-1.8.3z" fill="#e30"/>
<path d="M144.3 223.7l1.9.1 2.8-2.6-1.8 0z" fill="#e20"/>
<path d="M146 223.7l1.9.9 2.9-2.8-1.9-.7z" fill="#f20"/>
<path class="ed" d="M67.9 228.1l1.7-7.4 1.7-1.5 1.8-.6 1.7-.2 1.7.4 1.7 0 1.7-.8 1.8-.6 1.7-.1 1.7.3 1.7.2 1.7-.2 1.8-.1 1.7 0 1.7.3 1.7.3 1.8-.3 1.7-.2 1.7.2 1.7.5 1.7.1 1.8-.2 1.7.1 1.7.1 1.7-.1 1.7.1 1.8.5 1.7.5 1.7.8 1.7 1.2 1.7 1.4 1.8 1.7 1.7.9 1.7.2 1.7-.1 1.7.1 1.8-.3 1.7-.7 1.7-.5 1.7-.4 1.8-.2 1.7.2 1.7-.3 1.7-.8 1.7-.7 1.8-.4 1.7-.2 1.7.6"/>
<path d="M62.7 228.9l1.9-6.7 2.7-.7-1.9 6.9z" fill="#5c7"/>
<path d="M64.4 222.6l1.8-1.9 2.9-.2-1.7 1.4z" fill="#a70"/>
<path d="M66.1 221l1.7-1.2 3.1 0-1.8 1z" fill="#a70"/>
<path d="M67.8 220l1.7-.2 3.1-.4-1.7.5z" fill="#970"/>
<path d="M69.5 219.8l1.7.1 3.1-.4-1.7-.1z" fill="#970"/>
<path d="M71.2 219.8l1.7.1 3.1-.3-1.7-.2z" fill="#970"/>
<path d="M72.9 219.8l1.8.2 3-.8-1.7.5z" fill="#970"/>
<path d="M74.7 219.9l1.8.3 2.9-1.6-1.7.5z" fill="#b80"/>
<path d="M76.4 220.1l1.8.1 3-1.7-1.9-.1z" fill="#c80"/>
<path d="M78.1 220l1.8-.4 3-.7-1.9-.6z" fill="#b80"/>
<path d="M79.8 219.5l1.8-.1 3-.8-1.7.2z" fill="#970"/>
<path d="M81.5 219.3l1.9.5 2.9-1.9-1.7.6z" fill="#970"/>
<path d="M83.3 219.7l1.9.7 2.8-2.8-1.8.2z" fill="#d90"/>
<path d="M85 220.2l1.9.6 2.9-2.9-1.9-.4z" fill="#fa0"/>
<path d="M86.7 220.6l1.9.1 2.9-2.4-1.9-.6z" fill="#ea0"/>
<path d="M88.4 220.6l1.9 0 2.9-2-1.9-.5z" fill="#d90"/>
<path d="M90.1 220.4l1.9.3 2.9-1.7-1.9-.6z" fill="#fb0"/>
<path d="M91.9 220.5l1.8.5 3-1.7-1.9-.5z" fill="#fc0"/>
<path d="M93.6 220.8l1.9.6 2.9-2-1.9-.3z" fill="#fb0"/>
<path d="M95.3 221.2l1.9.3 2.9-2.3-1.9 0z" fill="#c80"/>
<path d="M97 221.3l1.9-.2 2.9-1.8-1.9-.2z" fill="#b70"/>
<path d="M98.7 220.9l1.9 0 3-.9-1.9-.9z" fill="#d80"/>
<path d="M100.5 220.6l1.8.8 3-1.2-1.9-.4z" fill="#d80"/>
<path d="M102.2 221.2l1.9.9 2.9-2.4-1.8.3z" fill="#c70"/>
<path d="M103.9 221.9l1.9.3 2.9-2.6-1.9 0z" fill="#c70"/>
<path d="M105.7 222l1.8-.1 2.9-2-1.9-.5z" fill="#c60"/>
<path d="M107.4 221.8l1.8 0 3-1.4-1.9-.7z" fill="#c60"/>
<path d="M109.1 221.6l1.8.7 3-1.4-1.9-.7z" fill="#e70"/>
<path d="M110.8 222l1.9 1.5 2.9-1.7-1.9-1.1z" fill="#f80"/>
<path d="M112.5 223.2l1.9 1.4 2.9-1.7-1.9-1.4z" fill="#fa0"/>
<path d="M114.2 224.3l2 1.4 2.8-1.6-1.9-1.5z" fill="#fc0"/>
<path d="M115.9 225.4l2 1.6 2.9-1.5-2-1.7z" fill="#fc0"/>
<path d="M117.7 226.7l1.9.7 2.9-1.5-1.9-.7z" fill="#ea0"/>
<path d="M119.4 227.2l1.9.4 2.9-1.5-1.9-.4z" fill="#c90"/>
<path d="M121.1 227.4l1.9.4 2.9-1.8-1.8-.1z" fill="#eb0"/>
<path d="M122.8 227.7l1.9.2 2.9-1.6-1.8-.4z" fill="#eb0"/>
<path d="M124.6 227.7l1.8 0 3-1.1-1.9-.5z" fill="#ea0"/>
<path d="M126.3 227.5l1.7-.3 3.1-.5-1.8-.2z" fill="#ea0"/>
<path d="M128 227.2l1.7-.4 3.1-.4-1.7.2z" fill="#ea0"/>
<path d="M129.7 226.9l1.7-.7 3.1 0-1.7.2z" fill="#ea0"/>
<path d="M131.4 226.4l1.8-.7 3.1.3-1.8.4z" fill="#ea0"/>
<path d="M133.2 225.9l1.7-.5 3.1.2-1.8.6z" fill="#e90"/>
<path d="M134.9 225.6l1.7-.2 3.1-.5-1.8.8z" fill="#e80"/>
<path d="M136.6 225.4l1.8.3 3-1.1-1.7.3z" fill="#e60"/>
<path d="M138.3 225.6l1.9.2 2.9-1.6-1.8.2z" fill="#e50"/>
<path d="M140.1 225.6l1.8.3 2.9-2.5-1.8.7z" fill="#e40"/>
<path d="M141.8 225.7l1.9.3 2.8-2.6-1.8-.1z" fill="#e30"/>
<path d="M143.5 225.9l1.9 0 2.9-1.6-1.9-1z" fill="#e30"/>
<path class="ed" d="M65.4 228.1l1.7-6.4 1.7-1.1 1.8-.7 1.7-.4 1.7 0 1.7.2 1.7-.4 1.8-.6 1.7-.1 1.7.3 1.7-.2 1.7-.7 1.8-.3 1.7.3 1.7.4 1.7.3 1.8.3 1.7.4 1.7.1 1.7-.2 1.7.1 1.8.7 1.7.2 1.7-.5 1.7-.1 1.7.3 1.8.5 1.7.4 1.7.9 1.7 1.1 1.7 1.2 1.8 1.4 1.7.5 1.7.1 1.7 0 1.8.2 1.7.4 1.7 0 1.7-.3 1.7-.1 1.8-.3 1.7-.4 1.7-.6 1.7-.4 1.7-.3 1.8-.7 1.7-.1 1.7.8"/>
<path d="M60.2 228.7l1.9-6.2 2.7-.3-1.9 6.7z" fill="#6c6"/>
<path d="M61.8 222.9l1.7-1 3.1-1.1-1.8 1.9z" fill="#a70"/>
<path d="M63.6 222.1l1.8-.1 2.9-2.1-1.7.9z" fill="#b80"/>
<path d="M65.3 221.9l1.8-.1 3-2.1-1.9 0z" fill="#d90"/>
<path d="M67 221.7l1.8-.3 3-1.7-1.9-.2z" fill="#c90"/>
<path d="M68.7 221.3l1.8-.4 3-1.2-1.8-.1z" fill="#b80"/>
<path d="M70.4 220.8l1.8-.1 3-.9-1.8-.2z" fill="#b80"/>
<path d="M72.1 220.5l1.9.5 3-1-1.8-.3z" fill="#d90"/>
<path d="M73.9 220.8l1.8.5 3-1.5-1.8 0z" fill="#d90"/>
<path d="M75.6 221.1l1.9.5 2.9-2.3-1.8.4z" fill="#c80"/>
<path d="M77.3 221.5l1.9.2 2.9-2.6-1.9.1z" fill="#c90"/>
<path d="M79.1 221.5l1.8-.3 2.9-1.7-1.9-.5z" fill="#c80"/>
<path d="M80.8 221l1.8 0 3-1-1.9-.7z" fill="#d90"/>
<path d="M82.5 220.8l1.8.5 3-.9-1.9-.6z" fill="#d90"/>
<path d="M84.2 221.1l1.8.5 3-1.2-1.8-.1z" fill="#b80"/>
<path d="M85.9 221.4l1.9.3 2.9-1.4-1.8-.1z" fill="#b80"/>
<path d="M87.6 221.5l1.9.1 2.9-1.2-1.8-.3z" fill="#b80"/>
<path d="M89.4 221.4l1.8.4 3-1.1-1.9-.5z" fill="#d90"/>
<path d="M91.1 221.6l1.8.2 3-.7-1.8-.6z" fill="#c80"/>
<path d="M92.8 221.6l1.7 0 3.1-.4-1.7-.2z" fill="#960"/>
<path d="M94.5 221.5l1.9.6 2.9-1.4-1.7.4z" fill="#960"/>
<path d="M96.2 221.9l1.9.6 2.9-2-1.8.1z" fill="#c70"/>
<path d="M98 222.3l1.9.6 2.9-1.8-1.9-.7z" fill="#fa0"/>
<path d="M99.7 222.7l1.9.4 2.9-1.3-1.9-.9z" fill="#f90"/>
<path d="M101.4 222.9l1.8.3 3-1.4-1.8-.2z" fill="#b70"/>
<path d="M103.1 223l1.9.1 2.9-1.5-1.8.1z" fill="#950"/>
<path d="M104.9 222.9l1.8 0 2.9-1.5-1.8 0z" fill="#950"/>
<path d="M106.6 222.7l1.8.5 3-1.2-1.9-.7z" fill="#d60"/>
<path d="M108.3 223l1.9.9 2.9-.7-1.9-1.5z" fill="#d60"/>
<path d="M110 223.6l1.8.9 3-.1-1.8-1.5z" fill="#950"/>
<path d="M111.7 224.2l1.9 1.7 2.9-.5-1.8-1.3z" fill="#c80"/>
<path d="M113.5 225.6l1.9 2 2.9-.9-1.9-1.6z" fill="#d90"/>
<path d="M115.2 227.3l1.8.9 3-1.1-1.9-.7z" fill="#d90"/>
<path d="M116.9 228l1.8.6 3-1.3-1.8-.4z" fill="#c90"/>
<path d="M118.6 228.4l1.9.4 2.9-1.3-1.8-.4z" fill="#ea0"/>
<path d="M120.3 228.6l1.9.5 2.9-1.5-1.8-.3z" fill="#ea0"/>
<path d="M122.1 228.9l1.8.2 3-1.7-1.9 0z" fill="#ea0"/>
<path d="M123.8 229l1.8-.4 3-1.6-1.8.2z" fill="#ea0"/>
<path d="M125.5 228.5l1.9 0 2.9-1.8-1.8.2z" fill="#ea0"/>
<path d="M127.2 228.4l1.9.1 2.9-2.3-1.8.4z" fill="#ea0"/>
<path d="M129 228.4l1.8 0 2.9-2.7-1.8.4z" fill="#ea0"/>
<path d="M130.7 228.3l1.9-.2 2.8-2.7-1.8.2z" fill="#e90"/>
<path d="M132.4 227.9l1.9-.1 2.9-2.5-1.9 0z" fill="#e70"/>
<path d="M134.1 227.7l1.9 0 2.9-2.3-1.9-.3z" fill="#f70"/>
<path d="M135.9 227.6l1.8-.3 2.9-1.9-1.9-.2z" fill="#e60"/>
<path d="M137.6 227.1l1.7-.5 3-1.1-1.8-.2z" fill="#e50"/>
<path d="M139.3 226.5l1.7-.5 3.1-.3-1.8-.3z" fill="#e30"/>
<path d="M141 226l1.7.3 3.1-.7-1.7.1z" fill="#e20"/>
<path class="ed" d="M62.9 228.6l1.7-6.1 1.7-1.6 1.8-.9 1.7-.2 1.7 0 1.7 0 1.7.1 1.8.1 1.7-.1 1.7-.4 1.7-.2 1.8.3 1.7.5 1.7.4 1.7 0 1.7-.2 1.8.2 1.7.2 1.7.4 1.7.1 1.7-.4 1.8-.2 1.7.6 1.7.6 1.7.1 1.7-.2 1.8-.2 1.7.5 1.7 1.2 1.7 1.1 1.7 1.1 1.8 1.3 1.7.5 1.7.1 1.7.3 1.7 0 1.8-.1 1.7-.4 1.7-.3 1.7-.5 1.8-.4 1.7-.3 1.7-.2 1.7.1 1.7 0 1.8.1 1.7.1 1.7-.1"/>
<path d="M57.7 229.8l1.8-5.1 2.8-2.2-1.8 6.3z" fill="#6b5"/>
<path d="M59.4 225.1l1.8-.9 2.9-2.4-1.8.7z" fill="#b80"/>
<path d="M61.1 224.1l1.7-1 3-1.5-1.8.1z" fill="#b80"/>
<path d="M62.8 223l1.7-.5 3.1-1-1.8 0z" fill="#b80"/>
<path d="M64.5 222.4l1.8.4 3-1.7-1.8.2z" fill="#c80"/>
<path d="M66.2 222.6l1.9.4 2.9-2.4-1.8.3z" fill="#c90"/>
<path d="M68 222.9l1.8 0 2.9-2.5-1.9 0z" fill="#c90"/>
<path d="M69.7 222.7l1.8 0 2.9-2.1-1.9-.4z" fill="#ea0"/>
<path d="M71.4 222.5l1.9.3 2.9-1.8-1.9-.5z" fill="#fc0"/>
<path d="M73.1 222.6l1.9.2 2.9-1.5-1.9-.5z" fill="#ea0"/>
<path d="M74.8 222.6l1.9.1 2.9-1.4-1.8-.2z" fill="#c80"/>
<path d="M76.5 222.6l1.9.3 2.9-2.1-1.8.4z" fill="#b80"/>
<path d="M78.3 222.7l1.9.3 2.8-2.3-1.8 0z" fill="#c80"/>
<path d="M80 222.9l1.9 0 2.9-1.9-1.9-.5z" fill="#d90"/>
<path d="M81.7 222.7l1.9.2 2.9-1.6-1.9-.5z" fill="#d90"/>
<path d="M83.4 222.7l1.9.7 2.9-2-1.9-.3z" fill="#fb0"/>
<path d="M85.1 223.2l2 .9 2.8-2.9-1.9 0z" fill="#fb0"/>
<path d="M86.9 224l1.9.5 2.8-3.1-1.9-.3z" fill="#ea0"/>
<path d="M88.6 224.3l1.9-.1 2.9-2.8-1.9-.1z" fill="#c80"/>
<path d="M90.3 224l1.9-.1 2.9-2.6-1.9 0z" fill="#b80"/>
<path d="M92 223.8l1.9.1 2.9-2.2-1.9-.5z" fill="#e90"/>
<path d="M93.8 223.7l1.8.5 2.9-2-1.9-.6z" fill="#fa0"/>
<path d="M95.5 224l1.9.7 2.9-2.2-1.9-.5z" fill="#fb0"/>
<path d="M97.2 224.5l1.9.5 2.9-2.3-1.9-.4z" fill="#fa0"/>
<path d="M98.9 224.8l1.9 0 2.9-2-1.9-.3z" fill="#b70"/>
<path d="M100.6 224.7l1.9-.4 2.9-1.6-1.8 0z" fill="#950"/>
<path d="M102.4 224.2l1.8.2 2.9-1.8-1.8 0z" fill="#a50"/>
<path d="M104.1 224.2l1.9.6 2.9-1.9-1.9-.5z" fill="#e60"/>
<path d="M105.8 224.6l1.9.7 2.9-1.7-1.9-.9z" fill="#f70"/>
<path d="M107.5 225.1l1.9.9 2.9-1.8-1.9-.9z" fill="#f80"/>
<path d="M109.2 225.7l2 1.4 2.8-1.4-1.9-1.7z" fill="#f90"/>
<path d="M110.9 226.8l2 1.4 2.9-.8-2-2z" fill="#ea0"/>
<path d="M112.7 227.9l1.8 1 3-1-1.9-.8z" fill="#ea0"/>
<path d="M114.4 228.7l1.9 1.3 2.9-1.7-1.9-.6z" fill="#fc0"/>
<path d="M116.1 229.8l1.9.7 2.9-2.1-1.9-.4z" fill="#fc0"/>
<path d="M117.8 230.4l1.9.3 2.9-1.9-1.9-.6z" fill="#fc0"/>
<path d="M119.6 230.5l1.9.4 2.9-2.2-1.9-.1z" fill="#fb0"/>
<path d="M121.3 230.7l1.9.4 2.8-2.8-1.8.3z" fill="#ea0"/>
<path d="M123 231l1.9-.4 2.9-2.5-1.9 0z" fill="#ea0"/>
<path d="M124.8 230.5l1.8-.6 2.9-1.8-1.9-.1z" fill="#ea0"/>
<path d="M126.5 229.8l1.8-.1 2.9-1.7-1.8 0z" fill="#ea0"/>
<path d="M128.2 229.6l1.8-.1 3-1.8-1.9.2z" fill="#ea0"/>
<path d="M129.9 229.3l1.8 0 3-1.9-1.9.1z" fill="#e80"/>
<path d="M131.6 229.1l1.9.1 2.9-1.8-1.9-.1z" fill="#e70"/>
<path d="M133.3 229.1l1.9.1 2.9-2.3-1.8.3z" fill="#e70"/>
<path d="M135.1 229.1l1.9.2 2.8-3.1-1.8.5z" fill="#e50"/>
<path d="M136.8 229.1l1.9.3 2.8-3.6-1.8.3z" fill="#e40"/>
<path d="M138.5 229.2l1.9.5 2.8-3.8-1.9-.2z" fill="#e30"/>
<path class="ed" d="M60.4 228.5l1.7-5.7 1.7-.9 1.8-.2 1.7-.2 1.7-.3 1.7-.5 1.7-.2 1.8.2 1.7.4 1.7.2 1.7.1 1.7-.5 1.8-.1 1.7.3 1.7.3 1.7.1 1.8-.1 1.7.1 1.7.1 1.7-.1 1.7.3 1.8.4 1.7.4 1.7.2 1.7.1 1.7-.1 1.8-.1 1.7.3 1.7.6 1.7.7 1.7 1.4 1.8 1.6 1.7.6 1.7.4 1.7.2 1.8.4 1.7-.1 1.7-.4 1.7-.1 1.7-.1 1.8-.1 1.7-.3 1.7-.2 1.7-.1 1.7-.5 1.8-.6 1.7-.5 1.7.2"/>
<path d="M55.2 228.9l1.9-5.1 2.7.9-1.9 5.2z" fill="#8c4"/>
<path d="M56.8 224.1l1.8-.6 3 .4-1.8 1.3z" fill="#970"/>
<path d="M58.5 223.8l1.8.2 3-1.2-1.7 1.4z" fill="#970"/>
<path d="M60.3 223.9l1.8-.1 3-1.6-1.8.5z" fill="#a70"/>
<path d="M62 223.7l1.7-.4 3.1-.8-1.8-.4z" fill="#b80"/>
<path d="M63.7 223.2l1.7-.3 3.1-.2-1.8-.4z" fill="#970"/>
<path d="M65.4 222.9l1.8.1 3-.4-1.7.1z" fill="#970"/>
<path d="M67.1 222.9l1.8.2 3.1-.7-1.8.1z" fill="#970"/>
<path d="M68.9 223l1.8.4 3-.9-1.8-.3z" fill="#c80"/>
<path d="M70.6 223.2l1.8.5 3-1.2-1.8-.2z" fill="#c80"/>
<path d="M72.3 223.5l1.9.4 2.9-1.5-1.8-.1z" fill="#c80"/>
<path d="M74 223.7l1.9.3 2.9-1.4-1.8-.4z" fill="#c90"/>
<path d="M75.8 223.8l1.8.3 3-1.4-1.9-.3z" fill="#c90"/>
<path d="M77.5 223.9l1.9.5 2.9-1.9-1.9 0z" fill="#c80"/>
<path d="M79.2 224.2l1.9.6 2.9-2.3-1.9-.1z" fill="#ea0"/>
<path d="M80.9 224.7l1.9.4 2.9-2.1-1.9-.7z" fill="#fc0"/>
<path d="M82.6 224.9l1.9.1 3-1.2-2-1z" fill="#fb0"/>
<path d="M84.4 224.8l1.7.1 3.1-.8-1.9-.5z" fill="#b80"/>
<path d="M86.1 224.8l1.8.2 3-1.2-1.8.2z" fill="#970"/>
<path d="M87.8 224.8l1.8.1 3-1.3-1.8.1z" fill="#960"/>
<path d="M89.5 224.7l1.8.1 3-1.2-1.8-.2z" fill="#960"/>
<path d="M91.2 224.6l1.9.4 3-1.1-1.9-.5z" fill="#c70"/>
<path d="M93 224.8l1.8.7 3-1.2-1.9-.7z" fill="#e80"/>
<path d="M94.7 225.3l1.9.6 2.9-1.2-1.9-.6z" fill="#d80"/>
<path d="M96.4 225.7l1.9 1.1 2.9-2.3-1.8-.1z" fill="#fa0"/>
<path d="M98.1 226.7l2 .6 2.8-3.4-1.9.4z" fill="#c80"/>
<path d="M99.9 227.2l1.9 0 2.8-3.2-1.9-.2z" fill="#c70"/>
<path d="M101.6 227.1l1.9.3 2.8-3-1.9-.5z" fill="#d70"/>
<path d="M103.3 227.3l1.9.7 2.9-3.1-1.9-.7z" fill="#e80"/>
<path d="M105 227.8l2 1 2.8-3.2-1.9-.9z" fill="#f90"/>
<path d="M106.7 228.7l2 1.3 2.8-3.3-1.9-1.3z" fill="#fa0"/>
<path d="M108.5 229.9l1.9 1.2 2.8-3.3-1.9-1.3z" fill="#ea0"/>
<path d="M110.2 231l1.9.2 2.9-2.6-2-1z" fill="#da0"/>
<path d="M111.9 231l1.9.1 2.9-1.4-1.9-1.3z" fill="#fd0"/>
<path d="M113.6 230.9l1.8.3 3-1-1.8-.7z" fill="#ea0"/>
<path d="M115.3 231l1.9.3 2.9-1-1.8-.3z" fill="#ea0"/>
<path d="M117.1 231.2l1.7.2 3.1-.8-1.9-.4z" fill="#ea0"/>
<path d="M118.8 231.2l1.7.2 3.1-.6-1.8-.4z" fill="#ea0"/>
<path d="M120.5 231.3l1.8.3 3-1.4-1.7.5z" fill="#ea0"/>
<path d="M122.2 231.5l1.8-.5 3-1.5-1.7.7z" fill="#ea0"/>
<path d="M124 231l1.7-1 3-.6-1.7.1z" fill="#ea0"/>
<path d="M125.7 230.1l1.7-.6 3.1-.3-1.8.2z" fill="#e90"/>
<path d="M127.4 229.5l1.7-.2 3.1-.3-1.7.2z" fill="#e70"/>
<path d="M129.1 229.3l1.7-.1 3.1-.3-1.7.1z" fill="#e60"/>
<path d="M130.8 229.2l1.8.3 3-.6-1.7-.1z" fill="#e50"/>
<path d="M132.5 229.4l1.9.9 3-1.4-1.8-.1z" fill="#e50"/>
<path d="M134.3 230.1l1.9 1.1 2.9-2.2-1.9-.3z" fill="#f60"/>
<path d="M136 231l1.9.4 2.9-2.1-1.9-.5z" fill="#e60"/>
<path class="ed" d="M57.9 229.6l1.7-4.7 1.7-.9 1.8-1.1 1.7-.5 1.7.1 1.7.2 1.7-.1 1.8-.2 1.7.1 1.7 0 1.7 0 1.8.1 1.7.2 1.7-.2 1.7 0 1.7.5 1.8.7 1.7.4 1.7-.3 1.7-.2 1.7-.1 1.8.3 1.7.5 1.7.3 1.7-.1 1.7-.5 1.8 0 1.7.4 1.7.5 1.7.7 1.7 1.1 1.8 1.1 1.7.8 1.7 1 1.7.6 1.7.1 1.8.2 1.7.2 1.7-.5 1.7-.6 1.8-.2 1.7-.3 1.7-.2 1.7-.1 1.7.1 1.8 0 1.7.1 1.7.3"/>
<path d="M52.7 230.1l1.8-4.3 2.8-2-1.8 5.2z" fill="#8b3"/>
<path d="M54.4 226.2l1.8-.4 2.9-2.2-1.8.2z" fill="#d90"/>
<path d="M56.1 225.6l1.8-.4 2.9-1.4-1.8-.3z" fill="#d90"/>
<path d="M57.8 225.1l1.7-.6 3.1-1-1.8.2z" fill="#970"/>
<path d="M59.5 224.5l1.8-.2 3-1.3-1.8.4z" fill="#970"/>
<path d="M61.2 224.2l1.9.3 2.9-1.7-1.8.1z" fill="#c80"/>
<path d="M62.9 224.3l1.9 0 2.9-1.5-1.8-.2z" fill="#b80"/>
<path d="M64.7 224.1l1.8.1 3-1.3-1.9-.3z" fill="#c80"/>
<path d="M66.4 224l1.8.5 3-1.4-1.9-.4z" fill="#fa0"/>
<path d="M68.1 224.3l1.8.2 3-1.1-1.9-.5z" fill="#c90"/>
<path d="M69.8 224.3l1.7-.3 3.1-.4-1.8-.4z" fill="#970"/>
<path d="M71.5 224l1.8.2 3-.5-1.7-.3z" fill="#960"/>
<path d="M73.3 224.1l1.8.8 3-1.1-1.8-.3z" fill="#c90"/>
<path d="M75 224.7l1.8.6 3-1.2-1.9-.5z" fill="#d90"/>
<path d="M76.7 225.1l1.8.1 3-.7-1.8-.6z" fill="#c80"/>
<path d="M78.4 225.1l1.8.2 3-.5-1.8-.4z" fill="#960"/>
<path d="M80.1 225.1l1.9.7 3-1.1-1.8 0z" fill="#960"/>
<path d="M81.9 225.7l1.8.3 3-1.4-1.9-.1z" fill="#b80"/>
<path d="M83.6 225.8l1.8.4 3-1.5-1.9-.2z" fill="#c80"/>
<path d="M85.3 226l1.9.6 2.9-2-1.9-.1z" fill="#d90"/>
<path d="M87 226.4l1.9.2 2.9-2.2-1.9 0z" fill="#b70"/>
<path d="M88.8 226.4l1.8.1 2.9-1.8-1.8-.4z" fill="#c70"/>
<path d="M90.5 226.4l1.9.6 2.9-1.8-1.9-.7z" fill="#fa0"/>
<path d="M92.2 226.8l1.9.7 2.9-1.9-1.9-.7z" fill="#fb0"/>
<path d="M93.9 227.3l1.9.6 2.9-1.4-1.9-1.1z" fill="#fa0"/>
<path d="M95.6 227.7l1.9.3 2.9-1.1-1.8-.6z" fill="#c80"/>
<path d="M97.3 227.8l1.9.6 3-1.5-1.9-.1z" fill="#b70"/>
<path d="M99.1 228.2l1.8.4 3-1.5-1.9-.4z" fill="#c80"/>
<path d="M100.8 228.4l1.9.5 2.9-1.2-1.9-.8z" fill="#c80"/>
<path d="M102.5 228.6l1.9.8 2.9-.8-1.9-1.2z" fill="#d90"/>
<path d="M104.2 229.1l1.8.9 3-.2-1.8-1.5z" fill="#c80"/>
<path d="M106 229.7l1.7 1.1 3.1.1-1.9-1.4z" fill="#970"/>
<path d="M107.7 230.6l1.7.6 3.1-.3-1.7-.1z" fill="#970"/>
<path d="M109.4 231.1l1.8.7 3-1-1.7 0z" fill="#970"/>
<path d="M111.1 231.6l1.9 1 2.9-1.7-1.8-.3z" fill="#fc0"/>
<path d="M112.8 232.4l1.9.6 2.9-2-1.8-.3z" fill="#fc0"/>
<path d="M114.6 232.9l1.8-.4 3-1.4-1.9-.2z" fill="#ea0"/>
<path d="M116.3 232.4l1.8-.2 3-1.1-1.8-.2z" fill="#ea0"/>
<path d="M118 232l1.8.4 3-1.1-1.8-.3z" fill="#ea0"/>
<path d="M119.7 232.2l1.8.1 3-1.6-1.7.5z" fill="#ea0"/>
<path d="M121.5 232.2l1.8-.1 2.9-2.2-1.7.7z" fill="#ea0"/>
<path d="M123.2 232l1.9.1 2.8-2.8-1.8.4z" fill="#e80"/>
<path d="M124.9 232l1.9 0 2.8-2.9-1.8.1z" fill="#e70"/>
<path d="M126.6 231.9l1.9-.4 2.9-2.5-1.9 0z" fill="#e60"/>
<path d="M128.3 231.4l1.9-.2 2.9-2-1.9-.3z" fill="#e50"/>
<path d="M130 231l2 1 2.9-2-2-.9z" fill="#f50"/>
<path d="M131.8 231.7l1.9 1.1 2.9-2-2-1z" fill="#f60"/>
<path d="M133.5 232.6l1.9.5 2.9-2.1-1.9-.4z" fill="#e70"/>
<path class="ed" d="M55.4 228.7l1.7-4.6 1.7-.3 1.8.1 1.7-.3 1.7-.5 1.7-.2 1.7 0 1.8 0 1.7.3 1.7.2 1.7.2 1.7.1 1.8.1 1.7.3 1.7.5 1.7.2 1.8 0 1.7-.1 1.7.1 1.7-.1 1.7-.1 1.8.2 1.7.4 1.7.5 1.7.8 1.7.5 1.8-.1 1.7.3 1.7.5 1.7.8 1.7 1.2 1.8 1.1 1.7.1 1.7-.1 1.7.1 1.8.2 1.7.1 1.7 0 1.7.2 1.7-.6 1.8-.8 1.7-.5 1.7-.2 1.7-.2 1.7.2 1.8.8 1.7.8 1.7.2"/>
<path d="M50.2 230.7l1.8-3.9 2.8-1-1.8 4.4z" fill="#8b3"/>
<path d="M51.8 227.2l1.8-.4 3-1.4-1.7.5z" fill="#b80"/>
<path d="M53.6 226.7l1.8-.2 2.9-1.6-1.7.4z" fill="#b80"/>
<path d="M55.3 226.4l1.8-.4 3-1.7-1.8.5z" fill="#a70"/>
<path d="M57 225.9l1.8-.3 3-1.6-1.8.2z" fill="#a70"/>
<path d="M58.7 225.4l1.9.1 2.9-1.4-1.8-.2z" fill="#c90"/>
<path d="M60.4 225.4l1.9.3 2.9-1.8-1.8.1z" fill="#c80"/>
<path d="M62.2 225.5l1.8.1 3-1.7-1.9-.1z" fill="#b80"/>
<path d="M63.9 225.4l1.8-.1 3-1.1-1.9-.5z" fill="#b80"/>
<path d="M65.6 225.1l1.8.3 3-1.2-1.8-.2z" fill="#b80"/>
<path d="M67.3 225.2l1.9 1 2.9-2.4-1.8.2z" fill="#ea0"/>
<path d="M69 226l2 .7 2.8-2.8-1.9-.2z" fill="#fb0"/>
<path d="M70.8 226.5l1.9.2 2.9-2.1-2-.8z" fill="#fb0"/>
<path d="M72.5 226.6l1.8 0 3-1.6-1.9-.6z" fill="#d90"/>
<path d="M74.2 226.4l1.9.3 2.9-1.7-1.9-.2z" fill="#b80"/>
<path d="M75.9 226.5l1.9.4 2.9-1.9-1.9-.2z" fill="#d90"/>
<path d="M77.6 226.7l1.9.4 2.9-1.6-1.9-.6z" fill="#fb0"/>
<path d="M79.4 226.9l1.9.9 2.9-2.1-1.9-.4z" fill="#fc0"/>
<path d="M81.1 227.6l1.9 1 2.9-2.8-1.9-.3z" fill="#fc0"/>
<path d="M82.8 228.4l1.9.3 2.9-2.5-1.9-.6z" fill="#ea0"/>
<path d="M84.6 228.5l1.8-.1 2.9-2.2-1.9-.2z" fill="#b80"/>
<path d="M86.3 228.3l1.8.1 2.9-2.2-1.8-.2z" fill="#b80"/>
<path d="M88 228.3l1.8-.1 3-1.6-1.9-.6z" fill="#c80"/>
<path d="M89.7 228l1.8.3 3-1.1-1.9-.8z" fill="#e80"/>
<path d="M91.4 228.1l1.9.9 2.9-1.4-1.9-.6z" fill="#e90"/>
<path d="M93.1 228.8l1.9.4 2.9-1.5-1.8-.3z" fill="#c80"/>
<path d="M94.9 229l1.7-.2 3.1-.7-1.9-.6z" fill="#960"/>
<path d="M96.6 228.6l1.7 0 3.1-.3-1.8-.4z" fill="#950"/>
<path d="M98.3 228.5l1.8.8 3-.7-1.8-.5z" fill="#950"/>
<path d="M100 229.1l1.9 1.3 2.9-1.3-1.8-.7z" fill="#e80"/>
<path d="M101.7 230.2l2 1.5 2.8-2-1.9-.9z" fill="#fc0"/>
<path d="M103.5 231.4l1.9 1.2 2.9-2.1-2-1.1z" fill="#fd0"/>
<path d="M105.2 232.4l1.9.6 2.9-2-1.9-.7z" fill="#fb0"/>
<path d="M106.9 232.8l1.9.6 2.9-1.9-1.9-.7z" fill="#fc0"/>
<path d="M108.6 233.2l1.9.4 2.9-1.3-1.9-1z" fill="#fd0"/>
<path d="M110.3 233.4l1.9.3 2.9-1-1.8-.6z" fill="#ea0"/>
<path d="M112.1 233.5l1.7-.1 3.1-1.2-1.8.4z" fill="#ea0"/>
<path d="M113.8 233.3l1.7-.4 3.1-1-1.8.2z" fill="#ea0"/>
<path d="M115.5 232.8l1.8 0 3-.7-1.8-.3z" fill="#ea0"/>
<path d="M117.2 232.7l1.8.2 3-.9-1.7 0z" fill="#ea0"/>
<path d="M118.9 232.7l1.9.6 2.9-1.6-1.7.2z" fill="#e90"/>
<path d="M120.7 233.2l1.9.5 2.9-2-1.9-.1z" fill="#fa0"/>
<path d="M122.4 233.6l1.9.2 2.9-2.2-1.9 0z" fill="#e90"/>
<path d="M124.1 233.6l1.9-.3 2.9-2.2-1.8.4z" fill="#e80"/>
<path d="M125.9 233.2l1.8-.3 2.9-2.1-1.8.2z" fill="#e60"/>
<path d="M127.5 232.7l1.9.6 3-1.7-2-.9z" fill="#f60"/>
<path d="M129.3 233.1l1.9.7 2.9-1.3-1.9-1.1z" fill="#f60"/>
<path d="M131 233.6l1.8.4 3-1.2-1.9-.5z" fill="#e70"/>
<path class="ed" d="M52.9 229.9l1.7-3.8 1.7-.6 1.8-.5 1.7-.6 1.7-.3 1.7.1 1.7-.2 1.8 0 1.7.3 1.7 0 1.7-.4 1.8.2 1.7.6 1.7.4 1.7-.1 1.7.1 1.8.5 1.7.2 1.7.1 1.7.4 1.7 0 1.8 0 1.7.4 1.7.5 1.7.4 1.7.2 1.8.3 1.7.2 1.7.3 1.7.5 1.7.6 1.8.9 1.7.5 1.7.5 1.7.8 1.7.3 1.8-.4 1.7-.3 1.7.2 1.7-.1 1.8-.3 1.7 0 1.7 0 1.7-.5 1.7-.3 1.8.7 1.7.8 1.7.4"/>
<path d="M47.7 230.3l1.9-4.1 2.8.7-1.9 3.9z" fill="#9b2"/>
<path d="M49.3 226.5l1.9-.7 2.9.8-1.8.7z" fill="#a70"/>
<path d="M51 226l1.8.2 3.1.1-1.8.5z" fill="#970"/>
<path d="M52.8 226.2l1.7.1 3.1-.6-1.8.7z" fill="#970"/>
<path d="M54.5 226.3l1.7-.4 3.1-.6-1.7.5z" fill="#a70"/>
<path d="M56.2 225.9l1.8.1 3-.7-1.7-.1z" fill="#970"/>
<path d="M57.9 225.9l1.9.7 2.9-1.2-1.8-.3z" fill="#ea0"/>
<path d="M59.7 226.4l1.8.5 3-1.7-1.9 0z" fill="#c90"/>
<path d="M61.4 226.7l1.9.4 2.9-2.2-1.9.2z" fill="#b80"/>
<path d="M63.1 226.9l1.9.5 2.9-2.4-1.9-.2z" fill="#ea0"/>
<path d="M64.8 227.2l1.9.5 2.9-1.9-1.9-.9z" fill="#fd0"/>
<path d="M66.5 227.5l1.9.3 2.9-1.5-1.9-.7z" fill="#fc0"/>
<path d="M68.3 227.6l1.8.6 3-1.8-1.9-.3z" fill="#d90"/>
<path d="M70 228l1.9.5 2.9-2.3-1.9 0z" fill="#c90"/>
<path d="M71.7 228.3l1.9 0 2.9-2-1.9-.2z" fill="#c80"/>
<path d="M73.4 228.2l1.9-.2 2.9-1.4-1.9-.4z" fill="#b80"/>
<path d="M75.1 227.9l1.9.1 2.9-1.2-1.8-.4z" fill="#c80"/>
<path d="M76.9 227.8l1.8.4 3-.7-1.9-.9z" fill="#d80"/>
<path d="M78.6 228l1.7.4 3.1 0-1.8-1.1z" fill="#c80"/>
<path d="M80.3 228.3l1.7 0 3.1.1-1.7-.1z" fill="#960"/>
<path d="M82 228.3l1.7.1 3.1-.2-1.7.2z" fill="#960"/>
<path d="M83.7 228.4l1.9.7 3-1-1.8-.1z" fill="#960"/>
<path d="M85.5 228.9l1.8.5 3-1.5-1.8 0z" fill="#960"/>
<path d="M87.2 229.2l1.9.4 2.9-1.6-1.9-.3z" fill="#c70"/>
<path d="M88.9 229.4l1.9.8 2.9-1.5-1.9-.9z" fill="#f90"/>
<path d="M90.6 230l1.9.9 2.9-2.1-1.9-.4z" fill="#fb0"/>
<path d="M92.4 230.8l1.9.5 2.8-2.8-1.8.1z" fill="#c70"/>
<path d="M94.1 231.1l1.9.3 2.8-3-1.8-.1z" fill="#c70"/>
<path d="M95.8 231.3l1.9.5 2.9-2.8-1.9-.8z" fill="#e80"/>
<path d="M97.5 231.6l1.9.5 2.9-2-1.9-1.3z" fill="#fb0"/>
<path d="M99.2 231.9l1.9.6 2.9-1.1-1.9-1.5z" fill="#fb0"/>
<path d="M100.9 232.2l1.9 1 3-.8-1.9-1.3z" fill="#d90"/>
<path d="M102.7 232.9l1.8.9 3-1.1-1.9-.6z" fill="#d90"/>
<path d="M104.4 233.5l1.8.6 3-1-1.8-.6z" fill="#d90"/>
<path d="M106.1 233.9l1.8.1 3-.7-1.8-.4z" fill="#ea0"/>
<path d="M107.8 233.9l1.8-.1 3-.4-1.7-.3z" fill="#ea0"/>
<path d="M109.6 233.7l1.7.3 3.1-.8-1.8.2z" fill="#ea0"/>
<path d="M111.3 233.9l1.9.7 2.9-1.9-1.8.3z" fill="#ea0"/>
<path d="M113 234.4l1.9.3 2.9-2.2-1.9 0z" fill="#ea0"/>
<path d="M114.7 234.6l1.9.1 2.9-2.1-1.9-.2z" fill="#ea0"/>
<path d="M116.4 234.5l1.9.4 2.9-1.9-1.9-.6z" fill="#fc0"/>
<path d="M118.2 234.7l1.8.2 3-1.5-1.9-.6z" fill="#fa0"/>
<path d="M119.9 234.7l1.8 0 3-1.3-1.9-.2z" fill="#e90"/>
<path d="M121.6 234.6l1.9.2 2.9-1.8-1.8.3z" fill="#e80"/>
<path d="M123.3 234.7l1.9.4 2.9-2.6-1.8.3z" fill="#e70"/>
<path d="M125.1 234.9l1.9.3 2.8-2.3-1.9-.6z" fill="#f70"/>
<path d="M126.8 235.1l1.9.3 2.9-2-1.9-.7z" fill="#f70"/>
<path d="M128.5 235.2l1.9.3 2.9-1.9-1.9-.3z" fill="#e60"/>
<path class="ed" d="M50.4 230.5l1.7-3.4 1.7-.5 1.8-.3 1.7-.5 1.7-.5 1.7 0 1.7.1 1.8-.1 1.7-.3 1.7.1 1.7.8 1.7.5 1.8 0 1.7-.1 1.7.1 1.7.2 1.8.3 1.7.6 1.7.8 1.7.1 1.7-.2 1.8-.1 1.7-.1 1.7.1 1.7.6 1.7.2 1.8-.3 1.7-.1 1.7.6 1.7 1.1 1.7 1.2 1.8 1 1.7.4 1.7.3 1.7.2 1.8.1 1.7-.2 1.7-.4 1.7-.1 1.7 0 1.8.4 1.7.3 1.7.1 1.7-.4 1.7-.5 1.8.4 1.7.5 1.7.2"/>
<path d="M45.1 229.7l1.9-2.6 2.8-.8-1.8 4.1z" fill="#aa1"/>
<path d="M46.8 227.5l1.8-.2 3-1.4-1.7.5z" fill="#b70"/>
<path d="M48.5 227.1l1.9.4 3-1.3-1.9-.4z" fill="#fb0"/>
<path d="M50.3 227.3l1.8.5 3-1.7-1.9-.1z" fill="#ea0"/>
<path d="M52 227.6l1.8-.2 3-1.7-1.8.3z" fill="#a70"/>
<path d="M53.7 227.2l1.8-.2 3-1.2-1.8-.2z" fill="#a70"/>
<path d="M55.4 226.8l1.9.4 2.9-.8-1.8-.8z" fill="#e90"/>
<path d="M57.1 227l1.9.8 3-1.2-1.9-.4z" fill="#e90"/>
<path d="M58.9 227.5l1.9 1 2.9-1.7-1.9-.4z" fill="#fb0"/>
<path d="M60.6 228.2l1.9.7 2.9-1.9-1.9-.5z" fill="#fd0"/>
<path d="M62.3 228.7l1.9.1 2.9-1.5-1.9-.4z" fill="#c90"/>
<path d="M64 228.7l1.9.2 2.9-1.4-1.8-.4z" fill="#c80"/>
<path d="M65.8 228.7l1.8.5 3-1.3-1.9-.6z" fill="#ea0"/>
<path d="M67.5 229l1.8.3 3-1.1-1.9-.6z" fill="#c90"/>
<path d="M69.2 229.1l1.8.1 3-1.2-1.8 0z" fill="#970"/>
<path d="M70.9 229.1l1.9.2 2.9-1.6-1.8.1z" fill="#960"/>
<path d="M72.6 229.1l2 1 2.8-2.4-1.8-.2z" fill="#fc0"/>
<path d="M74.4 229.9l1.9 1 2.8-3-1.9-.4z" fill="#fb0"/>
<path d="M76.1 230.8l1.9.4 2.9-3.1-1.9-.4z" fill="#ea0"/>
<path d="M77.8 231.1l1.9-.1 2.9-2.8-1.9-.2z" fill="#c80"/>
<path d="M79.6 230.9l1.8-.1 2.9-2.5-1.9-.3z" fill="#c80"/>
<path d="M81.3 230.6l1.9.4 2.8-2.3-1.9-.6z" fill="#f90"/>
<path d="M83 230.8l1.9.3 2.9-2.1-1.9-.4z" fill="#e90"/>
<path d="M84.7 230.9l1.9.2 2.9-1.9-1.9-.3z" fill="#c70"/>
<path d="M86.4 230.9l1.9.2 2.9-1.2-1.9-.9z" fill="#e80"/>
<path d="M88.1 230.9l1.9.6 2.9-.8-1.8-1z" fill="#d80"/>
<path d="M89.8 231.2l1.9 1.1 3-1.3-1.9-.6z" fill="#d80"/>
<path d="M91.6 232.1l1.9 1 2.9-2-1.9-.4z" fill="#fb0"/>
<path d="M93.3 232.9l1.9.5 2.9-2-1.9-.5z" fill="#e90"/>
<path d="M95 233.3l1.9.4 2.9-2-1.9-.5z" fill="#c90"/>
<path d="M96.7 233.5l1.9.6 2.9-2-1.9-.6z" fill="#d90"/>
<path d="M98.5 233.9l1.9 1.1 2.9-2.1-2-1z" fill="#fd0"/>
<path d="M100.2 234.8l1.9.6 2.9-2-1.9-.8z" fill="#fd0"/>
<path d="M101.9 235.2l1.9.7 2.9-2.1-1.9-.6z" fill="#fc0"/>
<path d="M103.6 235.7l1.9.6 2.9-2.6-1.9-.1z" fill="#ea0"/>
<path d="M105.4 236.2l1.8.1 2.9-2.8-1.9.1z" fill="#ea0"/>
<path d="M107.1 236.1l1.9 0 2.8-2.4-1.9-.3z" fill="#ea0"/>
<path d="M108.8 235.9l1.9.3 2.9-2-1.9-.7z" fill="#fd0"/>
<path d="M110.5 236l1.9.3 2.9-2-1.9-.2z" fill="#ea0"/>
<path d="M112.2 236.1l1.9.2 2.9-2-1.9-.1z" fill="#ea0"/>
<path d="M114 236.2l1.8.3 2.9-2-1.9-.4z" fill="#fb0"/>
<path d="M115.7 236.3l1.8.1 3-1.9-1.9-.1z" fill="#ea0"/>
<path d="M117.4 236.3l1.9 0 2.9-1.9-1.9 0z" fill="#e90"/>
<path d="M119.1 236.1l1.9.2 2.9-1.8-1.9-.3z" fill="#e80"/>
<path d="M120.8 236.2l1.9.2 2.9-1.7-1.9-.4z" fill="#e80"/>
<path d="M122.5 236.3l1.9.5 2.9-1.9-1.8-.4z" fill="#f80"/>
<path d="M124.3 236.6l1.9.6 2.9-2.2-1.9-.3z" fill="#f80"/>
<path d="M126 237.1l1.9.2 2.9-2.2-1.9-.3z" fill="#e70"/>
<path class="ed" d="M47.9 230.1l1.7-3.6 1.7-.5 1.8.2 1.7 0 1.7-.4 1.7.1 1.7.5 1.8.3 1.7.1 1.7.3 1.7.3 1.8.2 1.7.3 1.7.3 1.7-.1 1.7-.3 1.8 0 1.7.2 1.7.3 1.7 0 1.7.1 1.8.4 1.7.3 1.7.2 1.7.6 1.7.8 1.8.3 1.7.2 1.7.3 1.7.3 1.7.4 1.8.7 1.7.6 1.7.4 1.7 0 1.7-.2 1.8.1 1.7.5 1.7.1 1.7 0 1.8.2 1.7 0 1.7-.1 1.7.1 1.7.2 1.8.2 1.7.1 1.7.1"/>
<path d="M42.6 230l1.9-2.1 2.9-.7-1.9 2.6z" fill="#a90"/>
<path d="M44.3 228.2l1.8.1 3-1.3-1.7.2z" fill="#c80"/>
<path d="M46 228.2l1.9.4 3-1.5-1.9-.3z" fill="#fb0"/>
<path d="M47.8 228.4l1.8.5 3-1.5-1.9-.4z" fill="#fb0"/>
<path d="M49.5 228.7l1.9.5 2.9-2.2-1.8.3z" fill="#c80"/>
<path d="M51.2 229l1.9.5 2.9-2.9-1.9.3z" fill="#c80"/>
<path d="M53 229.3l1.8.1 2.9-2.6-1.9-.3z" fill="#d90"/>
<path d="M54.7 229.2l1.8 0 3-1.8-2-.7z" fill="#ea0"/>
<path d="M56.4 229l1.8.4 3-1.3-1.9-.9z" fill="#fc0"/>
<path d="M58.1 229.2l1.8.3 3-.9-1.9-.7z" fill="#d90"/>
<path d="M59.8 229.3l1.8.1 3-.9-1.8 0z" fill="#970"/>
<path d="M61.5 229.3l1.9.6 2.9-1.3-1.8-.2z" fill="#c80"/>
<path d="M63.3 229.7l1.8.4 3-1.2-1.9-.5z" fill="#c90"/>
<path d="M65 229.9l1.8.1 3-1-1.8-.3z" fill="#960"/>
<path d="M66.7 229.9l1.9.5 2.9-1.5-1.8 0z" fill="#b80"/>
<path d="M68.4 230.2l1.9.9 2.9-2.1-1.9-.3z" fill="#fb0"/>
<path d="M70.1 230.9l1.9.5 2.9-1.6-1.9-1z" fill="#fc0"/>
<path d="M71.9 231.2l1.8.1 3-.7-1.9-1z" fill="#d90"/>
<path d="M73.6 231.1l1.7 0 3.1-.2-1.8-.4z" fill="#960"/>
<path d="M75.3 231l1.8.3 3-.6-1.7.2z" fill="#960"/>
<path d="M77 231.2l1.8.4 3-1.1-1.7.1z" fill="#960"/>
<path d="M78.7 231.4l1.8.2 3.1-1-1.9-.3z" fill="#960"/>
<path d="M80.5 231.4l1.7.2 3.1-.8-1.8-.3z" fill="#960"/>
<path d="M82.2 231.4l1.8.6 3-1.2-1.8-.2z" fill="#950"/>
<path d="M83.9 231.8l1.9.9 2.9-1.9-1.8-.2z" fill="#f80"/>
<path d="M85.6 232.5l1.9.8 2.9-2.2-1.9-.5z" fill="#fb0"/>
<path d="M87.4 233.1l1.9.6 2.9-1.7-2-1.1z" fill="#fb0"/>
<path d="M89.1 233.5l1.8.5 3-1.2-1.9-1.1z" fill="#fa0"/>
<path d="M90.8 233.8l1.8.4 3-1.1-1.9-.6z" fill="#c80"/>
<path d="M92.5 234l1.9.8 2.9-1.4-1.8-.5z" fill="#c80"/>
<path d="M94.2 234.6l2 1.2 2.8-2-1.9-.7z" fill="#fc0"/>
<path d="M96 235.6l1.9.9 2.9-1.9-2-1z" fill="#fd0"/>
<path d="M97.7 236.3l1.9.3 2.9-1.5-1.9-.7z" fill="#ea0"/>
<path d="M99.4 236.4l1.8.4 3-1.2-1.9-.7z" fill="#da0"/>
<path d="M101.1 236.6l1.9.5 2.9-1.1-1.8-.6z" fill="#ea0"/>
<path d="M102.8 236.9l1.9.5 2.9-1.5-1.8-.1z" fill="#ea0"/>
<path d="M104.6 237.2l1.8.3 3-1.8-1.9 0z" fill="#ea0"/>
<path d="M106.3 237.4l1.9.2 2.9-1.8-1.9-.3z" fill="#ea0"/>
<path d="M108 237.4l1.8.1 3-1.6-1.9-.2z" fill="#ea0"/>
<path d="M109.7 237.3l1.8-.2 3-1.1-1.8-.2z" fill="#ea0"/>
<path d="M111.4 237l1.8 0 3.1-.8-1.9-.4z" fill="#ea0"/>
<path d="M113.2 236.8l1.8.4 3-1.1-1.8-.1z" fill="#e90"/>
<path d="M114.9 237l1.8.3 3-1.3-1.8 0z" fill="#e90"/>
<path d="M116.6 237.2l1.8-.1 3-1.1-1.8-.2z" fill="#e80"/>
<path d="M118.3 236.9l1.8.3 3-1.1-1.8-.3z" fill="#e70"/>
<path d="M120 237l1.9.6 3-1.2-1.9-.5z" fill="#e70"/>
<path d="M121.8 237.4l1.8.7 3-1.2-1.9-.7z" fill="#e70"/>
<path d="M123.5 237.8l1.9 1 2.9-1.9-1.9-.2z" fill="#e70"/>
<path class="ed" d="M45.4 229.5l1.7-2.1 1.7-.3 1.8.1 1.7.3 1.7-.4 1.7-.4 1.7.3 1.8.5 1.7.7 1.7.4 1.7 0 1.7 0 1.8.3 1.7.2 1.7-.1 1.7.1 1.8.7 1.7.8 1.7.3 1.7-.2 1.7-.2 1.8.2 1.7.1 1.7 0 1.7.1 1.7.3 1.8.8 1.7.8 1.7.4 1.7.2 1.7.5 1.8.8 1.7.5 1.7.4 1.7.5 1.8-.1 1.7-.2 1.7.1 1.7.1 1.7.1 1.8.1 1.7 0 1.7-.2 1.7.1 1.7.1 1.8.3 1.7.5 1.7 0"/>
<path d="M40.1 231.3l1.7-1.6 3.1-1.8-1.7 2.1z" fill="#980"/>
<path d="M41.8 229.8l1.9.5 2.9-2.3-1.9-.2z" fill="#fb0"/>
<path d="M43.6 230.1l1.9.6 2.8-2.4-1.9-.5z" fill="#fc0"/>
<path d="M45.3 230.5l1.9.1 2.9-2.1-1.9-.4z" fill="#d90"/>
<path d="M47 230.5l1.8-.5 3-1.1-1.9-.5z" fill="#b80"/>
<path d="M48.7 229.9l1.7-.5 3.1-.2-1.8-.5z" fill="#970"/>
<path d="M50.4 229.3l1.8.4 3-.6-1.7 0z" fill="#960"/>
<path d="M52.1 229.5l1.9 1 3-1.7-1.8.1z" fill="#d90"/>
<path d="M53.9 230.3l1.9.8 2.9-2.1-1.9-.4z" fill="#fd0"/>
<path d="M55.6 231l1.9.6 2.9-2.5-1.9-.3z" fill="#fb0"/>
<path d="M57.3 231.5l1.9.5 2.9-2.9-1.9-.1z" fill="#d90"/>
<path d="M59.1 231.9l1.9.1 2.8-2.5-1.9-.5z" fill="#d90"/>
<path d="M60.8 231.9l1.8-.2 2.9-2-1.8-.3z" fill="#b80"/>
<path d="M62.5 231.6l1.9.2 2.9-2.1-1.9-.2z" fill="#c80"/>
<path d="M64.2 231.6l1.9.4 2.9-1.9-1.9-.6z" fill="#fa0"/>
<path d="M65.9 231.8l1.9.3 2.9-1.4-1.9-.8z" fill="#fa0"/>
<path d="M67.6 231.9l1.8 0 3.1-.8-1.9-.6z" fill="#960"/>
<path d="M69.4 231.7l1.8.6 3-1.3-1.8-.1z" fill="#b70"/>
<path d="M71.1 232.1l1.9 1 2.9-2.2-1.9-.1z" fill="#fa0"/>
<path d="M72.8 232.9l1.9.6 2.9-2.4-1.9-.4z" fill="#fa0"/>
<path d="M74.5 233.4l1.9.1 2.9-2.2-1.9-.4z" fill="#c80"/>
<path d="M76.3 233.4l1.8-.2 2.9-1.9-1.8-.2z" fill="#b70"/>
<path d="M78 233.1l1.9.2 2.9-2-1.9-.2z" fill="#c70"/>
<path d="M79.7 233.2l1.9.4 2.9-1.9-1.9-.6z" fill="#f90"/>
<path d="M81.4 233.4l1.9.4 2.9-1.4-1.9-.9z" fill="#f90"/>
<path d="M83.1 233.6l1.9 1.1 2.9-1.7-1.9-.8z" fill="#f90"/>
<path d="M84.8 234.4l2 1.3 2.8-2.3-1.9-.6z" fill="#fb0"/>
<path d="M86.6 235.6l1.9.6 2.9-2.6-1.9-.4z" fill="#fb0"/>
<path d="M88.3 236.1l1.9.1 2.9-2.4-1.9-.3z" fill="#c80"/>
<path d="M90 236l1.9.2 2.9-1.7-1.9-.8z" fill="#e90"/>
<path d="M91.7 236l1.9.7 2.9-1.2-1.9-1.2z" fill="#fb0"/>
<path d="M93.4 236.4l1.9.5 3-.6-1.9-1.1z" fill="#c80"/>
<path d="M95.2 236.7l1.7.3 3.1-.7-1.8-.2z" fill="#970"/>
<path d="M96.9 236.8l1.8.5 3-.8-1.8-.3z" fill="#970"/>
<path d="M98.6 237.1l1.8.3 3-.5-1.8-.6z" fill="#ea0"/>
<path d="M100.3 237.2l1.8.2 3-.3-1.7-.4z" fill="#ea0"/>
<path d="M102.1 237.3l1.8.7 3-.7-1.8-.3z" fill="#ea0"/>
<path d="M103.8 237.8l1.8.7 3-1.2-1.8-.2z" fill="#ea0"/>
<path d="M105.5 238.3l1.8.2 3-1.4-1.8 0z" fill="#ea0"/>
<path d="M107.2 238.3l1.8-.1 3-1.3-1.8.1z" fill="#ea0"/>
<path d="M108.9 238.1l1.9.3 2.9-1.7-1.8 0z" fill="#e90"/>
<path d="M110.7 238.2l1.9 1 2.9-2.3-1.9-.4z" fill="#fb0"/>
<path d="M112.4 239l1.9.7 2.9-2.7-1.9-.3z" fill="#fa0"/>
<path d="M114.1 239.6l1.9 0 2.9-2.9-1.9.1z" fill="#e90"/>
<path d="M115.9 239.4l1.8.1 2.9-2.7-1.9-.2z" fill="#e80"/>
<path d="M117.6 239.3l1.9.4 2.8-2.4-1.9-.6z" fill="#f80"/>
<path d="M119.3 239.5l1.9.2 2.9-2-1.9-.6z" fill="#f70"/>
<path d="M121 239.6l1.9.3 2.9-1.5-1.9-.9z" fill="#f80"/>
<path class="ed" d="M42.9 229.9l1.7-1.8 1.7 0 1.8.3 1.7.2 1.7.3 1.7.3 1.7-.1 1.8-.2 1.7.2 1.7.2 1.7 0 1.8.3 1.7.2 1.7 0 1.7.4 1.7.6 1.8.3 1.7 0 1.7-.1 1.7.2 1.7.2 1.8 0 1.7 0 1.7.4 1.7.6 1.7.7 1.8.4 1.7.3 1.7.2 1.7.5 1.7 1 1.8.8 1.7.1 1.7.1 1.7.4 1.7.2 1.8.2 1.7 0 1.7-.1 1.7-.3 1.8-.1 1.7.2 1.7.1 1.7-.2 1.7 0 1.8.5 1.7.4 1.7.7"/>
<path d="M37.6 230.9l1.8-1 3-.3-1.8 1.8z" fill="#a80"/>
<path d="M39.3 230.1l1.7-.1 3.1 0-1.7-.4z" fill="#960"/>
<path d="M41 229.9l1.8-.1 3.1.7-1.8-.5z" fill="#960"/>
<path d="M42.8 229.9l1.7.1 3.1.4-1.8.2z" fill="#970"/>
<path d="M44.5 230l1.7.4 3.1-.7-1.8.8z" fill="#970"/>
<path d="M46.2 230.3l1.9.8 2.9-1.9-1.8.4z" fill="#b80"/>
<path d="M47.9 230.9l1.9.6 2.9-2.1-1.9-.3z" fill="#fb0"/>
<path d="M49.7 231.3l1.8.3 3-1.5-2-.9z" fill="#fc0"/>
<path d="M51.4 231.4l1.8.3 3-.9-1.9-.9z" fill="#ea0"/>
<path d="M53.1 231.4l1.8.7 3-.8-1.8-.7z" fill="#d90"/>
<path d="M54.8 231.9l1.8.5 3-.7-1.8-.6z" fill="#c80"/>
<path d="M56.5 232.2l1.8.1 3-.6-1.7-.1z" fill="#970"/>
<path d="M58.3 232.2l1.8.4 3-1.2-1.8.2z" fill="#960"/>
<path d="M60 232.4l1.9.9 2.9-1.9-1.9-.2z" fill="#fb0"/>
<path d="M61.7 233.1l1.9.8 2.9-2.2-1.9-.5z" fill="#fc0"/>
<path d="M63.4 233.7l1.9.2 2.9-2.2-1.9-.2z" fill="#c80"/>
<path d="M65.2 233.7l1.8.2 2.9-2.3-1.8-.1z" fill="#b80"/>
<path d="M66.9 233.7l1.9.6 2.9-2.4-1.9-.5z" fill="#fa0"/>
<path d="M68.6 234.1l1.9.7 2.9-2.1-1.9-1z" fill="#fc0"/>
<path d="M70.3 234.6l1.9.6 2.9-2-1.9-.7z" fill="#fd0"/>
<path d="M72 235.1l1.9.1 2.9-2.1-1.9-.1z" fill="#b80"/>
<path d="M73.8 235l1.8 0 2.9-2.2-1.8.2z" fill="#a70"/>
<path d="M75.5 234.9l1.9.2 2.9-2.2-1.9-.2z" fill="#c70"/>
<path d="M77.2 234.9l1.9.4 2.9-2.1-1.9-.4z" fill="#e80"/>
<path d="M78.9 235.2l1.9.6 2.9-2.4-1.9-.3z" fill="#f90"/>
<path d="M80.6 235.6l1.9.7 2.9-2-1.9-1z" fill="#fb0"/>
<path d="M82.3 236.1l1.9.7 3-1.4-2-1.3z" fill="#fa0"/>
<path d="M84.1 236.5l1.8.8 3-1.4-1.9-.7z" fill="#fa0"/>
<path d="M85.8 237.1l1.8.2 3-1.5-1.8-.1z" fill="#970"/>
<path d="M87.5 237.1l1.8.1 3-1.3-1.8-.3z" fill="#960"/>
<path d="M89.2 237l1.9.8 2.9-1.5-1.8-.6z" fill="#e90"/>
<path d="M90.9 237.5l2 1.2 2.9-2.1-1.9-.5z" fill="#fc0"/>
<path d="M92.7 238.5l1.9.4 2.9-2.2-1.9-.3z" fill="#d90"/>
<path d="M94.4 238.8l1.9.4 2.9-2.2-1.9-.5z" fill="#ea0"/>
<path d="M96.1 239l1.9.5 2.9-2.4-1.9-.3z" fill="#ea0"/>
<path d="M97.9 239.4l1.8.1 2.9-2.3-1.9-.3z" fill="#ea0"/>
<path d="M99.6 239.3l1.8.1 3-1.7-1.9-.7z" fill="#ea0"/>
<path d="M101.3 239.2l1.9.5 2.9-1.5-1.9-.7z" fill="#fb0"/>
<path d="M103 239.5l1.9.8 2.9-2.2-1.9-.1z" fill="#fb0"/>
<path d="M104.7 240.2l1.9.5 2.9-2.8-1.9.1z" fill="#ea0"/>
<path d="M106.5 240.5l1.9.4 2.8-2.9-1.9-.3z" fill="#ea0"/>
<path d="M108.2 240.8l1.9.1 2.9-2.1-2-1z" fill="#fb0"/>
<path d="M109.9 240.8l1.8-.4 3-1-1.9-.8z" fill="#ea0"/>
<path d="M111.6 240.2l1.8 0 3-1-1.8 0z" fill="#e90"/>
<path d="M113.3 240.1l1.9.8 2.9-1.8-1.8-.1z" fill="#e80"/>
<path d="M115 240.7l1.9.6 2.9-2-1.8-.4z" fill="#f90"/>
<path d="M116.8 241.1l1.9.5 2.9-2.2-1.9-.3z" fill="#e80"/>
<path d="M118.5 241.4l1.9.6 2.9-2.5-1.9-.3z" fill="#e80"/>
<path class="ed" d="M40.4 231.1l1.7-1.4 1.7.3 1.8.4 1.7 0 1.7-.6 1.7-.5 1.7.2 1.8.7 1.7.7 1.7.4 1.7.4 1.7 0 1.8-.3 1.7.1 1.7.3 1.7 0 1.8-.1 1.7.3 1.7.8 1.7.5 1.7-.1 1.8-.2 1.7.1 1.7.2 1.7.3 1.7.8 1.8 1.1 1.7.5 1.7-.1 1.7.1 1.7.4 1.8.3 1.7.1 1.7.3 1.7.1 1.8.1 1.7.5 1.7.5 1.7-.1 1.7-.2 1.8.1 1.7.8 1.7.5 1.7-.1 1.7-.1 1.8.2 1.7.1 1.7.1"/>
<path d="M35.1 231.9l1.7-.8 3.1-1.1-1.7.8z" fill="#a70"/>
<path d="M36.8 231.1l1.9.2 2.9-1.4-1.8 0z" fill="#b80"/>
<path d="M38.5 231.2l1.9.5 2.9-1.9-1.8-.1z" fill="#d90"/>
<path d="M40.3 231.5l1.9.6 2.9-2.1-1.9-.4z" fill="#fa0"/>
<path d="M42 231.9l1.9.5 2.9-2.2-1.9-.4z" fill="#fb0"/>
<path d="M43.7 232.2l1.9.5 2.9-1.9-1.9-.8z" fill="#fc0"/>
<path d="M45.4 232.6l1.9.2 2.9-1.6-1.9-.6z" fill="#ea0"/>
<path d="M47.2 232.6l1.8 0 3-1.4-1.9-.2z" fill="#b80"/>
<path d="M48.9 232.5l1.8.3 3-1.4-1.9-.3z" fill="#c80"/>
<path d="M50.6 232.6l1.9.7 2.9-1.5-1.9-.6z" fill="#fb0"/>
<path d="M52.3 233.1l1.9.7 2.9-1.7-1.9-.5z" fill="#fb0"/>
<path d="M54 233.6l1.9.7 2.9-2.2-1.8-.2z" fill="#d90"/>
<path d="M55.8 234.1l1.9.5 2.8-2.4-1.8-.3z" fill="#ea0"/>
<path d="M57.5 234.4l1.9.1 2.9-1.5-1.9-.9z" fill="#fb0"/>
<path d="M59.2 234.3l1.8.3 3-1-1.9-.8z" fill="#d90"/>
<path d="M60.9 234.3l1.9.6 2.9-1.4-1.8-.1z" fill="#c80"/>
<path d="M62.6 234.7l1.9.5 2.9-1.6-1.8-.2z" fill="#c80"/>
<path d="M64.4 235l1.8.3 3-1.3-1.9-.6z" fill="#d90"/>
<path d="M66.1 235.1l1.8.1 3-.7-1.9-.7z" fill="#c80"/>
<path d="M67.8 235l1.8.5 3-.6-1.8-.6z" fill="#960"/>
<path d="M69.5 235.3l1.9 1.2 2.9-1.6-1.8-.2z" fill="#d90"/>
<path d="M71.2 236.3l2 1 2.8-2.6-1.8-.1z" fill="#fb0"/>
<path d="M73 237.2l1.9.4 2.8-2.9-1.9-.2z" fill="#d90"/>
<path d="M74.7 237.5l1.9.4 2.9-3-1.9-.4z" fill="#d90"/>
<path d="M76.4 237.8l1.9.3 2.9-2.7-1.9-.6z" fill="#e90"/>
<path d="M78.2 237.9l1.8-.1 2.9-1.9-1.9-.7z" fill="#c90"/>
<path d="M79.9 237.6l1.8 0 3-1.2-1.9-.7z" fill="#c80"/>
<path d="M81.6 237.4l1.8.7 3-1.1-1.9-.8z" fill="#d90"/>
<path d="M83.3 237.8l1.9 1.1 2.9-1.9-1.9-.3z" fill="#fa0"/>
<path d="M85 238.7l1.9.9 2.9-2.8-1.9 0z" fill="#ea0"/>
<path d="M86.8 239.5l1.9.5 2.8-2.6-1.9-.7z" fill="#fa0"/>
<path d="M88.5 239.8l1.9.3 2.9-1.8-2-1.1z" fill="#fc0"/>
<path d="M90.2 239.9l1.8.1 3-1.4-1.9-.5z" fill="#c80"/>
<path d="M91.9 239.9l1.9.3 2.9-1.3-1.9-.5z" fill="#d90"/>
<path d="M93.6 240l1.9.5 2.9-1.3-1.8-.5z" fill="#ea0"/>
<path d="M95.3 240.3l1.9.3 2.9-1.4-1.8-.2z" fill="#ea0"/>
<path d="M97.1 240.5l1.8.2 3-1.6-1.9-.1z" fill="#ea0"/>
<path d="M98.8 240.5l1.8.2 3-1.3-1.9-.5z" fill="#ea0"/>
<path d="M100.5 240.5l1.8.5 3-1-1.9-.8z" fill="#ea0"/>
<path d="M102.2 240.8l1.9.6 2.9-1-1.8-.6z" fill="#ea0"/>
<path d="M103.9 241.2l1.9.4 3-1-1.9-.4z" fill="#ea0"/>
<path d="M105.7 241.4l1.7.1 3.1-.9-1.8-.2z" fill="#ea0"/>
<path d="M107.4 241.3l1.8.3 3-1.5-1.8.4z" fill="#e90"/>
<path d="M109.1 241.4l1.9.5 2.9-1.9-1.8-.1z" fill="#e80"/>
<path d="M110.8 241.7l1.9.6 2.9-1.8-1.9-.7z" fill="#fa0"/>
<path d="M112.5 242.1l2 .8 2.8-2-1.9-.6z" fill="#fb0"/>
<path d="M114.3 242.7l1.9.9 2.9-2.4-1.9-.5z" fill="#fc0"/>
<path d="M116 243.4l1.9.5 2.9-2.3-1.9-.6z" fill="#fa0"/>
<path class="ed" d="M37.9 230.8l1.7-.7 1.7-.2 1.8 0 1.7.2 1.7.2 1.7.5 1.7.5 1.8 0 1.7.1 1.7.5 1.7.3 1.8 0 1.7.2 1.7.6 1.7.6 1.7 0 1.8 0 1.7.4 1.7.5 1.7.4 1.7 0 1.8-.1 1.7 0 1.7.3 1.7.4 1.7.5 1.8.5 1.7.5 1.7.1 1.7-.2 1.7.6 1.8.9 1.7.3 1.7.2 1.7.3 1.7 0 1.8 0 1.7.2 1.7.7 1.7.3 1.8.2 1.7.1 1.7-.5 1.7-.1 1.7.5 1.8.4 1.7.3 1.7.4"/>
<path d="M32.6 232l1.8.2 3-1.2-1.7.8z" fill="#970"/>
<path d="M34.3 232.1l1.9.2 2.9-1.3-1.8-.2z" fill="#b80"/>
<path d="M36 232.2l1.9.4 3-1.2-1.9-.6z" fill="#e90"/>
<path d="M37.8 232.4l1.8.5 3-1.2-1.9-.5z" fill="#d90"/>
<path d="M39.5 232.6l1.8.5 3-1-1.8-.6z" fill="#d90"/>
<path d="M41.2 232.9l1.8.5 3-1-1.8-.5z" fill="#c80"/>
<path d="M42.9 233.2l1.9.4 2.9-1.1-1.8-.3z" fill="#b80"/>
<path d="M44.7 233.4l1.8.6 3-1.7-1.9 0z" fill="#b80"/>
<path d="M46.4 233.8l1.9.4 2.9-1.8-1.9-.3z" fill="#c80"/>
<path d="M48.1 234l1.9.4 2.9-1.4-1.9-.8z" fill="#fa0"/>
<path d="M49.8 234.1l1.9.7 2.9-1.3-1.9-.7z" fill="#fa0"/>
<path d="M51.5 234.5l1.9.7 2.9-1.3-1.8-.6z" fill="#ea0"/>
<path d="M53.3 235l1.8.5 3-1.3-1.9-.5z" fill="#d90"/>
<path d="M55 235.3l1.9.6 2.9-1.8-1.9-.1z" fill="#c80"/>
<path d="M56.7 235.7l1.9.5 2.9-2-1.9-.2z" fill="#d90"/>
<path d="M58.4 236l1.9.4 2.9-1.8-1.9-.6z" fill="#ea0"/>
<path d="M60.1 236.2l1.9.3 2.9-1.7-1.8-.4z" fill="#c80"/>
<path d="M61.9 236.3l1.8.4 3-1.8-1.9-.3z" fill="#d90"/>
<path d="M63.6 236.6l1.9.5 2.9-2.2-1.9-.2z" fill="#d80"/>
<path d="M65.3 236.9l1.9.4 2.9-2.1-1.9-.5z" fill="#fa0"/>
<path d="M67 237.1l1.9.5 2.9-1.4-1.9-1.2z" fill="#fc0"/>
<path d="M68.7 237.4l1.9.5 3-.9-1.9-1z" fill="#e90"/>
<path d="M70.5 237.6l1.8.6 3-.9-1.8-.5z" fill="#960"/>
<path d="M72.2 238l1.8.6 3-1-1.8-.5z" fill="#c80"/>
<path d="M73.9 238.3l1.8.5 3-1.1-1.8-.3z" fill="#960"/>
<path d="M75.6 238.6l1.9.4 2.9-1.6-1.8.2z" fill="#960"/>
<path d="M77.4 238.9l1.8.4 2.9-2.1-1.8 0z" fill="#b80"/>
<path d="M79.1 239.1l1.9.5 2.9-1.9-1.9-.6z" fill="#fb0"/>
<path d="M80.8 239.4l1.9.6 2.9-1.4-1.9-1.1z" fill="#fc0"/>
<path d="M82.5 239.7l1.9.5 2.9-.9-1.9-.9z" fill="#e90"/>
<path d="M84.2 240l1.8.4 3-.7-1.8-.6z" fill="#970"/>
<path d="M85.9 240.2l1.8.4 3.1-.8-1.8-.3z" fill="#970"/>
<path d="M87.7 240.4l1.8.4 3-1.1-1.8-.1z" fill="#960"/>
<path d="M89.4 240.7l1.8.5 3-1.3-1.8-.4z" fill="#c80"/>
<path d="M91.1 241l1.9.5 2.9-1.3-1.8-.5z" fill="#ea0"/>
<path d="M92.8 241.3l1.9.4 2.9-1.4-1.8-.3z" fill="#ea0"/>
<path d="M94.6 241.5l1.8.4 3-1.5-1.9-.3z" fill="#ea0"/>
<path d="M96.3 241.7l1.9.5 2.9-1.8-1.9-.2z" fill="#ea0"/>
<path d="M98 242l1.9.5 2.9-1.8-1.9-.5z" fill="#fa0"/>
<path d="M99.7 242.3l1.9.6 2.9-1.8-1.9-.6z" fill="#fb0"/>
<path d="M101.4 242.7l1.9.5 2.9-1.9-1.8-.4z" fill="#ea0"/>
<path d="M103.2 243l1.9.5 2.9-2.3-1.9-.1z" fill="#ea0"/>
<path d="M104.9 243.3l1.9.3 2.9-2.4-1.9-.2z" fill="#e90"/>
<path d="M106.6 243.5l1.9.3 2.9-2.3-1.9-.4z" fill="#e90"/>
<path d="M108.3 243.6l1.9.5 2.9-2.2-1.9-.6z" fill="#fa0"/>
<path d="M110.1 243.9l1.9.6 2.9-1.9-2-.9z" fill="#fc0"/>
<path d="M111.8 244.2l1.9.6 2.9-1.5-1.9-.9z" fill="#fb0"/>
<path d="M113.5 244.6l1.9.5 2.9-1.5-1.9-.6z" fill="#ea0"/>
<path class="ed" d="M35.4 231.8l1.7-.7 1.7 0 1.8.3 1.7.4 1.7.4 1.7.3 1.7 0 1.8-.1 1.7.1 1.7.6 1.7.4 1.7.5 1.8.3 1.7-.1 1.7.1 1.7.4 1.8.2 1.7.1 1.7 0 1.7.3 1.7.9 1.8.8 1.7.4 1.7.2 1.7.2 1.7-.3 1.8-.2 1.7.5 1.7.8 1.7.7 1.7.4 1.8.1 1.7 0 1.7.2 1.7.2 1.8.2 1.7.1 1.7 0 1.7.3 1.7.4 1.8.1 1.7 0 1.7 0 1.7.3 1.7.4 1.8.7 1.7.6 1.7.3"/>
<path class="ed" d="M32.9 232l1.7 0 1.7.1 1.8.2 1.7.3 1.7.3 1.7.2 1.7.3 1.8.3 1.7.2 1.7.2 1.7.4 1.8.4 1.7.3 1.7.4 1.7.3 1.7.2 1.8.1 1.7.3 1.7.3 1.7.3 1.7.2 1.8.3 1.7.4 1.7.3 1.7.3 1.7.2 1.8.2 1.7.3 1.7.4 1.7.3 1.7.2 1.8.2 1.7.2 1.7.3 1.7.3 1.7.2 1.8.3 1.7.2 1.7.3 1.7.4 1.8.3 1.7.3 1.7.1 1.7.2 1.7.3 1.8.4 1.7.4 1.7.2"/>
<text x="2.5" y="181" class="pl">d</text>
<text x="82.5" y="184.5" text-anchor="middle" class="tt">1.71 μM</text>
<text x="17.6" y="206.4" class="tm">×</text>
<text x="24" y="206.6" class="tk">10<tspan dy="-6.2" class="sup">-3</tspan></text>
<text transform="translate(14.3 233.4) rotate(-90)" text-anchor="middle" class="al">Abs</text>
<text transform="translate(31.9 300.5) rotate(9)" class="al">Wave no. [cm<tspan dy="-3.6" class="sup2">-1</tspan><tspan dy="3.6">]</tspan></text>
<text transform="translate(126.5 309.8) rotate(-27.5)" class="al">Spectrum no.</text>
</g>
<g>
<line x1="214.3" y1="231.62" x2="259.3" y2="207.72" stroke="#e4e4e4" stroke-width="0.6"/>
<line x1="259.3" y1="207.72" x2="341.9" y2="220.92" stroke="#e4e4e4" stroke-width="0.6"/>
<line x1="214.3" y1="249.07" x2="259.3" y2="225.17" stroke="#e4e4e4" stroke-width="0.6"/>
<line x1="259.3" y1="225.17" x2="341.9" y2="238.37" stroke="#e4e4e4" stroke-width="0.6"/>
<line x1="214.3" y1="266.52" x2="259.3" y2="242.62" stroke="#e4e4e4" stroke-width="0.6"/>
<line x1="259.3" y1="242.62" x2="341.9" y2="255.82" stroke="#e4e4e4" stroke-width="0.6"/>
<line x1="281.77" y1="253.19" x2="281.77" y2="193.86" stroke="#e4e4e4" stroke-width="0.6"/>
<line x1="236.77" y1="277.09" x2="281.77" y2="253.19" stroke="#e4e4e4" stroke-width="0.6"/>
<line x1="305.47" y1="256.98" x2="305.47" y2="197.65" stroke="#e4e4e4" stroke-width="0.6"/>
<line x1="260.47" y1="280.88" x2="305.47" y2="256.98" stroke="#e4e4e4" stroke-width="0.6"/>
<line x1="329.18" y1="260.77" x2="329.18" y2="201.44" stroke="#e4e4e4" stroke-width="0.6"/>
<line x1="284.18" y1="284.67" x2="329.18" y2="260.77" stroke="#e4e4e4" stroke-width="0.6"/>
<line x1="238.29" y1="260.76" x2="238.29" y2="201.43" stroke="#e4e4e4" stroke-width="0.6"/>
<line x1="238.29" y1="260.76" x2="320.88" y2="273.96" stroke="#e4e4e4" stroke-width="0.6"/>
<line x1="214.3" y1="273.5" x2="296.9" y2="286.7" stroke="#6e6e6e" stroke-width="0.8"/>
<line x1="296.9" y1="286.7" x2="341.9" y2="262.8" stroke="#6e6e6e" stroke-width="0.8"/>
<line x1="341.9" y1="262.8" x2="259.3" y2="249.6" stroke="#6e6e6e" stroke-width="0.8"/>
<line x1="259.3" y1="249.6" x2="214.3" y2="273.5" stroke="#6e6e6e" stroke-width="0.8"/>
<line x1="214.3" y1="273.5" x2="214.3" y2="214.17" stroke="#6e6e6e" stroke-width="0.8"/>
<line x1="259.3" y1="249.6" x2="259.3" y2="190.27" stroke="#6e6e6e" stroke-width="0.8"/>
<line x1="341.9" y1="262.8" x2="341.9" y2="203.47" stroke="#6e6e6e" stroke-width="0.8"/>
<line x1="214.3" y1="214.17" x2="259.3" y2="190.27" stroke="#6e6e6e" stroke-width="0.8"/>
<line x1="259.3" y1="190.27" x2="341.9" y2="203.47" stroke="#6e6e6e" stroke-width="0.8"/>
<line x1="236.77" y1="277.09" x2="238.34" y2="276.25" stroke="#6e6e6e" stroke-width="0.8"/>
<text x="230.17" y="288.79" text-anchor="middle" class="tk">1400</text>
<line x1="260.47" y1="280.88" x2="262.05" y2="280.04" stroke="#6e6e6e" stroke-width="0.8"/>
<text x="253.87" y="292.58" text-anchor="middle" class="tk">1300</text>
<line x1="284.18" y1="284.67" x2="285.75" y2="283.83" stroke="#6e6e6e" stroke-width="0.8"/>
<text x="277.58" y="296.37" text-anchor="middle" class="tk">1200</text>
<line x1="296.9" y1="286.7" x2="295.25" y2="286.44" stroke="#6e6e6e" stroke-width="0.8"/>
<text x="302.7" y="296.2" text-anchor="middle" class="tk">0</text>
<line x1="320.88" y1="273.96" x2="319.23" y2="273.7" stroke="#6e6e6e" stroke-width="0.8"/>
<text x="328.88" y="284.96" text-anchor="middle" class="tk">50</text>
<line x1="214.3" y1="214.17" x2="212.48" y2="213.88" stroke="#6e6e6e" stroke-width="0.8"/>
<text x="210.7" y="218.77" text-anchor="end" class="tk">5</text>
<line x1="214.3" y1="231.62" x2="212.48" y2="231.33" stroke="#6e6e6e" stroke-width="0.8"/>
<text x="210.7" y="236.22" text-anchor="end" class="tk">0</text>
<line x1="214.3" y1="249.07" x2="212.48" y2="248.78" stroke="#6e6e6e" stroke-width="0.8"/>
<text x="210.7" y="253.67" text-anchor="end" class="tk">-5</text>
<line x1="214.3" y1="266.52" x2="212.48" y2="266.23" stroke="#6e6e6e" stroke-width="0.8"/>
<text x="210.7" y="271.12" text-anchor="end" class="tk">-10</text>
<path d="M256.7 241.8l1.8-20.3 2.6-.9-1.8 21.7z" fill="#04d"/>
<path d="M258.3 222l1.8-3.2 2.9-1-1.9 3.4z" fill="#a80"/>
<path d="M260 219.3l1.7-2 3-1.3-1.7 2.2z" fill="#970"/>
<path d="M261.7 217.6l1.7-1.4 3-1.6-1.6 1.6z" fill="#970"/>
<path d="M263.4 216.3l1.7-1 3.1-1.5-1.8.8z" fill="#a70"/>
<path d="M265.1 215.3l1.8-.7 3-1.2-1.8.4z" fill="#b80"/>
<path d="M266.8 214.6l1.8-.5 3-1.2-1.7.5z" fill="#b80"/>
<path d="M268.6 214l1.7-.2 3.1-1.3-1.8.3z" fill="#b80"/>
<path d="M270.3 213.7l1.8-.2 3-1.7-1.8.7z" fill="#a80"/>
<path d="M272 213.4l1.9-.2 2.9-2.3-1.8.8z" fill="#a70"/>
<path d="M273.7 213.1l1.9-.2 2.9-2.5-1.9.4z" fill="#b80"/>
<path d="M275.5 212.7l1.8-.4 2.9-2-1.8 0z" fill="#b80"/>
<path d="M277.2 212.1l1.8-.3 3-1.5-1.9-.1z" fill="#b70"/>
<path d="M278.9 211.6l1.8.2 3-1.6-1.9-.1z" fill="#d80"/>
<path d="M280.6 211.6l1.9.4 2.9-2-1.8.1z" fill="#e80"/>
<path d="M282.3 211.8l1.9.2 2.9-2.2-1.9 0z" fill="#d70"/>
<path d="M284.1 211.8l1.8-.2 2.9-1.8-1.8-.1z" fill="#b60"/>
<path d="M285.8 211.4l1.8-.4 3-1.6-1.9.3z" fill="#940"/>
<path d="M287.5 210.9l1.8-.2 3-1.9-1.8.4z" fill="#940"/>
<path d="M289.2 210.5l1.9 0 2.9-2-1.8.2z" fill="#b30"/>
<path d="M290.9 210.3l1.9.2 2.9-2.2-1.9 0z" fill="#d30"/>
<path d="M292.7 210.4l1.9.3 2.8-2.5-1.8-.1z" fill="#e30"/>
<path d="M294.4 210.5l1.9-.1 2.9-2-1.9-.3z" fill="#d30"/>
<path d="M296.1 210.3l1.8-.1 3-1.5-1.9-.5z" fill="#e30"/>
<path d="M297.8 210.1l1.9.3 2.9-1.3-1.9-.6z" fill="#d20"/>
<path d="M299.5 210.2l1.9.8 2.9-1.4-1.8-.7z" fill="#d20"/>
<path d="M301.2 210.8l2 1 2.9-1.9-1.9-.6z" fill="#f30"/>
<path d="M303 211.6l1.9 1.4 2.9-2.5-1.9-.8z" fill="#f30"/>
<path d="M304.7 212.7l1.9 1.9 2.9-2.6-2-1.7z" fill="#f50"/>
<path d="M306.4 214.3l2 2.9 2.8-2.4-1.9-3.1z" fill="#f60"/>
<path d="M308.1 216.8l2 4.2 2.8-2-1.9-4.6z" fill="#e90"/>
<path d="M309.8 220.7l2 2.1 2.9-1.6-2-2.6z" fill="#fc0"/>
<path d="M311.6 222.6l1.7-1.8 3-1.2-1.6 1.7z" fill="#a80"/>
<path d="M313.3 221l1.7-1 3.1-1.6-1.7 1.4z" fill="#970"/>
<path d="M315.1 220.1l1.7-1.1 3-1.8-1.7 1.2z" fill="#ea0"/>
<path d="M316.8 219l1.7-1.3 3-1.4-1.7.9z" fill="#ea0"/>
<path d="M318.5 217.8l1.7-1.7 3-1.2-1.7 1.5z" fill="#e80"/>
<path d="M320.2 216.4l1.7-1.5 3-2-1.7 2.3z" fill="#e60"/>
<path d="M322 215.1l1.7-1.3 2.9-2.9-1.6 2.2z" fill="#e30"/>
<path d="M323.7 213.8l1.7-1.5 3-2.8-1.8 1.4z" fill="#e10"/>
<path d="M325.4 212.2l1.8-1 2.9-2.7-1.8 1z" fill="#e00"/>
<path d="M327.1 211.1l1.8-.7 2.9-2.5-1.8.5z" fill="#d00"/>
<path d="M328.8 210.3l1.8-.4 3-1.7-1.9-.4z" fill="#d00"/>
<path d="M330.5 209.7l1.8-.2 3-1.1-1.8-.4z" fill="#d00"/>
<path d="M332.2 209.4l1.8 0 3-1.3-1.8.1z" fill="#d00"/>
<path d="M333.9 209.3l1.9.2 2.9-1.9-1.7.4z" fill="#d00"/>
<path d="M335.7 209.3l1.9.6 2.9-2.5-1.9 0z" fill="#d00"/>
<path d="M337.4 209.8l1.9.9 2.9-2.6-1.9-.8z" fill="#f00"/>
<path class="ed" d="M259.3 242l1.7-21.1 1.7-2.9 1.8-1.8 1.7-1.4 1.7-.8 1.7-.5 1.7-.5 1.8-.4 1.7-.7 1.7-.8 1.7-.5 1.8-.2 1.7 0 1.7-.1 1.7-.2 1.7-.2 1.8 0 1.7-.4 1.7-.6 1.7-.3 1.7-.2 1.8 0 1.7.1 1.7.3 1.7.4 1.7.4 1.8.4 1.7.6 1.7 1.4 1.7 2.7 1.7 4.2 1.8 2.3 1.7-1.4 1.7-1.3 1.7-1.1 1.7-1 1.8-1.3 1.7-2 1.7-2 1.7-1.4 1.8-1 1.7-.6 1.7.2 1.7.1 1.7-.2 1.8-.5 1.7-.2 1.7.7"/>
<path d="M254.2 241.6l1.8-19 2.6-1.1-1.8 20.3z" fill="#05d"/>
<path d="M255.8 223.1l1.8-3.3 2.9-.9-1.9 3.2z" fill="#b80"/>
<path d="M257.5 220.2l1.8-2.5 2.9-.4-1.8 2z" fill="#a80"/>
<path d="M259.2 218l1.8-1.7 3-.3-1.8 1.6z" fill="#a80"/>
<path d="M260.9 216.6l1.7-.4 3.1-1.2-1.7 1.3z" fill="#970"/>
<path d="M262.6 216.2l1.8-.1 3-1.7-1.7.6z" fill="#b80"/>
<path d="M264.4 216l1.7-.7 3-1.5-1.8.5z" fill="#a80"/>
<path d="M266.1 215.2l1.7-.7 3.1-1-1.8.3z" fill="#970"/>
<path d="M267.8 214.5l1.7-.7 3.1-.6-1.8.3z" fill="#970"/>
<path d="M269.5 213.8l1.7-.3 3.1-.6-1.7.3z" fill="#970"/>
<path d="M271.2 213.5l1.8.1 3-1.1-1.7.4z" fill="#970"/>
<path d="M272.9 213.5l1.9.2 2.9-1.8-1.7.5z" fill="#b80"/>
<path d="M274.7 213.6l1.8.1 2.9-2.3-1.8.4z" fill="#b80"/>
<path d="M276.4 213.5l1.9 0 2.9-2.1-1.9-.1z" fill="#d80"/>
<path d="M278.1 213.4l1.8-.2 3-1.6-1.9-.4z" fill="#d80"/>
<path d="M279.8 213.1l1.9 0 2.9-1.5-1.8-.1z" fill="#c70"/>
<path d="M281.5 212.9l1.9.3 2.9-2-1.8.3z" fill="#b60"/>
<path d="M283.3 213l1.8 0 2.9-2.3-1.8.4z" fill="#b50"/>
<path d="M285 212.8l1.9-.1 2.9-2.4-1.9.3z" fill="#b50"/>
<path d="M286.7 212.6l1.9.1 2.9-2.6-1.9 0z" fill="#c40"/>
<path d="M288.5 212.6l1.8 0 2.9-2.5-1.9-.2z" fill="#d40"/>
<path d="M290.2 212.4l1.8-.2 2.9-1.9-1.9-.3z" fill="#c40"/>
<path d="M291.9 212.1l1.8-.1 3-1.9-1.9 0z" fill="#b30"/>
<path d="M293.6 211.9l1.9-.1 2.9-1.9-1.9 0z" fill="#b20"/>
<path d="M295.3 211.6l1.9.2 2.9-1.7-1.9-.4z" fill="#c20"/>
<path d="M297 211.6l1.9.7 2.9-1.6-1.9-.8z" fill="#f20"/>
<path d="M298.7 212.1l2 1 2.9-1.6-2-1.1z" fill="#f30"/>
<path d="M300.5 212.8l1.9 1.5 2.9-1.6-1.9-1.4z" fill="#f40"/>
<path d="M302.2 213.9l1.9 2.2 2.9-1.8-1.9-1.9z" fill="#f50"/>
<path d="M303.9 215.7l2 3 2.8-1.7-1.9-3z" fill="#e60"/>
<path d="M305.7 218.3l1.9 3.9 2.8-1.3-1.9-4.3z" fill="#e90"/>
<path d="M307.3 221.8l2 2 2.9-1.3-2-2z" fill="#fc0"/>
<path d="M309.1 223.7l1.7-1.7 3-1.3-1.7 1.9z" fill="#a80"/>
<path d="M310.8 222.3l1.7-1.2 3.1-1.3-1.7 1z" fill="#970"/>
<path d="M312.5 221.2l1.7-1.1 3.1-1.4-1.7 1.2z" fill="#ea0"/>
<path d="M314.3 220.2l1.7-1.1 3-1.6-1.7 1.3z" fill="#ea0"/>
<path d="M316 219.2l1.8-.9 2.9-2.3-1.7 1.5z" fill="#e80"/>
<path d="M317.7 218.3l1.9-.7 2.8-2.9-1.7 1.3z" fill="#e60"/>
<path d="M319.5 217.6l1.8-1.2 2.8-3-1.7 1.2z" fill="#e40"/>
<path d="M321.2 216.3l1.7-1.7 3-2.8-1.8 1.5z" fill="#e20"/>
<path d="M322.9 214.6l1.7-1.5 3-2.4-1.8 1.1z" fill="#e10"/>
<path d="M324.6 213.1l1.8-.8 2.9-2.3-1.8.7z" fill="#e00"/>
<path d="M326.3 212.2l1.9-.2 2.9-2.5-1.9.4z" fill="#d00"/>
<path d="M328 211.9l1.9.1 2.9-2.9-1.9.3z" fill="#d00"/>
<path d="M329.8 211.9l1.8.1 2.9-3-1.9 0z" fill="#d00"/>
<path d="M331.5 211.9l1.9 0 2.8-2.8-1.9-.2z" fill="#d00"/>
<path d="M333.2 211.8l1.9.5 2.9-2.8-2-.6z" fill="#f00"/>
<path d="M334.9 212.1l1.9 1.1 2.9-2.9-1.9-.9z" fill="#f00"/>
<path class="ed" d="M256.8 241.5l1.7-19.7 1.7-2.7 1.8-1.7 1.7-1.3 1.7-1 1.7-.6 1.7-.6 1.8-.3 1.7-.3 1.7-.3 1.7-.4 1.7-.6 1.8-.5 1.7 0 1.7.2 1.7 0 1.8-.4 1.7-.5 1.7-.4 1.7-.2 1.7.1 1.8.1 1.7-.2 1.7-.2 1.7.2 1.7.5 1.8.9 1.7 1.1 1.7 1.6 1.7 2.6 1.7 3.8 1.8 1.8 1.7-1.6 1.7-1 1.7-1.1 1.8-1.2 1.7-1.4 1.7-1.3 1.7-1.3 1.7-1.5 1.8-1.2 1.7-.7 1.7-.6 1.7-.3 1.7-.1 1.8 0 1.7.5 1.7.7"/>
<path d="M251.7 240.7l1.8-17.9 2.6-.2-1.8 19z" fill="#07d"/>
<path d="M253.3 223.2l1.8-3 2.9-.3-1.9 3.3z" fill="#b80"/>
<path d="M255 220.6l1.8-2.1 2.9-.7-1.8 2.5z" fill="#b80"/>
<path d="M256.7 218.9l1.7-1.3 3-1.2-1.7 1.7z" fill="#a70"/>
<path d="M258.4 217.7l1.7-.6 3.1-1.1-1.8.4z" fill="#b80"/>
<path d="M260.1 217.1l1.7-.5 3.1-.8-1.7.1z" fill="#b80"/>
<path d="M261.8 216.6l1.8-.4 3-1.2-1.7.8z" fill="#970"/>
<path d="M263.6 216.2l1.8-.1 2.9-1.8-1.7.7z" fill="#b80"/>
<path d="M265.3 216l1.9.2 2.8-2.6-1.8.5z" fill="#c90"/>
<path d="M267 216.1l1.9.2 2.9-3-1.9.2z" fill="#d90"/>
<path d="M268.8 216.2l1.8-.5 2.9-2.4-1.9-.1z" fill="#c80"/>
<path d="M270.5 215.6l1.8-.6 2.9-1.6-1.8-.2z" fill="#b80"/>
<path d="M272.2 214.8l1.8.2 3-1.7-1.9-.1z" fill="#d90"/>
<path d="M273.9 214.8l1.9.3 2.9-1.9-1.9 0z" fill="#d80"/>
<path d="M275.6 214.9l1.9-.1 2.9-2-1.8.2z" fill="#b70"/>
<path d="M277.3 214.7l1.8-.4 3-1.6-1.8 0z" fill="#b60"/>
<path d="M279 214.2l1.9-.1 2.9-1.2-1.8-.3z" fill="#c60"/>
<path d="M280.8 213.9l1.8.5 3-1.8-1.9.1z" fill="#c60"/>
<path d="M282.5 214.2l1.9.3 2.9-2.2-1.9.2z" fill="#c60"/>
<path d="M284.2 214.3l1.9.1 2.9-2.1-1.9-.1z" fill="#d50"/>
<path d="M285.9 214.3l1.9.5 2.9-2.7-1.9.1z" fill="#e60"/>
<path d="M287.7 214.6l1.9.3 2.8-3.1-1.9.2z" fill="#d50"/>
<path d="M289.4 214.8l1.9-.1 2.8-3.1-1.8.1z" fill="#c40"/>
<path d="M291.1 214.5l1.9-.4 2.9-2.7-1.9.1z" fill="#b30"/>
<path d="M292.8 214l1.9-.3 2.9-2.3-1.9-.1z" fill="#b20"/>
<path d="M294.5 213.5l1.9.3 2.9-1.8-1.9-.7z" fill="#d20"/>
<path d="M296.2 213.6l2 .8 2.9-1.6-2-1z" fill="#f30"/>
<path d="M298 214.1l1.9 1.5 2.9-1.6-1.9-1.5z" fill="#f30"/>
<path d="M299.7 215.3l1.9 2.3 2.9-1.8-1.9-2.1z" fill="#e40"/>
<path d="M301.4 217.2l2 2.7 2.8-1.4-1.9-3z" fill="#e70"/>
<path d="M303.2 219.5l1.9 3.7 2.8-1.2-1.9-3.9z" fill="#e90"/>
<path d="M304.9 222.8l1.9 2.3 2.9-1.5-2-2z" fill="#fc0"/>
<path d="M306.6 225l1.7-1.1 3-1.9-1.6 1.5z" fill="#a80"/>
<path d="M308.3 223.9l1.8-1 3-2-1.8 1z" fill="#a80"/>
<path d="M310.1 222.9l1.6-1.7 3.1-1.3-1.7 1z" fill="#ea0"/>
<path d="M311.8 221.4l1.7-1.5 3-1-1.7 1.2z" fill="#ea0"/>
<path d="M313.5 220.1l1.7-.8 3-1.3-1.7 1z" fill="#e80"/>
<path d="M315.2 219.4l1.7-1.1 3.1-1-1.7.7z" fill="#e70"/>
<path d="M316.9 218.4l1.7-1.4 3.1-1-1.7 1.5z" fill="#e50"/>
<path d="M318.6 217.2l1.8-.8 3-2.2-1.7 2z" fill="#e30"/>
<path d="M320.4 216.4l1.8-.8 2.9-2.9-1.7 1.5z" fill="#e10"/>
<path d="M322.1 215.5l1.9-.6 2.8-3.1-1.8.8z" fill="#e00"/>
<path d="M323.8 214.8l1.9-.4 2.8-2.8-1.8.2z" fill="#e00"/>
<path d="M325.5 214.3l1.9-.4 2.9-2.3-1.9-.2z" fill="#d00"/>
<path d="M327.2 213.8l1.9-.1 2.9-2.1-1.9-.2z" fill="#d00"/>
<path d="M329 213.5l1.8.1 2.9-2.1-1.8 0z" fill="#d00"/>
<path d="M330.7 213.4l1.9.3 2.9-1.8-1.9-.5z" fill="#d00"/>
<path d="M332.4 213.5l1.9.6 2.9-1.2-1.9-1.2z" fill="#d00"/>
<path class="ed" d="M254.3 241.3l1.7-18.4 1.7-2.8 1.8-2.2 1.7-1.3 1.7-.5 1.7-.3 1.7-.7 1.8-.7 1.7-.6 1.7-.3 1.7-.1 1.8.1 1.7-.1 1.7-.1 1.7-.3 1.7-.2 1.8.1 1.7-.2 1.7-.2 1.7-.1 1.7-.1 1.8-.3 1.7-.3 1.7-.2 1.7.1 1.7.4 1.8.8 1.7 1.2 1.7 1.8 1.7 2.6 1.7 3.5 1.8 1.6 1.7-1.4 1.7-1 1.7-1 1.7-1.1 1.8-.9 1.7-.7 1.7-1.3 1.7-1.7 1.8-1.5 1.7-.9 1.7-.3 1.7 0 1.7 0 1.8-.1 1.7.4 1.7.9"/>
<path d="M249.2 239.9l1.8-16.6 2.6-.5-1.8 17.9z" fill="#08d"/>
<path d="M250.8 223.8l1.8-3.1 2.9-.4-1.9 3z" fill="#b80"/>
<path d="M252.5 221.2l1.8-2.4 2.9-.2-1.8 2.2z" fill="#b80"/>
<path d="M254.2 219.2l1.7-1.2 3.1-.5-1.8 1.4z" fill="#a70"/>
<path d="M255.9 218.2l1.7-.2 3.1-1.1-1.7.7z" fill="#970"/>
<path d="M257.6 217.9l1.8-.1 3-1.4-1.7.4z" fill="#b80"/>
<path d="M259.3 217.7l1.8-.3 3-1.4-1.8.3z" fill="#b80"/>
<path d="M261.1 217.3l1.8-.1 3-1.4-1.9 0z" fill="#c90"/>
<path d="M262.8 217.1l1.8-.2 3-1-1.8-.3z" fill="#c90"/>
<path d="M264.5 216.8l1.7-.6 3.1-.2-1.8-.2z" fill="#970"/>
<path d="M266.2 216.2l1.7-.1 3.1-.7-1.7.7z" fill="#970"/>
<path d="M267.9 216.1l1.9.3 2.9-1.8-1.7.7z" fill="#960"/>
<path d="M269.7 216.3l1.9.4 2.9-2.1-1.9-.1z" fill="#fb0"/>
<path d="M271.4 216.5l1.9.1 2.9-1.9-1.9-.3z" fill="#e90"/>
<path d="M273.1 216.5l1.9-.1 2.9-2-1.9.1z" fill="#b70"/>
<path d="M274.8 216.2l1.9-.1 2.9-2.1-1.8.3z" fill="#a60"/>
<path d="M276.6 215.9l1.8 0 2.9-2.2-1.8.1z" fill="#b60"/>
<path d="M278.3 215.8l1.8.1 3-1.9-1.9-.4z" fill="#f70"/>
<path d="M280 215.7l1.8 0 3-1.6-1.9-.3z" fill="#c60"/>
<path d="M281.7 215.6l1.8 0 3-1.5-1.8-.2z" fill="#b50"/>
<path d="M283.4 215.4l1.9.3 2.9-1.3-1.8-.5z" fill="#d50"/>
<path d="M285.1 215.5l1.8.1 3.1-1-1.9-.4z" fill="#940"/>
<path d="M286.9 215.4l1.7-.1 3.1-1-1.8.2z" fill="#930"/>
<path d="M288.6 215.2l1.8.1 3-1.6-1.8.5z" fill="#930"/>
<path d="M290.3 215.2l1.9.4 2.9-2.3-1.8.3z" fill="#b30"/>
<path d="M292 215.5l2 .5 2.8-2.6-1.9-.3z" fill="#d30"/>
<path d="M293.8 215.9l1.9.8 2.8-2.7-1.9-.8z" fill="#f40"/>
<path d="M295.5 216.5l1.9 1.1 2.9-2.3-2-1.5z" fill="#f50"/>
<path d="M297.2 217.3l1.9 1.5 2.9-1.5-2-2.3z" fill="#f50"/>
<path d="M298.9 218.4l2 2.5 2.8-1.2-1.9-2.7z" fill="#e70"/>
<path d="M300.7 220.4l1.9 4.1 2.8-1.5-1.9-3.7z" fill="#e90"/>
<path d="M302.4 224.1l1.9 2.7 2.9-2-2-2.2z" fill="#eb0"/>
<path d="M304.1 226.6l1.8-.8 2.9-2.2-1.7 1z" fill="#b80"/>
<path d="M305.8 225.7l1.8-1 3-2.1-1.8 1z" fill="#a70"/>
<path d="M307.6 224.6l1.7-1.1 3-2.4-1.7 1.5z" fill="#ea0"/>
<path d="M309.3 223.5l1.8-.9 2.9-2.8-1.8 1.2z" fill="#ea0"/>
<path d="M311 222.5l1.8-.8 2.9-2.6-1.8.6z" fill="#e80"/>
<path d="M312.7 221.6l1.8-1 2.9-2.5-1.8.9z" fill="#e70"/>
<path d="M314.5 220.6l1.7-1.4 3-2.3-1.8 1.1z" fill="#e50"/>
<path d="M316.2 219.2l1.6-1.6 3.1-1.5-1.8.8z" fill="#e30"/>
<path d="M317.9 217.7l1.7-1.3 3-1.2-1.7.9z" fill="#e10"/>
<path d="M319.6 216.5l1.8-.3 2.9-1.7-1.7.7z" fill="#e10"/>
<path d="M321.3 216.1l1.9.1 2.9-2.2-1.8.4z" fill="#e00"/>
<path d="M323 216.1l1.9-.1 2.9-2.5-1.9.4z" fill="#e00"/>
<path d="M324.8 215.9l1.8-.2 2.9-2.4-1.9.1z" fill="#d00"/>
<path d="M326.5 215.5l1.8.1 2.9-2.4-1.8-.1z" fill="#d00"/>
<path d="M328.2 215.5l1.9.5 2.8-2.7-1.8-.3z" fill="#d00"/>
<path d="M329.9 215.8l1.9.8 2.9-2.9-1.9-.5z" fill="#e00"/>
<path class="ed" d="M251.8 240.4l1.7-17.3 1.7-2.6 1.8-1.8 1.7-1.1 1.7-.6 1.7-.5 1.7-.4 1.8-.2 1.7 0 1.7.1 1.7-.6 1.7-.6 1.8-.1 1.7.1 1.7-.2 1.7-.5 1.8-.3 1.7.3 1.7.1 1.7 0 1.7.3 1.8.1 1.7-.2 1.7-.6 1.7-.4 1.7.1 1.8.6 1.7 1.2 1.7 2 1.7 2.3 1.7 3.3 1.8 1.9 1.7-1 1.7-1.1 1.7-1.4 1.8-1.3 1.7-.8 1.7-1 1.7-1.1 1.7-.9 1.8-.9 1.7-.7 1.7-.4 1.7-.5 1.7-.3 1.8-.1 1.7.1 1.7.4"/>
<path d="M246.7 239.6l1.8-15.4 2.6-.9-1.8 16.6z" fill="#09d"/>
<path d="M248.3 224.7l1.8-2.5 2.9-1.4-1.8 3.1z" fill="#a80"/>
<path d="M250 222.6l1.7-1.4 3-2.3-1.7 2.2z" fill="#970"/>
<path d="M251.7 221.2l1.8-.8 2.9-2.4-1.8.8z" fill="#b80"/>
<path d="M253.4 220.3l1.9-.4 2.9-2.2-1.9.2z" fill="#c90"/>
<path d="M255.1 219.8l1.9-.4 2.9-1.9-1.8.1z" fill="#b80"/>
<path d="M256.9 219.3l1.7-.8 3-1.4-1.8.3z" fill="#a70"/>
<path d="M258.6 218.5l1.8-.3 3-1.3-1.9.1z" fill="#b80"/>
<path d="M260.3 218.1l1.8.2 3-1.7-1.8.2z" fill="#c90"/>
<path d="M262 218.2l1.9 0 2.9-2.1-1.8.3z" fill="#b80"/>
<path d="M263.7 218l1.9 0 2.9-2.1-1.9 0z" fill="#c80"/>
<path d="M265.4 217.9l1.9.2 2.9-2-1.9-.4z" fill="#fb0"/>
<path d="M267.2 218l1.8.1 3-1.8-1.9-.4z" fill="#fb0"/>
<path d="M268.9 217.9l1.8 0 3-1.6-1.9-.2z" fill="#c80"/>
<path d="M270.6 217.7l1.8-.1 3-1.6-1.8.1z" fill="#b70"/>
<path d="M272.3 217.5l1.9 0 2.9-1.8-1.8.2z" fill="#b70"/>
<path d="M274.1 217.4l1.8.2 2.9-2.1-1.8 0z" fill="#c70"/>
<path d="M275.8 217.4l1.8.2 3-2.1-1.9-.1z" fill="#d70"/>
<path d="M277.5 217.4l1.8-.1 3-1.9-1.9-.1z" fill="#b60"/>
<path d="M279.2 217.2l1.9-.1 2.9-1.9-1.9 0z" fill="#b50"/>
<path d="M280.9 216.9l1.9.1 2.9-1.7-1.8-.2z" fill="#c50"/>
<path d="M282.7 216.8l1.8.1 2.9-1.6-1.8-.1z" fill="#b40"/>
<path d="M284.4 216.7l1.8.3 3-2-1.9.1z" fill="#c40"/>
<path d="M286.1 216.8l1.9.1 2.9-1.9-1.9-.1z" fill="#c40"/>
<path d="M287.8 216.7l1.9.1 2.9-1.5-1.9-.5z" fill="#c30"/>
<path d="M289.5 216.6l1.9.9 2.9-1.8-1.9-.6z" fill="#f40"/>
<path d="M291.2 217.3l2 1.2 2.9-2.2-2-.8z" fill="#f50"/>
<path d="M293 218.2l1.9 1.4 2.9-2.4-2-1.1z" fill="#f60"/>
<path d="M294.7 219.3l1.9 1.5 2.9-2.4-1.9-1.4z" fill="#f70"/>
<path d="M296.4 220.5l2 2.2 2.8-2.1-1.9-2.4z" fill="#f80"/>
<path d="M298.1 222.3l2 3.3 2.8-1.3-1.9-4z" fill="#e90"/>
<path d="M299.9 225.2l1.9 2 2.8-.6-1.9-2.7z" fill="#ea0"/>
<path d="M301.6 227l1.8-1.6 3 .1-1.8 1.2z" fill="#a80"/>
<path d="M303.3 225.7l1.8-1.3 3 0-1.8 1.4z" fill="#a80"/>
<path d="M305 224.7l1.7-.8 3.1-.7-1.8 1.5z" fill="#ea0"/>
<path d="M306.7 224l1.8-.3 3-1.5-1.7 1.1z" fill="#ea0"/>
<path d="M308.5 223.6l1.7-.5 3-1.8-1.7.9z" fill="#e90"/>
<path d="M310.2 223.1l1.7-1.3 3-1.6-1.7 1.1z" fill="#e80"/>
<path d="M311.9 221.9l1.7-1.3 3.1-1.8-1.7 1.5z" fill="#e60"/>
<path d="M313.7 220.7l1.7-1.2 3-2.1-1.7 1.5z" fill="#e40"/>
<path d="M315.4 219.5l1.7-1 3-2.3-1.7 1.2z" fill="#e20"/>
<path d="M317.1 218.4l1.8-.3 2.9-2.3-1.8.3z" fill="#e10"/>
<path d="M318.8 217.9l1.9.1 2.9-2.2-1.9-.1z" fill="#e00"/>
<path d="M320.5 217.8l1.9 0 2.9-2.2-1.9.1z" fill="#e00"/>
<path d="M322.2 217.6l1.9.1 2.9-2.4-1.8.2z" fill="#e00"/>
<path d="M324 217.5l1.9.2 2.8-2.5-1.9-.1z" fill="#d00"/>
<path d="M325.7 217.5l1.9.5 2.9-2.4-1.9-.5z" fill="#f00"/>
<path d="M327.4 217.8l1.9.9 2.9-2.5-1.9-.8z" fill="#f00"/>
<path class="ed" d="M249.3 239.6l1.7-16 1.7-2.6 1.8-1.9 1.7-1 1.7-.2 1.7-.3 1.7-.4 1.8-.2 1.7-.3 1.7-.5 1.7-.2 1.8.2 1.7.2 1.7-.1 1.7-.2 1.7-.3 1.8-.2 1.7 0 1.7-.1 1.7-.1 1.7 0 1.8 0 1.7-.3 1.7 0 1.7.2 1.7.5 1.8.6 1.7.9 1.7 1.2 1.7 2.1 1.7 3.6 1.8 2.3 1.7-1 1.7-1 1.7-1.2 1.7-1 1.8-.9 1.7-1 1.7-1.4 1.7-1.4 1.8-1.2 1.7-.4 1.7-.1 1.7-.2 1.7-.3 1.8-.1 1.7.4 1.7.6"/>
<path d="M244.2 239.1l1.8-14.5 2.6-.4-1.8 15.4z" fill="#0bd"/>
<path d="M245.8 225.1l1.8-2.4 2.9-.5-1.8 2.6z" fill="#a80"/>
<path d="M247.5 223.1l1.7-1.6 3-.6-1.7 1.7z" fill="#a70"/>
<path d="M249.2 221.8l1.7-1.2 3.1-.6-1.8 1.2z" fill="#970"/>
<path d="M250.9 220.8l1.7-.8 3.1-.4-1.7.5z" fill="#970"/>
<path d="M252.6 220.1l1.7-.4 3.1-.6-1.7.6z" fill="#970"/>
<path d="M254.3 219.7l1.8-.3 3-1.1-1.7.8z" fill="#970"/>
<path d="M256.1 219.3l1.7-.2 3.1-1.2-1.8.3z" fill="#970"/>
<path d="M257.8 219l1.8.1 3-1.1-1.8-.2z" fill="#d90"/>
<path d="M259.5 219l1.9.4 2.9-1.6-1.8 0z" fill="#d90"/>
<path d="M261.2 219.2l1.9.3 2.9-1.8-1.8 0z" fill="#c90"/>
<path d="M262.9 219.3l1.9.2 2.9-1.7-1.8-.3z" fill="#ea0"/>
<path d="M264.7 219.3l1.8.1 3-1.7-1.9-.1z" fill="#c90"/>
<path d="M266.4 219.3l1.9.1 2.9-1.9-1.9.1z" fill="#c80"/>
<path d="M268.1 219.3l1.9.2 2.9-2.2-1.9 0z" fill="#c80"/>
<path d="M269.8 219.4l1.9 0 2.9-2.3-1.9 0z" fill="#c70"/>
<path d="M271.6 219.2l1.8-.3 2.9-1.7-1.8-.2z" fill="#b70"/>
<path d="M273.3 218.8l1.8-.2 3-1.4-1.9-.1z" fill="#b60"/>
<path d="M275 218.5l1.8.1 3-1.6-1.8.1z" fill="#b50"/>
<path d="M276.7 218.4l1.9.4 2.9-2.1-1.8.1z" fill="#c50"/>
<path d="M278.4 218.6l1.9.3 2.9-2.3-1.9 0z" fill="#d50"/>
<path d="M280.2 218.8l1.9.2 2.8-2.5-1.8-.1z" fill="#c50"/>
<path d="M281.9 218.8l1.9.2 2.9-2.4-1.9-.3z" fill="#e50"/>
<path d="M283.6 218.9l1.9.1 2.9-2.6-1.9 0z" fill="#c40"/>
<path d="M285.3 218.9l1.9.3 2.9-2.8-1.9-.1z" fill="#d40"/>
<path d="M287 219l2 .8 2.8-2.7-1.9-.8z" fill="#f50"/>
<path d="M288.8 219.6l1.9.9 2.9-2.4-2-1.1z" fill="#f60"/>
<path d="M290.5 220.3l1.9 1 2.9-2.1-2-1.3z" fill="#f70"/>
<path d="M292.2 221l1.9 1.4 2.9-1.9-1.9-1.5z" fill="#f80"/>
<path d="M293.9 222.1l2 2.1 2.8-1.8-1.9-2.2z" fill="#f90"/>
<path d="M295.6 223.8l2 3 2.8-1.4-1.9-3.3z" fill="#ea0"/>
<path d="M297.3 226.5l2 1.9 2.9-1.5-2-1.9z" fill="#fc0"/>
<path d="M299.1 228.2l1.7-.8 3-2-1.6 1.5z" fill="#970"/>
<path d="M300.8 227.4l1.8-.9 3-2-1.8.9z" fill="#a70"/>
<path d="M302.5 226.5l1.8-.7 3-2-1.8.6z" fill="#ea0"/>
<path d="M304.3 225.7l1.8-.5 2.9-1.8-1.8.3z" fill="#ea0"/>
<path d="M306 225.1l1.7-.6 3-1.7-1.7.5z" fill="#e90"/>
<path d="M307.7 224.4l1.7-1.3 3.1-1.5-1.7 1.2z" fill="#e80"/>
<path d="M309.4 223.2l1.7-1.4 3.1-1.4-1.7 1.3z" fill="#e60"/>
<path d="M311.2 221.9l1.7-1 3-1.7-1.7 1.3z" fill="#e40"/>
<path d="M312.9 220.9l1.8-.6 2.9-2.2-1.7 1.1z" fill="#e20"/>
<path d="M314.6 220.2l1.8-.2 2.9-2.3-1.8.3z" fill="#e10"/>
<path d="M316.3 219.9l1.9-.2 2.9-2.1-1.9-.1z" fill="#e10"/>
<path d="M318 219.6l1.9 0 2.9-2.2-1.9 0z" fill="#e00"/>
<path d="M319.7 219.5l1.9 0 2.9-2.2-1.9-.1z" fill="#e00"/>
<path d="M321.5 219.4l1.9.3 2.8-2.4-1.9-.2z" fill="#e00"/>
<path d="M323.2 219.6l1.9.7 2.9-2.7-2-.5z" fill="#f00"/>
<path d="M324.9 220.2l1.9.7 2.9-2.6-1.9-.9z" fill="#f00"/>
<path class="ed" d="M246.8 239.3l1.7-14.8 1.7-2.1 1.8-1.3 1.7-1 1.7-.5 1.7-.5 1.7-.7 1.8-.4 1.7 0 1.7-.1 1.7-.1 1.7.1 1.8-.1 1.7-.2 1.7-.2 1.7-.1 1.8 0 1.7 0 1.7-.2 1.7-.3 1.7-.1 1.8-.1 1.7.1 1.7-.1 1.7 0 1.7.6 1.8 1 1.7 1.1 1.7 1.2 1.7 1.9 1.7 2.9 1.8 1.6 1.7-1.3 1.7-1 1.7-.7 1.8-.4 1.7-.6 1.7-1.2 1.7-1.2 1.7-1.1 1.8-1.1 1.7-.5 1.7-.1 1.7-.2 1.7-.1 1.8 0 1.7.3 1.7.7"/>
<path d="M241.7 238.6l1.8-12.9 2.6-1-1.8 14.4z" fill="#0cc"/>
<path d="M243.3 226.1l1.7-2.1 3-1.2-1.8 2.4z" fill="#a70"/>
<path d="M245 224.4l1.7-1.8 3-1.1-1.7 1.5z" fill="#a70"/>
<path d="M246.7 222.9l1.7-1.2 3.1-1.1-1.7 1z" fill="#970"/>
<path d="M248.4 221.8l1.7-.9 3.1-1-1.7.8z" fill="#a70"/>
<path d="M250.1 221l1.7-.5 3.1-.9-1.7.3z" fill="#970"/>
<path d="M251.8 220.5l1.8 0 3-1.3-1.7.3z" fill="#b80"/>
<path d="M253.6 220.4l1.8.2 2.9-1.8-1.8.2z" fill="#c90"/>
<path d="M255.3 220.5l1.9.3 2.9-2-1.9-.2z" fill="#fb0"/>
<path d="M257 220.6l1.9.2 2.9-1.7-1.9-.5z" fill="#fc0"/>
<path d="M258.7 220.6l1.8-.2 3-1.3-1.8-.2z" fill="#b80"/>
<path d="M260.4 220.3l1.8-.3 3-.8-1.8-.2z" fill="#960"/>
<path d="M262.2 219.9l1.7.1 3.1-.9-1.8-.1z" fill="#960"/>
<path d="M263.9 219.9l1.8.2 3-1-1.8-.1z" fill="#960"/>
<path d="M265.6 220l1.7-.2 3.1-.6-1.8-.2z" fill="#960"/>
<path d="M267.3 219.7l1.8.2 3-.9-1.7.1z" fill="#960"/>
<path d="M269 219.8l1.9.5 2.9-1.7-1.7.3z" fill="#b60"/>
<path d="M270.8 220.1l1.8.3 3-2.1-1.9.1z" fill="#c60"/>
<path d="M272.5 220.2l1.9.3 2.9-2.3-1.9-.1z" fill="#d70"/>
<path d="M274.2 220.3l1.9.1 2.9-2-1.9-.3z" fill="#d60"/>
<path d="M275.9 220.3l1.8-.4 3-1.4-1.8-.3z" fill="#b50"/>
<path d="M277.7 219.8l1.7-.5 3.1-.6-1.9-.3z" fill="#940"/>
<path d="M279.4 219.2l1.8.3 3-.8-1.8-.2z" fill="#930"/>
<path d="M281.1 219.4l1.9.9 2.9-1.6-1.8-.2z" fill="#d50"/>
<path d="M282.8 220.1l1.9.6 2.9-1.8-1.9-.4z" fill="#e50"/>
<path d="M284.5 220.5l1.9.4 2.9-1.5-1.9-.7z" fill="#d50"/>
<path d="M286.2 220.6l1.9.6 3-1-1.9-1z" fill="#c50"/>
<path d="M288 220.9l1.9 1.2 2.9-1.1-1.9-1.1z" fill="#d50"/>
<path d="M289.7 221.8l1.9 1.7 2.9-1.4-1.9-1.4z" fill="#e60"/>
<path d="M291.4 223.2l1.9 2.1 2.9-1.4-1.9-2.1z" fill="#f80"/>
<path d="M293.1 224.9l2 3.1 2.8-1.4-1.9-3z" fill="#e90"/>
<path d="M294.8 227.6l2 1.8 2.9-1.3-2-1.9z" fill="#fc0"/>
<path d="M296.6 229.2l1.7-1.1 3.1-1-1.7.9z" fill="#970"/>
<path d="M298.3 228.2l1.7-.7 3.1-1.3-1.7 1z" fill="#970"/>
<path d="M300 227.5l1.8-.6 3-1.5-1.7.8z" fill="#ea0"/>
<path d="M301.8 226.9l1.7-.7 3-1.3-1.7.5z" fill="#ea0"/>
<path d="M303.5 226.2l1.7-.5 3-1.6-1.7.7z" fill="#e90"/>
<path d="M305.2 225.7l1.8-.6 2.9-2.2-1.7 1.2z" fill="#e80"/>
<path d="M306.9 225.1l1.8-1 3-2.5-1.8 1.2z" fill="#e60"/>
<path d="M308.7 224.1l1.8-.9 2.9-2.6-1.8 1z" fill="#e40"/>
<path d="M310.4 223.1l1.8-.6 2.9-2.6-1.8.6z" fill="#e20"/>
<path d="M312.1 222.3l1.8-.4 2.9-2.3-1.8.2z" fill="#e10"/>
<path d="M313.8 221.8l1.9 0 2.9-2.5-1.9.2z" fill="#e10"/>
<path d="M315.5 221.7l1.9.1 2.9-2.6-1.9 0z" fill="#e10"/>
<path d="M317.3 221.6l1.8.1 2.9-2.6-1.9-.1z" fill="#e00"/>
<path d="M319 221.6l1.9.4 2.8-2.7-1.9-.3z" fill="#f00"/>
<path d="M320.7 221.9l1.9.6 2.9-2.6-2-.7z" fill="#f00"/>
<path d="M322.4 222.3l1.9.4 2.9-2.2-1.9-.7z" fill="#f00"/>
<path class="ed" d="M244.3 238.8l1.7-13.9 1.7-1.9 1.8-1.3 1.7-1 1.7-.7 1.7-.4 1.7-.3 1.8-.4 1.7 0 1.7.3 1.7 0 1.8 0 1.7 0 1.7 0 1.7.1 1.7-.2 1.8-.4 1.7-.3 1.7-.1 1.7.2 1.7.1 1.8.1 1.7 0 1.7.1 1.7.1 1.7.6 1.8.7 1.7.8 1.7 1.1 1.7 1.8 1.7 2.6 1.8 1.6 1.7-.9 1.7-.9 1.7-.8 1.7-.5 1.8-.7 1.7-1.3 1.7-1.2 1.7-1 1.8-.7 1.7-.4 1.7-.2 1.7-.2 1.7 0 1.8.2 1.7.6 1.7.5"/>
<path d="M239.2 238l1.8-11.8 2.6-.5-1.8 13z" fill="#0cc"/>
<path d="M240.8 226.7l1.8-2 2.9-.6-1.8 2.1z" fill="#a70"/>
<path d="M242.5 225l1.7-1.6 3-.8-1.7 1.8z" fill="#a70"/>
<path d="M244.2 223.7l1.7-.8 3.1-1.3-1.7 1.1z" fill="#970"/>
<path d="M245.9 222.9l1.8-.1 3-2.1-1.8.8z" fill="#a70"/>
<path d="M247.6 222.7l1.9-.4 2.9-2-1.8.3z" fill="#b80"/>
<path d="M249.4 222.2l1.8-.2 2.9-1.8-1.8-.1z" fill="#c90"/>
<path d="M251.1 221.8l1.8.2 3-1.7-1.9-.3z" fill="#fb0"/>
<path d="M252.8 221.8l1.8.2 3-1.6-1.9-.3z" fill="#ea0"/>
<path d="M254.5 221.8l1.8.1 3-1.4-1.8-.3z" fill="#c90"/>
<path d="M256.2 221.7l1.9.1 2.9-1.7-1.8.2z" fill="#b70"/>
<path d="M257.9 221.6l1.9 0 2.9-1.9-1.8.3z" fill="#b70"/>
<path d="M259.7 221.4l1.8 0 3-1.6-1.9-.2z" fill="#c80"/>
<path d="M261.4 221.2l1.8.3 3-1.7-1.9-.2z" fill="#d80"/>
<path d="M263.1 221.3l1.9.3 2.9-2-1.8 0z" fill="#c70"/>
<path d="M264.8 221.4l1.9-.2 2.9-1.5-1.8-.3z" fill="#b60"/>
<path d="M266.5 221l1.8-.2 3.1-.8-1.9-.5z" fill="#950"/>
<path d="M268.3 220.6l1.8.4 3-.9-1.8-.3z" fill="#950"/>
<path d="M270 220.8l1.9.8 2.9-1.4-1.8-.3z" fill="#e70"/>
<path d="M271.7 221.4l1.9.8 2.9-2.2-1.9 0z" fill="#f80"/>
<path d="M273.4 222.1l1.9.2 2.9-2.7-1.9.3z" fill="#b60"/>
<path d="M275.2 222.1l1.9.1 2.8-3.2-1.9.4z" fill="#b50"/>
<path d="M276.9 222l1.9.2 2.8-3-1.9-.3z" fill="#d50"/>
<path d="M278.6 222.1l1.9.2 2.9-2.4-1.9-.9z" fill="#f60"/>
<path d="M280.3 222.1l1.9.1 2.9-1.9-1.9-.6z" fill="#d50"/>
<path d="M282 222l1.9.5 2.9-2-1.9-.4z" fill="#d50"/>
<path d="M283.8 222.3l1.9 1.1 2.8-2.6-1.9-.5z" fill="#f70"/>
<path d="M285.5 223.2l1.9 1.1 2.9-2.6-2-1.1z" fill="#f70"/>
<path d="M287.2 224.1l1.9 1.2 2.9-2.1-1.9-1.7z" fill="#f80"/>
<path d="M288.9 225l1.9 1.6 2.9-1.5-1.9-2.2z" fill="#fa0"/>
<path d="M290.6 226.2l2 2.6 2.8-1-1.9-3.1z" fill="#e90"/>
<path d="M292.3 228.5l2 1.8 2.9-1.2-2-1.7z" fill="#fb0"/>
<path d="M294.1 230.1l1.7-1.2 3.1-.9-1.7 1.1z" fill="#a70"/>
<path d="M295.8 229.1l1.7-.7 3.1-1.1-1.7.7z" fill="#970"/>
<path d="M297.5 228.4l1.8-.4 3-1.3-1.7.5z" fill="#ea0"/>
<path d="M299.3 228l1.7-1 3-1-1.7.7z" fill="#ea0"/>
<path d="M301 227.1l1.7-.9 3.1-.8-1.8.6z" fill="#e90"/>
<path d="M302.7 226.3l1.7-.4 3.1-1.1-1.7.7z" fill="#e70"/>
<path d="M304.4 225.9l1.8-.4 3-1.7-1.7 1z" fill="#e60"/>
<path d="M306.1 225.5l1.9-.4 2.9-2.3-1.8.9z" fill="#e50"/>
<path d="M307.9 225l1.8-.5 2.9-2.5-1.8.7z" fill="#e30"/>
<path d="M309.6 224.4l1.9-.2 2.8-2.7-1.8.4z" fill="#e20"/>
<path d="M311.3 224.1l1.9-.2 2.9-2.5-1.9 0z" fill="#e20"/>
<path d="M313 223.8l1.9-.1 2.9-2.4-1.9 0z" fill="#e10"/>
<path d="M314.7 223.6l1.9.3 2.9-2.6-1.9-.1z" fill="#e10"/>
<path d="M316.5 223.8l1.9.3 2.8-2.5-1.9-.4z" fill="#f10"/>
<path d="M318.2 223.9l1.9.2 2.9-2-1.9-.6z" fill="#e10"/>
<path d="M319.9 223.9l1.9.4 2.9-1.9-1.9-.5z" fill="#e10"/>
<path class="ed" d="M241.8 238.4l1.7-12.4 1.7-1.8 1.8-1.5 1.7-1 1.7-.8 1.7-.5 1.7-.1 1.8.1 1.7.1 1.7 0 1.7-.3 1.7-.4 1.8.1 1.7 0 1.7-.2 1.7.1 1.8.2 1.7.1 1.7.1 1.7-.1 1.7-.4 1.8-.5 1.7.1 1.7.7 1.7.4 1.7.2 1.8.3 1.7.9 1.7 1.4 1.7 1.8 1.7 2.7 1.8 1.4 1.7-1 1.7-.7 1.7-.6 1.8-.7 1.7-.6 1.7-.6 1.7-1 1.7-1 1.8-.7 1.7-.5 1.7-.1 1.7-.1 1.7-.1 1.8.3 1.7.5 1.7.3"/>
<path d="M236.7 237.7l1.8-10.7 2.6-.8-1.8 11.8z" fill="#2cb"/>
<path d="M238.3 227.4l1.7-1.9 3-.7-1.8 2z" fill="#a70"/>
<path d="M240 225.8l1.7-1.7 3-.7-1.7 1.7z" fill="#a70"/>
<path d="M241.7 224.4l1.7-.6 3.1-1.1-1.7.8z" fill="#970"/>
<path d="M243.4 223.8l1.8.1 3-1.4-1.8.1z" fill="#c90"/>
<path d="M245.1 223.8l1.9.2 2.9-2-1.8.3z" fill="#b80"/>
<path d="M246.9 223.8l1.8 0 2.9-2.2-1.8.2z" fill="#c80"/>
<path d="M248.6 223.6l1.8-.2 2.9-1.8-1.8-.1z" fill="#c80"/>
<path d="M250.3 223.2l1.9.4 2.9-2-1.9-.1z" fill="#fb0"/>
<path d="M252 223.4l1.9.5 2.9-2.4-1.9-.1z" fill="#fb0"/>
<path d="M253.7 223.8l1.9-.1 2.9-2.3-1.9-.1z" fill="#c80"/>
<path d="M255.5 223.6l1.8-.3 2.9-2.1-1.8 0z" fill="#b80"/>
<path d="M257.2 223.2l1.8-.2 2.9-2-1.8.1z" fill="#b70"/>
<path d="M258.9 222.9l1.8 0 3-1.8-1.9-.2z" fill="#c80"/>
<path d="M260.6 222.7l1.9.1 2.9-1.6-1.9-.3z" fill="#c80"/>
<path d="M262.3 222.7l1.9.3 2.9-2.2-1.8.2z" fill="#b70"/>
<path d="M264.1 222.8l1.9.4 2.8-2.8-1.8.3z" fill="#c70"/>
<path d="M265.8 223.1l1.9.4 2.8-2.9-1.9-.3z" fill="#f80"/>
<path d="M267.5 223.4l1.9 0 2.9-2.1-1.9-.8z" fill="#f80"/>
<path d="M269.2 223.2l1.9 0 2.9-1.3-1.9-.8z" fill="#e70"/>
<path d="M270.9 223l1.9.3 2.9-1.4-1.8-.2z" fill="#c60"/>
<path d="M272.6 223.2l1.9.4 2.9-1.8-1.8-.1z" fill="#c60"/>
<path d="M274.4 223.5l1.9.4 2.9-2-1.9-.3z" fill="#f70"/>
<path d="M276.1 223.8l1.9.4 2.9-2.3-1.9-.2z" fill="#f70"/>
<path d="M277.8 224.1l1.9.4 2.9-2.8-1.9 0z" fill="#c60"/>
<path d="M279.6 224.3l1.8.2 2.9-2.4-1.9-.5z" fill="#c50"/>
<path d="M281.3 224.3l1.8 0 3-1.3-2-1.1z" fill="#d60"/>
<path d="M283 224.1l1.8.9 3-1-1.9-1.2z" fill="#d60"/>
<path d="M284.7 224.7l1.9 1.7 2.9-1.4-1.9-1.2z" fill="#e70"/>
<path d="M286.4 226.1l2 2.1 2.8-1.9-1.9-1.6z" fill="#f90"/>
<path d="M288.1 227.9l2 2.4 2.8-1.7-1.9-2.6z" fill="#fa0"/>
<path d="M289.8 230l2 1.4 2.9-1.4-2-1.7z" fill="#fd0"/>
<path d="M291.6 231.3l1.7-.8 3.1-1.7-1.7 1.1z" fill="#970"/>
<path d="M293.3 230.5l1.8-.7 3-1.6-1.8.6z" fill="#a70"/>
<path d="M295 229.8l1.9-.2 2.9-1.9-1.8.4z" fill="#ea0"/>
<path d="M296.8 229.5l1.8.2 2.9-2.9-1.8.8z" fill="#ea0"/>
<path d="M298.5 229.6l1.9-.3 2.8-3.3-1.8.7z" fill="#e90"/>
<path d="M300.2 229.2l1.9-.7 2.8-2.9-1.8.3z" fill="#e80"/>
<path d="M302 228.4l1.7-.9 3-2.3-1.9.3z" fill="#e70"/>
<path d="M303.7 227.4l1.7-.9 3-1.8-1.8.4z" fill="#e50"/>
<path d="M305.4 226.4l1.8-.5 2.9-1.8-1.8.5z" fill="#e40"/>
<path d="M307.1 225.8l1.8.2 2.9-2.2-1.8.2z" fill="#e30"/>
<path d="M308.8 225.8l1.9.2 2.9-2.5-1.9.2z" fill="#e20"/>
<path d="M310.5 225.8l1.9.1 2.9-2.6-1.9.1z" fill="#e20"/>
<path d="M312.2 225.8l1.9.1 2.9-2.4-1.9-.3z" fill="#e10"/>
<path d="M314 225.8l1.8.1 2.9-2.2-1.9-.3z" fill="#e10"/>
<path d="M315.7 225.8l1.9.4 2.9-2.5-1.9-.2z" fill="#e10"/>
<path d="M317.4 226l1.9.9 2.9-3-1.9-.4z" fill="#f10"/>
<path class="ed" d="M239.3 237.7l1.7-11.2 1.7-1.6 1.8-1.3 1.7-.8 1.7-.2 1.7-.5 1.7-.4 1.8 0 1.7 0 1.7-.1 1.7-.1 1.8-.2 1.7-.2 1.7.1 1.7.1 1.7-.4 1.8-.3 1.7.1 1.7.7 1.7.5 1.7.1 1.8-.1 1.7.1 1.7 0 1.7-.1 1.7.3 1.8.9 1.7.9 1.7 1 1.7 1.3 1.7 2.2 1.8 1.5 1.7-1 1.7-.7 1.7-.5 1.7-.8 1.8-.8 1.7-.4 1.7-.5 1.7-.5 1.8-.5 1.7-.4 1.7-.3 1.7-.2 1.7.2 1.8.2 1.7 0 1.7.2"/>
<path d="M234.2 236.3l1.8-9.5 2.6.2-1.8 10.7z" fill="#3d9"/>
<path d="M235.7 227.2l1.9-1.5 2.9-.1-1.8 1.9z" fill="#a70"/>
<path d="M237.5 226.1l1.7-.8 3-1.1-1.7 1.7z" fill="#a70"/>
<path d="M239.2 225.4l1.8 0 3-1.8-1.8.5z" fill="#c80"/>
<path d="M240.9 225.3l1.9.2 2.9-1.9-1.9-.1z" fill="#fb0"/>
<path d="M242.6 225.4l1.9-.2 2.9-1.6-1.9-.2z" fill="#c90"/>
<path d="M244.3 225l1.9-.1 2.9-1.5-1.8.1z" fill="#b80"/>
<path d="M246.1 224.8l1.8.2 2.9-2-1.8.3z" fill="#c90"/>
<path d="M247.8 224.9l1.8.1 3-1.7-1.9-.4z" fill="#ea0"/>
<path d="M249.5 224.8l1.8-.2 3-1-1.9-.5z" fill="#c80"/>
<path d="M251.2 224.5l1.8-.2 3-.9-1.7.1z" fill="#970"/>
<path d="M252.9 224.2l1.8-.1 3-1.1-1.7.3z" fill="#970"/>
<path d="M254.7 224l1.8-.1 3-1.2-1.8.1z" fill="#960"/>
<path d="M256.4 223.8l1.8 0 3-1.3-1.8 0z" fill="#960"/>
<path d="M258.1 223.7l1.8.2 3-1.4-1.8-.1z" fill="#c70"/>
<path d="M259.8 223.8l1.9.2 2.9-1.4-1.8-.3z" fill="#c70"/>
<path d="M261.5 223.8l1.9.3 2.9-1.2-1.8-.5z" fill="#d70"/>
<path d="M263.3 223.9l1.8.4 3-1.1-1.9-.5z" fill="#d70"/>
<path d="M265 224.2l1.8.2 3-1.3-1.8-.1z" fill="#950"/>
<path d="M266.7 224.2l1.9.5 2.9-1.8-1.8 0z" fill="#c60"/>
<path d="M268.4 224.6l1.9.8 2.9-2.4-1.9-.3z" fill="#f90"/>
<path d="M270.2 225.2l1.9.3 2.8-2.2-1.9-.5z" fill="#f80"/>
<path d="M271.9 225.4l1.8-.3 3-1.5-1.9-.5z" fill="#b60"/>
<path d="M273.6 224.9l1.8 0 3-1-1.9-.5z" fill="#b50"/>
<path d="M275.3 224.7l1.9.8 2.9-1.3-1.8-.5z" fill="#d60"/>
<path d="M277 225.3l1.9 1.1 2.9-2.3-1.8-.2z" fill="#f70"/>
<path d="M278.8 226.2l1.9.6 2.8-2.9-1.9 0z" fill="#c60"/>
<path d="M280.5 226.7l1.9.5 2.9-2.6-2-.8z" fill="#d60"/>
<path d="M282.2 226.9l1.9 1.1 2.9-1.9-1.9-1.7z" fill="#f90"/>
<path d="M283.9 227.7l1.9 1.7 2.9-1.4-1.9-2.1z" fill="#f90"/>
<path d="M285.6 229l2 2.2 2.8-1.1-1.9-2.5z" fill="#ea0"/>
<path d="M287.3 230.9l2 1.3 2.9-1-1.9-1.4z" fill="#fb0"/>
<path d="M289.1 232.1l1.7-.4 3.1-1.5-1.7.9z" fill="#970"/>
<path d="M290.8 231.6l1.9 0 2.9-2.1-1.8.6z" fill="#b80"/>
<path d="M292.5 231.5l1.9-.4 2.9-1.9-1.8.2z" fill="#ea0"/>
<path d="M294.3 231l1.7-.6 3-1.1-1.8-.2z" fill="#ea0"/>
<path d="M296 230.3l1.7-.1 3.1-1.3-1.8.3z" fill="#e90"/>
<path d="M297.7 230.1l1.8-.2 3-1.8-1.8.8z" fill="#e90"/>
<path d="M299.4 229.8l1.8-.8 3-1.9-1.8.9z" fill="#e80"/>
<path d="M301.2 228.9l1.7-.9 3-1.9-1.8.9z" fill="#e60"/>
<path d="M302.9 228l1.8-.3 2.9-2.1-1.8.4z" fill="#e40"/>
<path d="M304.6 227.5l1.9.2 2.9-2.1-1.9-.2z" fill="#e30"/>
<path d="M306.3 227.5l1.9.5 2.9-2.4-1.9-.2z" fill="#f30"/>
<path d="M308 227.8l1.9.2 2.9-2.5-1.9-.1z" fill="#e20"/>
<path d="M309.7 227.9l1.9 0 2.9-2.4-1.9-.1z" fill="#e20"/>
<path d="M311.5 227.7l1.9.5 2.8-2.7-1.9-.1z" fill="#e20"/>
<path d="M313.2 228l1.9.9 2.8-3.1-1.9-.4z" fill="#f20"/>
<path d="M314.9 228.7l1.9.7 2.9-3-2-.8z" fill="#f20"/>
<path class="ed" d="M236.8 237.4l1.7-10.1 1.7-1.6 1.8-1.4 1.7-.6 1.7 0 1.7 0 1.7-.2 1.8-.3 1.7.1 1.7.3 1.7-.2 1.7-.4 1.8-.2 1.7-.2 1.7 0 1.7.1 1.8.2 1.7.3 1.7-.1 1.7-.1 1.7.1 1.8.3 1.7.3 1.7.3 1.7.2 1.7 0 1.8-.1 1.7.6 1.7 1.5 1.7 1.7 1.7 2.1 1.8 1.1 1.7-.8 1.7-.6 1.7-.4 1.8.1 1.7-.4 1.7-.8 1.7-1 1.7-.9 1.8-.6 1.7 0 1.7 0 1.7-.1 1.7 0 1.8.1 1.7.2 1.7.7"/>
<path d="M231.7 236.3l1.8-8.8 2.6-.7-1.8 9.5z" fill="#5c8"/>
<path d="M233.3 227.9l1.8-1.9 2.9-.1-1.7 1.4z" fill="#a70"/>
<path d="M235 226.3l1.7-1.1 3.1 0-1.8.9z" fill="#a70"/>
<path d="M236.7 225.4l1.7-.5 3.1.3-1.7.1z" fill="#970"/>
<path d="M238.4 225l1.7.1 3.1.2-1.7-.1z" fill="#970"/>
<path d="M240.1 225.1l1.8.3 3-.5-1.7.4z" fill="#970"/>
<path d="M241.8 225.4l1.8.3 3-1.1-1.7.2z" fill="#970"/>
<path d="M243.6 225.5l1.7.1 3.1-.9-1.8-.2z" fill="#b80"/>
<path d="M245.3 225.5l1.7-.5 3.1-.3-1.8-.1z" fill="#970"/>
<path d="M247 225l1.7-.1 3.1-.6-1.7.4z" fill="#970"/>
<path d="M248.7 224.8l1.9.6 2.9-1.3-1.7.1z" fill="#b80"/>
<path d="M250.4 225.3l1.9.8 2.9-2.2-1.8 0z" fill="#fb0"/>
<path d="M252.2 225.9l1.9.5 2.8-2.8-1.8.1z" fill="#d90"/>
<path d="M253.9 226.2l1.9-.1 2.9-2.6-1.9 0z" fill="#b70"/>
<path d="M255.6 225.9l1.9-.2 2.9-2.1-1.9-.3z" fill="#b70"/>
<path d="M257.3 225.6l1.9.4 2.9-2.4-1.9-.2z" fill="#e80"/>
<path d="M259.1 225.8l1.9.6 2.8-2.6-1.9-.3z" fill="#f90"/>
<path d="M260.8 226.2l1.9.2 2.8-2.4-1.9-.4z" fill="#e80"/>
<path d="M262.5 226.2l1.9.2 2.9-2.4-1.9-.2z" fill="#c70"/>
<path d="M264.2 226.2l1.9.4 2.9-2.2-1.9-.5z" fill="#f90"/>
<path d="M265.9 226.4l1.9.5 2.9-1.8-1.9-.9z" fill="#fa0"/>
<path d="M267.7 226.7l1.8.3 2.9-1.8-1.8-.3z" fill="#d70"/>
<path d="M269.4 226.9l1.8 0 2.9-2.2-1.8.3z" fill="#a60"/>
<path d="M271.1 226.7l1.9 0 2.9-2.1-1.9 0z" fill="#b50"/>
<path d="M272.8 226.5l1.9.5 2.9-1.8-1.9-.8z" fill="#f80"/>
<path d="M274.5 226.8l1.9.5 2.9-1.2-1.9-1.1z" fill="#f70"/>
<path d="M276.2 227.1l1.9.5 3-1.1-1.9-.6z" fill="#c60"/>
<path d="M278 227.3l1.9 1.1 2.9-1.6-1.9-.5z" fill="#d60"/>
<path d="M279.7 228.2l1.9 1.3 2.9-1.9-1.9-1z" fill="#f90"/>
<path d="M281.4 229.2l1.9 1.5 2.9-1.6-1.9-1.7z" fill="#fa0"/>
<path d="M283.1 230.4l2 2 2.8-1.4-1.9-2.2z" fill="#fa0"/>
<path d="M284.8 232.1l2 1.4 2.9-1.6-2-1.3z" fill="#fd0"/>
<path d="M286.6 233.3l1.8-.2 3-1.7-1.8.3z" fill="#b80"/>
<path d="M288.3 233l1.8-.4 3-1.4-1.8.1z" fill="#b80"/>
<path d="M290 232.5l1.8-.6 3-1.2-1.7.5z" fill="#ea0"/>
<path d="M291.7 231.9l1.8-.5 3-1.3-1.7.6z" fill="#ea0"/>
<path d="M293.5 231.3l1.8 0 3-1.4-1.8.1z" fill="#e90"/>
<path d="M295.2 231.1l1.8-.1 3-1.4-1.8.2z" fill="#e80"/>
<path d="M296.9 230.9l1.9 0 2.9-2.3-1.8.9z" fill="#e70"/>
<path d="M298.7 230.8l1.8 0 2.9-3.1-1.8.8z" fill="#e60"/>
<path d="M300.4 230.7l1.9-.2 2.8-3.3-1.9.4z" fill="#e50"/>
<path d="M302.1 230.4l1.9-.2 2.8-3-1.9-.1z" fill="#e40"/>
<path d="M303.8 230.1l1.9.1 2.9-2.6-1.9-.5z" fill="#f40"/>
<path d="M305.5 230l1.9 0 2.9-2.4-1.9-.2z" fill="#e40"/>
<path d="M307.2 229.9l1.9 0 2.9-2.4-1.9-.1z" fill="#e30"/>
<path d="M309 229.7l1.8.2 2.9-2.1-1.9-.5z" fill="#e30"/>
<path d="M310.7 229.7l1.9.6 2.9-1.8-1.9-.9z" fill="#f30"/>
<path d="M312.4 230.1l1.9.3 2.9-1.3-1.9-.8z" fill="#e30"/>
<path class="ed" d="M234.3 236l1.7-8.9 1.7-1.1 1.8-.7 1.7-.1 1.7 0 1.7-.3 1.7-.2 1.8.1 1.7-.1 1.7-.3 1.7-.2 1.8-.2 1.7-.3 1.7-.1 1.7.1 1.7 0 1.8.2 1.7.2 1.7 0 1.7.4 1.7.6 1.8.2 1.7-.4 1.7-.2 1.7.6 1.7.8 1.8.5 1.7.3 1.7.8 1.7 1.4 1.7 1.8 1.8 1.1 1.7-.5 1.7-.2 1.7-.5 1.7-.6 1.8-.2 1.7-.3 1.7-.9 1.7-.9 1.8-.5 1.7 0 1.7.3 1.7 0 1.7-.1 1.8.3 1.7.7 1.7.5"/>
<path d="M229.2 236.2l1.8-7.8 2.7-.9-1.9 8.8z" fill="#6c7"/>
<path d="M230.8 228.8l1.6-1.3 3.1-1.4-1.7 1.9z" fill="#a70"/>
<path d="M232.5 227.7l1.8-.6 2.9-1.9-1.7.9z" fill="#a70"/>
<path d="M234.2 227l1.8-.2 3-1.9-1.9.2z" fill="#b80"/>
<path d="M235.9 226.7l1.8-.2 3-1.5-1.9-.2z" fill="#c80"/>
<path d="M237.6 226.4l1.8-.2 3-.9-1.8-.4z" fill="#c80"/>
<path d="M239.3 226.1l1.8.1 3-.7-1.8-.4z" fill="#c80"/>
<path d="M241 226.1l1.9.3 3-1.1-1.8 0z" fill="#c80"/>
<path d="M242.8 226.3l1.8.1 3-1.5-1.8.3z" fill="#970"/>
<path d="M244.5 226.2l1.9.4 2.9-1.9-1.8 0z" fill="#c80"/>
<path d="M246.2 226.4l1.9.7 2.9-2-1.9-.6z" fill="#fd0"/>
<path d="M247.9 226.9l1.9.4 2.9-1.5-1.9-.9z" fill="#fc0"/>
<path d="M249.7 227.1l1.8.5 3-1.6-1.9-.4z" fill="#fb0"/>
<path d="M251.4 227.5l1.9.4 2.9-2.2-1.9.1z" fill="#c80"/>
<path d="M253.1 227.8l1.9.2 2.9-2.7-1.9.2z" fill="#b80"/>
<path d="M254.8 227.9l1.9.2 2.9-2.5-1.9-.4z" fill="#e90"/>
<path d="M256.6 227.9l1.8.2 2.9-2.1-1.9-.6z" fill="#fa0"/>
<path d="M258.3 227.9l1.9.3 2.9-2.2-1.9-.2z" fill="#c80"/>
<path d="M260 228l1.9.1 2.9-2.1-1.9-.2z" fill="#b70"/>
<path d="M261.7 227.9l1.9 0 2.9-1.6-1.9-.5z" fill="#c70"/>
<path d="M263.4 227.8l1.9.4 2.9-1.6-1.9-.5z" fill="#e80"/>
<path d="M265.1 228l1.9.4 2.9-1.7-1.8-.3z" fill="#d70"/>
<path d="M266.9 228.3l1.8.1 3-1.9-1.9 0z" fill="#b60"/>
<path d="M268.6 228.2l1.9.1 2.9-2-1.9 0z" fill="#b60"/>
<path d="M270.3 228.1l1.9.5 2.9-2-1.9-.4z" fill="#f70"/>
<path d="M272 228.4l1.9.6 2.9-2.1-1.9-.5z" fill="#f70"/>
<path d="M273.8 228.9l1.9.5 2.8-2.2-1.9-.5z" fill="#e70"/>
<path d="M275.5 229.2l1.9.9 2.9-2-1.9-1.1z" fill="#f90"/>
<path d="M277.2 229.8l1.9 1.1 2.9-1.7-1.9-1.3z" fill="#fa0"/>
<path d="M278.9 230.6l1.9 1.1 2.9-1.3-1.9-1.5z" fill="#f90"/>
<path d="M280.6 231.3l1.9 1.8 2.9-.9-1.9-2z" fill="#e90"/>
<path d="M282.3 232.8l1.9 1.3 3-.9-1.9-1.4z" fill="#ea0"/>
<path d="M284.1 233.9l1.8.3 3-1.4-1.8.2z" fill="#c90"/>
<path d="M285.8 234l1.9.2 2.9-1.9-1.8.3z" fill="#c80"/>
<path d="M287.5 234.1l1.9-.4 2.9-2.1-1.8.6z" fill="#ea0"/>
<path d="M289.3 233.5l1.8-.4 2.9-2-1.8.4z" fill="#ea0"/>
<path d="M291 233l1.8-.2 2.9-1.9-1.8.1z" fill="#e90"/>
<path d="M292.7 232.6l1.8-.3 3-1.6-1.9.1z" fill="#e80"/>
<path d="M294.4 232.1l1.8-.3 3-1.2-1.8 0z" fill="#e70"/>
<path d="M296.1 231.7l1.8-.3 3-.9-1.8-.1z" fill="#e60"/>
<path d="M297.8 231.3l1.9.2 2.9-1.3-1.7.2z" fill="#e60"/>
<path d="M299.6 231.3l1.9.6 2.9-2.1-1.9.2z" fill="#e50"/>
<path d="M301.3 231.8l1.9.4 2.9-2.4-1.9-.1z" fill="#e50"/>
<path d="M303 232.1l1.9.1 2.9-2.6-1.9 0z" fill="#e50"/>
<path d="M304.8 232.1l1.8 0 2.9-2.7-1.9.1z" fill="#e40"/>
<path d="M306.5 232l1.9.2 2.8-2.7-1.9-.2z" fill="#e40"/>
<path d="M308.2 232.1l1.9.6 2.8-2.8-1.9-.5z" fill="#f40"/>
<path d="M309.9 232.5l1.9.4 2.9-2.9-1.9-.3z" fill="#e30"/>
<path class="ed" d="M231.8 236l1.7-8.2 1.7-1.5 1.8-.9 1.7-.4 1.7.1 1.7.2 1.7.2 1.8-.1 1.7-.4 1.7-.2 1.7.4 1.7.6 1.8.3 1.7-.3 1.7-.3 1.7.2 1.8.4 1.7 0 1.7 0 1.7.3 1.7.2 1.8.2 1.7-.2 1.7-.2 1.7.3 1.7.3 1.8.3 1.7.8 1.7 1.1 1.7 1.2 1.7 1.7 1.8 1.1 1.7-.4 1.7-.4 1.7-.6 1.8-.6 1.7-.2 1.7-.2 1.7-.2 1.7-.1 1.8-.3 1.7-.2 1.7-.1 1.7-.2 1.7-.1 1.8 0 1.7.4 1.7.2"/>
<path d="M226.6 234.5l1.9-6.3 2.7.2-1.9 7.9z" fill="#7c5"/>
<path d="M228.2 228.6l1.8-.7 3-.5-1.8 1.5z" fill="#a70"/>
<path d="M229.9 228.1l1.8-.4 3.1-.9-1.8.7z" fill="#970"/>
<path d="M231.7 227.7l1.7-.1 3.1-1.1-1.8.3z" fill="#970"/>
<path d="M233.4 227.5l1.8.2 3-1.5-1.8.2z" fill="#b80"/>
<path d="M235.1 227.5l1.9.4 2.9-2-1.8.1z" fill="#c90"/>
<path d="M236.8 227.8l1.9.1 2.9-2-1.8-.2z" fill="#d90"/>
<path d="M238.6 227.8l1.8.2 3-1.9-1.9-.4z" fill="#fa0"/>
<path d="M240.3 227.8l1.9.5 2.9-2.2-1.9-.2z" fill="#ea0"/>
<path d="M242 228.2l1.9.2 2.9-2.2-1.9-.3z" fill="#e90"/>
<path d="M243.7 228.2l1.9.1 2.9-1.6-1.9-.6z" fill="#ea0"/>
<path d="M245.4 228.1l1.9.1 2.9-1.2-1.8-.5z" fill="#c80"/>
<path d="M247.2 228l1.8.2 3-.9-1.9-.5z" fill="#c80"/>
<path d="M248.9 228.1l1.7.1 3.1-.6-1.8-.4z" fill="#960"/>
<path d="M250.6 228.1l1.7 0 3.1-.4-1.7-.2z" fill="#960"/>
<path d="M252.3 228l1.8.2 3-.4-1.7-.2z" fill="#960"/>
<path d="M254 228.1l1.8.3 3.1-.6-1.8-.1z" fill="#960"/>
<path d="M255.8 228.2l1.8.4 3-.8-1.8-.1z" fill="#960"/>
<path d="M257.5 228.5l1.9.7 2.9-1.5-1.8 0z" fill="#c70"/>
<path d="M259.2 229.1l1.9.6 2.9-2.1-1.9-.1z" fill="#d80"/>
<path d="M260.9 229.5l1.9.4 2.9-2.1-1.9-.4z" fill="#f90"/>
<path d="M262.7 229.7l1.9.7 2.8-2.3-1.9-.5z" fill="#fa0"/>
<path d="M264.4 230.2l1.9.6 2.8-2.8-1.8-.1z" fill="#e80"/>
<path d="M266.1 230.7l1.9 0 2.9-2.8-1.9-.1z" fill="#c70"/>
<path d="M267.8 230.6l1.9 0 2.9-2.4-1.9-.5z" fill="#c70"/>
<path d="M269.5 230.4l1.9.6 2.9-2.3-1.9-.7z" fill="#f90"/>
<path d="M271.3 230.8l1.9.5 2.8-2.3-1.9-.5z" fill="#e80"/>
<path d="M273 231.1l1.9.3 2.9-1.7-1.9-.9z" fill="#d70"/>
<path d="M274.7 231.2l1.9.9 2.9-1.6-1.9-1z" fill="#f90"/>
<path d="M276.4 231.8l1.9 1.6 2.9-2.1-1.9-1z" fill="#fb0"/>
<path d="M278.1 233.1l2 1.8 2.8-2.1-1.9-1.7z" fill="#fb0"/>
<path d="M279.9 234.6l1.9 1 2.9-1.8-2-1.3z" fill="#fd0"/>
<path d="M281.6 235.4l1.8-.1 3-1.5-1.9-.2z" fill="#d90"/>
<path d="M283.3 235.2l1.8-.1 3-1.3-1.8-.1z" fill="#c80"/>
<path d="M285 234.9l1.8 0 3-1.6-1.8.4z" fill="#ea0"/>
<path d="M286.7 234.8l1.9 0 2.9-2-1.8.4z" fill="#ea0"/>
<path d="M288.5 234.7l1.8.1 2.9-2.4-1.8.2z" fill="#e90"/>
<path d="M290.2 234.6l1.9.2 2.8-2.9-1.8.3z" fill="#e90"/>
<path d="M291.9 234.6l1.9 0 2.9-3.1-1.9.3z" fill="#e80"/>
<path d="M293.7 234.5l1.8-.3 2.9-3.1-1.9.2z" fill="#e70"/>
<path d="M295.4 234.1l1.8-.3 2.9-2.7-1.9-.2z" fill="#e60"/>
<path d="M297.1 233.6l1.9-.1 2.9-1.9-2-.7z" fill="#f60"/>
<path d="M298.8 233.4l1.9.4 2.9-1.9-1.9-.5z" fill="#f60"/>
<path d="M300.5 233.6l1.9.5 2.9-2.3-1.9-.1z" fill="#e50"/>
<path d="M302.2 233.9l1.9.1 2.9-2.3-1.9-.1z" fill="#e50"/>
<path d="M304 233.8l1.9.4 2.8-2.4-1.9-.3z" fill="#e50"/>
<path d="M305.7 234l1.9.6 2.9-2.3-1.9-.6z" fill="#f50"/>
<path d="M307.4 234.5l1.9.5 2.9-2.5-1.9-.4z" fill="#e50"/>
<path class="ed" d="M229.3 236l1.7-7.3 1.7-1.2 1.8-.6 1.7-.3 1.7-.3 1.7-.3 1.7 0 1.8.2 1.7 0 1.7.1 1.7.5 1.8.3 1.7.3 1.7.2 1.7.1 1.7.1 1.8 0 1.7.1 1.7-.1 1.7-.1 1.7.2 1.8.3 1.7-.1 1.7-.1 1.7.3 1.7.5 1.8.3 1.7.7 1.7.8 1.7.8 1.7 1.4 1.8 1.1 1.7 0 1.7 0 1.7-.5 1.7-.5 1.8-.4 1.7-.5 1.7-.4 1.7-.4 1.8 0 1.7.5 1.7.3 1.7-.1 1.7-.1 1.8.2 1.7.4 1.7.2"/>
<path d="M224.1 234l1.9-4.7 2.7-1-1.9 6.2z" fill="#9c3"/>
<path d="M225.7 229.7l1.8-.6 3-1.2-1.7.5z" fill="#b80"/>
<path d="M227.5 229.1l1.7-.6 3.1-1-1.8.4z" fill="#960"/>
<path d="M229.2 228.5l1.7-.2 3.1-1-1.8.2z" fill="#960"/>
<path d="M230.9 228.2l1.8.3 3-1.1-1.8-.2z" fill="#c80"/>
<path d="M232.6 228.3l1.9.6 2.9-1.3-1.8-.4z" fill="#ea0"/>
<path d="M234.3 228.7l1.9.5 2.9-1.6-1.8-.2z" fill="#d90"/>
<path d="M236.1 229l1.8.2 3-1.5-1.9-.3z" fill="#c90"/>
<path d="M237.8 229l1.8 0 3-1-1.9-.5z" fill="#c80"/>
<path d="M239.5 228.9l1.8.3 3-1.1-1.8-.3z" fill="#b80"/>
<path d="M241.2 229l1.9.7 2.9-1.8-1.8 0z" fill="#d90"/>
<path d="M242.9 229.5l1.9.3 2.9-1.9-1.8-.1z" fill="#c80"/>
<path d="M244.7 229.7l1.8 0 3-1.8-1.9-.2z" fill="#b80"/>
<path d="M246.4 229.5l1.9.4 2.9-2-1.9-.1z" fill="#d80"/>
<path d="M248.1 229.7l1.9.9 2.9-2.7-1.9-.1z" fill="#fb0"/>
<path d="M249.8 230.4l2 .6 2.8-3.1-1.9-.2z" fill="#e90"/>
<path d="M251.6 230.8l1.9 0 2.8-2.7-1.9-.3z" fill="#c80"/>
<path d="M253.3 230.6l1.9-.1 2.9-2.2-1.9-.4z" fill="#c70"/>
<path d="M255 230.3l1.9.2 2.9-1.6-1.9-.7z" fill="#f90"/>
<path d="M256.7 230.3l1.9.7 2.9-1.7-1.9-.6z" fill="#fa0"/>
<path d="M258.4 230.8l1.9.8 2.9-2-1.9-.5z" fill="#fb0"/>
<path d="M260.2 231.4l1.8.4 2.9-1.8-1.9-.6z" fill="#fa0"/>
<path d="M261.9 231.6l1.8.3 3-1.5-1.9-.5z" fill="#d80"/>
<path d="M263.6 231.7l1.8 0 3-1.3-1.8-.1z" fill="#960"/>
<path d="M265.3 231.6l1.8-.1 3-1.2-1.8-.1z" fill="#950"/>
<path d="M267 231.4l1.9.6 2.9-1.3-1.8-.6z" fill="#d70"/>
<path d="M268.7 231.8l1.9.9 3-1.7-1.9-.5z" fill="#e80"/>
<path d="M270.5 232.5l1.9.7 2.9-2.2-1.9-.2z" fill="#c70"/>
<path d="M272.2 233l1.9.6 2.9-1.9-1.9-.9z" fill="#f90"/>
<path d="M273.9 233.4l1.9 1 2.9-1.3-1.9-1.6z" fill="#fa0"/>
<path d="M275.6 234.1l1.9 1.6 2.9-1.1-1.9-1.8z" fill="#e90"/>
<path d="M277.3 235.4l2 1.2 2.9-1.3-1.9-1z" fill="#fb0"/>
<path d="M279.1 236.4l1.8.3 3-1.7-1.8.1z" fill="#c90"/>
<path d="M280.8 236.5l1.9.2 2.9-2-1.9.1z" fill="#c90"/>
<path d="M282.5 236.5l1.9-.1 2.9-1.8-1.8 0z" fill="#ea0"/>
<path d="M284.2 236.3l1.9-.1 2.9-1.7-1.8-.1z" fill="#ea0"/>
<path d="M286 236l1.8.2 3-1.8-1.9-.1z" fill="#e90"/>
<path d="M287.7 236l1.9.4 2.9-2-1.9-.2z" fill="#fa0"/>
<path d="M289.4 236.2l1.9.2 2.9-2.2-1.9 0z" fill="#e90"/>
<path d="M291.1 236.2l1.9-.3 2.9-2.1-1.8.2z" fill="#e80"/>
<path d="M292.9 235.8l1.8-.4 2.9-2.1-1.8.4z" fill="#e80"/>
<path d="M294.6 235.3l1.9.2 2.8-2.4-1.8.1z" fill="#e60"/>
<path d="M296.3 235.3l1.9.8 2.9-2.7-1.9-.4z" fill="#f80"/>
<path d="M298 235.9l1.9.9 2.9-3.1-1.9-.4z" fill="#f80"/>
<path d="M299.8 236.6l1.9.4 2.8-3.4-1.9-.1z" fill="#e60"/>
<path d="M301.5 236.9l1.9 0 2.8-3.1-1.9-.4z" fill="#e60"/>
<path d="M303.2 236.8l1.9.1 2.8-2.7-1.9-.6z" fill="#e60"/>
<path d="M304.9 236.7l1.9.6 2.9-2.7-1.9-.5z" fill="#f60"/>
<path class="ed" d="M226.8 234.2l1.7-5.7 1.7-.5 1.8-.4 1.7-.2 1.7 0 1.7.3 1.7 0 1.8 0 1.7.4 1.7 0 1.7-.1 1.7 0 1.8 0 1.7 0 1.7 0 1.7.1 1.8.1 1.7.2 1.7.6 1.7.4 1.7.3 1.8.4 1.7.4 1.7 0 1.7-.2 1.7.4 1.8.3 1.7.1 1.7.7 1.7 1.3 1.7 1.5 1.8.7 1.7-.2 1.7-.2 1.7-.2 1.8-.1 1.7-.1 1.7 0 1.7-.2 1.7-.4 1.8-.4 1.7-.2 1.7.2 1.7.3 1.7-.1 1.8.2 1.7.5 1.7.3"/>
<path d="M221.6 233.7l1.8-3.5 2.8-.9-1.8 4.8z" fill="#9b2"/>
<path d="M223.2 230.6l1.8-.1 3-1.6-1.7.5z" fill="#b80"/>
<path d="M225 230.3l1.8 0 2.9-2-1.8.5z" fill="#b70"/>
<path d="M226.7 230.1l1.9.2 2.9-2.3-1.9.1z" fill="#c80"/>
<path d="M228.4 230.2l1.9 0 2.9-2-1.9-.3z" fill="#d90"/>
<path d="M230.1 230l1.9 0 2.9-1.5-1.9-.5z" fill="#d90"/>
<path d="M231.8 229.8l1.9.2 2.9-1.1-1.8-.6z" fill="#d90"/>
<path d="M233.6 229.8l1.8.3 3-1.2-1.9-.2z" fill="#c80"/>
<path d="M235.3 229.9l1.8.4 3-1.6-1.8 0z" fill="#b80"/>
<path d="M237 230.1l1.9.7 2.9-1.9-1.9-.3z" fill="#fc0"/>
<path d="M238.7 230.6l1.9.9 2.9-2.2-1.9-.6z" fill="#fd0"/>
<path d="M240.4 231.3l1.9.4 2.9-2.3-1.9-.3z" fill="#ea0"/>
<path d="M242.2 231.6l1.8 0 2.9-2.3-1.8 0z" fill="#b80"/>
<path d="M243.9 231.4l1.9.1 2.9-2-1.9-.4z" fill="#c80"/>
<path d="M245.6 231.3l1.9.2 2.9-1.2-1.9-1z" fill="#fa0"/>
<path d="M247.3 231.3l1.8-.1 3-.5-1.8-.6z" fill="#960"/>
<path d="M249 231.1l1.8.3 3-1-1.7.2z" fill="#960"/>
<path d="M250.8 231.3l1.9.7 2.9-1.9-1.8.1z" fill="#c70"/>
<path d="M252.5 231.9l1.9.7 2.9-2.4-1.9-.3z" fill="#fa0"/>
<path d="M254.2 232.5l1.9.3 2.9-2.1-1.9-.7z" fill="#fa0"/>
<path d="M255.9 232.7l1.9.5 2.9-1.9-1.9-.8z" fill="#fb0"/>
<path d="M257.6 233l2 .7 2.8-2.2-1.8-.4z" fill="#fb0"/>
<path d="M259.4 233.5l1.9.3 2.9-2.3-1.9-.2z" fill="#c80"/>
<path d="M261.1 233.6l1.9.4 2.9-2.7-1.9.1z" fill="#c70"/>
<path d="M262.8 233.8l1.9.4 2.9-3-1.9 0z" fill="#c70"/>
<path d="M264.6 234l1.8-.1 2.9-2.2-1.9-.7z" fill="#c70"/>
<path d="M266.3 233.8l1.8 0 3-1.5-2-.8z" fill="#d70"/>
<path d="M268 233.6l1.9.9 2.9-1.6-1.9-.8z" fill="#f90"/>
<path d="M269.7 234.3l1.9 1.2 2.9-2.3-1.9-.6z" fill="#fb0"/>
<path d="M271.4 235.2l1.9.9 2.9-2.1-1.9-1z" fill="#fb0"/>
<path d="M273.1 235.9l1.9 1 2.9-1.5-1.9-1.6z" fill="#fc0"/>
<path d="M274.8 236.6l1.9 1 3-1.2-1.9-1.3z" fill="#fc0"/>
<path d="M276.6 237.3l1.8.2 3-1.1-1.8-.3z" fill="#c90"/>
<path d="M278.3 237.3l1.8.1 3-1-1.8-.2z" fill="#b80"/>
<path d="M280 237.2l1.8 0 3-1.1-1.7.1z" fill="#ea0"/>
<path d="M281.7 237.1l1.9.2 2.9-1.5-1.8.2z" fill="#ea0"/>
<path d="M283.5 237.1l1.8.4 3-1.7-1.9-.1z" fill="#e90"/>
<path d="M285.2 237.4l1.8 0 3-1.4-1.9-.4z" fill="#e90"/>
<path d="M286.9 237.2l1.8.2 3-1.4-1.8-.2z" fill="#e90"/>
<path d="M288.6 237.2l1.9.6 2.9-2.3-1.8.3z" fill="#e90"/>
<path d="M290.4 237.6l1.9.4 2.8-3-1.8.4z" fill="#e80"/>
<path d="M292.1 237.9l1.9.1 2.8-3-1.9-.1z" fill="#e80"/>
<path d="M293.8 237.9l1.9.6 2.9-2.8-2-.8z" fill="#f90"/>
<path d="M295.5 238.3l1.9.8 2.9-2.7-1.9-.9z" fill="#f90"/>
<path d="M297.2 239l1.9.3 2.9-2.7-1.9-.4z" fill="#e80"/>
<path d="M299 239.1l1.9.2 2.8-2.8-1.9 0z" fill="#e80"/>
<path d="M300.7 239.1l1.9.2 2.8-2.8-1.8-.1z" fill="#e80"/>
<path d="M302.4 239.2l1.9.3 2.9-2.7-1.9-.5z" fill="#e70"/>
<path class="ed" d="M224.3 233.8l1.7-4.2 1.7-.6 1.8-.6 1.7-.3 1.7.2 1.7.3 1.7.3 1.8.1 1.7-.2 1.7.2 1.7.4 1.8.2 1.7-.2 1.7.2 1.7.7 1.7.4 1.8-.2 1.7-.3 1.7.1 1.7.5 1.7.5 1.8.3 1.7 0 1.7-.1 1.7-.2 1.7.5 1.8.6 1.7.5 1.7.4 1.7.8 1.7 1.3 1.8 1 1.7 0 1.7 0 1.7-.2 1.7-.3 1.8 0 1.7.2 1.7 0 1.7-.5 1.8-.4 1.7 0 1.7.6 1.7.7 1.7.2 1.8-.1 1.7 0 1.7.4"/>
<path d="M219 232.9l1.9-2.4 2.9-.2-1.9 3.5z" fill="#aa1"/>
<path d="M220.7 230.9l1.8-.1 3-.6-1.7.2z" fill="#970"/>
<path d="M222.4 230.7l1.8.3 3.1-1-1.8.1z" fill="#b80"/>
<path d="M224.2 230.8l1.8.6 3-1.4-1.8-.2z" fill="#d90"/>
<path d="M225.9 231.2l1.8.2 3-1.6-1.8 0z" fill="#b80"/>
<path d="M227.6 231.2l1.8 0 3-1.6-1.8.1z" fill="#a70"/>
<path d="M229.3 231.1l1.9.1 2.9-1.5-1.8-.2z" fill="#b80"/>
<path d="M231.1 231l1.8.4 3-1.6-1.9-.3z" fill="#d90"/>
<path d="M232.8 231.2l1.9.7 2.9-1.9-1.9-.4z" fill="#fb0"/>
<path d="M234.5 231.7l1.9.7 2.9-1.9-1.9-.7z" fill="#fd0"/>
<path d="M236.2 232.2l1.9.3 2.9-1.4-1.9-.8z" fill="#fb0"/>
<path d="M237.9 232.3l1.8-.1 3-.8-1.8-.5z" fill="#960"/>
<path d="M239.7 232.1l1.8.3 3-1.1-1.8 0z" fill="#960"/>
<path d="M241.4 232.2l1.9.7 2.9-1.8-1.8 0z" fill="#c80"/>
<path d="M243.1 232.7l1.9.7 2.9-2.3-1.9-.2z" fill="#fa0"/>
<path d="M244.8 233.3l1.9.3 2.9-2.7-1.9 0z" fill="#c80"/>
<path d="M246.6 233.4l1.8.1 2.9-2.4-1.9-.3z" fill="#c80"/>
<path d="M248.3 233.3l1.9.2 2.9-1.8-1.9-.8z" fill="#fa0"/>
<path d="M250 233.3l1.8.3 3-1.3-1.9-.8z" fill="#f90"/>
<path d="M251.7 233.4l1.9.6 2.9-1.5-1.9-.4z" fill="#d80"/>
<path d="M253.4 233.8l1.9.9 2.9-1.9-1.9-.5z" fill="#fa0"/>
<path d="M255.1 234.5l1.9.5 3-1.7-2-.7z" fill="#fb0"/>
<path d="M256.9 234.8l1.8.1 3-1.5-1.9-.3z" fill="#b70"/>
<path d="M258.6 234.8l1.9.4 2.9-1.6-1.9-.4z" fill="#c80"/>
<path d="M260.3 235l1.9.6 2.9-1.8-1.9-.4z" fill="#e90"/>
<path d="M262 235.5l1.9.5 2.9-2.5-1.8.1z" fill="#c70"/>
<path d="M263.8 235.9l1.9.4 2.8-2.9-1.9 0z" fill="#c80"/>
<path d="M265.5 236.2l1.9.4 2.9-2.5-2-.9z" fill="#fa0"/>
<path d="M267.2 236.4l1.9.4 2.9-1.7-1.9-1.2z" fill="#fb0"/>
<path d="M268.9 236.6l1.9.5 2.9-1.3-1.9-.9z" fill="#d90"/>
<path d="M270.6 236.9l1.9.7 2.9-1-1.8-1z" fill="#d80"/>
<path d="M272.3 237.3l1.9.7 3-.7-1.9-1z" fill="#d90"/>
<path d="M274.1 237.8l1.8.4 3-1-1.8-.1z" fill="#c80"/>
<path d="M275.8 238l1.9.7 2.9-1.6-1.8-.1z" fill="#d90"/>
<path d="M277.5 238.5l1.9.6 2.9-2.2-1.8 0z" fill="#ea0"/>
<path d="M279.2 239l2 .6 2.8-2.7-1.9-.1z" fill="#fb0"/>
<path d="M281 239.5l1.9.4 2.8-2.8-1.9-.3z" fill="#fa0"/>
<path d="M282.7 239.8l1.9-.1 2.9-2.7-1.9 0z" fill="#ea0"/>
<path d="M284.4 239.6l1.9-.2 2.9-2.4-1.9-.1z" fill="#e90"/>
<path d="M286.1 239.2l1.9.2 2.9-2-1.9-.5z" fill="#fa0"/>
<path d="M287.9 239.3l1.8.3 2.9-2-1.9-.4z" fill="#e90"/>
<path d="M289.6 239.4l1.8-.1 3-1.6-1.9-.2z" fill="#e90"/>
<path d="M291.3 239.1l1.8.3 3-1.3-1.9-.6z" fill="#e80"/>
<path d="M293 239.2l1.9.7 2.9-1.1-1.9-.9z" fill="#e80"/>
<path d="M294.7 239.6l1.9.7 2.9-1.4-1.8-.3z" fill="#e80"/>
<path d="M296.4 240.1l1.9.5 2.9-1.7-1.8-.2z" fill="#e80"/>
<path d="M298.2 240.4l1.8.3 3-1.7-1.9-.3z" fill="#e80"/>
<path d="M299.9 240.5l1.8.2 3-1.6-1.9-.3z" fill="#e80"/>
<path class="ed" d="M221.8 233.6l1.7-3.1 1.7-.3 1.8-.2 1.7 0 1.7-.1 1.7-.2 1.7.1 1.8.1 1.7.1 1.7.6 1.7.6 1.7.3 1.8-.2 1.7-.1 1.7 0 1.7-.1 1.8.1 1.7.6 1.7.5 1.7.3 1.7.3 1.8.5 1.7.1 1.7.2 1.7.2 1.7-.3 1.8-.1 1.7.7 1.7 1 1.7.6 1.7.8 1.8.7 1.7 0 1.7-.1 1.7-.2 1.8.1 1.7.2 1.7-.1 1.7 0 1.7.3 1.8.2 1.7.1 1.7.4 1.7.6 1.7.2 1.8 0 1.7.1 1.7.1"/>
<path d="M216.5 232l1.9-1.4 2.9.1-1.9 2.4z" fill="#a80"/>
<path d="M218.2 230.9l1.8.4 3-.6-1.7.1z" fill="#960"/>
<path d="M219.9 231.1l1.9.5 3-.8-1.8-.3z" fill="#c80"/>
<path d="M221.7 231.4l1.7 0 3.1-.3-1.8-.5z" fill="#960"/>
<path d="M223.4 231.3l1.7.2 3.1-.4-1.7-.1z" fill="#960"/>
<path d="M225.1 231.4l1.9.9 2.9-1.4-1.7.1z" fill="#c80"/>
<path d="M226.8 232.1l1.9 1 2.9-2.3-1.8-.1z" fill="#fc0"/>
<path d="M228.6 232.9l1.9.5 2.8-2.4-1.9-.4z" fill="#fa0"/>
<path d="M230.3 233.2l1.9.4 2.9-2-1.9-.7z" fill="#fc0"/>
<path d="M232 233.4l1.9.5 2.9-1.9-1.9-.6z" fill="#fc0"/>
<path d="M233.7 233.7l1.9.4 2.9-2-1.9-.3z" fill="#d90"/>
<path d="M235.5 233.9l1.8.2 2.9-2.2-1.8 0z" fill="#b80"/>
<path d="M237.2 234l1.8 0 3-2-1.9-.2z" fill="#b80"/>
<path d="M238.9 233.8l1.9.3 2.9-1.5-1.9-.7z" fill="#fa0"/>
<path d="M240.6 233.9l1.9.8 2.9-1.6-1.9-.8z" fill="#fb0"/>
<path d="M242.3 234.5l1.9.6 2.9-1.9-1.9-.3z" fill="#fa0"/>
<path d="M244.1 235l1.8.3 2.9-2.2-1.8-.1z" fill="#c80"/>
<path d="M245.8 235.2l1.9.4 2.8-2.5-1.8-.2z" fill="#d90"/>
<path d="M247.5 235.4l1.9.3 2.9-2.5-1.9-.2z" fill="#d80"/>
<path d="M249.2 235.6l1.9.3 2.9-2.3-1.9-.5z" fill="#e90"/>
<path d="M250.9 235.7l1.9.6 2.9-1.9-1.9-1z" fill="#fc0"/>
<path d="M252.7 236.1l1.8.5 2.9-1.9-1.8-.5z" fill="#fa0"/>
<path d="M254.4 236.4l1.8-.1 3-1.7-1.9-.1z" fill="#960"/>
<path d="M256.1 236.1l1.8-.1 3-1.2-1.9-.4z" fill="#960"/>
<path d="M257.8 235.8l1.8.3 3-.8-1.8-.7z" fill="#960"/>
<path d="M259.5 235.9l1.8.6 3-.8-1.8-.6z" fill="#960"/>
<path d="M261.2 236.3l1.9.6 3-.9-1.9-.5z" fill="#960"/>
<path d="M263 236.7l1.8.6 3-1-1.8-.5z" fill="#960"/>
<path d="M264.7 237.1l1.8.3 3-.9-1.8-.4z" fill="#960"/>
<path d="M266.4 237.2l1.9.7 2.9-1.1-1.8-.5z" fill="#c70"/>
<path d="M268.1 237.7l1.9 1.2 2.9-1.6-1.8-.7z" fill="#fa0"/>
<path d="M269.9 238.7l1.9 1.1 2.9-2.1-1.9-.7z" fill="#fd0"/>
<path d="M271.6 239.6l1.9.7 2.9-2.4-1.9-.4z" fill="#fc0"/>
<path d="M273.3 240.1l1.9.3 2.9-2.1-1.9-.6z" fill="#fb0"/>
<path d="M275 240.3l1.9.1 2.9-1.6-1.9-.6z" fill="#fa0"/>
<path d="M276.7 240.2l1.9.4 2.9-1.3-1.8-.7z" fill="#fa0"/>
<path d="M278.5 240.4l1.8.2 3-1-1.9-.5z" fill="#ea0"/>
<path d="M280.2 240.4l1.8.1 3-1.1-1.8.1z" fill="#ea0"/>
<path d="M281.9 240.4l1.8.2 3-1.6-1.8.3z" fill="#ea0"/>
<path d="M283.6 240.4l1.9.1 2.9-1.4-1.8-.3z" fill="#e90"/>
<path d="M285.3 240.3l1.9.2 2.9-1.3-1.8-.3z" fill="#e90"/>
<path d="M287.1 240.3l1.8.6 3-1.9-1.9.1z" fill="#e80"/>
<path d="M288.8 240.7l1.9.5 2.9-2.2-1.9-.2z" fill="#e80"/>
<path d="M290.5 241l1.9.5 2.9-2-1.9-.6z" fill="#f90"/>
<path d="M292.2 241.3l1.9 1 2.9-2.4-1.9-.6z" fill="#fa0"/>
<path d="M294 242.1l1.9 1 2.8-2.9-1.9-.5z" fill="#fb0"/>
<path d="M295.7 242.9l1.9.5 2.8-3.1-1.9-.2z" fill="#e90"/>
<path d="M297.4 243.3l1.9-.1 2.9-2.9-1.9-.2z" fill="#e90"/>
<path class="ed" d="M219.3 232.8l1.7-2 1.7-.1 1.8.1 1.7.3 1.7.1 1.7-.2 1.7-.1 1.8.3 1.7.4 1.7.5 1.7.1 1.8-.2 1.7.1 1.7.5 1.7.5 1.7.2 1.8-.1 1.7.1 1.7.1 1.7.3 1.7.7 1.8.4 1.7-.1 1.7.2 1.7.5 1.7.3 1.8.4 1.7.2 1.7.2 1.7.3 1.7.5 1.8.4 1.7.3 1.7.4 1.7.5 1.7.4 1.8.4 1.7-.2 1.7-.4 1.7.1 1.8.1 1.7-.2 1.7 0 1.7.5 1.7.4 1.8.3 1.7.1 1.7 0"/>
<path d="M214 231.6l1.8.4 3-1.2-1.8 1.4z" fill="#970"/>
<path d="M215.7 231.9l1.9.5 2.9-1.3-1.8-.4z" fill="#ea0"/>
<path d="M217.4 232.2l1.9.5 3-1.4-1.9-.4z" fill="#fa0"/>
<path d="M219.2 232.5l1.8.5 3-1.8-1.9-.1z" fill="#c80"/>
<path d="M220.9 232.8l1.9.4 2.9-1.9-1.9-.2z" fill="#c80"/>
<path d="M222.6 233l1.9.4 2.9-1.4-1.9-.9z" fill="#fc0"/>
<path d="M224.3 233.1l1.9.6 2.9-.9-1.8-1z" fill="#fa0"/>
<path d="M226 233.4l1.9.6 3-.9-1.9-.5z" fill="#c90"/>
<path d="M227.8 233.8l1.8.5 3-1-1.8-.4z" fill="#c80"/>
<path d="M229.5 234.1l1.8.5 3-1-1.8-.5z" fill="#c80"/>
<path d="M231.2 234.4l1.8.4 3-1-1.8-.4z" fill="#960"/>
<path d="M232.9 234.6l1.9.4 2.9-1.2-1.8-.2z" fill="#960"/>
<path d="M234.7 234.8l1.8.5 3-1.7-1.9 0z" fill="#b80"/>
<path d="M236.4 235.1l1.9.4 2.9-1.7-1.9-.3z" fill="#d90"/>
<path d="M238.1 235.3l1.9.6 2.9-1.6-1.9-.7z" fill="#fb0"/>
<path d="M239.8 235.7l1.9.6 2.9-1.5-1.9-.7z" fill="#fb0"/>
<path d="M241.5 236.1l1.9.7 2.9-1.8-1.8-.4z" fill="#ea0"/>
<path d="M243.3 236.6l1.8.4 3-1.8-1.9-.4z" fill="#d90"/>
<path d="M245 236.8l1.9.3 2.9-1.7-1.9-.4z" fill="#c80"/>
<path d="M246.7 237l1.9.3 2.9-1.8-1.9-.3z" fill="#c80"/>
<path d="M248.4 237.1l1.9.4 2.9-1.5-1.9-.7z" fill="#fa0"/>
<path d="M250.1 237.3l1.9.6 3-1.6-1.9-.5z" fill="#e90"/>
<path d="M251.9 237.7l1.9.6 2.9-2.4-1.9.2z" fill="#b80"/>
<path d="M253.6 238.1l1.9.5 2.9-3-1.9.1z" fill="#c80"/>
<path d="M255.3 238.5l1.9.5 2.9-3.2-1.9-.3z" fill="#d90"/>
<path d="M257.1 238.8l1.9.4 2.8-3.1-1.9-.5z" fill="#e90"/>
<path d="M258.8 239.1l1.9.3 2.8-2.9-1.9-.5z" fill="#e90"/>
<path d="M260.5 239.3l1.9.4 2.9-2.8-2-.5z" fill="#e90"/>
<path d="M262.2 239.5l1.9.4 2.9-2.8-1.9-.3z" fill="#d80"/>
<path d="M263.9 239.7l1.9.4 2.9-2.6-1.9-.6z" fill="#e90"/>
<path d="M265.6 239.9l1.9.5 2.9-1.8-1.9-1.2z" fill="#fc0"/>
<path d="M267.4 240.2l1.8.5 3-1.2-1.9-1.1z" fill="#fc0"/>
<path d="M269.1 240.5l1.8.3 3-.8-1.9-.8z" fill="#d90"/>
<path d="M270.8 240.6l1.8.5 3-1-1.8-.3z" fill="#b80"/>
<path d="M272.5 240.9l1.9.6 2.9-1.4-1.8-.2z" fill="#ea0"/>
<path d="M274.2 241.3l1.9.6 2.9-1.6-1.8-.4z" fill="#ea0"/>
<path d="M276 241.7l1.9.6 2.9-2.1-1.9-.1z" fill="#ea0"/>
<path d="M277.7 242.1l1.9.5 2.9-2.4-1.9-.1z" fill="#ea0"/>
<path d="M279.4 242.4l1.9.3 2.9-2.5-1.9-.2z" fill="#ea0"/>
<path d="M281.1 242.6l1.9.3 2.9-2.8-1.9-.1z" fill="#e90"/>
<path d="M282.9 242.8l1.9.3 2.8-3-1.9-.2z" fill="#e90"/>
<path d="M284.6 243l1.9.3 2.8-2.8-1.9-.5z" fill="#e90"/>
<path d="M286.3 243.2l1.9.4 2.9-2.9-1.9-.4z" fill="#e90"/>
<path d="M288 243.4l1.9.5 2.9-2.8-1.9-.5z" fill="#fa0"/>
<path d="M289.7 243.7l1.9.5 2.9-2.3-1.9-.9z" fill="#fc0"/>
<path d="M291.5 244l1.9.5 2.9-1.8-2-1z" fill="#fb0"/>
<path d="M293.2 244.3l1.9.5 2.9-1.7-1.9-.6z" fill="#ea0"/>
<path d="M294.9 244.6l1.9.5 2.9-2.3-1.9.1z" fill="#ea0"/>
<path class="ed" d="M216.8 232l1.7-1.1 1.7.2 1.8.3 1.7-.1 1.7.1 1.7.7 1.7.7 1.8.3 1.7.2 1.7.3 1.7.2 1.7 0 1.8-.1 1.7.2 1.7.5 1.7.5 1.8.2 1.7.2 1.7.1 1.7.2 1.7.5 1.8.2 1.7-.3 1.7-.3 1.7.2 1.7.4 1.8.4 1.7.4 1.7.1 1.7.5 1.7 1 1.8.8 1.7.5 1.7.2 1.7 0 1.8.1 1.7 0 1.7 0 1.7 0 1.7-.1 1.8.1 1.7.3 1.7.3 1.7.3 1.7.8 1.8.8 1.7.3 1.7-.2"/>
<path class="ed" d="M214.3 231.6l1.7.3 1.7.2 1.8.4 1.7.2 1.7.2 1.7.2 1.7.3 1.8.4 1.7.3 1.7.2 1.7.2 1.8.2 1.7.3 1.7.3 1.7.3 1.7.5 1.8.4 1.7.2 1.7.2 1.7.1 1.7.3 1.8.3 1.7.4 1.7.3 1.7.4 1.7.3 1.8.1 1.7.3 1.7.2 1.7.2 1.7.3 1.8.3 1.7.2 1.7.2 1.7.4 1.7.4 1.8.4 1.7.3 1.7.2 1.7.1 1.8.3 1.7.1 1.7.3 1.7.3 1.7.3 1.8.3 1.7.3 1.7.3"/>
<text x="184.4" y="181.5" class="pl">e</text>
<text x="264.1" y="184.5" text-anchor="middle" class="tt">3.43 μM</text>
<text x="199" y="206.4" class="tm">×</text>
<text x="205.4" y="206.6" class="tk">10<tspan dy="-6.2" class="sup">-3</tspan></text>
<text transform="translate(195.7 233.4) rotate(-90)" text-anchor="middle" class="al">Abs</text>
<text transform="translate(215.3 300.5) rotate(9)" class="al">Wave no. [cm<tspan dy="-3.6" class="sup2">-1</tspan><tspan dy="3.6">]</tspan></text>
<text transform="translate(310.4 309.05) rotate(-27.5)" class="al">Spectrum no.</text>
</g>
<g>
<line x1="395.2" y1="231.62" x2="440.2" y2="207.72" stroke="#e4e4e4" stroke-width="0.6"/>
<line x1="440.2" y1="207.72" x2="522.8" y2="220.92" stroke="#e4e4e4" stroke-width="0.6"/>
<line x1="395.2" y1="249.07" x2="440.2" y2="225.17" stroke="#e4e4e4" stroke-width="0.6"/>
<line x1="440.2" y1="225.17" x2="522.8" y2="238.37" stroke="#e4e4e4" stroke-width="0.6"/>
<line x1="395.2" y1="266.52" x2="440.2" y2="242.62" stroke="#e4e4e4" stroke-width="0.6"/>
<line x1="440.2" y1="242.62" x2="522.8" y2="255.82" stroke="#e4e4e4" stroke-width="0.6"/>
<line x1="462.67" y1="253.19" x2="462.67" y2="193.86" stroke="#e4e4e4" stroke-width="0.6"/>
<line x1="417.67" y1="277.09" x2="462.67" y2="253.19" stroke="#e4e4e4" stroke-width="0.6"/>
<line x1="486.37" y1="256.98" x2="486.37" y2="197.65" stroke="#e4e4e4" stroke-width="0.6"/>
<line x1="441.37" y1="280.88" x2="486.37" y2="256.98" stroke="#e4e4e4" stroke-width="0.6"/>
<line x1="510.08" y1="260.77" x2="510.08" y2="201.44" stroke="#e4e4e4" stroke-width="0.6"/>
<line x1="465.08" y1="284.67" x2="510.08" y2="260.77" stroke="#e4e4e4" stroke-width="0.6"/>
<line x1="419.19" y1="260.76" x2="419.19" y2="201.43" stroke="#e4e4e4" stroke-width="0.6"/>
<line x1="419.19" y1="260.76" x2="501.79" y2="273.96" stroke="#e4e4e4" stroke-width="0.6"/>
<line x1="395.2" y1="273.5" x2="477.8" y2="286.7" stroke="#6e6e6e" stroke-width="0.8"/>
<line x1="477.8" y1="286.7" x2="522.8" y2="262.8" stroke="#6e6e6e" stroke-width="0.8"/>
<line x1="522.8" y1="262.8" x2="440.2" y2="249.6" stroke="#6e6e6e" stroke-width="0.8"/>
<line x1="440.2" y1="249.6" x2="395.2" y2="273.5" stroke="#6e6e6e" stroke-width="0.8"/>
<line x1="395.2" y1="273.5" x2="395.2" y2="214.17" stroke="#6e6e6e" stroke-width="0.8"/>
<line x1="440.2" y1="249.6" x2="440.2" y2="190.27" stroke="#6e6e6e" stroke-width="0.8"/>
<line x1="522.8" y1="262.8" x2="522.8" y2="203.47" stroke="#6e6e6e" stroke-width="0.8"/>
<line x1="395.2" y1="214.17" x2="440.2" y2="190.27" stroke="#6e6e6e" stroke-width="0.8"/>
<line x1="440.2" y1="190.27" x2="522.8" y2="203.47" stroke="#6e6e6e" stroke-width="0.8"/>
<line x1="417.67" y1="277.09" x2="419.24" y2="276.25" stroke="#6e6e6e" stroke-width="0.8"/>
<text x="411.17" y="288.79" text-anchor="middle" class="tk">1400</text>
<line x1="441.37" y1="280.88" x2="442.95" y2="280.04" stroke="#6e6e6e" stroke-width="0.8"/>
<text x="434.87" y="292.58" text-anchor="middle" class="tk">1300</text>
<line x1="465.08" y1="284.67" x2="466.65" y2="283.83" stroke="#6e6e6e" stroke-width="0.8"/>
<text x="458.58" y="296.37" text-anchor="middle" class="tk">1200</text>
<line x1="477.8" y1="286.7" x2="476.15" y2="286.44" stroke="#6e6e6e" stroke-width="0.8"/>
<text x="483.6" y="296.2" text-anchor="middle" class="tk">0</text>
<line x1="501.79" y1="273.96" x2="500.13" y2="273.7" stroke="#6e6e6e" stroke-width="0.8"/>
<text x="509.79" y="284.96" text-anchor="middle" class="tk">50</text>
<line x1="395.2" y1="214.17" x2="393.38" y2="213.88" stroke="#6e6e6e" stroke-width="0.8"/>
<text x="391.6" y="218.77" text-anchor="end" class="tk">5</text>
<line x1="395.2" y1="231.62" x2="393.38" y2="231.33" stroke="#6e6e6e" stroke-width="0.8"/>
<text x="391.6" y="236.22" text-anchor="end" class="tk">0</text>
<line x1="395.2" y1="249.07" x2="393.38" y2="248.78" stroke="#6e6e6e" stroke-width="0.8"/>
<text x="391.6" y="253.67" text-anchor="end" class="tk">-5</text>
<line x1="395.2" y1="266.52" x2="393.38" y2="266.23" stroke="#6e6e6e" stroke-width="0.8"/>
<text x="391.6" y="271.12" text-anchor="end" class="tk">-10</text>
<path d="M437.6 243.7l1.8-23.6 2.6-.8-1.8 25.5z" fill="#03d"/>
<path d="M439.2 220.6l1.8-2.3 2.9-.9-1.8 2.4z" fill="#a80"/>
<path d="M440.9 218.7l1.7-1.7 3-1.1-1.7 1.9z" fill="#a70"/>
<path d="M442.6 217.3l1.7-1.4 3-1.2-1.6 1.4z" fill="#a70"/>
<path d="M444.3 216.1l1.7-1.3 3.1-.8-1.7.7z" fill="#970"/>
<path d="M446 215l1.7-.7 3.1-.9-1.7.6z" fill="#970"/>
<path d="M447.7 214.3l1.8 0 3-1.3-1.7.4z" fill="#b80"/>
<path d="M449.5 214.1l1.8 0 3-1.2-1.9-.1z" fill="#c90"/>
<path d="M451.2 214l1.7-.4 3.1-.7-1.8-.1z" fill="#970"/>
<path d="M452.9 213.5l1.7-.2 3.1-.6-1.7.1z" fill="#970"/>
<path d="M454.6 213.2l1.7-.3 3.1-.3-1.7.1z" fill="#970"/>
<path d="M456.3 212.9l1.8-.6 3-.2-1.7.7z" fill="#970"/>
<path d="M458.1 212.5l1.7-.6 3.1-.7-1.8 1.1z" fill="#a70"/>
<path d="M459.8 212l1.7-.3 3.1-1.3-1.7.9z" fill="#960"/>
<path d="M461.5 211.7l1.8-.2 3-2.2-1.7 1.1z" fill="#a60"/>
<path d="M463.3 211.4l1.8-.6 2.9-2.2-1.8.6z" fill="#a50"/>
<path d="M465 210.7l1.8-.4 2.9-1.9-1.8.1z" fill="#c50"/>
<path d="M466.7 210.2l1.8 0 2.9-2.1-1.8.2z" fill="#e50"/>
<path d="M468.4 210.1l1.9-.1 2.9-2.4-1.9.4z" fill="#c40"/>
<path d="M470.1 209.9l1.9-.5 2.9-2.3-1.9.4z" fill="#b30"/>
<path d="M471.9 209.3l1.8-.4 2.9-2.1-1.8.2z" fill="#b20"/>
<path d="M473.6 208.7l1.8-.1 2.9-2-1.8.1z" fill="#c20"/>
<path d="M475.3 208.5l1.8.1 3-2-1.9-.2z" fill="#e20"/>
<path d="M477 208.4l1.8-.1 3-1.6-1.9-.3z" fill="#c10"/>
<path d="M478.7 208.2l1.9-.1 2.9-1.7-1.8.1z" fill="#b10"/>
<path d="M480.4 208l1.9.2 2.9-1.9-1.8 0z" fill="#b10"/>
<path d="M482.2 208l1.8.6 3-1.7-2-.8z" fill="#f10"/>
<path d="M483.9 208.4l1.9 1 2.9-1.5-1.9-1.3z" fill="#f10"/>
<path d="M485.6 209.1l1.9 1.4 2.9-1.1-1.9-1.7z" fill="#d10"/>
<path d="M487.3 210.2l2 2.8 2.8-.9-1.9-3z" fill="#d20"/>
<path d="M489.1 212.5l1.9 4.4 2.8-.8-1.9-4.5z" fill="#d40"/>
<path d="M490.8 216.4l1.9 5.2 2.8-1-1.9-5z" fill="#e90"/>
<path d="M492.5 221.5l1.7-.7 3-2.1-1.6 1.8z" fill="#a70"/>
<path d="M494.2 220.8l1.8-1.4 2.9-2.4-1.6 1.9z" fill="#a70"/>
<path d="M496 219.4l1.7-1.5 3-2.4-1.7 1.6z" fill="#ea0"/>
<path d="M497.7 217.9l1.7-1.5 3-2.2-1.7 1.3z" fill="#e80"/>
<path d="M499.4 216.5l1.7-1.4 3-2.1-1.7 1.2z" fill="#e60"/>
<path d="M501.1 215.1l1.8-1.2 2.9-2.3-1.7 1.4z" fill="#e40"/>
<path d="M502.9 213.9l1.7-1.3 3-2.3-1.8 1.3z" fill="#e20"/>
<path d="M504.6 212.6l1.7-1.4 3-1.8-1.8.9z" fill="#e10"/>
<path d="M506.3 211.2l1.7-1.3 3-1.5-1.7 1z" fill="#e00"/>
<path d="M508 210l1.7-1.5 3-1.4-1.6 1.4z" fill="#d00"/>
<path d="M509.7 208.7l1.7-1.4 3.1-1.4-1.7 1.4z" fill="#d00"/>
<path d="M511.4 207.4l1.8-.3 3-1.4-1.8.2z" fill="#d00"/>
<path d="M513.1 207l1.8 0 3-1-1.8-.5z" fill="#d00"/>
<path d="M514.8 206.8l1.9.6 3-1.4-1.9-.2z" fill="#d00"/>
<path d="M516.6 207.2l1.9 1.2 2.8-2.9-1.8.3z" fill="#d00"/>
<path d="M518.3 208.2l2 2.1 2.8-3.7-2-1.2z" fill="#e00"/>
<path class="ed" d="M440.2 244.5l1.7-24.9 1.7-2 1.8-1.5 1.7-1.3 1.7-.7 1.7-.6 1.7-.4 1.8-.1 1.7-.1 1.7-.1 1.7-.1 1.7-.5 1.8-.9 1.7-.8 1.7-1 1.7-.7 1.8-.3 1.7-.3 1.7-.5 1.7-.4 1.7-.4 1.8-.2 1.7 0 1.7.1 1.7-.3 1.7-.1 1.8.5 1.7 1 1.7 1.5 1.7 2.5 1.7 4 1.8 4.5 1.7-1.5 1.7-1.7 1.7-1.5 1.8-1.3 1.7-1.2 1.7-1.4 1.7-1.3 1.7-1 1.8-1 1.7-1.2 1.7-1.2 1.7-.3 1.7.2 1.8 0 1.7-.3 1.7 1"/>
<path d="M435.1 243.1l1.8-22.4 2.6-.6-1.8 23.6z" fill="#04d"/>
<path d="M436.7 221.2l1.8-2.2 2.9-.6-1.8 2.3z" fill="#a80"/>
<path d="M438.4 219.4l1.7-1.8 3-.6-1.7 1.7z" fill="#a70"/>
<path d="M440.1 218l1.7-1.6 3.1-.6-1.8 1.5z" fill="#a70"/>
<path d="M441.8 216.7l1.7-1 3.1-1-1.7 1.3z" fill="#a70"/>
<path d="M443.5 215.8l1.8-.1 3-1.6-1.7.6z" fill="#b80"/>
<path d="M445.2 215.6l1.9.2 2.9-1.8-1.8 0z" fill="#ea0"/>
<path d="M447 215.6l1.8.1 2.9-1.9-1.8 0z" fill="#d90"/>
<path d="M448.7 215.5l1.8 0 3-2.1-1.9.3z" fill="#b80"/>
<path d="M450.4 215.4l1.9-.1 2.9-2.3-1.9.2z" fill="#c90"/>
<path d="M452.1 215.2l1.9-.1 2.9-2.3-1.9.1z" fill="#c90"/>
<path d="M453.9 215l1.8-.3 2.9-2.4-1.8.3z" fill="#b80"/>
<path d="M455.6 214.6l1.8-.4 2.9-2.5-1.8.4z" fill="#b80"/>
<path d="M457.3 214.1l1.8-.6 3-2.1-1.9.2z" fill="#b70"/>
<path d="M459 213.4l1.8-.5 3-1.8-1.9.2z" fill="#b70"/>
<path d="M460.7 212.8l1.9-.2 2.9-2.2-1.8.6z" fill="#b60"/>
<path d="M462.5 212.5l1.8-.3 2.9-2.3-1.8.4z" fill="#b50"/>
<path d="M464.2 212.1l1.8-.4 3-1.8-1.9-.1z" fill="#c50"/>
<path d="M465.9 211.5l1.8-.1 3-1.8-1.9.1z" fill="#c40"/>
<path d="M467.6 211.2l1.9.2 2.9-2.4-1.8.5z" fill="#c40"/>
<path d="M469.4 211.3l1.8-.2 2.9-2.7-1.8.5z" fill="#b30"/>
<path d="M471.1 211l1.8-.7 2.9-2.1-1.8.1z" fill="#a20"/>
<path d="M472.8 210.2l1.8-.6 3-1.4-1.9-.1z" fill="#b10"/>
<path d="M474.5 209.5l1.8-.1 3-1.4-1.8.1z" fill="#910"/>
<path d="M476.2 209.2l1.9.2 2.9-1.6-1.8 0z" fill="#b10"/>
<path d="M477.9 209.3l1.9.4 2.9-1.9-1.8-.2z" fill="#d10"/>
<path d="M479.7 209.5l1.8.4 3-1.6-1.9-.6z" fill="#d10"/>
<path d="M481.4 209.7l1.9.8 2.9-1.5-1.9-.9z" fill="#d10"/>
<path d="M483.1 210.2l1.9 2 2.9-2-1.9-1.4z" fill="#f10"/>
<path d="M484.8 211.9l2 3.3 2.8-2.5-1.9-2.7z" fill="#e20"/>
<path d="M486.5 214.8l2 3.7 2.8-1.8-1.9-4.3z" fill="#e50"/>
<path d="M488.3 218l1.9 4.2 2.8-.7-1.9-5.2z" fill="#e90"/>
<path d="M490 222l1.8-1.3 3-.2-1.8 1z" fill="#a70"/>
<path d="M491.7 221l1.8-1.5 3-.4-1.8 1.7z" fill="#a70"/>
<path d="M493.4 219.8l1.8-1.4 3-.8-1.8 1.9z" fill="#ea0"/>
<path d="M495.2 218.7l1.7-1.1 3-1.5-1.7 1.7z" fill="#e90"/>
<path d="M496.9 217.7l1.7-1 3-1.9-1.7 1.4z" fill="#e70"/>
<path d="M498.6 216.8l1.7-1.3 3-2-1.7 1.3z" fill="#e50"/>
<path d="M500.3 215.6l1.8-1.2 3-2.1-1.7 1.3z" fill="#e30"/>
<path d="M502.1 214.4l1.7-1.1 3-2.4-1.7 1.4z" fill="#e20"/>
<path d="M503.8 213.3l1.8-.9 2.9-2.8-1.8 1.2z" fill="#e10"/>
<path d="M505.5 212.3l1.8-1.3 2.9-2.7-1.8 1.3z" fill="#e00"/>
<path d="M507.2 210.9l1.8-1.3 2.9-2.5-1.7 1.2z" fill="#d00"/>
<path d="M508.9 209.6l1.9-.4 2.9-2.4-1.9.2z" fill="#d00"/>
<path d="M510.6 209.1l1.9 0 2.9-2.4-1.9-.1z" fill="#d00"/>
<path d="M512.4 209l1.9.3 2.8-2.3-1.9-.5z" fill="#d00"/>
<path d="M514.1 209.1l1.9.4 2.9-1.4-2-1.3z" fill="#d00"/>
<path d="M515.8 209.2l1.9 2 2.9-1.1-1.9-2.2z" fill="#d00"/>
<path class="ed" d="M437.7 243.4l1.7-23 1.7-1.9 1.8-1.4 1.7-1.2 1.7-1 1.7-.7 1.7-.1 1.8-.2 1.7-.4 1.7-.3 1.7-.3 1.8-.5 1.7-.5 1.7-.4 1.7-.3 1.7-.6 1.8-.6 1.7 0 1.7-.3 1.7-.5 1.7-.6 1.8-.2 1.7-.1 1.7-.2 1.7-.2 1.7 0 1.8.4 1.7.8 1.7 1.2 1.7 2.4 1.7 3.9 1.8 4.7 1.7-.7 1.7-1.4 1.7-1.5 1.7-1.4 1.8-1.3 1.7-1.3 1.7-1.3 1.7-1.3 1.8-1.3 1.7-1.3 1.7-1.2 1.7-.4 1.7-.1 1.8.3 1.7 1.1 1.7 1.9"/>
<path d="M432.6 242.8l1.8-20.9 2.6-1.2-1.8 22.4z" fill="#06d"/>
<path d="M434.2 222.4l1.7-1.8 3-1.5-1.7 2.1z" fill="#970"/>
<path d="M435.9 220.9l1.7-1.5 3-1.7-1.7 1.6z" fill="#970"/>
<path d="M437.6 219.5l1.7-1.7 3-1.4-1.6 1.4z" fill="#a70"/>
<path d="M439.3 218l1.7-1.1 3.1-1.3-1.7.9z" fill="#970"/>
<path d="M441 216.9l1.8-.3 3-1.2-1.8.1z" fill="#b80"/>
<path d="M442.7 216.5l1.8-.2 3-.9-1.8-.1z" fill="#c80"/>
<path d="M444.5 216.2l1.7-.1 3.1-.7-1.8-.1z" fill="#970"/>
<path d="M446.2 216l1.7 0 3.1-.8-1.8.1z" fill="#970"/>
<path d="M447.9 215.9l1.8.1 3-1-1.8.1z" fill="#970"/>
<path d="M449.6 215.9l1.8.3 3-1.4-1.8.1z" fill="#c90"/>
<path d="M451.3 216l1.9.2 2.9-1.9-1.8.3z" fill="#c90"/>
<path d="M453.1 216l1.8 0 2.9-2.2-1.8.4z" fill="#c80"/>
<path d="M454.8 215.8l1.9-.1 2.8-2.6-1.8.5z" fill="#b80"/>
<path d="M456.5 215.6l1.8-.8 3-2.3-1.9.5z" fill="#a70"/>
<path d="M458.3 214.7l1.7-.9 3-1.6-1.8.2z" fill="#a60"/>
<path d="M460 213.7l1.7-.4 3-1.5-1.8.3z" fill="#b50"/>
<path d="M461.7 213.2l1.8.2 2.9-2.1-1.8.4z" fill="#c50"/>
<path d="M463.4 213.2l1.8-.2 3-2-1.9.2z" fill="#c40"/>
<path d="M465.1 212.9l1.8-.7 3-1.1-1.8-.2z" fill="#b30"/>
<path d="M466.8 212.1l1.7-.6 3.1-.7-1.7.2z" fill="#930"/>
<path d="M468.5 211.5l1.8-.3 3-1.2-1.7.8z" fill="#a20"/>
<path d="M470.3 211.1l1.8.1 3-1.9-1.8.6z" fill="#910"/>
<path d="M472 211.1l1.9.3 2.9-2.4-1.9.2z" fill="#d10"/>
<path d="M473.7 211.2l1.9.5 2.9-2.6-1.9-.2z" fill="#f20"/>
<path d="M475.4 211.5l2 .6 2.8-2.8-1.9-.4z" fill="#f20"/>
<path d="M477.2 211.9l1.9.7 2.8-3.1-1.9-.4z" fill="#e10"/>
<path d="M478.9 212.4l1.9.8 2.9-3.1-2-.7z" fill="#e10"/>
<path d="M480.6 212.9l1.9 1.5 2.9-2.5-2-1.9z" fill="#f20"/>
<path d="M482.3 214l2 2.8 2.8-1.9-1.9-3.2z" fill="#e30"/>
<path d="M484 216.4l2 3.7 2.8-1.8-1.9-3.7z" fill="#e50"/>
<path d="M485.8 219.7l1.9 4.1 2.8-1.7-1.9-4.2z" fill="#e90"/>
<path d="M487.5 223.6l1.8-.4 2.9-2.5-1.7 1z" fill="#b80"/>
<path d="M489.2 223.1l1.9-.8 2.8-2.8-1.7 1.1z" fill="#b80"/>
<path d="M491 222.3l1.7-1.3 3-2.6-1.8 1.1z" fill="#ea0"/>
<path d="M492.7 221l1.7-2 3-1.6-1.8.9z" fill="#e90"/>
<path d="M494.4 219.2l1.7-2.1 3-.6-1.7 1z" fill="#e70"/>
<path d="M496.1 217.4l1.7-1.1 3.1-1-1.8 1.4z" fill="#e50"/>
<path d="M497.8 216.5l1.8-.7 3-1.8-1.7 1.4z" fill="#e30"/>
<path d="M499.6 215.8l1.7-.9 3-1.9-1.7 1z" fill="#e20"/>
<path d="M501.3 214.9l1.7-1.1 3-1.8-1.7.9z" fill="#e10"/>
<path d="M503 213.8l1.7-1.5 3-1.7-1.6 1.5z" fill="#e00"/>
<path d="M504.7 212.4l1.8-.9 2.9-2.3-1.7 1.4z" fill="#d00"/>
<path d="M506.4 211.4l1.9.3 2.9-2.9-1.9.3z" fill="#d00"/>
<path d="M508.2 211.6l1.9.5 2.8-3.4-1.9-.1z" fill="#d00"/>
<path d="M509.9 212l1.9.5 2.8-3.7-1.9-.2z" fill="#d00"/>
<path d="M511.6 212.4l1.9.5 2.8-3.9-1.9-.3z" fill="#d00"/>
<path d="M513.3 212.7l1.9 1.2 2.9-3.1-2-1.9z" fill="#e00"/>
<path class="ed" d="M435.2 242.8l1.7-21.8 1.7-1.7 1.8-1.5 1.7-1.2 1.7-.9 1.7-.2 1.7 0 1.8-.1 1.7-.2 1.7-.1 1.7-.2 1.7-.5 1.8-.5 1.7-.6 1.7-.6 1.7-.4 1.8-.4 1.7-.5 1.7-.3 1.7.1 1.7-.4 1.8-.7 1.7-.7 1.7-.2 1.7 0 1.7.2 1.8.3 1.7.6 1.7 1.7 1.7 2.9 1.7 3.3 1.8 3.7 1.7-1 1.7-1.2 1.7-1.1 1.8-1 1.7-1 1.7-1.2 1.7-1.2 1.7-1.1 1.8-1 1.7-1.3 1.7-1.4 1.7-.5 1.7 0 1.8.1 1.7.2 1.7 1.7"/>
<path d="M430.1 241.6l1.8-19.7 2.6 0-1.8 20.9z" fill="#07d"/>
<path d="M431.6 222.3l1.9-1.8 2.9.1-1.8 1.9z" fill="#a70"/>
<path d="M433.4 220.9l1.7-1.2 3-.5-1.8 1.8z" fill="#a70"/>
<path d="M435.1 220l1.7-1.1 3-1.2-1.7 1.8z" fill="#a70"/>
<path d="M436.8 219.1l1.7-1.2 3.1-1.2-1.7 1.2z" fill="#a70"/>
<path d="M438.5 218l1.8-.4 3-1.3-1.8.4z" fill="#a80"/>
<path d="M440.2 217.5l1.9.1 2.9-1.5-1.8.1z" fill="#c80"/>
<path d="M442 217.4l1.8.2 2.9-1.7-1.8 0z" fill="#c90"/>
<path d="M443.7 217.4l1.9.4 2.9-2-1.9-.1z" fill="#fb0"/>
<path d="M445.4 217.7l1.9 0 2.9-2-1.9-.1z" fill="#c90"/>
<path d="M447.1 217.5l1.8-.7 3-.9-1.8-.3z" fill="#b80"/>
<path d="M448.8 216.8l1.8-.3 3-.6-1.7-.1z" fill="#970"/>
<path d="M450.6 216.4l1.7.2 3.1-1-1.8.2z" fill="#c80"/>
<path d="M452.3 216.5l1.8.1 3-1.3-1.8.2z" fill="#c80"/>
<path d="M454 216.5l1.8-.1 3-1.9-1.7.7z" fill="#a70"/>
<path d="M455.7 216.3l1.9-.1 2.9-2.8-1.8 1z" fill="#a60"/>
<path d="M457.5 216.1l1.8-.3 2.9-2.8-1.9.3z" fill="#b60"/>
<path d="M459.2 215.7l1.8-.6 2.9-2.1-1.8-.1z" fill="#b50"/>
<path d="M460.9 214.9l1.8-.7 3-1.5-1.9.2z" fill="#940"/>
<path d="M462.6 214.1l1.8-.2 3-2-1.8.7z" fill="#930"/>
<path d="M464.3 213.8l1.9.3 2.9-2.8-1.8.5z" fill="#c30"/>
<path d="M466.1 213.9l1.9.2 2.8-3.2-1.9.2z" fill="#c30"/>
<path d="M467.8 214l1.9-.2 2.8-3-1.9 0z" fill="#c20"/>
<path d="M469.5 213.7l1.9-.2 2.9-2.5-1.9-.3z" fill="#c20"/>
<path d="M471.2 213.3l1.9-.3 2.9-1.7-1.9-.5z" fill="#c10"/>
<path d="M472.9 212.8l1.9.1 2.9-1.1-1.8-.7z" fill="#c10"/>
<path d="M474.6 212.6l1.9 1 3-1.3-1.9-.7z" fill="#d10"/>
<path d="M476.4 213.3l1.9 1.2 2.9-1.7-1.9-.8z" fill="#e20"/>
<path d="M478.1 214.2l1.9 1.6 2.9-1.7-1.9-1.5z" fill="#f20"/>
<path d="M479.8 215.5l2 2.9 2.8-1.8-1.9-2.8z" fill="#e30"/>
<path d="M481.5 218l2 3.7 2.8-1.8-1.9-3.7z" fill="#e60"/>
<path d="M483.3 221.3l1.9 3.8 2.8-1.5-1.9-4.1z" fill="#e90"/>
<path d="M485 225l1.7-.8 3.1-1.4-1.8.5z" fill="#a80"/>
<path d="M486.7 224.2l1.7-.8 3.1-1.4-1.7.8z" fill="#a80"/>
<path d="M488.4 223.4l1.8-.9 3-1.9-1.7 1.5z" fill="#ea0"/>
<path d="M490.2 222.6l1.7-1.1 3-2.7-1.7 1.9z" fill="#e90"/>
<path d="M491.9 221.4l1.8-1.1 2.9-3.2-1.7 1.7z" fill="#e70"/>
<path d="M493.7 220.3l1.7-1.2 2.9-2.9-1.8.8z" fill="#e50"/>
<path d="M495.4 219l1.7-1.3 3-2.2-1.9.6z" fill="#e30"/>
<path d="M497.1 217.6l1.7-1 3-2.1-1.8.9z" fill="#e20"/>
<path d="M498.8 216.6l1.7-1 3-2.1-1.7 1z" fill="#e10"/>
<path d="M500.5 215.6l1.8-1.1 2.9-2.4-1.7 1.4z" fill="#e00"/>
<path d="M502.2 214.4l1.9-.5 2.8-2.8-1.8.9z" fill="#d00"/>
<path d="M503.9 213.8l1.9.4 2.9-2.9-1.9-.3z" fill="#f00"/>
<path d="M505.7 214.1l1.9.3 2.8-2.7-1.9-.5z" fill="#f00"/>
<path d="M507.4 214.3l1.9.2 2.8-2.4-1.9-.6z" fill="#e00"/>
<path d="M509.1 214.4l1.9.2 2.9-2.1-1.9-.5z" fill="#d00"/>
<path d="M510.8 214.4l1.9.9 2.9-1.7-1.9-1.3z" fill="#d00"/>
<path class="ed" d="M432.7 242.5l1.7-20.3 1.7-1.5 1.8-1.4 1.7-1.4 1.7-1.1 1.7-.4 1.7-.2 1.8-.2 1.7-.1 1.7-.1 1.7.1 1.8 0 1.7-.2 1.7-.3 1.7-.8 1.7-1 1.8-.5 1.7 0 1.7-.3 1.7-.8 1.7-.6 1.8-.4 1.7 0 1.7.1 1.7.3 1.7.4 1.8.5 1.7.6 1.7 1.2 1.7 2.4 1.7 3.3 1.8 3.7 1.7-.6 1.7-.8 1.7-1.3 1.7-1.8 1.8-1.7 1.7-.9 1.7-.8 1.7-.9 1.8-1 1.7-1.5 1.7-.9 1.7.1 1.7.4 1.8.4 1.7.4 1.7 1.1"/>
<path d="M427.6 240.8l1.8-18.4 2.6-.5-1.8 19.7z" fill="#09d"/>
<path d="M429.1 222.8l1.8-1.6 3-.5-1.8 1.7z" fill="#970"/>
<path d="M430.9 221.5l1.7-1.1 3-.6-1.7 1.1z" fill="#970"/>
<path d="M432.6 220.6l1.7-1 3.1-.8-1.8 1.2z" fill="#970"/>
<path d="M434.3 219.8l1.7-1 3.1-1-1.7 1.2z" fill="#a70"/>
<path d="M436 218.9l1.7-.8 3.1-.7-1.7.4z" fill="#970"/>
<path d="M437.7 218.1l1.8-.2 3-.6-1.7 0z" fill="#970"/>
<path d="M439.4 217.8l1.9.6 3-1.1-1.8-.1z" fill="#d90"/>
<path d="M441.2 218.2l1.8.6 3-1.3-1.9-.4z" fill="#fb0"/>
<path d="M442.9 218.6l1.8.3 3-1.6-1.8 0z" fill="#c90"/>
<path d="M444.6 218.7l1.9 0 2.9-2.1-1.8.6z" fill="#a70"/>
<path d="M446.4 218.6l1.8-.2 2.9-2.1-1.8.1z" fill="#c80"/>
<path d="M448.1 218.3l1.8-.1 3-1.9-1.9-.2z" fill="#fa0"/>
<path d="M449.8 218.1l1.8-.3 3-1.5-1.9-.1z" fill="#c80"/>
<path d="M451.5 217.7l1.7-.8 3.1-.8-1.8 0z" fill="#960"/>
<path d="M453.2 216.9l1.7-.8 3.1-.2-1.7.1z" fill="#950"/>
<path d="M454.9 216.2l1.8-.2 3-.5-1.7.4z" fill="#950"/>
<path d="M456.7 216l1.7 0 3.1-1.3-1.7.9z" fill="#940"/>
<path d="M458.4 215.9l1.9.2 2.9-2.2-1.8.7z" fill="#a40"/>
<path d="M460.1 215.9l1.9.1 2.9-2.5-1.9.2z" fill="#c40"/>
<path d="M461.8 215.9l1.9-.1 2.9-2.1-1.9-.3z" fill="#d40"/>
<path d="M463.6 215.6l1.8 0 2.9-1.9-1.8-.2z" fill="#d40"/>
<path d="M465.3 215.4l1.8 0 3-2-1.9.1z" fill="#b30"/>
<path d="M467 215.3l1.9-.2 2.9-2.1-1.9.3z" fill="#a20"/>
<path d="M468.7 215l1.9-.1 2.9-2.3-1.9.3z" fill="#b20"/>
<path d="M470.5 214.8l1.8.2 2.9-2.5-1.9-.1z" fill="#c10"/>
<path d="M472.2 214.8l1.9.7 2.8-2.3-1.9-.9z" fill="#f20"/>
<path d="M473.9 215.3l1.9 1.1 2.9-2.2-2-1.2z" fill="#f20"/>
<path d="M475.6 216.2l1.9 1.4 2.9-2.1-1.9-1.6z" fill="#f30"/>
<path d="M477.3 217.3l2 2.3 2.8-1.4-1.9-3z" fill="#e30"/>
<path d="M479.1 219.2l1.9 3.3 2.8-.9-1.9-3.8z" fill="#e60"/>
<path d="M480.8 222.1l1.9 3.9 2.8-1-1.9-3.8z" fill="#e90"/>
<path d="M482.5 225.8l1.7-.5 3.1-1.4-1.7.8z" fill="#970"/>
<path d="M484.2 225.2l1.7-.8 3.1-1.2-1.7.8z" fill="#970"/>
<path d="M485.9 224.4l1.7-1.3 3.1-.8-1.7 1z" fill="#ea0"/>
<path d="M487.7 223.3l1.7-.9 3-1.3-1.7 1.4z" fill="#e90"/>
<path d="M489.4 222.5l1.8-.4 2.9-2.2-1.7 1.2z" fill="#e80"/>
<path d="M491.1 222l1.8-.8 2.9-2.6-1.7 1.3z" fill="#e60"/>
<path d="M492.9 221.1l1.7-1.2 2.9-2.6-1.7 1.3z" fill="#e50"/>
<path d="M494.6 219.8l1.7-1.1 3-2.5-1.8 1z" fill="#e30"/>
<path d="M496.3 218.7l1.8-.9 2.9-2.5-1.8.9z" fill="#e10"/>
<path d="M498 217.7l1.8-.9 2.9-2.7-1.8 1.1z" fill="#e10"/>
<path d="M499.7 216.7l1.9-.6 2.8-2.6-1.8.5z" fill="#e00"/>
<path d="M501.4 216l1.9.1 2.9-2.3-1.9-.4z" fill="#f00"/>
<path d="M503.1 216l1.9.2 2.9-2.2-1.9-.3z" fill="#d00"/>
<path d="M504.9 216.1l1.8 0 2.9-2-1.8-.2z" fill="#d00"/>
<path d="M506.6 215.9l1.8.1 3-1.7-1.9-.3z" fill="#d00"/>
<path d="M508.3 215.8l1.9 1.5 2.9-2.3-1.9-.9z" fill="#f00"/>
<path class="ed" d="M430.2 241.3l1.7-19.1 1.7-1.4 1.8-.9 1.7-1 1.7-1 1.7-.5 1.7 0 1.8-.1 1.7.2 1.7-.1 1.7-.7 1.7-.3 1.8 0 1.7 0 1.7-.3 1.7-.2 1.8-.3 1.7-.8 1.7-.8 1.7-.3 1.7.1 1.8 0 1.7-.2 1.7-.4 1.7-.5 1.7-.1 1.8.7 1.7.9 1.7 1.3 1.7 2.6 1.7 3.4 1.8 3.3 1.7-.7 1.7-.8 1.7-.9 1.8-1.2 1.7-1.1 1.7-1.3 1.7-1.3 1.7-1.1 1.8-1 1.7-1.1 1.7-.7 1.7.3 1.7.3 1.8 0 1.7.1 1.7.7"/>
<path d="M425.1 239.9l1.8-16.9 2.6-.6-1.8 18.5z" fill="#0ad"/>
<path d="M426.6 223.4l1.8-1.5 3-.6-1.7 1.6z" fill="#970"/>
<path d="M428.4 222.2l1.7-1.3 3-.5-1.7 1.1z" fill="#970"/>
<path d="M430.1 221.1l1.7-1.1 3.1-.4-1.8 1z" fill="#a70"/>
<path d="M431.8 220.2l1.7-.5 3.1-1-1.7 1z" fill="#970"/>
<path d="M433.5 219.7l1.9.3 2.9-2.1-1.7.8z" fill="#b80"/>
<path d="M435.2 219.9l1.9.3 2.9-2.5-1.8.1z" fill="#d90"/>
<path d="M437 220l1.8.1 2.9-2-1.9-.6z" fill="#fc0"/>
<path d="M438.7 219.9l1.9.3 2.9-1.7-1.9-.6z" fill="#fd0"/>
<path d="M440.4 220l1.9.2 2.9-1.7-1.9-.2z" fill="#da0"/>
<path d="M442.1 220.1l1.8-.2 3-1.5-1.8 0z" fill="#b80"/>
<path d="M443.8 219.8l1.9-.1 2.9-1.7-1.8.2z" fill="#b80"/>
<path d="M445.6 219.6l1.8 0 3-1.8-1.9.1z" fill="#c90"/>
<path d="M447.3 219.4l1.8-.2 3-1.8-1.8.3z" fill="#b80"/>
<path d="M449 219.1l1.9-.1 2.9-2.4-1.8.7z" fill="#a70"/>
<path d="M450.7 218.9l1.9 0 2.9-2.9-1.9.5z" fill="#c70"/>
<path d="M452.5 218.8l1.8-.2 2.9-2.8-1.9.1z" fill="#c60"/>
<path d="M454.2 218.5l1.9-.3 2.8-2.5-1.8 0z" fill="#c60"/>
<path d="M455.9 218.1l1.9-.2 2.9-2.2-1.9-.1z" fill="#c50"/>
<path d="M457.6 217.8l1.9-.2 2.9-1.9-1.9-.2z" fill="#c50"/>
<path d="M459.3 217.4l1.9-.2 2.9-1.8-1.8.1z" fill="#b40"/>
<path d="M461.1 217l1.8.3 2.9-2.1-1.8 0z" fill="#d40"/>
<path d="M462.8 217.2l1.9.4 2.8-2.6-1.8.1z" fill="#e40"/>
<path d="M464.5 217.5l1.9 0 2.9-2.8-1.9.2z" fill="#c30"/>
<path d="M466.2 217.4l1.9-.2 2.9-2.7-1.9.1z" fill="#b20"/>
<path d="M468 217.1l1.9.3 2.8-2.9-1.9-.1z" fill="#e20"/>
<path d="M469.7 217.3l1.9.7 2.8-2.9-1.9-.7z" fill="#f30"/>
<path d="M471.4 217.8l1.9.7 2.9-2.5-2-1.1z" fill="#f30"/>
<path d="M473.1 218.3l1.9 1.3 2.9-2.3-1.9-1.5z" fill="#f40"/>
<path d="M474.8 219.3l2 2.2 2.8-2.2-1.9-2.2z" fill="#f40"/>
<path d="M476.5 221.2l2 2.9 2.8-1.8-1.9-3.3z" fill="#e60"/>
<path d="M478.3 223.7l1.9 3.5 2.8-1.3-1.9-4z" fill="#e90"/>
<path d="M480 227.1l1.8-.6 3-1.5-1.8.5z" fill="#a80"/>
<path d="M481.7 226.5l1.8-.8 3-1.5-1.7.8z" fill="#a70"/>
<path d="M483.4 225.7l1.8-.8 3-1.9-1.7 1.2z" fill="#ea0"/>
<path d="M485.2 224.9l1.7-.9 3-1.8-1.7.8z" fill="#e90"/>
<path d="M486.9 223.9l1.8-.4 2.9-1.8-1.8.4z" fill="#e80"/>
<path d="M488.6 223.4l1.8-.5 3-2.1-1.8.8z" fill="#e70"/>
<path d="M490.3 222.9l1.8-.9 3-2.5-1.8 1.3z" fill="#e50"/>
<path d="M492.1 221.9l1.8-1 2.9-2.6-1.8 1.1z" fill="#e40"/>
<path d="M493.8 220.9l1.8-.7 2.9-2.9-1.8.9z" fill="#e20"/>
<path d="M495.5 220.1l1.8-1 2.9-2.7-1.8.9z" fill="#e10"/>
<path d="M497.2 219.1l1.8-1.2 2.9-2.2-1.8.6z" fill="#e10"/>
<path d="M498.9 217.8l1.9-.1 2.9-2-1.9-.1z" fill="#e00"/>
<path d="M500.6 217.5l1.9.6 2.9-2.2-1.9-.3z" fill="#d00"/>
<path d="M502.4 217.9l1.9.4 2.8-2.7-1.8.1z" fill="#d00"/>
<path d="M504.1 218.1l1.9.4 2.8-2.9-1.8-.1z" fill="#d00"/>
<path d="M505.8 218.3l1.9 1.2 2.9-2.6-2-1.4z" fill="#f00"/>
<path class="ed" d="M427.7 240.6l1.7-17.9 1.7-1.3 1.8-.9 1.7-.8 1.7-.9 1.7-.7 1.7-.3 1.8.4 1.7.3 1.7.1 1.7-.1 1.8-.3 1.7-.3 1.7-.3 1.7-.8 1.7-.6 1.8-.2 1.7-.2 1.7 0 1.7 0 1.7-.3 1.8-.2 1.7-.1 1.7-.3 1.7-.2 1.7 0 1.8.5 1.7.9 1.7 1.2 1.7 2 1.7 2.9 1.8 3.5 1.7-.6 1.7-.8 1.7-1.1 1.7-.9 1.8-.5 1.7-.9 1.7-1.2 1.7-1.2 1.8-1 1.7-.9 1.7-.7 1.7 0 1.7.1 1.8-.2 1.7 0 1.7 1.2"/>
<path d="M422.6 239.4l1.8-15.5 2.6-.9-1.8 16.9z" fill="#0bd"/>
<path d="M424.2 224.3l1.7-1.6 3-.7-1.7 1.4z" fill="#a70"/>
<path d="M425.9 223l1.7-1 3-1.1-1.7 1.3z" fill="#970"/>
<path d="M427.6 222.1l1.8-.1 2.9-2-1.7.9z" fill="#b80"/>
<path d="M429.3 221.9l1.9-.1 2.9-2.3-1.9.3z" fill="#c90"/>
<path d="M431 221.7l1.9-.2 2.9-1.8-1.9-.3z" fill="#ea0"/>
<path d="M432.7 221.4l1.8-.3 3-1.3-1.8-.3z" fill="#c80"/>
<path d="M434.5 221l1.7-.1 3.1-1.1-1.9-.1z" fill="#b80"/>
<path d="M436.2 220.8l1.8.2 3-1.1-1.8-.3z" fill="#c90"/>
<path d="M437.9 220.8l1.8.5 3-1.4-1.8-.2z" fill="#d90"/>
<path d="M439.6 221.1l1.9.5 2.9-2-1.8.1z" fill="#d90"/>
<path d="M441.4 221.4l1.8.2 2.9-2.3-1.8.1z" fill="#d90"/>
<path d="M443.1 221.4l1.8-.2 2.9-2-1.8 0z" fill="#c80"/>
<path d="M444.8 221.1l1.8-.2 3-2-1.9.1z" fill="#b80"/>
<path d="M446.5 220.7l1.9-.1 2.9-2-1.9.1z" fill="#c80"/>
<path d="M448.2 220.5l1.8-.4 3-1.6-1.8 0z" fill="#b70"/>
<path d="M450 220l1.7-.5 3-1.3-1.8.2z" fill="#950"/>
<path d="M451.7 219.4l1.8.2 3-1.7-1.8.2z" fill="#b60"/>
<path d="M453.4 219.5l1.9.4 2.9-2.4-1.9.2z" fill="#e70"/>
<path d="M455.1 219.8l1.9.2 2.9-2.8-1.9.2z" fill="#c50"/>
<path d="M456.9 219.9l1.8-.2 2.9-2.9-1.9.2z" fill="#b50"/>
<path d="M458.6 219.6l1.8-.3 2.9-2.4-1.9-.2z" fill="#c40"/>
<path d="M460.3 219.2l1.8-.1 3-1.9-1.9-.4z" fill="#d40"/>
<path d="M462 218.9l1.9.4 2.9-2.2-1.9-.1z" fill="#d40"/>
<path d="M463.7 219.1l1.9.3 2.9-2.6-1.9.1z" fill="#c30"/>
<path d="M465.5 219.3l1.8.1 2.9-2.4-1.9-.3z" fill="#e30"/>
<path d="M467.2 219.3l1.9.4 2.8-2.1-1.9-.7z" fill="#f40"/>
<path d="M468.9 219.5l1.9.5 2.9-1.9-1.9-.7z" fill="#d30"/>
<path d="M470.6 219.7l1.9.9 2.9-1.4-1.9-1.3z" fill="#e40"/>
<path d="M472.3 220.3l1.9 2 2.9-1-1.9-2.3z" fill="#e40"/>
<path d="M474 221.9l2 3.1 2.8-1-1.9-3.1z" fill="#e60"/>
<path d="M475.8 224.6l1.9 3.3 2.8-.8-1.9-3.6z" fill="#e90"/>
<path d="M477.5 227.7l1.7-1.1 3.1-.3-1.7.7z" fill="#a70"/>
<path d="M479.2 226.8l1.8-1.1 3-.2-1.7 1z" fill="#a70"/>
<path d="M480.9 225.9l1.7-.2 3.1-1.1-1.7 1.1z" fill="#ea0"/>
<path d="M482.6 225.7l1.8-.3 3-1.7-1.7.9z" fill="#e90"/>
<path d="M484.4 225.4l1.7-.8 3-1.5-1.7.5z" fill="#e80"/>
<path d="M486.1 224.5l1.7-.8 3.1-1.1-1.8.5z" fill="#e70"/>
<path d="M487.8 223.7l1.7-.8 3.1-1.3-1.7 1.1z" fill="#e50"/>
<path d="M489.5 222.9l1.8-.7 3-1.6-1.7 1.1z" fill="#e40"/>
<path d="M491.3 222.2l1.7-.5 3-1.9-1.7.7z" fill="#e30"/>
<path d="M493 221.6l1.8-.5 2.9-2.4-1.7 1.1z" fill="#e20"/>
<path d="M494.7 221l1.9-.5 2.8-3-1.7 1.1z" fill="#e10"/>
<path d="M496.4 220.4l1.9.1 2.9-3.2-1.9.1z" fill="#e00"/>
<path d="M498.2 220.3l1.8 0 2.9-2.6-1.9-.6z" fill="#e00"/>
<path d="M499.9 220.2l1.9.1 2.8-2.4-1.9-.4z" fill="#e00"/>
<path d="M501.6 220.1l1.9.6 2.9-2.6-1.9-.4z" fill="#f00"/>
<path d="M503.3 220.5l1.9 1.3 2.9-2.7-1.9-1.2z" fill="#f00"/>
<path class="ed" d="M425.2 239.6l1.7-16.3 1.7-1.2 1.8-1.1 1.7-.9 1.7-.4 1.7.1 1.7.1 1.8-.1 1.7.1 1.7.1 1.7-.3 1.7-.2 1.8-.2 1.7-.3 1.7-.3 1.7-.1 1.8-.3 1.7-.3 1.7-.3 1.7-.4 1.7-.4 1.8.2 1.7.2 1.7-.1 1.7-.2 1.7.1 1.8.6 1.7.5 1.7 1.1 1.7 1.9 1.7 2.6 1.8 3.1 1.7-.6 1.7-.7 1.7-.9 1.8-.9 1.7-.6 1.7-.5 1.7-1 1.7-1 1.8-.7 1.7-1.1 1.7-1.3 1.7-.2 1.7.4 1.8.2 1.7.2 1.7 1"/>
<path d="M420.1 238.5l1.8-14.2 2.6-.4-1.8 15.5z" fill="#0dd"/>
<path d="M421.6 224.7l1.8-1.2 3-.8-1.8 1.7z" fill="#a70"/>
<path d="M423.4 223.7l1.7-.5 3-1.3-1.7 1z" fill="#a70"/>
<path d="M425.1 223.2l1.7-.4 3.1-1.1-1.8.1z" fill="#c80"/>
<path d="M426.8 222.7l1.7-.5 3.1-.7-1.8.1z" fill="#970"/>
<path d="M428.5 222.2l1.8-.1 3-.9-1.7.2z" fill="#970"/>
<path d="M430.2 222l1.9.3 2.9-1.5-1.7.3z" fill="#b80"/>
<path d="M432 222.1l1.8.5 2.9-2-1.8.1z" fill="#d90"/>
<path d="M433.7 222.4l1.9.3 2.9-2-1.9-.3z" fill="#fa0"/>
<path d="M435.4 222.6l1.9 0 2.9-1.6-1.9-.5z" fill="#da0"/>
<path d="M437.1 222.4l1.8-.1 3-1.1-1.8-.4z" fill="#c80"/>
<path d="M438.8 222.1l1.8-.2 3-.6-1.7-.2z" fill="#970"/>
<path d="M440.6 221.8l1.8.2 3-1.1-1.8.3z" fill="#970"/>
<path d="M442.3 221.9l1.8.3 3-1.7-1.8.2z" fill="#c80"/>
<path d="M444 222.1l1.8-.4 3-1.4-1.8.1z" fill="#a70"/>
<path d="M445.7 221.6l1.8-.4 3-1.5-1.8.5z" fill="#960"/>
<path d="M447.5 221.1l1.8 0 2.9-1.9-1.8.4z" fill="#a60"/>
<path d="M449.2 221l1.8 0 3-1.7-1.9-.2z" fill="#d60"/>
<path d="M450.9 220.8l1.8 0 3-1.2-1.9-.5z" fill="#d60"/>
<path d="M452.6 220.6l1.8.2 3-1.2-1.8-.2z" fill="#c50"/>
<path d="M454.3 220.7l1.9.2 2.9-1.6-1.8.2z" fill="#940"/>
<path d="M456.1 220.8l1.8-.1 2.9-1.8-1.8.3z" fill="#940"/>
<path d="M457.8 220.5l1.8.1 3-1.9-1.9.1z" fill="#b40"/>
<path d="M459.5 220.4l1.9.5 2.9-2-1.9-.4z" fill="#f50"/>
<path d="M461.2 220.7l1.9.4 2.9-2.1-1.9-.3z" fill="#f50"/>
<path d="M462.9 221l1.9.3 2.9-2.3-1.9-.2z" fill="#d40"/>
<path d="M464.7 221.1l1.8 0 2.9-1.8-1.8-.4z" fill="#b30"/>
<path d="M466.4 221l1.8.3 3-1.7-1.9-.5z" fill="#b30"/>
<path d="M468.1 221.1l1.9 1.3 2.9-2.1-1.9-.9z" fill="#f40"/>
<path d="M469.8 222.1l2 2.1 2.8-2.2-1.9-1.9z" fill="#f50"/>
<path d="M471.5 223.8l2 2.4 2.8-1.4-1.9-3z" fill="#e60"/>
<path d="M473.3 225.8l1.9 3.1 2.8-1.2-1.9-3.3z" fill="#e90"/>
<path d="M475 228.7l1.8 0 3-2.1-1.8.9z" fill="#a80"/>
<path d="M476.7 228.6l1.9 0 2.9-2.9-1.9.8z" fill="#c80"/>
<path d="M478.5 228.4l1.8-.4 2.9-2.6-1.9.2z" fill="#ea0"/>
<path d="M480.2 227.9l1.8-.8 2.9-2-1.8.2z" fill="#e90"/>
<path d="M481.9 227l1.7-.9 3-1.8-1.7.7z" fill="#e80"/>
<path d="M483.6 226l1.8-.4 3-2.2-1.8.8z" fill="#e70"/>
<path d="M485.3 225.5l1.9-.3 2.9-2.6-1.8.7z" fill="#e50"/>
<path d="M487.1 225.1l1.8-.7 2.9-2.5-1.8.6z" fill="#e40"/>
<path d="M488.8 224.3l1.8-.8 2.9-2.2-1.8.5z" fill="#e30"/>
<path d="M490.5 223.4l1.8-.7 2.9-2-1.8.5z" fill="#e20"/>
<path d="M492.2 222.6l1.9-.2 2.9-2.3-1.9.5z" fill="#e10"/>
<path d="M493.9 222.2l1.9.2 2.9-2.4-1.9-.1z" fill="#e10"/>
<path d="M495.6 222.2l1.9.1 2.9-2.4-1.9 0z" fill="#e10"/>
<path d="M497.4 222.2l1.9.5 2.8-2.8-1.9-.1z" fill="#e00"/>
<path d="M499.1 222.5l1.9.7 2.8-2.9-1.9-.6z" fill="#f00"/>
<path d="M500.8 223l1.9 1.2 2.9-2.8-2-1.3z" fill="#f10"/>
<path class="ed" d="M422.7 239.1l1.7-14.9 1.7-1.3 1.8-.9 1.7-.3 1.7-.1 1.7-.3 1.7-.4 1.8-.2 1.7.1 1.7.2 1.7.3 1.8 0 1.7-.4 1.7-.3 1.7-.2 1.7-.5 1.8-.6 1.7.1 1.7.3 1.7 0 1.7-.3 1.8-.4 1.7-.2 1.7.2 1.7.1 1.7.1 1.8.2 1.7.3 1.7.7 1.7 1.6 1.7 2.7 1.8 2.9 1.7-.9 1.7-.8 1.7-.3 1.7-.4 1.8-.8 1.7-.8 1.7-.8 1.7-.8 1.8-.5 1.7-.7 1.7-.6 1.7 0 1.7-.1 1.8-.1 1.7.4 1.7 1.1"/>
<path d="M417.6 238l1.8-12.6 2.6-1.1-1.8 14.2z" fill="#1cb"/>
<path d="M419.1 225.8l1.8-.5 3-1.8-1.7 1z" fill="#b80"/>
<path d="M420.9 225.2l1.7-.6 3-1.6-1.8.4z" fill="#b80"/>
<path d="M422.6 224.5l1.8-.5 3-1.5-1.8.4z" fill="#b80"/>
<path d="M424.3 223.9l1.8-.1 3-1.8-1.8.4z" fill="#b80"/>
<path d="M426 223.7l1.9.3 2.9-2.2-1.9 0z" fill="#ea0"/>
<path d="M427.7 223.8l1.9.4 2.9-2.3-1.9-.3z" fill="#fc0"/>
<path d="M429.5 224.1l1.8.2 2.9-2.1-1.8-.4z" fill="#fb0"/>
<path d="M431.2 224.1l1.8 0 3-1.7-1.9-.4z" fill="#c90"/>
<path d="M432.9 224l1.8-.1 3-1.7-1.9 0z" fill="#b80"/>
<path d="M434.6 223.8l1.8-.2 3-1.6-1.8.1z" fill="#a70"/>
<path d="M436.3 223.5l1.9-.1 2.9-1.7-1.8.1z" fill="#b80"/>
<path d="M438.1 223.2l1.8.2 3-1.6-1.9-.3z" fill="#ea0"/>
<path d="M439.8 223.2l1.8.2 3-1.5-1.9-.3z" fill="#ea0"/>
<path d="M441.5 223.2l1.8 0 3-1.8-1.8.3z" fill="#b70"/>
<path d="M443.2 223.1l1.9 0 2.9-2.2-1.8.4z" fill="#b70"/>
<path d="M445 223l1.8.1 2.9-2.4-1.8.1z" fill="#c70"/>
<path d="M446.7 222.9l1.8-.2 2.9-2.1-1.8 0z" fill="#b60"/>
<path d="M448.4 222.6l1.9-.1 2.9-2-1.9 0z" fill="#b60"/>
<path d="M450.1 222.4l1.9.2 2.9-2.1-1.9-.2z" fill="#e70"/>
<path d="M451.8 222.5l1.9.1 2.9-2.1-1.9-.2z" fill="#d60"/>
<path d="M453.6 222.4l1.8-.1 2.9-2-1.8.1z" fill="#b40"/>
<path d="M455.3 222.2l1.8 0 3-2-1.9 0z" fill="#b40"/>
<path d="M457 222l1.9.4 2.9-1.9-1.9-.5z" fill="#f50"/>
<path d="M458.7 222.2l1.9.9 2.9-2.4-1.9-.4z" fill="#f60"/>
<path d="M460.4 222.9l1.9.4 2.9-2.4-1.9-.3z" fill="#e50"/>
<path d="M462.2 223.1l1.8-.2 2.9-2.2-1.8 0z" fill="#a30"/>
<path d="M463.9 222.7l1.9.6 2.9-2.4-1.9-.3z" fill="#c30"/>
<path d="M465.6 223l1.9 1.7 2.9-2.7-1.9-1.3z" fill="#f50"/>
<path d="M467.3 224.4l2 2.2 2.8-2.8-1.9-2z" fill="#f60"/>
<path d="M469 226.3l2 2.3 2.8-2.7-1.9-2.3z" fill="#f80"/>
<path d="M470.7 228.3l2 2.4 2.9-2.1-2-3z" fill="#fa0"/>
<path d="M472.5 230.6l1.8-.7 3-1.6-1.9 0z" fill="#b80"/>
<path d="M474.2 229.8l1.8-.3 3-1.3-1.8 0z" fill="#c90"/>
<path d="M475.9 229.4l1.8-.2 3-1.6-1.8.5z" fill="#ea0"/>
<path d="M477.7 229.1l1.7-.6 3-1.8-1.7.9z" fill="#ea0"/>
<path d="M479.4 228.4l1.8-.6 2.9-2.1-1.7.9z" fill="#e80"/>
<path d="M481.1 227.7l1.8-.3 3-2.2-1.9.4z" fill="#e70"/>
<path d="M482.8 227.3l1.9 0 2.9-2.5-1.9.3z" fill="#e60"/>
<path d="M484.6 227.2l1.8 0 2.9-3.2-1.9.6z" fill="#e50"/>
<path d="M486.3 227.2l1.9-.6 2.8-3.5-1.9.8z" fill="#e40"/>
<path d="M488 226.5l1.8-1.2 2.9-3-1.8.7z" fill="#e30"/>
<path d="M489.7 225.2l1.8-1 3-2.2-1.9.2z" fill="#e20"/>
<path d="M491.4 224.1l1.9-.2 2.9-1.9-1.9-.2z" fill="#e10"/>
<path d="M493.1 223.8l1.9.5 2.9-2.3-1.9-.2z" fill="#e10"/>
<path d="M494.9 224.1l1.9.7 2.8-2.5-1.9-.5z" fill="#f10"/>
<path d="M496.6 224.6l1.9.6 2.9-2.4-2-.7z" fill="#f10"/>
<path d="M498.3 225l1.9 1 2.9-2.2-1.9-1.2z" fill="#f10"/>
<path class="ed" d="M420.2 238.2l1.7-13.6 1.7-1 1.8-.5 1.7-.5 1.7-.5 1.7-.2 1.7.2 1.8.2 1.7.2 1.7-.2 1.7-.2 1.7-.3 1.8 0 1.7.2 1.7-.5 1.7-.5 1.8-.1 1.7-.2 1.7-.1 1.7 0 1.7.1 1.8-.3 1.7-.1 1.7.3 1.7.2 1.7.2 1.8-.1 1.7.1 1.7 1.1 1.7 1.8 1.7 2 1.8 2.7 1.7-.2 1.7-.1 1.7-.6 1.8-.9 1.7-.9 1.7-.6 1.7-.4 1.7-.7 1.8-.9 1.7-.8 1.7-.4 1.7 0 1.7 0 1.8.3 1.7.5 1.7 1"/>
<path d="M415.1 238.1l1.8-11.5 2.6-1.2-1.8 12.6z" fill="#2ca"/>
<path d="M416.7 227.1l1.6-1.1 3.1-1-1.7.6z" fill="#a70"/>
<path d="M418.4 226l1.7-.7 3-1-1.7.7z" fill="#970"/>
<path d="M420.1 225.4l1.7-.3 3.1-1.4-1.8.6z" fill="#a70"/>
<path d="M421.8 225l1.8-.3 3-1.2-1.8.1z" fill="#b80"/>
<path d="M423.5 224.6l1.8-.1 3-.8-1.8-.4z" fill="#b80"/>
<path d="M425.2 224.3l1.8.1 3-.5-1.8-.4z" fill="#970"/>
<path d="M426.9 224.3l1.8.1 3.1-.4-1.8-.2z" fill="#970"/>
<path d="M428.7 224.3l1.7 0 3.1-.5-1.7.1z" fill="#970"/>
<path d="M430.4 224.3l1.7-.3 3.1-.4-1.7.2z" fill="#970"/>
<path d="M432.1 224l1.8.1 3-.8-1.7.3z" fill="#970"/>
<path d="M433.8 224l1.9.4 2.9-1.4-1.7.2z" fill="#b80"/>
<path d="M435.6 224.3l1.8.3 3-1.6-1.9-.1z" fill="#e90"/>
<path d="M437.3 224.4l1.8.1 3-1.4-1.9-.2z" fill="#c80"/>
<path d="M439 224.3l1.8.1 3-1.5-1.8 0z" fill="#b70"/>
<path d="M440.7 224.2l1.9.2 2.9-1.6-1.8-.1z" fill="#c70"/>
<path d="M442.4 224.2l1.9-.1 2.9-1.4-1.8-.1z" fill="#b60"/>
<path d="M444.2 224l1.8-.1 3-1.6-1.8.3z" fill="#950"/>
<path d="M445.9 223.7l1.9.4 2.9-2-1.9.1z" fill="#c60"/>
<path d="M447.6 223.9l1.9.5 2.9-2.2-1.9-.2z" fill="#f80"/>
<path d="M449.3 224.2l1.9.3 2.9-2.3-1.9-.1z" fill="#d60"/>
<path d="M451.1 224.3l1.8 0 2.9-2.4-1.8.1z" fill="#b50"/>
<path d="M452.8 224.2l1.9 0 2.8-2.4-1.8 0z" fill="#b50"/>
<path d="M454.5 224l1.9.2 2.9-2.1-1.9-.5z" fill="#f50"/>
<path d="M456.2 224l1.9.3 2.9-1.6-1.9-.8z" fill="#f60"/>
<path d="M457.9 224.1l1.9.4 2.9-1.6-1.8-.4z" fill="#c50"/>
<path d="M459.7 224.3l1.8.4 2.9-2.2-1.8.2z" fill="#a40"/>
<path d="M461.4 224.5l1.9.4 2.9-2-1.9-.6z" fill="#c40"/>
<path d="M463.1 224.7l1.9.9 2.9-1.2-1.9-1.7z" fill="#f50"/>
<path d="M464.8 225.3l1.9 1.7 2.9-.7-1.9-2.2z" fill="#d50"/>
<path d="M466.5 226.6l1.9 2.3 2.9-.5-1.9-2.4z" fill="#d70"/>
<path d="M468.3 228.5l1.9 2.8 2.8-.7-1.9-2.6z" fill="#d90"/>
<path d="M470 231.1l1.8-.1 3-1.4-1.7.8z" fill="#970"/>
<path d="M471.7 231l1.7-.8 3.1-1-1.8.3z" fill="#970"/>
<path d="M473.4 230.2l1.7-.7 3.1-.6-1.7.3z" fill="#ea0"/>
<path d="M475.1 229.5l1.8 0 3-1.3-1.7.8z" fill="#e90"/>
<path d="M476.9 229.4l1.8 0 2.9-2-1.7.7z" fill="#e80"/>
<path d="M478.6 229.3l1.8-.2 3-2.1-1.9.3z" fill="#e70"/>
<path d="M480.3 229l1.9-.1 2.9-2-1.9 0z" fill="#e70"/>
<path d="M482 228.7l1.8-.3 3-1.5-1.8-.1z" fill="#e60"/>
<path d="M483.8 228.3l1.7-.9 3-1.2-1.7.6z" fill="#e50"/>
<path d="M485.5 227.5l1.7-.9 3-1.7-1.6 1.4z" fill="#e40"/>
<path d="M487.2 226.6l1.8-.3 2.9-2.5-1.7 1.1z" fill="#e20"/>
<path d="M488.9 226.2l1.9.4 2.9-3.1-1.9.2z" fill="#e20"/>
<path d="M490.7 226.5l1.9.4 2.8-3.1-1.9-.4z" fill="#f10"/>
<path d="M492.4 226.8l1.9.3 2.8-2.7-1.9-.7z" fill="#f20"/>
<path d="M494.1 226.9l1.9.5 2.9-2.6-2-.6z" fill="#f20"/>
<path d="M495.8 227.2l1.9 1.2 2.9-2.8-1.9-1z" fill="#f20"/>
<path class="ed" d="M417.7 237.7l1.7-12 1.7-.6 1.8-.7 1.7-.6 1.7-.2 1.7.1 1.7.2 1.8.1 1.7-.1 1.7-.2 1.7-.3 1.8-.3 1.7 0 1.7 0 1.7-.1 1.7-.1 1.8-.1 1.7-.4 1.7-.2 1.7.1 1.7 0 1.8-.2 1.7-.2 1.7.3 1.7.6 1.7.2 1.8-.4 1.7.4 1.7 1.4 1.7 1.9 1.7 2 1.8 2.1 1.7-.7 1.7-.4 1.7-.3 1.7-.7 1.8-.7 1.7-.4 1.7-.1 1.7-.1 1.8-.7 1.7-1.2 1.7-1.2 1.7-.2 1.7.3 1.8.5 1.7.4 1.7.8"/>
<path d="M412.6 236.8l1.8-9.8 2.6-.3-1.8 11.4z" fill="#4c9"/>
<path d="M414.1 227.4l1.8-.4 3-1.2-1.7 1.2z" fill="#970"/>
<path d="M415.9 227l1.8-.2 2.9-1.7-1.7.7z" fill="#b80"/>
<path d="M417.6 226.7l1.8-.4 3-1.5-1.8.2z" fill="#b80"/>
<path d="M419.3 226.2l1.8-.4 3-1.4-1.8.3z" fill="#a70"/>
<path d="M421 225.7l1.9.3 2.9-1.8-1.8.1z" fill="#c90"/>
<path d="M422.7 225.8l1.9.3 2.9-2-1.8-.1z" fill="#d90"/>
<path d="M424.5 225.9l1.8.1 3-1.8-1.9-.2z" fill="#c90"/>
<path d="M426.2 225.9l1.9.2 2.9-2-1.9-.1z" fill="#c80"/>
<path d="M427.9 225.9l1.9 0 2.9-2.1-1.9.2z" fill="#b80"/>
<path d="M429.6 225.8l1.9 0 2.9-1.9-1.9-.2z" fill="#c90"/>
<path d="M431.3 225.7l1.9.2 2.9-1.8-1.8-.4z" fill="#fb0"/>
<path d="M433.1 225.8l1.9.4 2.9-2-1.9-.3z" fill="#fc0"/>
<path d="M434.8 226l1.9.2 2.9-2.1-1.9 0z" fill="#d90"/>
<path d="M436.5 226.1l1.9-.1 2.9-2-1.9 0z" fill="#c80"/>
<path d="M438.2 225.9l1.9.2 2.9-2.1-1.9-.1z" fill="#d80"/>
<path d="M440 225.9l1.8.1 2.9-2.2-1.8.1z" fill="#c70"/>
<path d="M441.7 225.9l1.9 0 2.8-2.4-1.8.1z" fill="#b60"/>
<path d="M443.4 225.7l1.9.3 2.9-2.3-1.9-.3z" fill="#f80"/>
<path d="M445.1 225.8l1.9.3 2.9-2.1-1.9-.5z" fill="#f90"/>
<path d="M446.8 226l1.9 0 2.9-1.9-1.9-.3z" fill="#c60"/>
<path d="M448.6 225.9l1.8 0 2.9-2-1.8 0z" fill="#b50"/>
<path d="M450.3 225.7l1.8 0 3-1.9-1.9 0z" fill="#b50"/>
<path d="M452 225.5l1.8 0 3-1.7-1.9-.2z" fill="#b40"/>
<path d="M453.7 225.3l1.9.5 2.9-1.9-1.9-.3z" fill="#d50"/>
<path d="M455.4 225.6l1.9.6 2.9-2.1-1.9-.4z" fill="#f60"/>
<path d="M457.2 226l1.9.5 2.8-2.2-1.8-.4z" fill="#d50"/>
<path d="M458.9 226.3l1.9.7 2.9-2.5-1.9-.4z" fill="#e50"/>
<path d="M460.6 226.8l1.9 1.2 2.9-2.8-1.9-.9z" fill="#f70"/>
<path d="M462.3 227.8l2 1.5 2.8-2.7-1.9-1.6z" fill="#f70"/>
<path d="M464 229.1l2 1.9 2.8-2.4-1.9-2.2z" fill="#f80"/>
<path d="M465.7 230.7l2 2.4 2.9-2-2-2.8z" fill="#f90"/>
<path d="M467.5 232.9l1.9.4 2.9-2.6-1.9.1z" fill="#ea0"/>
<path d="M469.2 233.1l1.9.2 2.8-3.3-1.8.6z" fill="#c90"/>
<path d="M471 233.2l1.8-.7 2.9-3.2-1.9.6z" fill="#ea0"/>
<path d="M472.7 232.4l1.8-.9 2.9-2.4-1.9.1z" fill="#e90"/>
<path d="M474.4 231.4l1.8-.5 2.9-1.9-1.8 0z" fill="#e80"/>
<path d="M476.1 230.8l1.8 0 3-2.1-1.9.2z" fill="#e80"/>
<path d="M477.8 230.6l1.9-.1 2.9-2-1.9.1z" fill="#e70"/>
<path d="M479.5 230.4l1.9-.3 2.9-2.1-1.8.4z" fill="#e60"/>
<path d="M481.3 230l1.8-.6 2.9-2.2-1.8.7z" fill="#e50"/>
<path d="M483 229.4l1.8-.9 2.9-2.2-1.8.8z" fill="#e40"/>
<path d="M484.7 228.4l1.8-.4 3-2.1-1.9.3z" fill="#e30"/>
<path d="M486.4 227.8l1.9.7 2.9-2.3-1.9-.4z" fill="#f20"/>
<path d="M488.1 228.3l2 1 2.8-2.8-1.9-.5z" fill="#f30"/>
<path d="M489.9 229.1l1.9.6 2.8-3-1.9-.4z" fill="#f20"/>
<path d="M491.6 229.6l1.9.3 2.8-2.9-1.9-.5z" fill="#e20"/>
<path d="M493.3 229.7l1.9.7 2.9-2.4-1.9-1.2z" fill="#f30"/>
<path class="ed" d="M415.2 237.8l1.7-10.9 1.7-1 1.8-.6 1.7-.4 1.7-.4 1.7-.2 1.7-.1 1.8.1 1.7-.1 1.7-.3 1.7.1 1.7.2 1.8.1 1.7 0 1.7-.1 1.7 0 1.8-.3 1.7-.2 1.7.1 1.7.3 1.7.1 1.8-.2 1.7-.1 1.7 0 1.7.1 1.7.2 1.8.2 1.7.2 1.7.7 1.7 1.4 1.7 1.9 1.8 2.4 1.7-.2 1.7-.7 1.7-.6 1.8-.2 1.7-.2 1.7-.2 1.7-.3 1.7-.4 1.8-.9 1.7-.8 1.7-.4 1.7.2 1.7.3 1.8.2 1.7.3 1.7 1"/>
<path d="M410.1 237l1.8-8.7 2.6-1.2-1.8 9.7z" fill="#5c7"/>
<path d="M411.6 228.7l1.7-1 3.1-.9-1.7.4z" fill="#a70"/>
<path d="M413.4 227.8l1.7-.5 3.1-.8-1.8.3z" fill="#970"/>
<path d="M415.1 227.3l1.7-.1 3.1-1.2-1.8.5z" fill="#970"/>
<path d="M416.8 227.1l1.8.1 3-1.7-1.8.4z" fill="#b80"/>
<path d="M418.5 227l1.9.2 2.9-1.5-1.8-.3z" fill="#d90"/>
<path d="M420.2 227l1.9.3 2.9-1.5-1.8-.3z" fill="#d90"/>
<path d="M422 227.1l1.8.4 3-1.8-1.9-.1z" fill="#d90"/>
<path d="M423.7 227.3l1.8 0 3-1.6-1.9-.2z" fill="#b80"/>
<path d="M425.4 227.1l1.8-.4 3-1.1-1.8 0z" fill="#970"/>
<path d="M427.1 226.6l1.8 0 3-1.1-1.8-.1z" fill="#960"/>
<path d="M428.8 226.4l1.9.6 2.9-1.4-1.8-.3z" fill="#e90"/>
<path d="M430.6 226.8l1.8.6 3-1.5-1.9-.5z" fill="#fb0"/>
<path d="M432.3 227.2l1.9.5 2.9-1.8-1.9-.2z" fill="#ea0"/>
<path d="M434 227.5l1.9.1 2.9-2-1.9.1z" fill="#b80"/>
<path d="M435.7 227.5l1.8-.3 3-1.5-1.8-.2z" fill="#b70"/>
<path d="M437.4 227l1.8-.1 3-1.2-1.8-.2z" fill="#960"/>
<path d="M439.2 226.7l1.8.3 3-1.5-1.8 0z" fill="#b60"/>
<path d="M440.9 226.8l1.9.5 2.9-1.7-1.9-.3z" fill="#e80"/>
<path d="M442.6 227.1l1.9.3 2.9-1.6-1.9-.4z" fill="#d70"/>
<path d="M444.3 227.2l1.9.1 2.9-1.6-1.8-.1z" fill="#b60"/>
<path d="M446.1 227.2l1.8.3 2.9-2-1.8 0z" fill="#c60"/>
<path d="M447.8 227.3l1.9.4 2.9-2.4-1.9 0z" fill="#c60"/>
<path d="M449.5 227.5l1.9.3 2.9-2.7-1.9 0z" fill="#c50"/>
<path d="M451.2 227.7l1.9.5 2.9-2.9-1.9-.4z" fill="#f70"/>
<path d="M453 228.1l1.9.4 2.8-2.7-1.9-.6z" fill="#f70"/>
<path d="M454.7 228.4l1.9.4 2.8-2.7-1.9-.5z" fill="#e60"/>
<path d="M456.4 228.6l1.9.7 2.9-2.7-2-.7z" fill="#f70"/>
<path d="M458.1 229.1l1.9.8 2.9-2.3-1.9-1.2z" fill="#f80"/>
<path d="M459.8 229.7l1.9 1 2.9-1.7-1.9-1.6z" fill="#f90"/>
<path d="M461.5 230.4l2 1.7 2.8-1.3-1.9-2.1z" fill="#f90"/>
<path d="M463.3 231.8l1.9 2.1 2.9-1-2-2.5z" fill="#e90"/>
<path d="M465 233.6l1.7-.2 3.1-.4-1.8-.4z" fill="#970"/>
<path d="M466.7 233.4l1.7-.5 3.1.1-1.7-.1z" fill="#970"/>
<path d="M468.4 233l1.8-.6 3-.2-1.8 1z" fill="#ea0"/>
<path d="M470.1 232.6l1.8-.4 3-1-1.7 1.2z" fill="#ea0"/>
<path d="M471.9 232.2l1.8 0 2.9-1.6-1.7.5z" fill="#e90"/>
<path d="M473.6 232.1l1.8.1 3-1.8-1.9 0z" fill="#e80"/>
<path d="M475.3 232.1l1.8-.2 3-1.7-1.8.1z" fill="#e70"/>
<path d="M477 231.8l1.9-.2 2.9-1.9-1.8.3z" fill="#e70"/>
<path d="M478.8 231.5l1.8-.1 2.9-2.4-1.8.6z" fill="#e60"/>
<path d="M480.5 231.3l1.9-.3 2.8-2.9-1.8.8z" fill="#e50"/>
<path d="M482.2 230.9l1.9-.1 2.8-3.2-1.8.4z" fill="#e40"/>
<path d="M483.9 230.7l1.9.4 2.9-3.1-1.9-.5z" fill="#f30"/>
<path d="M485.6 230.9l2 .5 2.8-2.5-1.9-1z" fill="#f40"/>
<path d="M487.4 231.2l1.9.4 2.8-2.2-1.9-.7z" fill="#f40"/>
<path d="M489.1 231.4l1.9.6 2.9-2.5-1.9-.3z" fill="#f40"/>
<path d="M490.8 231.9l1.9 1 2.9-2.9-1.9-.7z" fill="#f40"/>
<path class="ed" d="M412.7 236.5l1.7-9.2 1.7-.4 1.8-.3 1.7-.5 1.7-.5 1.7.1 1.7.1 1.8 0 1.7 0 1.7-.1 1.7-.1 1.8.1 1.7.2 1.7 0 1.7-.1 1.7 0 1.8 0 1.7-.2 1.7.1 1.7.2 1.7-.1 1.8-.2 1.7-.2 1.7-.2 1.7.3 1.7.4 1.8.3 1.7.5 1.7 1 1.7 1.3 1.7 1.7 1.8 2.1 1.7.2 1.7 0 1.7-.7 1.7-1 1.8-.6 1.7-.2 1.7-.2 1.7-.4 1.8-.7 1.7-.9 1.7-.6 1.7.5 1.7.8 1.8.5 1.7.1 1.7.5"/>
<path d="M407.5 235.4l1.9-7.1 2.7 0-1.9 8.7z" fill="#7c6"/>
<path d="M409.1 228.7l1.7-.5 3.1-.6-1.7 1.1z" fill="#970"/>
<path d="M410.8 228.3l1.8-.1 3.1-1.1-1.8.5z" fill="#970"/>
<path d="M412.6 228.1l1.8.1 3-1.3-1.8.1z" fill="#c80"/>
<path d="M414.3 228.1l1.8.2 3-1.4-1.8-.1z" fill="#c90"/>
<path d="M416 228.1l1.9.3 2.9-1.6-1.8-.1z" fill="#c90"/>
<path d="M417.7 228.2l1.9.5 2.9-1.8-1.8-.3z" fill="#ea0"/>
<path d="M419.5 228.5l1.8.1 3-1.4-1.9-.5z" fill="#d90"/>
<path d="M421.2 228.5l1.8 0 3-1.6-1.8.1z" fill="#b80"/>
<path d="M422.9 228.4l1.9.3 2.9-2.3-1.8.4z" fill="#b80"/>
<path d="M424.6 228.6l1.9.6 2.9-2.9-1.9-.1z" fill="#ea0"/>
<path d="M426.4 229.1l1.9.3 2.8-2.8-1.9-.5z" fill="#fa0"/>
<path d="M428.1 229.3l1.8-.4 3-1.9-2-.5z" fill="#c90"/>
<path d="M429.8 228.8l1.8 0 3-1.5-1.9-.4z" fill="#d90"/>
<path d="M431.5 228.6l1.9.5 2.9-1.8-1.8-.1z" fill="#d90"/>
<path d="M433.2 228.9l1.9.1 2.9-2.2-1.8.3z" fill="#b70"/>
<path d="M435 228.9l1.8.1 2.9-2.5-1.8.2z" fill="#b70"/>
<path d="M436.7 228.9l1.9.3 2.8-2.5-1.8-.3z" fill="#e80"/>
<path d="M438.4 229l1.9.2 2.9-2.3-1.9-.4z" fill="#e80"/>
<path d="M440.1 229l1.9.1 2.9-2.1-1.9-.2z" fill="#d70"/>
<path d="M441.8 229l1.9-.1 2.9-1.9-1.9-.1z" fill="#b60"/>
<path d="M443.6 228.8l1.8.2 2.9-1.9-1.8-.3z" fill="#d70"/>
<path d="M445.3 228.8l1.9.6 2.9-2.1-1.9-.4z" fill="#f80"/>
<path d="M447 229.3l1.9.5 2.9-2.4-1.9-.3z" fill="#f80"/>
<path d="M448.7 229.6l1.9.6 2.9-2.4-1.9-.5z" fill="#f90"/>
<path d="M450.4 230l1.9.6 2.9-2.5-1.9-.5z" fill="#f90"/>
<path d="M452.2 230.4l1.9.2 2.8-2.2-1.9-.5z" fill="#d70"/>
<path d="M453.9 230.5l1.8-.1 3-1.4-1.9-.8z" fill="#b60"/>
<path d="M455.6 230.2l1.8.3 3-.9-1.9-.8z" fill="#950"/>
<path d="M457.3 230.2l1.9 1.4 2.9-1.2-1.9-1z" fill="#c60"/>
<path d="M459 231.2l2 2.1 2.8-1.4-1.9-1.8z" fill="#e80"/>
<path d="M460.7 233l2 2.1 2.9-1.5-2-2z" fill="#fa0"/>
<path d="M462.5 234.9l1.8.1 3-1.8-1.9.1z" fill="#b80"/>
<path d="M464.2 234.9l1.9.1 2.9-2.2-1.9.3z" fill="#c80"/>
<path d="M465.9 234.8l1.9.2 2.9-2.6-1.9.3z" fill="#ea0"/>
<path d="M467.7 234.9l1.8 0 2.9-3-1.9.3z" fill="#e90"/>
<path d="M469.4 234.7l1.9.1 2.8-2.9-1.9-.1z" fill="#e90"/>
<path d="M471.1 234.6l1.9.2 2.8-3-1.8-.1z" fill="#e80"/>
<path d="M472.8 234.7l1.9-.1 2.9-3.1-1.9.2z" fill="#e80"/>
<path d="M474.6 234.5l1.8-.5 2.9-2.8-1.9.2z" fill="#e80"/>
<path d="M476.3 233.9l1.9-.1 2.8-2.8-1.9.1z" fill="#e70"/>
<path d="M478 233.7l1.9.1 2.8-3.2-1.8.3z" fill="#e60"/>
<path d="M479.7 233.7l1.9 0 2.8-3.4-1.8.2z" fill="#e50"/>
<path d="M481.4 233.6l1.9.2 2.9-3.2-1.9-.4z" fill="#e50"/>
<path d="M483.2 233.7l1.8-.1 2.9-2.7-1.9-.4z" fill="#e50"/>
<path d="M484.9 233.5l1.8-.1 2.9-2.2-1.9-.4z" fill="#e40"/>
<path d="M486.6 233.3l1.9.5 2.9-2.1-1.9-.7z" fill="#f50"/>
<path d="M488.3 233.6l1.9 1 2.9-2.1-1.9-1z" fill="#f50"/>
<path class="ed" d="M410.2 236.7l1.7-8.1 1.7-.9 1.8-.5 1.7-.2 1.7 0 1.7-.1 1.7.1 1.8.2 1.7-.2 1.7-.5 1.7-.1 1.7.4 1.8.3 1.7.3 1.7-.1 1.7-.4 1.8-.2 1.7.1 1.7.2 1.7.2 1.7-.1 1.8.1 1.7.2 1.7.2 1.7.3 1.7.3 1.8.3 1.7.5 1.7.6 1.7.8 1.7 1.4 1.8 1.8 1.7-.3 1.7-.3 1.7-.5 1.8-.4 1.7-.1 1.7 0 1.7-.3 1.7-.3 1.8-.2 1.7-.4 1.7-.3 1.7.3 1.7.3 1.8.2 1.7.5 1.7.8"/>
<path d="M405 234.7l1.9-5.9 2.7-.4-1.9 7.1z" fill="#8c4"/>
<path d="M406.6 229.2l1.8-.1 3-.9-1.7.3z" fill="#b80"/>
<path d="M408.3 229l1.8-.2 3.1-.8-1.8.1z" fill="#970"/>
<path d="M410.1 228.7l1.7.1 3.1-.8-1.8-.2z" fill="#b80"/>
<path d="M411.8 228.6l1.8.5 3-1.1-1.8-.2z" fill="#c90"/>
<path d="M413.5 228.9l1.8.1 3-.9-1.8-.3z" fill="#b80"/>
<path d="M415.2 228.9l1.8-.1 3-.4-1.8-.5z" fill="#970"/>
<path d="M416.9 228.7l1.8.4 3.1-.8-1.8 0z" fill="#970"/>
<path d="M418.7 228.9l1.8.5 3-1.1-1.8-.1z" fill="#970"/>
<path d="M420.4 229.2l1.8.5 3-1.3-1.8-.3z" fill="#d90"/>
<path d="M422.1 229.5l1.9.4 2.9-1-1.8-.7z" fill="#ea0"/>
<path d="M423.8 229.7l1.8.3 3-.9-1.8-.4z" fill="#c80"/>
<path d="M425.6 229.9l1.8.2 3-1.5-1.8.4z" fill="#970"/>
<path d="M427.3 229.9l1.9.4 2.9-1.9-1.9 0z" fill="#c80"/>
<path d="M429 230.1l1.9.4 2.9-1.8-1.9-.4z" fill="#fa0"/>
<path d="M430.7 230.3l1.9.1 2.9-1.7-1.8-.2z" fill="#b80"/>
<path d="M432.4 230.3l1.9.1 2.9-1.8-1.8-.1z" fill="#c80"/>
<path d="M434.2 230.3l1.9.7 2.9-2.2-1.9-.3z" fill="#fb0"/>
<path d="M435.9 230.8l1.9.5 2.9-2.5-1.9-.2z" fill="#f90"/>
<path d="M437.6 231.2l1.9 0 2.9-2.5-1.9-.1z" fill="#c70"/>
<path d="M439.4 231.1l1.8 0 2.9-2.6-1.9.1z" fill="#b70"/>
<path d="M441.1 231l1.9.2 2.8-2.6-1.9-.2z" fill="#d70"/>
<path d="M442.8 231l1.9.4 2.9-2.3-2-.7z" fill="#f90"/>
<path d="M444.5 231.3l1.9.4 2.9-2.3-1.9-.5z" fill="#f90"/>
<path d="M446.2 231.5l1.9.2 2.9-1.9-1.9-.6z" fill="#e80"/>
<path d="M447.9 231.5l1.9.2 2.9-1.5-1.9-.6z" fill="#d70"/>
<path d="M449.6 231.5l1.9.7 2.9-1.9-1.8-.3z" fill="#c70"/>
<path d="M451.4 232l1.9 1 2.8-3-1.8.1z" fill="#e70"/>
<path d="M453.1 232.8l1.9.9 2.9-3.6-1.9-.2z" fill="#d70"/>
<path d="M454.8 233.6l2 .6 2.8-3-1.9-1.2z" fill="#e80"/>
<path d="M456.5 234l2 .9 2.8-1.9-1.9-2z" fill="#fa0"/>
<path d="M458.2 234.6l2 1.5 2.9-1.2-2-2.1z" fill="#fa0"/>
<path d="M460 235.9l1.8.4 3-1.6-1.9-.1z" fill="#d90"/>
<path d="M461.7 236.2l1.8-.1 3-1.5-1.8-.1z" fill="#c80"/>
<path d="M463.4 236l1.8-.2 3-1.1-1.8-.2z" fill="#ea0"/>
<path d="M465.1 235.7l1.9.2 2.9-1.4-1.8 0z" fill="#ea0"/>
<path d="M466.9 235.8l1.8 0 3-1.4-1.9-.1z" fill="#e90"/>
<path d="M468.6 235.6l1.7-.3 3.1-.8-1.8-.2z" fill="#e90"/>
<path d="M470.3 235.2l1.8-.1 3-.8-1.7.1z" fill="#e80"/>
<path d="M472 235l1.9.4 2.9-1.8-1.7.6z" fill="#e80"/>
<path d="M473.7 235.2l1.9.5 2.9-2.3-1.8.1z" fill="#e70"/>
<path d="M475.5 235.5l1.9.3 2.8-2.4-1.8-.2z" fill="#f80"/>
<path d="M477.2 235.7l1.9.3 2.9-2.7-1.9-.1z" fill="#f70"/>
<path d="M478.9 235.8l1.9.2 2.9-2.6-1.9-.2z" fill="#e60"/>
<path d="M480.7 235.9l1.8.1 2.9-2.8-1.9 0z" fill="#e60"/>
<path d="M482.4 235.9l1.9.1 2.8-3-1.9 0z" fill="#e60"/>
<path d="M484.1 235.9l1.9.1 2.8-2.6-1.9-.5z" fill="#e50"/>
<path d="M485.8 235.8l1.9.8 2.9-2.3-1.9-1.1z" fill="#f70"/>
<path class="ed" d="M407.7 235.2l1.7-6.6 1.7-.4 1.8-.2 1.7 0 1.7 0 1.7.1 1.7.3 1.8 0 1.7-.1 1.7.2 1.7.4 1.8.2 1.7-.4 1.7-.2 1.7.3 1.7 0 1.8-.1 1.7.2 1.7 0 1.7 0 1.7-.2 1.8 0 1.7.5 1.7.3 1.7.4 1.7.4 1.8.1 1.7-.2 1.7.1 1.7 1 1.7 1.8 1.8 1.7 1.7 0 1.7-.1 1.7 0 1.7-.1 1.8-.1 1.7 0 1.7-.2 1.7-.6 1.8-.2 1.7 0 1.7 0 1.7 0 1.7-.2 1.8-.1 1.7.3 1.7.8"/>
<path d="M402.5 233.7l1.9-4.4 2.7-.4-1.9 5.8z" fill="#ab2"/>
<path d="M404.1 229.7l1.8.2 3-1-1.7.1z" fill="#c80"/>
<path d="M405.8 229.8l1.9.5 2.9-1.7-1.7.1z" fill="#d90"/>
<path d="M407.6 230.1l1.8.1 3-1.7-1.9-.1z" fill="#c80"/>
<path d="M409.3 230l1.8.1 3-1.3-1.9-.5z" fill="#c90"/>
<path d="M411 229.9l1.9.6 2.9-1.7-1.8-.2z" fill="#ea0"/>
<path d="M412.7 230.3l1.9.7 2.9-2.4-1.8 0z" fill="#ea0"/>
<path d="M414.5 230.9l1.9.2 2.8-2.3-1.9-.4z" fill="#d90"/>
<path d="M416.2 230.9l1.8-.1 3-1.8-1.9-.4z" fill="#c80"/>
<path d="M417.9 230.6l1.9.3 2.9-1.5-1.9-.5z" fill="#ea0"/>
<path d="M419.6 230.7l1.9.8 2.9-1.9-1.9-.4z" fill="#fc0"/>
<path d="M421.3 231.3l1.9.4 2.9-2-1.8-.3z" fill="#d90"/>
<path d="M423.1 231.5l1.8-.1 3-1.7-1.9-.2z" fill="#b80"/>
<path d="M424.8 231.3l1.8 0 3-1.4-1.9-.3z" fill="#c80"/>
<path d="M426.5 231.1l1.8.1 3-1-1.8-.4z" fill="#b80"/>
<path d="M428.2 231.1l1.8.2 3-1.2-1.8-.1z" fill="#960"/>
<path d="M429.9 231.1l1.9.7 2.9-1.7-1.8-.2z" fill="#d80"/>
<path d="M431.7 231.6l1.9.8 2.9-1.8-1.9-.7z" fill="#fb0"/>
<path d="M433.4 232.2l1.9.5 2.9-1.7-1.9-.6z" fill="#fa0"/>
<path d="M435.1 232.6l1.9.2 2.9-2-1.9 0z" fill="#b70"/>
<path d="M436.8 232.6l1.9-.1 2.9-1.7-1.8-.1z" fill="#a70"/>
<path d="M438.6 232.3l1.8-.2 2.9-1.3-1.8-.2z" fill="#960"/>
<path d="M440.3 232l1.7-.1 3.1-.8-1.9-.4z" fill="#950"/>
<path d="M442 231.8l1.8.2 3-.6-1.8-.5z" fill="#950"/>
<path d="M443.7 231.8l1.8.5 3-.9-1.8-.2z" fill="#950"/>
<path d="M445.4 232.1l1.9.7 2.9-1.4-1.8-.2z" fill="#950"/>
<path d="M447.1 232.6l1.9.9 3-1.7-1.9-.6z" fill="#e70"/>
<path d="M448.9 233.2l1.9 1 2.9-1.5-1.9-1.1z" fill="#f80"/>
<path d="M450.6 233.9l1.9.8 2.9-1.3-1.9-1z" fill="#d80"/>
<path d="M452.3 234.4l1.9.7 2.9-1.2-1.9-.7z" fill="#960"/>
<path d="M454 234.8l1.9 1.1 2.9-1.3-1.8-.9z" fill="#c80"/>
<path d="M455.7 235.6l2 1.6 2.9-1.3-2-1.6z" fill="#fa0"/>
<path d="M457.5 236.9l1.9.7 2.9-1.6-1.9-.4z" fill="#fc0"/>
<path d="M459.2 237.5l1.9.4 2.9-2.1-1.9 0z" fill="#d90"/>
<path d="M460.9 237.7l1.9-.2 2.9-2-1.8.1z" fill="#ea0"/>
<path d="M462.7 237.4l1.7-.5 3-1.3-1.8-.2z" fill="#ea0"/>
<path d="M464.4 236.8l1.8.1 3-1.5-1.9.1z" fill="#e90"/>
<path d="M466.1 236.7l1.9.3 2.9-2-1.8.3z" fill="#e90"/>
<path d="M467.8 236.9l1.9.3 2.9-2.4-1.9.1z" fill="#e80"/>
<path d="M469.5 237.1l1.9.3 2.9-2.4-1.9-.3z" fill="#f90"/>
<path d="M471.3 237.3l1.8.2 2.9-2.2-1.9-.5z" fill="#f90"/>
<path d="M473 237.3l1.8.1 3-1.9-1.9-.4z" fill="#e80"/>
<path d="M474.7 237.2l1.8.1 3-1.7-1.9-.3z" fill="#e70"/>
<path d="M476.4 237.1l1.9.4 2.9-1.9-1.9-.2z" fill="#e70"/>
<path d="M478.1 237.3l1.9.7 2.9-2.4-1.9-.2z" fill="#e70"/>
<path d="M479.9 237.8l1.9.4 2.8-2.6-1.9-.2z" fill="#e70"/>
<path d="M481.6 238.1l1.9.4 2.8-2.9-1.8-.2z" fill="#e70"/>
<path d="M483.3 238.3l1.9.5 2.9-2.6-1.9-.8z" fill="#f70"/>
<path class="ed" d="M405.2 234.4l1.7-5.3 1.7-.1 1.8-.3 1.7-.1 1.7.2 1.7 0 1.7-.1 1.8.2 1.7.2 1.7.3 1.7.3 1.7.1 1.8 0 1.7.2 1.7.2 1.7 0 1.8 0 1.7.5 1.7.4 1.7-.2 1.7 0 1.8 0 1.7.2 1.7.3 1.7 0 1.7.1 1.8.4 1.7.8 1.7.7 1.7.5 1.7.7 1.8 1.3 1.7.2 1.7-.2 1.7-.3 1.8.1 1.7-.2 1.7-.4 1.7-.1 1.7.1 1.8.3 1.7.2 1.7.1 1.7 0 1.7 0 1.8 0 1.7 0 1.7.6"/>
<path d="M400 233.3l1.8-3.1 2.8-.8-1.8 4.4z" fill="#aa1"/>
<path d="M401.6 230.6l1.8.1 3-1-1.8-.3z" fill="#c80"/>
<path d="M403.3 230.5l1.9.3 3-.8-1.9-.5z" fill="#d90"/>
<path d="M405.1 230.6l1.8.2 3-.9-1.8 0z" fill="#970"/>
<path d="M406.8 230.7l1.8.5 3-1.4-1.8-.1z" fill="#c80"/>
<path d="M408.5 231l1.9.9 2.9-1.8-1.9-.5z" fill="#fd0"/>
<path d="M410.2 231.7l1.9.8 2.9-1.8-1.9-.8z" fill="#fd0"/>
<path d="M412 232.3l1.8.4 3-2-1.9-.2z" fill="#d90"/>
<path d="M413.7 232.5l1.8 0 3-2.1-1.9.2z" fill="#a70"/>
<path d="M415.4 232.4l1.8-.2 3-1.6-1.9-.3z" fill="#b80"/>
<path d="M417.1 232.1l1.8-.1 3-.8-1.9-.8z" fill="#c80"/>
<path d="M418.8 231.8l1.8-.1 3-.3-1.7-.3z" fill="#960"/>
<path d="M420.6 231.6l1.7.5 3.1-1-1.8.2z" fill="#960"/>
<path d="M422.3 231.9l1.9 1.2 2.9-2.1-1.9-.1z" fill="#fb0"/>
<path d="M424 232.9l1.9 1.1 2.9-3.1-1.9-.1z" fill="#fb0"/>
<path d="M425.8 233.9l1.9.5 2.8-3.5-1.9-.2z" fill="#d90"/>
<path d="M427.5 234.3l1.9.2 2.8-3.1-1.9-.6z" fill="#e90"/>
<path d="M429.2 234.4l1.9-.1 2.9-2.3-2-.7z" fill="#ea0"/>
<path d="M430.9 234.2l1.8-.1 3-1.7-1.9-.5z" fill="#c80"/>
<path d="M432.6 233.9l1.9.2 2.9-1.7-1.9-.2z" fill="#b70"/>
<path d="M434.3 233.9l1.9.7 2.9-2.5-1.8.1z" fill="#c80"/>
<path d="M436.1 234.4l1.9.4 2.8-3.1-1.9.3z" fill="#c70"/>
<path d="M437.8 234.7l1.9.2 2.8-3.3-1.9 0z" fill="#c70"/>
<path d="M439.5 234.8l1.9.3 2.8-3.5-1.8-.1z" fill="#d70"/>
<path d="M441.3 234.9l1.8.1 2.9-3.1-1.9-.4z" fill="#d70"/>
<path d="M443 234.9l1.8.1 2.9-2.6-1.9-.6z" fill="#e80"/>
<path d="M444.7 234.8l1.9.6 2.8-2.3-1.9-.8z" fill="#fa0"/>
<path d="M446.4 235.2l1.9.7 2.9-2.1-1.9-.9z" fill="#fb0"/>
<path d="M448.1 235.7l1.9.5 2.9-1.9-1.9-.7z" fill="#e80"/>
<path d="M449.8 235.9l1.9.7 2.9-1.8-1.9-.7z" fill="#d80"/>
<path d="M451.5 236.3l1.9 1.1 2.9-1.8-1.9-1z" fill="#fb0"/>
<path d="M453.2 237.1l2 1.4 2.9-1.6-2-1.6z" fill="#fa0"/>
<path d="M455 238.3l1.9.5 2.9-1.5-1.9-.7z" fill="#fc0"/>
<path d="M456.7 238.6l1.8.2 3-1.3-1.9-.4z" fill="#d90"/>
<path d="M458.4 238.7l1.8 0 3-1.6-1.8.3z" fill="#ea0"/>
<path d="M460.1 238.6l1.9.2 2.9-2.2-1.8.4z" fill="#ea0"/>
<path d="M461.9 238.6l1.9.6 2.8-2.7-1.8-.1z" fill="#fa0"/>
<path d="M463.6 239.1l1.9.5 2.9-3-1.9-.3z" fill="#fa0"/>
<path d="M465.3 239.5l1.9.1 2.9-2.8-1.9-.3z" fill="#e90"/>
<path d="M467 239.4l1.9 0 2.9-2.4-1.9-.3z" fill="#e90"/>
<path d="M468.8 239.3l1.8-.1 2.9-2.1-1.9-.2z" fill="#e90"/>
<path d="M470.5 239.1l1.8-.2 3-1.9-1.9 0z" fill="#e80"/>
<path d="M472.2 238.7l1.9.1 2.9-1.9-1.9 0z" fill="#e80"/>
<path d="M473.9 238.6l1.9.7 2.9-2.2-1.9-.4z" fill="#f80"/>
<path d="M475.6 239.1l1.9.8 2.9-2.3-1.9-.7z" fill="#f90"/>
<path d="M477.4 239.8l1.9.3 2.8-2.2-1.9-.5z" fill="#e80"/>
<path d="M479.1 239.9l1.9.3 2.9-2.1-1.9-.4z" fill="#e80"/>
<path d="M480.8 240l1.9.7 2.9-2.3-1.9-.5z" fill="#f80"/>
<path class="ed" d="M402.7 233.5l1.7-3.9 1.7.1 1.8.4 1.7-.1 1.7-.2 1.7.4 1.7.5 1.8.1 1.7-.2 1.7.1 1.7.5 1.8.2 1.7-.2 1.7-.1 1.7-.1 1.7.1 1.8.4 1.7.7 1.7.3 1.7 0 1.7-.3 1.8-.3 1.7-.1 1.7 0 1.7.3 1.7.5 1.8.6 1.7.7 1.7.5 1.7.4 1.7.8 1.8 1.3 1.7.5 1.7.2 1.7-.4 1.7-.5 1.8-.1 1.7.1 1.7.2 1.7.2 1.8.1 1.7-.1 1.7-.1 1.7.2 1.7.5 1.8.3 1.7.2 1.7.3"/>
<path d="M397.4 232l1.9-1.3 2.9-.3-1.9 3z" fill="#b90"/>
<path d="M399.1 230.9l1.8.3 3-.8-1.7 0z" fill="#b80"/>
<path d="M400.8 231.1l1.9.7 3-1.2-1.9-.4z" fill="#fa0"/>
<path d="M402.6 231.6l1.9.7 2.9-1.7-1.9-.3z" fill="#ea0"/>
<path d="M404.3 232.1l1.9.4 2.9-1.6-1.9-.5z" fill="#fb0"/>
<path d="M406 232.3l1.9.4 2.9-1.1-1.9-.9z" fill="#fb0"/>
<path d="M407.7 232.5l1.8.2 3-.5-1.8-.8z" fill="#c90"/>
<path d="M409.4 232.6l1.8.1 3.1-.3-1.8-.4z" fill="#970"/>
<path d="M411.2 232.6l1.7.3 3.1-.7-1.7.1z" fill="#970"/>
<path d="M412.9 232.8l1.8.3 3-1.2-1.8.2z" fill="#960"/>
<path d="M414.6 233l1.8 0 3-1.3-1.8.1z" fill="#960"/>
<path d="M416.3 232.9l1.9.1 2.9-1.5-1.8.1z" fill="#a70"/>
<path d="M418.1 232.8l1.9.9 2.9-1.9-1.9-.4z" fill="#fb0"/>
<path d="M419.8 233.4l1.9.9 2.9-1.5-1.9-1.2z" fill="#fa0"/>
<path d="M421.5 234.1l1.8.2 3-.6-1.9-1.2z" fill="#d90"/>
<path d="M423.2 234.1l1.8.2 3-.2-1.8-.6z" fill="#960"/>
<path d="M424.9 234.1l1.8.8 3.1-.7-1.8-.2z" fill="#960"/>
<path d="M426.7 234.7l1.8.8 3-1.5-1.8 0z" fill="#b80"/>
<path d="M428.4 235.3l1.9.5 2.9-2.1-1.9.1z" fill="#b80"/>
<path d="M430.1 235.7l1.9.4 2.9-2.4-1.9-.2z" fill="#d90"/>
<path d="M431.8 235.9l1.9.3 2.9-2-1.9-.6z" fill="#fa0"/>
<path d="M433.6 236l1.8 0 2.9-1.5-1.8-.5z" fill="#b70"/>
<path d="M435.3 235.8l1.8.3 3-1.5-1.9-.3z" fill="#b70"/>
<path d="M437 235.9l1.9.7 2.9-1.9-1.9-.3z" fill="#e90"/>
<path d="M438.7 236.5l1.9.5 2.9-2.4-1.9-.1z" fill="#c80"/>
<path d="M440.4 236.8l1.9.1 2.9-2.3-1.9-.1z" fill="#b70"/>
<path d="M442.2 236.7l1.8.3 2.9-2-1.9-.6z" fill="#e80"/>
<path d="M443.9 236.8l1.9.6 2.9-1.9-1.9-.7z" fill="#f90"/>
<path d="M445.6 237.2l1.9.5 2.9-1.9-1.9-.5z" fill="#d80"/>
<path d="M447.3 237.5l1.9.4 2.9-1.7-1.9-.6z" fill="#c80"/>
<path d="M449 237.7l1.9.8 2.9-1.5-1.9-1z" fill="#fa0"/>
<path d="M450.7 238.2l1.9 1.1 3-1.1-2-1.4z" fill="#f90"/>
<path d="M452.5 239l1.9.9 2.9-1.4-1.9-.5z" fill="#fb0"/>
<path d="M454.2 239.7l1.9.5 2.9-1.7-1.9-.2z" fill="#d90"/>
<path d="M455.9 240l1.9.6 2.9-2.2-1.9-.1z" fill="#ea0"/>
<path d="M457.6 240.4l2 .7 2.8-2.7-1.9-.2z" fill="#fb0"/>
<path d="M459.4 240.9l1.9.4 2.8-2.5-1.9-.6z" fill="#fb0"/>
<path d="M461.1 241.1l1.9.3 2.9-2.2-1.9-.5z" fill="#fb0"/>
<path d="M462.8 241.3l1.9.3 2.9-2.4-1.9-.2z" fill="#ea0"/>
<path d="M464.5 241.5l1.9.2 2.9-2.7-1.9 0z" fill="#ea0"/>
<path d="M466.3 241.6l1.9.1 2.8-2.9-1.9.1z" fill="#e90"/>
<path d="M468 241.5l1.9 0 2.8-3-1.8.2z" fill="#e90"/>
<path d="M469.7 241.3l1.9.2 2.8-3.1-1.8-.1z" fill="#e80"/>
<path d="M471.4 241.3l1.9.5 2.9-2.9-1.9-.7z" fill="#fa0"/>
<path d="M473.1 241.7l2 .6 2.8-2.8-1.9-.7z" fill="#fb0"/>
<path d="M474.9 242.2l1.9.2 2.8-2.8-1.9-.2z" fill="#e90"/>
<path d="M476.6 242.2l1.9.2 2.8-2.6-1.8-.3z" fill="#e80"/>
<path d="M478.3 242.2l1.9.7 2.9-2.6-1.9-.7z" fill="#fa0"/>
<path class="ed" d="M400.2 233.1l1.7-2.6 1.7 0 1.8.1 1.7 0 1.7.4 1.7.6 1.7.6 1.8.2 1.7-.2 1.7-.2 1.7-.2 1.7-.2 1.8.3 1.7.9 1.7.9 1.7.4 1.8.1 1.7-.2 1.7-.2 1.7.1 1.7.4 1.8.2 1.7.1 1.7.2 1.7-.1 1.7 0 1.8.4 1.7.5 1.7.3 1.7.4 1.7.8 1.8 1.1 1.7.4 1.7 0 1.7-.1 1.8 0 1.7.4 1.7.4 1.7 0 1.7-.1 1.8-.3 1.7-.3 1.7-.1 1.7.5 1.7.6 1.8.2 1.7.1 1.7.5"/>
<path d="M394.9 231.4l1.8.4 3-1-1.8 1.4z" fill="#970"/>
<path d="M396.6 231.7l1.9.6 2.9-1.3-1.8-.3z" fill="#e90"/>
<path d="M398.3 232.1l1.9.6 3-1.1-1.9-.8z" fill="#fb0"/>
<path d="M400.1 232.5l1.8.6 3-1.1-1.9-.7z" fill="#ea0"/>
<path d="M401.8 232.8l1.8.6 3-1.2-1.8-.4z" fill="#d90"/>
<path d="M403.5 233.2l1.9.4 2.9-1.2-1.8-.4z" fill="#d90"/>
<path d="M405.2 233.5l1.9.4 2.9-1.4-1.8-.3z" fill="#c80"/>
<path d="M407 233.7l1.8.5 3-1.7-1.9-.2z" fill="#c80"/>
<path d="M408.7 234l1.9.4 2.9-1.7-1.9-.4z" fill="#d90"/>
<path d="M410.4 234.2l1.9.3 2.9-1.7-1.9-.3z" fill="#c80"/>
<path d="M412.1 234.4l1.9.4 2.9-2.1-1.9-.1z" fill="#c80"/>
<path d="M413.8 234.6l1.9.5 2.9-2.4-1.9-.2z" fill="#d90"/>
<path d="M415.6 234.9l1.9.5 2.9-2.1-2-.8z" fill="#fc0"/>
<path d="M417.3 235.2l1.9.6 2.9-1.8-1.9-.9z" fill="#fd0"/>
<path d="M419 235.6l1.9.5 2.9-2.1-1.9-.2z" fill="#d90"/>
<path d="M420.7 236l1.9.4 2.9-2.4-1.9-.2z" fill="#d90"/>
<path d="M422.5 236.2l1.8.5 2.9-2.1-1.9-.7z" fill="#fc0"/>
<path d="M424.2 236.5l1.9.4 2.9-1.7-1.9-.8z" fill="#fc0"/>
<path d="M425.9 236.7l1.9.4 2.9-1.6-1.9-.5z" fill="#d90"/>
<path d="M427.6 236.9l1.9.5 2.9-1.7-1.9-.4z" fill="#d90"/>
<path d="M429.3 237.2l1.9.4 2.9-1.8-1.8-.3z" fill="#c80"/>
<path d="M431.1 237.5l1.8.4 2.9-2.3-1.8 0z" fill="#b80"/>
<path d="M432.8 237.8l1.9.4 2.9-2.5-1.9-.3z" fill="#d90"/>
<path d="M434.5 238.1l1.9.4 2.9-2.2-1.9-.7z" fill="#fc0"/>
<path d="M436.2 238.4l1.9.4 2.9-2.2-1.9-.5z" fill="#fa0"/>
<path d="M437.9 238.7l1.9.4 2.9-2.6-1.9-.1z" fill="#c80"/>
<path d="M439.7 239l1.9.3 2.8-2.7-1.9-.3z" fill="#d80"/>
<path d="M441.4 239.2l1.9.4 2.9-2.6-2-.6z" fill="#fa0"/>
<path d="M443.1 239.4l1.9.4 2.9-2.5-1.9-.5z" fill="#e90"/>
<path d="M444.8 239.7l1.9.4 2.9-2.6-1.9-.4z" fill="#e90"/>
<path d="M446.5 240l2 .5 2.8-2.4-1.9-.7z" fill="#fb0"/>
<path d="M448.3 240.3l1.9.5 2.9-1.8-2-1.1z" fill="#fc0"/>
<path d="M450 240.6l1.8.3 3-1.3-1.9-.9z" fill="#fb0"/>
<path d="M451.7 240.7l1.8.4 3-1.2-1.8-.5z" fill="#c80"/>
<path d="M453.4 240.8l1.9.5 2.9-1.1-1.8-.5z" fill="#ea0"/>
<path d="M455.1 241.1l1.9.5 2.9-.8-1.8-.8z" fill="#ea0"/>
<path d="M456.9 241.4l1.8.5 3-.9-1.8-.4z" fill="#ea0"/>
<path d="M458.6 241.7l1.8.6 3-1.2-1.8-.3z" fill="#ea0"/>
<path d="M460.3 242.1l1.8.5 3-1.3-1.8-.4z" fill="#ea0"/>
<path d="M462 242.4l1.9.4 2.9-1.4-1.8-.3z" fill="#ea0"/>
<path d="M463.7 242.6l1.9.5 2.9-1.8-1.8-.1z" fill="#ea0"/>
<path d="M465.5 242.9l1.9.4 2.9-2.2-1.9 0z" fill="#ea0"/>
<path d="M467.2 243.2l1.9.4 2.9-2.6-1.9-.1z" fill="#e90"/>
<path d="M468.9 243.4l1.9.4 2.9-2.4-1.9-.5z" fill="#fa0"/>
<path d="M470.6 243.6l1.9.5 2.9-2.2-1.9-.6z" fill="#fb0"/>
<path d="M472.4 243.9l1.9.6 2.8-2.5-1.9-.3z" fill="#e90"/>
<path d="M474.1 244.3l1.9.5 2.8-2.8-1.8-.2z" fill="#e90"/>
<path d="M475.8 244.7l1.9.4 2.9-2.6-1.9-.7z" fill="#fb0"/>
<path class="ed" d="M397.7 232l1.7-1.1 1.7.2 1.8.5 1.7.4 1.7.2 1.7.3 1.7.1 1.8 0 1.7.1 1.7.2 1.7-.1 1.8 0 1.7.6 1.7.7 1.7 0 1.7.1 1.8.5 1.7.5 1.7.4 1.7.2 1.7.1 1.8-.2 1.7.2 1.7.5 1.7.3 1.7-.1 1.8.1 1.7.4 1.7.3 1.7.2 1.7.6 1.8.8 1.7.7 1.7.2 1.7.4 1.7.5 1.8.2 1.7.2 1.7.1 1.7.1 1.8 0 1.7-.2 1.7 0 1.7.4 1.7.4 1.8.1 1.7 0 1.7.5"/>
<path class="ed" d="M395.2 231.4l1.7.3 1.7.4 1.8.3 1.7.4 1.7.4 1.7.2 1.7.2 1.8.3 1.7.2 1.7.2 1.7.2 1.7.3 1.8.4 1.7.3 1.7.4 1.7.2 1.8.3 1.7.2 1.7.2 1.7.3 1.7.3 1.8.3 1.7.2 1.7.4 1.7.3 1.7.2 1.8.2 1.7.3 1.7.2 1.7.3 1.7.4 1.8.3 1.7.1 1.7.2 1.7.3 1.8.3 1.7.3 1.7.3 1.7.3 1.7.3 1.8.2 1.7.3 1.7.2 1.7.2 1.7.3 1.8.4 1.7.3 1.7.3"/>
<text x="367.4" y="181.3" class="pl">f</text>
<text x="446.4" y="184.5" text-anchor="middle" class="tt">4.57 μM</text>
<text x="379.9" y="206.4" class="tm">×</text>
<text x="386.3" y="206.6" class="tk">10<tspan dy="-6.2" class="sup">-3</tspan></text>
<text transform="translate(376.6 233.4) rotate(-90)" text-anchor="middle" class="al">Abs</text>
<text transform="translate(398.3 300.5) rotate(9)" class="al">Wave no. [cm<tspan dy="-3.6" class="sup2">-1</tspan><tspan dy="3.6">]</tspan></text>
<text transform="translate(491.3 309.05) rotate(-27.5)" class="al">Spectrum no.</text>
</g>
</svg>
</body></html>
